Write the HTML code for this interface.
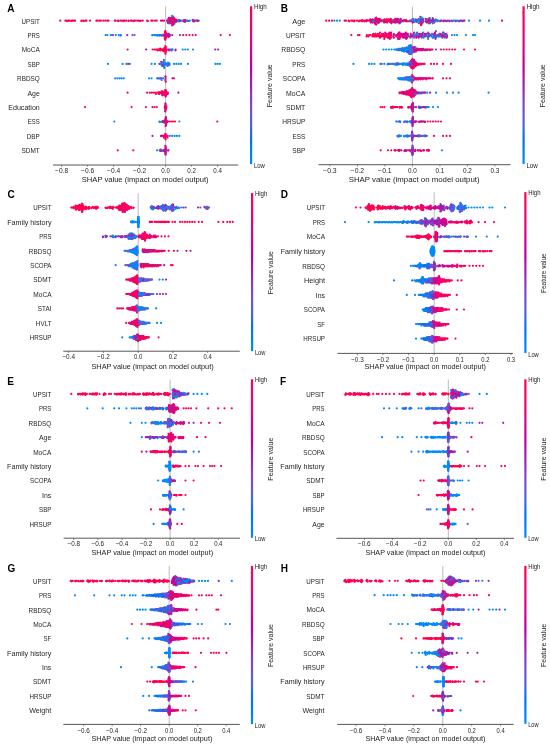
<!DOCTYPE html><html><head><meta charset="utf-8"><style>html,body{margin:0;padding:0;background:#fff;}svg{display:block;filter:blur(0.3px);} text{font-family:"Liberation Sans",sans-serif;} path{stroke-width:2.20px;stroke-linecap:round;fill:none;}</style></head><body>
<svg width="550" height="748" viewBox="0 0 550 748">
<defs><linearGradient id="cb" x1="0" y1="1" x2="0" y2="0">
<stop offset="0.000" stop-color="#008bfb"/>
<stop offset="0.050" stop-color="#0084f8"/>
<stop offset="0.100" stop-color="#007cf5"/>
<stop offset="0.150" stop-color="#0074f0"/>
<stop offset="0.200" stop-color="#266cea"/>
<stop offset="0.250" stop-color="#4c63e3"/>
<stop offset="0.300" stop-color="#6459da"/>
<stop offset="0.350" stop-color="#764ed0"/>
<stop offset="0.400" stop-color="#8542c5"/>
<stop offset="0.450" stop-color="#9233b9"/>
<stop offset="0.500" stop-color="#9d22ac"/>
<stop offset="0.550" stop-color="#aa17a7"/>
<stop offset="0.600" stop-color="#b900a0"/>
<stop offset="0.650" stop-color="#c70098"/>
<stop offset="0.700" stop-color="#d40090"/>
<stop offset="0.750" stop-color="#df0086"/>
<stop offset="0.800" stop-color="#e9007c"/>
<stop offset="0.850" stop-color="#f10072"/>
<stop offset="0.900" stop-color="#f80067"/>
<stop offset="0.950" stop-color="#fe005c"/>
<stop offset="1.000" stop-color="#ff0051"/>
</linearGradient></defs>
<rect width="550" height="748" fill="#fff"/>
<line x1="53.00" y1="20.70" x2="238.20" y2="20.70" stroke="#e6e6e6" stroke-width="0.4" stroke-dasharray="0.4 2.2"/>
<line x1="53.00" y1="35.10" x2="238.20" y2="35.10" stroke="#e6e6e6" stroke-width="0.4" stroke-dasharray="0.4 2.2"/>
<line x1="53.00" y1="49.50" x2="238.20" y2="49.50" stroke="#e6e6e6" stroke-width="0.4" stroke-dasharray="0.4 2.2"/>
<line x1="53.00" y1="63.90" x2="238.20" y2="63.90" stroke="#e6e6e6" stroke-width="0.4" stroke-dasharray="0.4 2.2"/>
<line x1="53.00" y1="78.30" x2="238.20" y2="78.30" stroke="#e6e6e6" stroke-width="0.4" stroke-dasharray="0.4 2.2"/>
<line x1="53.00" y1="92.70" x2="238.20" y2="92.70" stroke="#e6e6e6" stroke-width="0.4" stroke-dasharray="0.4 2.2"/>
<line x1="53.00" y1="107.10" x2="238.20" y2="107.10" stroke="#e6e6e6" stroke-width="0.4" stroke-dasharray="0.4 2.2"/>
<line x1="53.00" y1="121.50" x2="238.20" y2="121.50" stroke="#e6e6e6" stroke-width="0.4" stroke-dasharray="0.4 2.2"/>
<line x1="53.00" y1="135.90" x2="238.20" y2="135.90" stroke="#e6e6e6" stroke-width="0.4" stroke-dasharray="0.4 2.2"/>
<line x1="53.00" y1="150.30" x2="238.20" y2="150.30" stroke="#e6e6e6" stroke-width="0.4" stroke-dasharray="0.4 2.2"/>
<line x1="165.60" y1="6.50" x2="165.60" y2="165.00" stroke="#aaaaaa" stroke-width="0.8"/>
<path stroke="#008bfb" d="M168 22.7h0m.8-4h0m.3 4h0m.6-1.6h0m1-3.2h0m0 4h0m3.5 1.2h0m4.6-1.6h0m2.7-.8h0m15.6-.4h0m1.7 .4h0"/>
<path stroke="#e50080" d="M122 20.7h0m4.3 0h0m2.4 0h0m10 0h0m1.2 .4h0m22.6-.4h0m7.6 1.2h0m1.9-.4h0m.9 .4h0m.3-4.4h0m2.7 4.4h0"/>
<path stroke="#a01fab" d="M168.6 19.9h0m2.4 1.6h0m1.4 1.6h0"/>
<path stroke="#6c54d6" d="M170.1 18.3h0m.6 4.4h0m1 .8h0m.1-2.4h0m.4-4.8h0m11.4 5.2h0m9.2-1.6h0"/>
<path stroke="#ff0051" d="M69.5 20.7h0m2.4 0h0m11.7 0h0m12.8 0h0m27.6 0h0m.7 0h0m7.1 0h0m3.3 0h0m12 0h0m5.6 0h0m2.3 0h0m12.9 .8h0m2.3 1.6h0m4.2-4.8h0m19.2 3.2h0"/>
<path stroke="#e50080" d="M118 20.7h0m43 0h0m6 0h0m1.8-.4h0m.5-2.4h0m.8 1.6h0m.1 .4h0m.4 3.2h0m.7-3.2h0m1.1 3.6h0m1.4-3.2h0m.4 .4h0m2.1 0h0m2.5 0h0"/>
<path stroke="#a01fab" d="M171.1 18.3h0m3.9 4h0m13.7-1.2h0"/>
<path stroke="#ff0051" d="M60.3 20.7h0m8.2 0h0m2.6 .4h0m26.7-.4h0m3.1 0h0m2.4 0h0m3.9 0h0m11.1 .4h0m15 0h0m.7-.4h0m13.9 .4h0m22.5-2.4h0m0 1.6h0m2.8-3.2h0m2.9 4h0m10.7-.4h0m7.6 .4h0"/>
<path stroke="#6c54d6" d="M170.6 22.3h0m25-1.6h0"/>
<path stroke="#008bfb" d="M169.3 19.1h0m3.7 5.6h0m.5-2.8h0m.7 2h0m1.1-4h0m1.1 1.6h0m1.8-.8h0m6.9 1.2h0m2.2-1.2h0m2.4 0h0m3.3 .4h0"/>
<path stroke="#008bfb" d="M169.1 23.5h0m.2-2h0m3.2 2.4h0m.2-2.8h0m.2-.8h0m.3-2.4h0m.7 .8h0m.2 3.6h0m3.5-1.2h0"/>
<path stroke="#a01fab" d="M171.3 19.5h0m12.5 .8h0"/>
<path stroke="#6c54d6" d="M168.6 21.1h0m3.5 4.4h0m.6-6.8h0m1 4h0m0-2.8h0m1.1 .4h0m5.1 0h0m12.7 0h0m4.4 .4h0"/>
<path stroke="#e50080" d="M120.2 20.7h0m16.9 0h0m31.2-1.2h0m2.9 1.2h0m.1-2h0m.6 4h0m.1-2.8h0m.2 2.4h0m.7 2h0m2-3.2h0m.1-.4h0m1.6-.8h0m21.2 1.2h0"/>
<path stroke="#ff0051" d="M66.8 20.7h0m7.3 0h0m7.6 0h0m2.1 .4h0m2.6-.4h0m13.2 0h0m15.2 0h0m1 0h0m7.4 .4h0m7.7-.4h0m25.8 0h0m14.8-1.6h0m12.8 2h0m9.1-.4h0"/>
<path stroke="#a01fab" d="M173.1 19.5h0m3.1 .8h0m3.8 .8h0m3.4-.4h0"/>
<path stroke="#6c54d6" d="M167.8 21.9h0m.3 1.2h0m.5-2.4h0m10.4-.8h0m6.1 0h0"/>
<path stroke="#008bfb" d="M172.3 15.9h0m.5 4.8h0m.1-4h0m12.1 3.6h0"/>
<path stroke="#e50080" d="M128.5 21.1h0m14.2-.4h0m21.3 0h0m3.9 1.6h0m.8-3.2h0m1 3.2h0m.3-1.6h0m3-1.6h0m.1-.8h0m.3 3.2h0m.2-3.6h0m.1 3.2h0m2.1 .4h0m8.8 0h0m9.7-.8h0"/>
<path stroke="#ff0051" d="M65.4 20.7h0m1.9 .4h0m5.5-.4h0m2.2 0h0m6.4 .4h0m4.3-.4h0m4.4 0h0m15.1 0h0m3.4 0h0m32.3 0h0m10.4 0h0m17.5-2.4h0m3.6 6.8h0m1.2-1.6h0m.2-4h0m.6-.4h0m.7 .4h0m9.5 1.2h0m.3 .4h0"/>
<path stroke="#008bfb" d="M110.7 35.1h0m41.5 0h0m4.9 .6h0"/>
<path stroke="#a01fab" d="M127.3 35.1h0m38.3 3.5h0m6.6-3.5h0"/>
<path stroke="#6c54d6" d="M115.8 35.1h0m18.7 0h0"/>
<path stroke="#ff0051" d="M160.9 35.1h0m4.1 4h0m0-7.5h0m1 4.1h0m17.1-.6h0"/>
<path stroke="#e50080" d="M159.2 35.1h0m5.5 2.9h0m1-1.2h0m30-1.7h0"/>
<path stroke="#e50080" d="M165.6 35.7h0m.1-1.8h0m.3 1.2h0m.4 1.2h0m.6-1.8h0"/>
<path stroke="#a01fab" d="M163.2 34.5h0m5.4 2.3h0m11.4-1.7h0"/>
<path stroke="#ff0051" d="M168.9 35.7h0m.4-1.2h0m.3 1.8h0"/>
<path stroke="#6c54d6" d="M158.4 35.1h0m3.3 .6h0m1.9-.6h0"/>
<path stroke="#008bfb" d="M113.1 35.1h0m7.9 0h0m31.7 0h0m1.7 0h0"/>
<path stroke="#6c54d6" d="M112.1 35.1h0m20.3 0h0"/>
<path stroke="#e50080" d="M165.2 39.7h0m.2-6.3h0m0 2.9h0m2.5-.6h0"/>
<path stroke="#ff0051" d="M163.3 35.7h0m2.5-2.9h0m.5 4h0m3.6-1.7h0"/>
<path stroke="#008bfb" d="M105.6 35.1h0m14.7 .6h0m34.7-.6h0m1.6 0h0m2.9 .6h0m.4-.6h0"/>
<path stroke="#a01fab" d="M165.3 35.1h0m3.4-1.2h0"/>
<path stroke="#ff0051" d="M165.1 32.2h0m.4-1.1h0m.4 6.3h0m.8-3.5h0m1 .6h0m53 .6h0m9.2 0h0"/>
<path stroke="#e50080" d="M164.4 35.7h0m.9-1.2h0m2.9 1.8h0m18.1-1.2h0m3.1 0h0m3.2 0h0"/>
<path stroke="#6c54d6" d="M162.2 35.1h0"/>
<path stroke="#a01fab" d="M167.4 35.1h0m1.6 0h0"/>
<path stroke="#008bfb" d="M107.3 35.1h0m11.4 0h0"/>
<path stroke="#008bfb" d="M172.6 49.5h0m15.3 0h0"/>
<path stroke="#a01fab" d="M169 49.5h0"/>
<path stroke="#e50080" d="M160.4 49.5h0"/>
<path stroke="#ff0051" d="M154.3 49.5h0m1.6 0h0m.9 0h0m.9 0h0m5.3 0h0m1.7 0h0m.1-1.7h0m.6 1.7h0m.1-3.5h0"/>
<path stroke="#ff0051" d="M127.6 49.5h0m30.1 .9h0m1.4-.9h0m1-.9h0m1.5 .9h0m3.1-.9h0m.9 0h0m.2-.8h0m0 3.4h0"/>
<path stroke="#e50080" d="M146.1 49.5h0"/>
<path stroke="#a01fab" d="M169.1 50.4h0m6.4 0h0m.1-.9h0m39.6 0h0"/>
<path stroke="#ff0051" d="M158.4 49.5h0m1.8 .9h0m3.4-1.8h0m.5 1.8h0m.8 .8h0m.6 .9h0m.1-5.2h0m1 2.6h0"/>
<path stroke="#a01fab" d="M168 49.5h0m50.1 0h0"/>
<path stroke="#6c54d6" d="M170 49.5h0"/>
<path stroke="#008bfb" d="M171.3 49.5h0m11.4 0h0"/>
<path stroke="#ff0051" d="M152.6 49.5h0m8.4 0h0m1.5 .9h0m1.3 .8h0m.1-1.7h0m1 .9h0m.5 3.4h0m.2-.8h0m.2-2.6h0m.4 0h0"/>
<path stroke="#a01fab" d="M171.4 50.4h0"/>
<path stroke="#008bfb" d="M172.3 49.5h0m13 0h0m7.7 0h0"/>
<path stroke="#6c54d6" d="M164.2 67h0"/>
<path stroke="#008bfb" d="M107.9 63.9h0m14.7 0h0m3.8 0h0m35.2 1h0m1-2h0m1.2 3.1h0m.3 2h0m.6-3.1h0m1.5-1h0m1.4 0h0m.1-1h0"/>
<path stroke="#a01fab" d="M159.4 63.9h0"/>
<path stroke="#6c54d6" d="M161.4 63.9h0m3-1h0"/>
<path stroke="#008bfb" d="M155 63.9h0m5.9 0h0m1.3-1h0m0 3.1h0m1.8-5.2h0m.9 2.1h0m.1 1h0m4.6 0h0m6.7 0h0"/>
<path stroke="#008bfb" d="M162.6 66h0m.4-2.1h0m.3 1h0m4.9 0h0m1.2 0h0m11.6-1h0m34.5 0h0m2.2 0h0"/>
<path stroke="#6c54d6" d="M163.5 61.8h0m5.4 2.1h0"/>
<path stroke="#a01fab" d="M161.2 61.8h0m1.7 3.1h0"/>
<path stroke="#ff0051" d="M128.2 63.9h0"/>
<path stroke="#008bfb" d="M129.9 63.9h0m21.7 0h0m12.3-4.1h0m2.8 5.1h0m1.9-2h0m5.4 1h0m4.7 0h0m9.2 0h0m32 0h0"/>
<path stroke="#6c54d6" d="M163.8 63.9h0m3.9 2.1h0"/>
<path stroke="#008bfb" d="M115.2 78.3h0m4.3 0h0m2.1 0h0m2.2 0h0m25.2 0h0m2.6 0h0"/>
<path stroke="#e50080" d="M165.6 78.3h0m.1 3.5h0"/>
<path stroke="#008bfb" d="M117.4 78.3h0m40.5 0h0m1.1 0h0"/>
<path stroke="#a01fab" d="M174 78.3h0"/>
<path stroke="#e50080" d="M165.2 76.6h0m.3 3.4h0m.2-3.4h0m6.7 1.7h0"/>
<path stroke="#008bfb" d="M163.1 78.3h0"/>
<path stroke="#6c54d6" d="M165.2 80h0"/>
<path stroke="#008bfb" d="M159.6 78.3h0m1 0h0m1.1 0h0"/>
<path stroke="#6c54d6" d="M157.1 78.3h0m3.9 0h0m.7 1.7h0"/>
<path stroke="#e50080" d="M159 92.7h0m2.4 0h0m2.9 1.3h0m.9-2.6h0m.1 3.9h0m.3-3.9h0m.6 2.6h0"/>
<path stroke="#ff0051" d="M149.9 92.7h0m2 0h0m4 0h0m5.7-1.3h0m.5 0h0m3.1-1.3h0"/>
<path stroke="#008bfb" d="M159.4 94h0"/>
<path stroke="#e50080" d="M159.5 92.7h0m1.3 0h0m1.8 0h0m.9 1.3h0m1.6 0h0"/>
<path stroke="#ff0051" d="M147.1 92.7h0m15.2 0h0m.9 0h0m2.5-2.6h0m.4 5.2h0m.8-2.6h0m.3 0h0"/>
<path stroke="#e50080" d="M158.3 92.7h0m4 2.6h0m.8-1.3h0m.8-1.3h0m1.3 0h0m.5 1.3h0m.4-1.3h0"/>
<path stroke="#a01fab" d="M178.4 92.7h0"/>
<path stroke="#ff0051" d="M127.6 92.7h0m26.4 0h0m4.8 1.3h0m5.5-2.6h0m1.2 3.9h0"/>
<path stroke="#e50080" d="M161.8 94h0m.4 0h0m2.3-1.3h0m1.2 3.9h0m.3-5.2h0m1.7 2.6h0m.2-1.3h0"/>
<path stroke="#ff0051" d="M156 94h0m2-1.3h0m1.9 0h0m4.3 2.6h0m1.3-2.6h0m1.9 1.3h0"/>
<path stroke="#ff0051" d="M85 107.1h0m69.6 0h0m10.6 4.4h0m1.2-5.1h0"/>
<path stroke="#a01fab" d="M165.3 110.8h0"/>
<path stroke="#ff0051" d="M131.6 107.1h0m20.9 0h0m13.3 2.2h0"/>
<path stroke="#a01fab" d="M164.7 107.1h0m.1 .7h0m1.3 .8h0"/>
<path stroke="#ff0051" d="M165.3 108.6h0m.2-2.2h0m.7 1.4h0"/>
<path stroke="#a01fab" d="M165.4 105.6h0m0-2.2h0m.3 .7h0"/>
<path stroke="#ff0051" d="M146 107.1h0m10.8 0h0m8.5-2.2h0m0 5.2h0m.8-3h0"/>
<path stroke="#a01fab" d="M165.8 107.8h0"/>
<path stroke="#008bfb" d="M159.3 121.5h0m3.6-.6h0"/>
<path stroke="#ff0051" d="M163.6 121.5h0m2.1-1.3h0m7.3 1.3h0"/>
<path stroke="#a01fab" d="M165.8 118.3h0"/>
<path stroke="#e50080" d="M165.5 122.1h0m.2-5.1h0m.3 8.4h0m.3-2.6h0"/>
<path stroke="#e50080" d="M165.2 121.5h0m.1-.6h0m.6 1.9h0"/>
<path stroke="#a01fab" d="M163.8 122.1h0m2.2-4.5h0m.1 3.9h0"/>
<path stroke="#ff0051" d="M169.1 121.5h0"/>
<path stroke="#008bfb" d="M114.3 121.5h0m47.9 .6h0m2.3 .7h0"/>
<path stroke="#a01fab" d="M165.2 122.1h0m.2-1.2h0m0 5.1h0m.5-6.4h0"/>
<path stroke="#e50080" d="M163.1 121.5h0m4 0h0"/>
<path stroke="#ff0051" d="M165.1 120.2h0m6 1.3h0m3.9 0h0m42.3 0h0"/>
<path stroke="#e50080" d="M165.5 118.9h0m.7 5.2h0"/>
<path stroke="#008bfb" d="M160 122.1h0m1.6-.6h0m17.7 0h0"/>
<path stroke="#a01fab" d="M166 124.7h0"/>
<path stroke="#ff0051" d="M163.1 122.1h0m2.8 1.3h0m.9-2.5h0m.4 1.2h0"/>
<path stroke="#ff0051" d="M167.6 137.6h0"/>
<path stroke="#008bfb" d="M172.2 135.9h0m2.4 0h0m4.7 0h0"/>
<path stroke="#e50080" d="M163.7 135.9h0m1.9-1.7h0"/>
<path stroke="#008bfb" d="M176.9 135.9h0"/>
<path stroke="#ff0051" d="M161 135.9h0m1.5 0h0m.4 0h0"/>
<path stroke="#e50080" d="M164 137.6h0m.7-1.7h0"/>
<path stroke="#e50080" d="M164.4 137.6h0m1.2-1.7h0m1 0h0"/>
<path stroke="#ff0051" d="M161.7 135.9h0m3.5-1.7h0"/>
<path stroke="#a01fab" d="M152.5 135.9h0"/>
<path stroke="#e50080" d="M161.4 135.9h0m2.6 0h0m1.3 0h0m.3 3.5h0m.1-1.8h0"/>
<path stroke="#008bfb" d="M169.8 135.9h0"/>
<path stroke="#ff0051" d="M167.6 135.9h0"/>
<path stroke="#e50080" d="M160.6 150.3h0m4.7-4.4h0m.1 5.1h0m.2-4.4h0m.5 2.2h0m.1 2.2h0"/>
<path stroke="#a01fab" d="M165.6 154h0"/>
<path stroke="#008bfb" d="M157.1 150.3h0"/>
<path stroke="#ff0051" d="M133.3 150.3h0"/>
<path stroke="#a01fab" d="M165.4 152.5h0m.3 2.2h0m.4-4.4h0"/>
<path stroke="#ff0051" d="M117.8 150.3h0m42.5 .7h0m4.1-.7h0m4.1 0h0"/>
<path stroke="#e50080" d="M165.2 151.8h0"/>
<path stroke="#008bfb" d="M159.6 150.3h0"/>
<path stroke="#ff0051" d="M164 150.3h0"/>
<path stroke="#a01fab" d="M166.2 151.8h0"/>
<path stroke="#008bfb" d="M163.4 151h0"/>
<path stroke="#e50080" d="M160.6 149.6h0m1.1 1.4h0m1.7-.7h0m2-1.5h0m.2-.7h0m.5 1.5h0"/>
<path stroke="#e50080" d="M164.6 151h0m.7 2.3h0m.2-3.7h0m2.6 .7h0"/>
<path stroke="#008bfb" d="M162.1 150.3h0m4.3 0h0"/>
<path stroke="#a01fab" d="M165.1 150.3h0m.4-3h0m.6 3.7h0"/>
<text x="39.80" y="23.55" font-size="7.50" text-anchor="end" font-weight="normal" fill="#262626" textLength="18.26" lengthAdjust="spacingAndGlyphs">UPSIT</text>
<text x="39.80" y="37.95" font-size="7.50" text-anchor="end" font-weight="normal" fill="#262626" textLength="12.27" lengthAdjust="spacingAndGlyphs">PRS</text>
<text x="39.80" y="52.35" font-size="7.50" text-anchor="end" font-weight="normal" fill="#262626" textLength="18.14" lengthAdjust="spacingAndGlyphs">MoCA</text>
<text x="39.80" y="66.75" font-size="7.50" text-anchor="end" font-weight="normal" fill="#262626" textLength="12.22" lengthAdjust="spacingAndGlyphs">SBP</text>
<text x="39.80" y="81.15" font-size="7.50" text-anchor="end" font-weight="normal" fill="#262626" textLength="22.69" lengthAdjust="spacingAndGlyphs">RBDSQ</text>
<text x="39.80" y="95.55" font-size="7.50" text-anchor="end" font-weight="normal" fill="#262626" textLength="12.28" lengthAdjust="spacingAndGlyphs">Age</text>
<text x="39.80" y="109.95" font-size="7.50" text-anchor="end" font-weight="normal" fill="#262626" textLength="31.61" lengthAdjust="spacingAndGlyphs">Education</text>
<text x="39.80" y="124.35" font-size="7.50" text-anchor="end" font-weight="normal" fill="#262626" textLength="12.07" lengthAdjust="spacingAndGlyphs">ESS</text>
<text x="39.80" y="138.75" font-size="7.50" text-anchor="end" font-weight="normal" fill="#262626" textLength="13.08" lengthAdjust="spacingAndGlyphs">DBP</text>
<text x="39.80" y="153.15" font-size="7.50" text-anchor="end" font-weight="normal" fill="#262626" textLength="18.28" lengthAdjust="spacingAndGlyphs">SDMT</text>
<text x="7.30" y="11.60" font-size="10.00" text-anchor="start" font-weight="bold" fill="#000">A</text>
<line x1="53.00" y1="165.00" x2="238.20" y2="165.00" stroke="#444" stroke-width="0.9"/>
<line x1="61.60" y1="165.00" x2="61.60" y2="166.80" stroke="#444" stroke-width="0.6"/>
<text x="61.60" y="173.18" font-size="6.60" text-anchor="middle" font-weight="normal" fill="#262626" textLength="13.11" lengthAdjust="spacingAndGlyphs">−0.8</text>
<line x1="87.60" y1="165.00" x2="87.60" y2="166.80" stroke="#444" stroke-width="0.6"/>
<text x="87.60" y="173.18" font-size="6.60" text-anchor="middle" font-weight="normal" fill="#262626" textLength="13.11" lengthAdjust="spacingAndGlyphs">−0.6</text>
<line x1="113.60" y1="165.00" x2="113.60" y2="166.80" stroke="#444" stroke-width="0.6"/>
<text x="113.60" y="173.18" font-size="6.60" text-anchor="middle" font-weight="normal" fill="#262626" textLength="13.11" lengthAdjust="spacingAndGlyphs">−0.4</text>
<line x1="139.60" y1="165.00" x2="139.60" y2="166.80" stroke="#444" stroke-width="0.6"/>
<text x="139.60" y="173.18" font-size="6.60" text-anchor="middle" font-weight="normal" fill="#262626" textLength="13.11" lengthAdjust="spacingAndGlyphs">−0.2</text>
<line x1="165.60" y1="165.00" x2="165.60" y2="166.80" stroke="#444" stroke-width="0.6"/>
<text x="165.60" y="173.18" font-size="6.60" text-anchor="middle" font-weight="normal" fill="#262626" textLength="8.59" lengthAdjust="spacingAndGlyphs">0.0</text>
<line x1="191.60" y1="165.00" x2="191.60" y2="166.80" stroke="#444" stroke-width="0.6"/>
<text x="191.60" y="173.18" font-size="6.60" text-anchor="middle" font-weight="normal" fill="#262626" textLength="8.59" lengthAdjust="spacingAndGlyphs">0.2</text>
<line x1="217.60" y1="165.00" x2="217.60" y2="166.80" stroke="#444" stroke-width="0.6"/>
<text x="217.60" y="173.18" font-size="6.60" text-anchor="middle" font-weight="normal" fill="#262626" textLength="8.59" lengthAdjust="spacingAndGlyphs">0.4</text>
<text x="81.80" y="182.03" font-size="7.30" text-anchor="start" font-weight="normal" fill="#222" textLength="126.80" lengthAdjust="spacingAndGlyphs">SHAP value (impact on model output)</text>
<rect x="250.00" y="6.30" width="2.2" height="157.70" fill="url(#cb)"/>
<text x="253.90" y="8.98" font-size="6.60" text-anchor="start" font-weight="normal" fill="#1a1a1a" textLength="12.87" lengthAdjust="spacingAndGlyphs">High</text>
<text x="253.90" y="167.68" font-size="6.60" text-anchor="start" font-weight="normal" fill="#1a1a1a" textLength="11.03" lengthAdjust="spacingAndGlyphs">Low</text>
<text x="0" y="0" font-size="7.0" text-anchor="middle" fill="#222" transform="translate(272.10 85.75) rotate(-90)" textLength="43.00" lengthAdjust="spacingAndGlyphs">Feature value</text>
<line x1="318.50" y1="20.70" x2="510.50" y2="20.70" stroke="#e6e6e6" stroke-width="0.4" stroke-dasharray="0.4 2.2"/>
<line x1="318.50" y1="35.10" x2="510.50" y2="35.10" stroke="#e6e6e6" stroke-width="0.4" stroke-dasharray="0.4 2.2"/>
<line x1="318.50" y1="49.50" x2="510.50" y2="49.50" stroke="#e6e6e6" stroke-width="0.4" stroke-dasharray="0.4 2.2"/>
<line x1="318.50" y1="63.90" x2="510.50" y2="63.90" stroke="#e6e6e6" stroke-width="0.4" stroke-dasharray="0.4 2.2"/>
<line x1="318.50" y1="78.30" x2="510.50" y2="78.30" stroke="#e6e6e6" stroke-width="0.4" stroke-dasharray="0.4 2.2"/>
<line x1="318.50" y1="92.70" x2="510.50" y2="92.70" stroke="#e6e6e6" stroke-width="0.4" stroke-dasharray="0.4 2.2"/>
<line x1="318.50" y1="107.10" x2="510.50" y2="107.10" stroke="#e6e6e6" stroke-width="0.4" stroke-dasharray="0.4 2.2"/>
<line x1="318.50" y1="121.50" x2="510.50" y2="121.50" stroke="#e6e6e6" stroke-width="0.4" stroke-dasharray="0.4 2.2"/>
<line x1="318.50" y1="135.90" x2="510.50" y2="135.90" stroke="#e6e6e6" stroke-width="0.4" stroke-dasharray="0.4 2.2"/>
<line x1="318.50" y1="150.30" x2="510.50" y2="150.30" stroke="#e6e6e6" stroke-width="0.4" stroke-dasharray="0.4 2.2"/>
<line x1="412.40" y1="6.50" x2="412.40" y2="164.70" stroke="#aaaaaa" stroke-width="0.8"/>
<path stroke="#a01fab" d="M396.7 22h0m22.3 1.3h0m9.9 0h0m6.4-3.2h0m8.4 .6h0m15.4 .6h0m2.5-.6h0"/>
<path stroke="#e50080" d="M369.6 20.1h0m1.6 0h0m.5 1.9h0m12.4 .6h0m1-.6h0m8.3-.7h0m2.5 0h0m.3-1.9h0m.8-.6h0m.5 3.2h0m.3-1.3h0m2.3-.6h0m.7 1.2h0m19.2 .7h0m.6 1.3h0m0-4.5h0m5.3 2.5h0m7.6 0h0"/>
<path stroke="#ff0051" d="M344.6 20.7h0m1.4 0h0m2.5 0h0m2.7 0h0m12.7 0h0m6.4 .6h0m5.9 3.3h0m3.4-3.9h0m2-.6h0m.9 .6h0m1.4 .6h0m.6-1.9h0m2 .7h0m.7 2.5h0m4.3 .7h0m1.7-3.2h0m7.3-.7h0m17.8 0h0m14 1.3h0m.3-2.6h0m69.4 2.6h0"/>
<path stroke="#6c54d6" d="M428.2 20.1h0m.2 2.5h0m13.3-1.9h0"/>
<path stroke="#008bfb" d="M334.4 20.7h0m5.4 0h0m32.6 .6h0m3.5 0h0m4.8 0h0m5-.6h0m7.5 0h0m1.4 0h0m8.7 .6h0m.8-.6h0m8.2-1.3h0m4.1 2.6h0m3.5 .6h0m2.3-.6h0m.9-1.3h0m.2-1.9h0m7.3 3.8h0m2-1.9h0m.4-1.9h0m36 1.9h0"/>
<path stroke="#6c54d6" d="M417 21.3h0m.3 .7h0m3.8 1.9h0"/>
<path stroke="#e50080" d="M366.5 21.3h0m.5-1.2h0m3.9 2.5h0m.1-.6h0m1.7 .6h0m0-3.2h0m2.8 4.5h0m.7-4.5h0m1 2.6h0m.7-3.2h0m1.8 0h0m3.7 1.9h0m3.6 1.3h0m4-2.6h0m4.5 0h0m2 0h0m7.1 1.3h0m1.5-.6h0m4.6 .6h0m1.4 .6h0m2.7-.6h0m5.5-.6h0m2.5 2.5h0"/>
<path stroke="#008bfb" d="M337.1 20.7h0m44.9 .6h0m7.1-1.2h0m24 1.9h0m2-.7h0m6.6-3.8h0m4.2 1.9h0m3.8 1.3h0m6.4 0h0m2.5 0h0m10.6 0h0m6.9 0h0"/>
<path stroke="#a01fab" d="M366.1 20.7h0m23.3 0h0m1.6 0h0m4.6-.6h0m4.9-1.3h0m15.1 .6h0m1.3 .7h0m4.6 .6h0m8.4-1.3h0m1.8 1.9h0m1.7-1.2h0m1.1 1.2h0m21.3 0h0"/>
<path stroke="#ff0051" d="M354.1 21.3h0m10.1 0h0m10.5-1.2h0m1.8 1.2h0m.5 1.3h0m3.9-1.9h0m3.2-.6h0m1 1.2h0m.4 .7h0m6.4 0h0m.1-.7h0m3 1.3h0m4.8 .7h0m2.2-2h0m3.9 0h0m1 0h0m14.4 3.3h0m5.5-2h0m3.7-2.5h0"/>
<path stroke="#6c54d6" d="M412.9 20.7h0m.1-1.9h0m1 1.3h0m6.8 1.9h0m1.4 1.3h0m17.9-2h0m17.8-.6h0m4.6 .6h0"/>
<path stroke="#e50080" d="M370.6 20.7h0m3.7 1.3h0m2.9-1.9h0m1.8 0h0m.4-.7h0m8.6 .7h0m2 1.9h0m.5-3.2h0m6.1 1.9h0m5.4 0h0m8 .6h0m3.9 .7h0m6.7-.7h0m.5 3.9h0m.1-5.8h0m7.1-.6h0m.4 .6h0m3.9 2.6h0m4.2-1.9h0"/>
<path stroke="#a01fab" d="M371.9 20.7h0m2.8 1.9h0m.5-1.9h0m3.9 1.3h0m12 .6h0m2.8-1.3h0m2 1.3h0m22.9-3.2h0m1.5-2.6h0m6.1 3.9h0m3.5 .6h0m16.4 0h0m1.2-.6h0m2 .6h0m10.7-.6h0m3.2 0h0"/>
<path stroke="#008bfb" d="M398.9 20.1h0m2.1 1.9h0m8.6-1.3h0m5.6 0h0m4 .6h0m7-1.2h0m9.6-.7h0m1.6 1.9h0m14.8 0h0m2.6-.6h0"/>
<path stroke="#ff0051" d="M326.2 20.7h0m2.9 0h0m23.6 0h0m2.1 0h0m7.2-.6h0m.1 1.2h0m12-.6h0m1 1.3h0m1.1-4.5h0m3 3.8h0m1-1.2h0m6.9-.7h0m.6 1.9h0m5.9 .7h0m3.3-1.9h0m32.7 1.9h0"/>
<path stroke="#a01fab" d="M374 20.1h0m24 1.2h0m10.1 0h0m19.4 .7h0m1-1.3h0m4.4-1.3h0m1.4 3.2h0m6.4-1.9h0m2.7 .6h0m1.7-.6h0m6.3 0h0m13 0h0"/>
<path stroke="#008bfb" d="M373.4 21.3h0m4.6 2h0m22.1-.7h0m13.1-2.5h0m.2 1.2h0m1.7-1.2h0m3 .6h0m1 0h0m0-.6h0m.2-1.3h0m2-.7h0m.7 1.3h0m1.7 1.9h0m6.2 2h0m.2-4.5h0m1.9 3.2h0m2.3 0h0m45.7-1.3h0m9 0h0"/>
<path stroke="#e50080" d="M357 20.7h0m8.2 0h0m5.1-1.3h0m4.4 3.9h0m.8-4.5h0m0-.7h0m1 1.3h0m1.5 1.3h0m.9 1.9h0m11.9-2.5h0m3.8 1.9h0m.6-3.2h0m2.8 0h0m.2 3.8h0m1.3-.6h0m.6-1.3h0m.9-.6h0m22 0h0m2.7-1.3h0m2.3 2.5h0m4.4-1.2h0"/>
<path stroke="#6c54d6" d="M429.5 18.1h0m3.3 5.2h0m20.6-2.6h0"/>
<path stroke="#ff0051" d="M332 20.7h0m17.2 .6h0m9.8 0h0m.3-.6h0m1.6 0h0m7.2 0h0m18.3-1.3h0m1.9 1.3h0m.6-1.3h0m1.1 1.9h0m14.1-1.2h0m2.3 .6h0m6.2 1.9h0m8.6 0h0m5.1-.6h0"/>
<path stroke="#d9008c" d="M399.8 36.4h0"/>
<path stroke="#9233b9" d="M410.7 35.1h0"/>
<path stroke="#f80067" d="M397.8 35.1h0"/>
<path stroke="#ff0051" d="M358 35.1h0m8.6 1.3h0m1.9 0h0m3.9 0h0m.4-1.3h0m.5 0h0m2-1.3h0m.2 0h0m3.5 2.6h0m.2-2.6h0m.7 1.3h0m4.3 3.9h0m11.7-3.9h0"/>
<path stroke="#a01fab" d="M414.2 32.5h0m5.5 1.3h0m3.1 0h0m11.9 2.6h0"/>
<path stroke="#6c54d6" d="M412.8 36.4h0m9.7-1.3h0m3.2-1.3h0m1.8 2.6h0m9.1 0h0"/>
<path stroke="#f00074" d="M399.7 32.5h0"/>
<path stroke="#c5009a" d="M398 39h0"/>
<path stroke="#d10091" d="M407 33.8h0m3.3 2.6h0"/>
<path stroke="#ee0076" d="M402.3 35.1h0"/>
<path stroke="#ff0053" d="M387 36.4h0"/>
<path stroke="#e9007c" d="M398.9 32.5h0"/>
<path stroke="#ff0058" d="M386.2 35.1h0"/>
<path stroke="#db008a" d="M389.9 36.4h0"/>
<path stroke="#f6006c" d="M384.5 37.7h0m4.1-3.9h0"/>
<path stroke="#fe005c" d="M391.3 37.7h0"/>
<path stroke="#e50080" d="M389.5 32.5h0m25.1 3.9h0m9.1 0h0m3-2.6h0m3.6 1.3h0m4.8-1.3h0m.4 1.3h0"/>
<path stroke="#df0086" d="M405.7 32.5h0"/>
<path stroke="#008bfb" d="M415.9 35.1h0m7.1-2.6h0m8.8 1.3h0m1.4 2.6h0m9.8-3.9h0m1.1 2.6h0m.6 2.6h0"/>
<path stroke="#e7007e" d="M393.9 35.1h0"/>
<path stroke="#cd0095" d="M407.1 37.7h0"/>
<path stroke="#db008a" d="M393.8 33.8h0"/>
<path stroke="#e10084" d="M390 33.8h0m20.6 0h0"/>
<path stroke="#cd0095" d="M396.3 36.4h0"/>
<path stroke="#ee0076" d="M399 35.1h0"/>
<path stroke="#ca0097" d="M404.7 35.1h0"/>
<path stroke="#a01fab" d="M416.3 37.7h0m1.7-1.3h0m.4-1.3h0m19.9 0h0m5.2-2.6h0m3.5 3.9h0"/>
<path stroke="#f4006e" d="M385.9 36.4h0"/>
<path stroke="#f70069" d="M404.8 37.7h0"/>
<path stroke="#008bfb" d="M416.3 33.8h0m5.3 2.6h0m6.4 1.3h0m7.1-1.3h0m2-1.3h0m.9 1.3h0m4.8-2.6h0m9.2 1.3h0"/>
<path stroke="#fb0063" d="M387.7 37.7h0"/>
<path stroke="#8d39be" d="M410.4 37.7h0"/>
<path stroke="#f80067" d="M380.3 36.4h0"/>
<path stroke="#e9007c" d="M398.5 36.4h0"/>
<path stroke="#df0086" d="M403.1 37.7h0"/>
<path stroke="#d6008e" d="M411.8 36.4h0"/>
<path stroke="#ff0051" d="M370.6 35.1h0m11.4-1.3h0m3.2 2.6h0m6.2-1.3h0"/>
<path stroke="#cf0093" d="M403.9 33.8h0"/>
<path stroke="#e50080" d="M405.6 35.1h0m7.9 0h0m2.9 1.3h0m8.7 0h0m3.9 0h0m5.5-2.6h0m4.1 1.3h0m6.4 1.3h0"/>
<path stroke="#6c54d6" d="M414.2 37.7h0m3.9-3.9h0m1.7 2.6h0m5.1-1.3h0m3.3-2.6h0m.2 2.6h0m5.4 2.6h0m.5-2.6h0m5.1-1.3h0m5 0h0m1.3 1.3h0m1.5 0h0"/>
<path stroke="#c70098" d="M407.4 35.1h0"/>
<path stroke="#f10072" d="M393.3 36.4h0"/>
<path stroke="#fb0063" d="M389 35.1h0"/>
<path stroke="#f4006e" d="M383 35.1h0m16.7-1.3h0"/>
<path stroke="#d40090" d="M402.2 36.4h0m2.4 0h0"/>
<path stroke="#ff0058" d="M380 37.7h0m4.7-2.6h0"/>
<path stroke="#e7007e" d="M389.8 39h0"/>
<path stroke="#008bfb" d="M419.5 35.1h0m8.6-1.3h0m0 5.2h0m.8-3.9h0m12.9 0h0m4.6 0h0m8.1 0h0m2.5 0h0m9 0h0m7 0h0m2 0h0"/>
<path stroke="#ff005a" d="M385.3 33.8h0"/>
<path stroke="#ff0051" d="M359.5 35.1h0m13.7-1.3h0m1.6 1.3h0m1.2 0h0m.1 1.3h0m1.5-2.6h0m4.1 2.6h0m6.2 0h0m2.4 0h0"/>
<path stroke="#b00fa5" d="M383.1 36.4h0"/>
<path stroke="#a01fab" d="M442.6 36.4h0m4.1 1.3h0"/>
<path stroke="#ff0056" d="M382.4 35.1h0"/>
<path stroke="#e50080" d="M380 32.5h0m38.7 5.2h0m6.2-3.9h0m8.6 1.3h0m7.1-1.3h0m3.1 2.6h0m2.4-2.6h0"/>
<path stroke="#db008a" d="M393.9 37.7h0m3.2-2.6h0m3.6 1.3h0"/>
<path stroke="#6c54d6" d="M417 32.5h0m.1 2.6h0m4.7 2.6h0m4.7-2.6h0m6.5-1.3h0m2.5 5.2h0m.4-7.8h0m3.4 5.2h0"/>
<path stroke="#cf0093" d="M401.3 33.8h0"/>
<path stroke="#c70098" d="M403.1 33.8h0"/>
<path stroke="#b00fa5" d="M406.3 39h0"/>
<path stroke="#f00074" d="M398.1 37.7h0"/>
<path stroke="#df0086" d="M391 32.5h0m11.7 2.6h0"/>
<path stroke="#fc0061" d="M383.2 33.8h0m7.8 0h0"/>
<path stroke="#ff005a" d="M389.8 37.7h0"/>
<path stroke="#a01fab" d="M412.5 35.1h0m7.6 0h0m2 0h0m2.5 0h0m10.4-2.6h0m.8 5.2h0m5.1-2.6h0m.2 1.3h0"/>
<path stroke="#fe005c" d="M385.2 32.5h0"/>
<path stroke="#e50080" d="M386.6 35.1h0m16.3 1.3h0m10.7-2.6h0m7.1 2.6h0m.7-2.6h0m7.5 0h0m13.6 1.3h0"/>
<path stroke="#ff0051" d="M351.3 35.1h0m15.6 0h0m2.2 0h0m4.9 1.3h0m.9 0h0m1.9-1.3h0m.8 1.3h0m1.3-1.3h0m1.9 1.3h0"/>
<path stroke="#a31daa" d="M408.7 36.4h0"/>
<path stroke="#d6008e" d="M399.5 39h0m6.2-1.3h0"/>
<path stroke="#aa17a7" d="M406.5 36.4h0"/>
<path stroke="#e9007c" d="M386.9 33.8h0m3.1 1.3h0m8-1.3h0"/>
<path stroke="#ca0097" d="M407.8 33.8h0"/>
<path stroke="#6c54d6" d="M423.1 36.4h0m19.2 1.3h0"/>
<path stroke="#008bfb" d="M414.1 35.1h0m9.4 2.6h0m3.8-1.3h0m4 0h0m.3-1.3h0m1.2 2.6h0m7.2-1.3h0"/>
<path stroke="#ff0053" d="M381.3 35.1h0"/>
<path stroke="#cd0095" d="M405.6 33.8h0"/>
<path stroke="#ff0058" d="M388.8 37.7h0"/>
<path stroke="#c5009a" d="M400.9 35.1h0"/>
<path stroke="#9d22ac" d="M407.7 35.1h0"/>
<path stroke="#f4006e" d="M400.1 37.7h0"/>
<path stroke="#a01fab" d="M411.2 48.8h0m2.2 0h0m5.8 1.4h0m2.3-.7h0m11 0h0"/>
<path stroke="#e50080" d="M414.6 49.5h0m7.9 .7h0m4.5 0h0"/>
<path stroke="#6c54d6" d="M396.6 49.5h0m3.5-.7h0m2.2 0h0m1.9 2.9h0m2.3-.7h0m4.4-1.5h0m.5 2.2h0m3.9-.7h0"/>
<path stroke="#ff0051" d="M412 47.3h0m.4 2.9h0m.5 1.5h0m.2-4.4h0m.5 2.9h0m2.7 0h0m1.2 0h0m2.4-.7h0m3.1-.7h0m.2 .7h0m.5 0h0m5.4 0h0m11.9 0h0m8.4 0h0m2.8 0h0"/>
<path stroke="#008bfb" d="M399.2 49.5h0m.3-.7h0m.2 1.4h0m2.5 .8h0m.3-3h0m.3 1.5h0m.5-.7h0m2 0h0m3.1-1.5h0m.3 3.7h0m.6-1.5h0m1.2-4.4h0m.6 8.8h0m.5-4.4h0"/>
<path stroke="#6c54d6" d="M403.7 51h0m1.4-3h0m.9 .8h0m2.5 2.2h0m.5-3h0m.8 3.7h0m.5 2.2h0m.7-5.9h0m.8 0h0m.9 1.5h0m2-2.2h0m.3 .7h0m.8 3.7h0"/>
<path stroke="#a01fab" d="M410 46.5h0m3.9 3h0m.5-.7h0m4.2 1.4h0m2.1-.7h0m9.2 .7h0"/>
<path stroke="#e50080" d="M415.6 50.2h0m3.3-1.4h0m2.2 1.4h0m6.8-.7h0"/>
<path stroke="#ff0051" d="M415.2 48.8h0m1.3 .7h0m11.3 0h0m2.6 0h0m16.2 0h0"/>
<path stroke="#008bfb" d="M383.5 49.5h0m13.4 0h0m1.4 0h0m2.1 0h0m2.7 .7h0m.4-.7h0m.3 .7h0m1 0h0m.1-1.4h0m.6 2.2h0m.2-1.5h0m1 2.2h0m.5-2.2h0m2 3.7h0m.9-3.7h0m.6 3.7h0m.6-5.9h0m.1 4.4h0"/>
<path stroke="#6c54d6" d="M401.8 50.2h0m4.5-2.2h0m0 2.2h0m.8 1.5h0m2.5-5.9h0m.8 1.5h0m.2-.8h0m4.8 .8h0"/>
<path stroke="#ff0051" d="M413.9 51h0m3.8-2.2h0m1.7 .7h0m1.7-.7h0m3 1.4h0"/>
<path stroke="#e50080" d="M412.6 48h0m3.5 3h0m2.2-1.5h0"/>
<path stroke="#a01fab" d="M409.2 52.5h0m.2 1.4h0m.1-7.4h0m1.4 6h0m1.6 0h0m0-3.7h0m1.8 2.9h0m1.5-2.2h0m6.3 .7h0m2.6-.7h0m.8 .7h0"/>
<path stroke="#008bfb" d="M391.6 49.5h0m6.9-.7h0m2.5 1.4h0m3.1-.7h0m.4 1.5h0m1.1-.8h0m.3-.7h0m.9-2.2h0m.1 3.7h0m.9 1.5h0m0-2.3h0m.2-1.4h0m.8-3h0m.1 4.4h0m.9 3h0m.1-2.2h0m.3-2.2h0m1-3h0"/>
<path stroke="#008bfb" d="M386.2 49.5h0m2.7 0h0m5.4 0h0m1.5 0h0m2 .7h0m3.4-1.4h0m.2 .7h0m.2-.7h0m1.4 2.2h0m1.4-3h0m3 0h0m.2 .8h0m.5-.8h0m.1 1.5h0m.9 2.2h0m.3-4.4h0m.6 2.9h0m.5 2.3h0m.3-2.3h0m.1 .8h0m.6 1.5h0"/>
<path stroke="#6c54d6" d="M398.8 50.2h0m2-.7h0m8.7-.7h0m.7-.8h0m1.7 .8h0m0 1.4h0m.5 .8h0m1.3 .7h0m1.8-3.7h0"/>
<path stroke="#ff0051" d="M414.4 51h0m2.9-1.5h0m14.2 0h0m12.3 0h0m11.2 0h0m9 0h0m11 0h0"/>
<path stroke="#e50080" d="M415 50.2h0m11.2-.7h0"/>
<path stroke="#a01fab" d="M408 51.7h0m5.7-3.7h0m.4-.7h0m2.7 1.5h0m3.5 1.4h0m5.6-.7h0m10.1 0h0"/>
<path stroke="#a01fab" d="M410.5 63.9h0m2.5-1h0m.3-2.1h0m.3 .5h0m.4 1h0m0 4.2h0m.2-4.7h0"/>
<path stroke="#ff0051" d="M411.2 66h0m.7 1h0m.7-2.1h0m1-.5h0m.5-4.1h0m3.1 4.1h0m1.8-.5h0m2.1 .5h0m12.9-.5h0"/>
<path stroke="#6c54d6" d="M392.6 63.9h0m12.5 0h0m.4 .5h0m4.1 .5h0m1.3-1h0"/>
<path stroke="#008bfb" d="M384.3 63.9h0m3.2 .5h0m1-.5h0m6.3 0h0m5.9 0h0m.6 0h0m1.8 .5h0m4.5-.5h0m1.4 1.6h0m2.1-4.2h0m.4 4.7h0"/>
<path stroke="#e50080" d="M412.5 63.4h0m.3 5.2h0m.3-8.3h0m.1 4.1h0m1.6-1h0m1.9 .5h0m.1-.5h0m2.7 1h0"/>
<path stroke="#008bfb" d="M381.7 63.9h0m6.2 0h0m5.6 0h0m1.2 .5h0m1.7 .5h0m.2-.5h0m2.6-.5h0m4.9 0h0m.6 .5h0m1.6 0h0m5.3-3.6h0"/>
<path stroke="#e50080" d="M409.4 62.9h0m.1-.6h0m2.1 5.7h0m.7-5.1h0m.2-.6h0m0-2.5h0m1.3 3.6h0m1.8 0h0m.1 .5h0"/>
<path stroke="#ff0051" d="M409.5 64.4h0m1 0h0m.7-3.6h0m.4 3.1h0m.8 3.6h0m.1-5.7h0m.2 .5h0m.2 3.7h0m1.3 0h0m1.5-3.7h0m.1 2.1h0m4.2-.5h0m.7 0h0m2.4 0h0m27.9 0h0"/>
<path stroke="#6c54d6" d="M389.5 63.9h0m1.5 0h0m5.4 0h0m0-.5h0"/>
<path stroke="#a01fab" d="M410.7 63.4h0m3.6-2.6h0"/>
<path stroke="#ff0051" d="M411.2 64.9h0m.6-.5h0m.5-4.1h0m.7 5.2h0m.3-4.2h0m.2 6.2h0m.8-4.6h0m1.1 3.6h0m2.3-2.6h0m6.5 0h0m.3 0h0m6.5 0h0m6 0h0m6 0h0"/>
<path stroke="#e50080" d="M410.8 65.5h0m1.7-6.3h0m2.2 2.6h0m1.6 3.7h0m2-1.1h0"/>
<path stroke="#a01fab" d="M410.2 63.4h0m.4 3.6h0m.2-5.2h0m1.5-.5h0m.4 6.7h0m.8-6.2h0m.8 3.1h0m.3-2h0"/>
<path stroke="#008bfb" d="M353.5 63.9h0m15.5 0h0m29.7 .5h0m4.1 .5h0m.7-1h0m2.4 0h0m2 .5h0m2.3-1.5h0"/>
<path stroke="#6c54d6" d="M397.6 63.4h0m.9 .5h0m9 .5h0m1.8-.5h0m0-.5h0"/>
<path stroke="#a01fab" d="M411.8 65.5h0m1.1 1.5h0m1.2-7.2h0m0 5.7h0"/>
<path stroke="#ff0051" d="M411.2 66.5h0m.7-6.7h0m.1 6.7h0m.5 0h0m1.2 1.5h0m.6-4.1h0m.3 1.6h0m.3-1.1h0m.4 .5h0m1.6 0h0m4.9-1h0"/>
<path stroke="#008bfb" d="M371.7 63.9h0m2.7 0h0m23.1 .5h0m.5-1h0m5.1 0h0m1 0h0m2.8 0h0m.2 1.5h0m1.6 0h0m1.7-2.6h0m.9 .6h0m.5 2h0"/>
<path stroke="#6c54d6" d="M380.4 63.9h0m17.4 0h0m10.6 0h0m1.4 1.6h0"/>
<path stroke="#e50080" d="M410.2 64.4h0m2.2-1h0m.4 .5h0m.7 3.1h0m1.4-4.7h0m.2 3.7h0m.1-2.1h0m.8-1h0m.1 2h0m2.4-.5h0"/>
<path stroke="#e50080" d="M414.5 78.3h0m10.2 0h0"/>
<path stroke="#ff0051" d="M412.9 79.3h0m3.1 0h0m5.6-1h0m.5 0h0m24.4 0h0"/>
<path stroke="#6c54d6" d="M399.8 78.3h0m1.8 1h0m3.3-1h0m1.1 1h0m5.1-1h0m.5 3.1h0m0-3.1h0"/>
<path stroke="#a01fab" d="M411.9 82.4h0m.4-2h0m.2-2.1h0m.2 2.1h0m1.2-1.1h0m1.5-1h0m5.1 1h0m6.2-1h0"/>
<path stroke="#008bfb" d="M399 78.3h0m4.2 1h0m3.9 0h0m.4-1h0m1.7-1h0m.6 3.1h0m1.5-3.1h0"/>
<path stroke="#008bfb" d="M400.7 78.3h0m1.6 0h0m.5 0h0m.7 0h0m.3 0h0m.5 1h0m2 0h0m2-1h0m0 2.1h0m.2-3.1h0m.8 0h0"/>
<path stroke="#a01fab" d="M412.3 77.3h0m1.9 1h0m.1-1h0m3.5 2h0m4.6-1h0"/>
<path stroke="#6c54d6" d="M405.4 77.3h0m5 3.1h0m.4-1.1h0m.6-2h0"/>
<path stroke="#ff0051" d="M416.2 78.3h0m12.3 0h0m1.7 0h0m2 0h0m.6 0h0m17.2 0h0"/>
<path stroke="#e50080" d="M419.9 78.3h0m3.9 0h0m1.5 0h0"/>
<path stroke="#6c54d6" d="M404.4 78.3h0m3 1h0m2.1 0h0m.5-2h0m2.3 1h0m1.3 0h0m.1-1h0"/>
<path stroke="#a01fab" d="M412.9 77.3h0m.4 3.1h0m3.2-1.1h0"/>
<path stroke="#008bfb" d="M401.6 78.3h0m.7 1h0m1.3 0h0m2.3-1h0m.7-1h0m.3 1h0m2 0h0m1.3 0h0m1.6 3.1h0"/>
<path stroke="#e50080" d="M417 78.3h0m.7 0h0m.7 0h0m.4 1h0m2.1-1h0m8.4 0h0"/>
<path stroke="#ff0051" d="M412.1 75.2h0m2.9 4.1h0m.7-1h0m3.3 0h0"/>
<path stroke="#e50080" d="M420.2 78.3h0m2.5 1h0m.5-1h0m4.8 0h0"/>
<path stroke="#008bfb" d="M398.1 78.3h0m1.1 1h0m1.7 0h0m3.9 0h0m.8 0h0m.9-1h0m1.4 1h0m1.1 0h0m.6-1h0m.4 1h0m.5-2h0m.9 2h0m.6-3.1h0"/>
<path stroke="#a01fab" d="M413.4 79.3h0m12.5-1h0"/>
<path stroke="#6c54d6" d="M405.2 78.3h0m2.4-1h0m3.1 1h0m.8 2.1h0m.1-4.2h0m.9 3.1h0m.6-1h0"/>
<path stroke="#ff0051" d="M412.6 76.2h0m6.7 2.1h0m7 1h0m16.7-1h0"/>
<path stroke="#ff0051" d="M404 93.3h0m1.1 0h0m1.8-1.2h0m1.6 2.5h0m.4-.6h0m.3-1.9h0m.4 .6h0m1.5 3.9h0m.1-.7h0m.5-2.6h0m.2-2.5h0m.6 1.9h0m1.5 3.2h0m.9-1.3h0m.3-.6h0m.6-2.6h0"/>
<path stroke="#6c54d6" d="M416.8 92.7h0m1.1 0h0m6.7 0h0"/>
<path stroke="#a01fab" d="M412.4 94h0m3.8-1.9h0m4.8 .6h0m9.1 0h0"/>
<path stroke="#e50080" d="M403.1 92.7h0m.4 1.3h0m2-1.3h0m.8 0h0m1.5 1.3h0m.6-1.9h0m.4 1.2h0m1.8-1.2h0m.7-2h0"/>
<path stroke="#008bfb" d="M416.7 93.3h0m6.9-.6h0m12.4 0h0"/>
<path stroke="#6c54d6" d="M419.5 92.7h0"/>
<path stroke="#008bfb" d="M421.7 93.3h0m31.3-.6h0m35.6 0h0"/>
<path stroke="#e50080" d="M402.1 92.1h0m2.1 0h0m3.5 0h0m.2 1.2h0m1.6-1.9h0m.4 2.6h0m.2-1.3h0m0 1.9h0m.8-1.3h0m.7-1.2h0m.3 3.2h0"/>
<path stroke="#a01fab" d="M417.1 93.3h0m3.1 0h0m4.9-.6h0"/>
<path stroke="#ff0051" d="M402.4 92.7h0m5.7 0h0m.6-1.3h0m.4 3.2h0m.3 .7h0m1.2 0h0m.6-4.5h0m.2-1.3h0m0 1.9h0m.1 5.8h0m.3-2.6h0m.4-6.4h0m1 5.1h0m.2-2.5h0m.3 2.5h0m1.6-1.2h0m.5 .6h0"/>
<path stroke="#008bfb" d="M414.4 92.1h0m32.6 .6h0"/>
<path stroke="#ff0051" d="M400.4 92.7h0m2.8-.6h0m2.6 0h0m1.3 .6h0m1.2 1.3h0m2.1-2.6h0m.4 3.2h0m.7 2h0m1.9-5.2h0m.3 5.2h0m1.2-6.5h0"/>
<path stroke="#6c54d6" d="M413.2 91.4h0m.4 3.9h0m1.8-.7h0"/>
<path stroke="#a01fab" d="M418.2 93.3h0m4.6-.6h0"/>
<path stroke="#e50080" d="M401.7 93.3h0m1.1 0h0m.9-.6h0m1.3-.6h0m.3 1.9h0m1-.7h0m.3-1.9h0m.9 3.2h0m2-4.5h0m.2 2h0m.6 1.2h0m.5 .7h0m.1-2.6h0m.2 1.3h0m.5-3.9h0m.2 7.1h0m2.1-3.2h0"/>
<path stroke="#008bfb" d="M414.6 92.7h0m1 .6h0m3.7 0h0m7.9-.6h0m31.4 0h0"/>
<path stroke="#ff0051" d="M399.4 92.7h0m.4 .6h0m5.9 0h0m1 .7h0m2.8-3.2h0m2.2-.7h0m.2 2.6h0m0 1.3h0m1-1.9h0m.7 2.5h0m.1-2.5h0m.1 1.9h0m.4-2.6h0m.1 1.9h0m0 2h0m.3-4.5h0m2 1.9h0"/>
<path stroke="#a01fab" d="M412.2 89.5h0m.7 5.1h0m1.1-4.5h0m4.6 2.6h0"/>
<path stroke="#e50080" d="M401.3 92.7h0m3.3 0h0m.1 1.3h0m1.4 .6h0m1-3.2h0m.3 1.9h0m2.6-2.5h0m3.4-1.3h0"/>
<path stroke="#6c54d6" d="M414.8 94h0m7.3-1.3h0"/>
<path stroke="#6c54d6" d="M419 106.5h0m1.3 1.2h0"/>
<path stroke="#e50080" d="M390.9 107.7h0m.5 0h0m6.2-.6h0m3.8 0h0m7.8 0h0m2.7 0h0m.2 2.6h0m.6-.7h0"/>
<path stroke="#ff0051" d="M380.7 107.1h0m3.7 0h0m12.5 0h0"/>
<path stroke="#a01fab" d="M411.8 105.2h0m.8 5.8h0m.4-2.6h0m.9-1.3h0m10 0h0m1.6 .6h0"/>
<path stroke="#008bfb" d="M426.5 107.1h0"/>
<path stroke="#ff0051" d="M382.5 107.1h0"/>
<path stroke="#6c54d6" d="M412.5 110.3h0"/>
<path stroke="#008bfb" d="M418.9 107.7h0m2.4 0h0m0-.6h0m4.9 0h0"/>
<path stroke="#e50080" d="M394.5 107.1h0m7.2 0h0m6.6 0h0m3.5 1.3h0m.5-2.6h0m.1-1.3h0m.2 2h0m.2 5.1h0m.1-6.4h0"/>
<path stroke="#a01fab" d="M411.3 106.5h0m.8 0h0m.2 .6h0m.1-1.9h0m.6-2h0m9.8 3.9h0"/>
<path stroke="#e50080" d="M392.5 107.7h0m.6 0h0m3-.6h0m3.6 0h0m.4 0h0m11.6 1.9h0m.1-1.3h0m.9-3.8h0"/>
<path stroke="#ff0051" d="M395.6 107.1h0m12.8 .6h0"/>
<path stroke="#008bfb" d="M415.3 107.1h0m4.8 0h0m12.9 0h0"/>
<path stroke="#a01fab" d="M412 109h0m.3-1.3h0m.3 2h0m0-5.2h0m3.6 2.6h0m2.8 0h0m4.4 0h0m1.9 0h0"/>
<path stroke="#e50080" d="M391.2 107.1h0m10.6 .6h0m9.2 0h0m1.3 .7h0m0-4.5h0m.3 3.2h0m.2-1.3h0"/>
<path stroke="#ff0051" d="M393 106.5h0m.1 .6h0m2.1 0h0m4.5 .6h0m1.3-.6h0m10.2 0h0"/>
<path stroke="#a01fab" d="M411.6 106.5h0m.2-.7h0m1 1.9h0m.3-.6h0m6.8 .6h0"/>
<path stroke="#008bfb" d="M427.3 107.1h0m1.5 0h0m9.2 0h0"/>
<path stroke="#ff0051" d="M430.3 121.5h0m8 0h0m2.7 0h0"/>
<path stroke="#6c54d6" d="M399.1 121.5h0m5.1 .6h0m1-.6h0"/>
<path stroke="#a01fab" d="M411.5 121.5h0m1-2.6h0m.1 3.9h0m.4-3.9h0m.5 3.2h0m1.1-.6h0m.8 0h0m5.1 0h0"/>
<path stroke="#008bfb" d="M396.9 121.5h0m10.3 0h0m4.4 .6h0"/>
<path stroke="#6c54d6" d="M399.3 121.5h0m7.6 .6h0m4.1-.6h0"/>
<path stroke="#e50080" d="M412.3 124.1h0m7-2.6h0m1.7 0h0"/>
<path stroke="#ff0051" d="M427.7 121.5h0m8 0h0"/>
<path stroke="#a01fab" d="M412.1 122.1h0m.1 .7h0m.5-.7h0m.2-5.1h0m.1 2.6h0m.2 1.9h0m1.7 0h0"/>
<path stroke="#008bfb" d="M407.5 121.5h0m2.2 0h0m1.6 1.3h0"/>
<path stroke="#ff0051" d="M433 121.5h0"/>
<path stroke="#e50080" d="M414.7 122.1h0m1.4-.6h0m.6 0h0m6.5 0h0m.7 0h0"/>
<path stroke="#6c54d6" d="M399.7 121.5h0m6 0h0"/>
<path stroke="#008bfb" d="M396.3 121.5h0m13.6 0h0m1.2 .6h0m.4-1.2h0"/>
<path stroke="#a01fab" d="M412 120.9h0m.2 1.2h0m.4 3.9h0m.2-8.4h0m6.3 4.5h0m3.1-.6h0"/>
<path stroke="#a01fab" d="M412 122.8h0m.1-1.3h0m.4 3.9h0m0-7.1h0m.1 5.1h0m0-3.8h0m0 1.3h0m0 .6h0m0 2.6h0m.2 .6h0m0-4.5h0m9.1 1.3h0m3 .6h0"/>
<path stroke="#ff0051" d="M425 121.5h0"/>
<path stroke="#6c54d6" d="M400.2 122.1h0m7.3 0h0"/>
<path stroke="#008bfb" d="M400.2 121.5h0m4.2 0h0"/>
<path stroke="#ff0051" d="M443 135.9h0"/>
<path stroke="#008bfb" d="M397.8 136.4h0m6.4 0h0m14.7 0h0m3.5-.5h0"/>
<path stroke="#6c54d6" d="M399.2 135.9h0m12.9-2.8h0m.1 7.5h0m.2-6.1h0m.2 .9h0m.1 1.9h0"/>
<path stroke="#a01fab" d="M411.8 135h0m.1 2.3h0m.1-5.2h0m.2 6.2h0m.1-1.5h0m.1 .5h0m5-1.4h0m1.2 0h0"/>
<path stroke="#008bfb" d="M404.2 135.9h0m11.7 0h0"/>
<path stroke="#6c54d6" d="M398.4 135.9h0m7.9 0h0m3 0h0m2.9-4.2h0m.3 4.7h0m.3-.5h0m.1-.9h0m.3 .9h0m10.7 0h0m1.2-.5h0m.2 .5h0"/>
<path stroke="#ff0051" d="M450 135.9h0"/>
<path stroke="#a01fab" d="M411.9 136.4h0m0 .4h0m.2-4.2h0m0 6.1h0m.3-2.3h0m14.3-.5h0"/>
<path stroke="#a01fab" d="M411.9 135.4h0m.1-1.4h0m.3 1h0m.1 2.8h0m.4-1h0m2.1-.9h0m4.1 0h0"/>
<path stroke="#6c54d6" d="M397.5 135.9h0m1.2 .5h0m8.2-.5h0m4.7-1.4h0m.7-1h0"/>
<path stroke="#008bfb" d="M405.7 135.9h0m.8 .5h0m1.1-1h0m.5 1h0m10.5 0h0m.6-1h0m6 1h0"/>
<path stroke="#ff0051" d="M446.5 135.9h0"/>
<path stroke="#6c54d6" d="M407.3 135.9h0m.6 0h0m3.1 0h0m1 0h0m.2-.5h0m6.4 0h0m1.5 .5h0m.3 0h0m1.2 0h0"/>
<path stroke="#a01fab" d="M412.2 139.7h0m.1-.5h0m.1 .9h0m1.4-4.2h0m3.2 0h0"/>
<path stroke="#008bfb" d="M398.9 136.4h0m.4-1h0m.8 .5h0m.9 0h0m6.7 .5h0"/>
<path stroke="#ff0051" d="M434 135.9h0"/>
<path stroke="#a01fab" d="M399.1 150.3h0m5.8 .5h0m5.4 0h0m1.7-1.4h0m.3 3.3h0m.2 1.8h0m.7-4.2h0"/>
<path stroke="#6c54d6" d="M412.2 151.7h0m.3-.9h0m.2 2.3h0m.2-2.3h0"/>
<path stroke="#ff0051" d="M391.2 150.3h0m4 0h0m4.6 0h0m5.8 0h0m6.1 2.4h0"/>
<path stroke="#e50080" d="M409.2 150.3h0m5.8 0h0m.3-.5h0"/>
<path stroke="#e50080" d="M399.2 149.8h0m15.8 1.4h0m8.6-.9h0"/>
<path stroke="#ff0051" d="M380.7 150.3h0m18.5 .5h0m18.8-.5h0m1.4 0h0m7.4 0h0m1.4-.5h0"/>
<path stroke="#a01fab" d="M395.7 150.3h0m2.2 0h0m8.2 .5h0m6.3-2.4h0m.4 1.4h0m4.7 .5h0"/>
<path stroke="#6c54d6" d="M411.5 150.3h0m.9 3.8h0m.3-8h0m.1 4.2h0m.1-2.8h0"/>
<path stroke="#a01fab" d="M410.3 150.3h0m2.1 4.7h0m.2-7.1h0m11.5 2.4h0m4.5 .5h0"/>
<path stroke="#e50080" d="M404.4 150.8h0m7.5-1h0m17.1 .5h0"/>
<path stroke="#6c54d6" d="M412 150.8h0m.3 .4h0m.1-5.6h0m.1 3.3h0m.1-2.4h0m.1 .5h0"/>
<path stroke="#ff0051" d="M388 150.3h0m6.4 0h0m4.2 0h0m9.4 0h0m20.8 0h0"/>
<path stroke="#ff0051" d="M404.9 150.3h0m18.2 0h0"/>
<path stroke="#e50080" d="M401.4 150.3h0m9.8 .5h0m1-1.9h0m3 1.9h0m5.3-.5h0m.1 .5h0m.8 0h0m5.9-.5h0"/>
<path stroke="#008bfb" d="M442 150.3h0"/>
<path stroke="#6c54d6" d="M411.8 152.2h0m.4-1.9h0m0-2.4h0m.4 5.7h0"/>
<path stroke="#a01fab" d="M405.4 150.3h0m1 0h0m5.8 2.8h0m.5-3.7h0m0 2.8h0"/>
<text x="305.30" y="23.55" font-size="7.95" text-anchor="end" font-weight="normal" fill="#262626" textLength="13.02" lengthAdjust="spacingAndGlyphs">Age</text>
<text x="305.30" y="37.95" font-size="7.95" text-anchor="end" font-weight="normal" fill="#262626" textLength="19.36" lengthAdjust="spacingAndGlyphs">UPSIT</text>
<text x="305.30" y="52.35" font-size="7.95" text-anchor="end" font-weight="normal" fill="#262626" textLength="24.05" lengthAdjust="spacingAndGlyphs">RBDSQ</text>
<text x="305.30" y="66.75" font-size="7.95" text-anchor="end" font-weight="normal" fill="#262626" textLength="13.01" lengthAdjust="spacingAndGlyphs">PRS</text>
<text x="305.30" y="81.15" font-size="7.95" text-anchor="end" font-weight="normal" fill="#262626" textLength="22.50" lengthAdjust="spacingAndGlyphs">SCOPA</text>
<text x="305.30" y="95.55" font-size="7.95" text-anchor="end" font-weight="normal" fill="#262626" textLength="19.23" lengthAdjust="spacingAndGlyphs">MoCA</text>
<text x="305.30" y="109.95" font-size="7.95" text-anchor="end" font-weight="normal" fill="#262626" textLength="19.37" lengthAdjust="spacingAndGlyphs">SDMT</text>
<text x="305.30" y="124.35" font-size="7.95" text-anchor="end" font-weight="normal" fill="#262626" textLength="23.00" lengthAdjust="spacingAndGlyphs">HRSUP</text>
<text x="305.30" y="138.75" font-size="7.95" text-anchor="end" font-weight="normal" fill="#262626" textLength="12.80" lengthAdjust="spacingAndGlyphs">ESS</text>
<text x="305.30" y="153.15" font-size="7.95" text-anchor="end" font-weight="normal" fill="#262626" textLength="12.95" lengthAdjust="spacingAndGlyphs">SBP</text>
<text x="280.70" y="11.60" font-size="10.00" text-anchor="start" font-weight="bold" fill="#000">B</text>
<line x1="318.50" y1="164.70" x2="510.50" y2="164.70" stroke="#444" stroke-width="0.9"/>
<line x1="329.90" y1="164.70" x2="329.90" y2="166.50" stroke="#444" stroke-width="0.6"/>
<text x="329.90" y="172.88" font-size="6.60" text-anchor="middle" font-weight="normal" fill="#262626" textLength="13.54" lengthAdjust="spacingAndGlyphs">−0.3</text>
<line x1="357.40" y1="164.70" x2="357.40" y2="166.50" stroke="#444" stroke-width="0.6"/>
<text x="357.40" y="172.88" font-size="6.60" text-anchor="middle" font-weight="normal" fill="#262626" textLength="13.54" lengthAdjust="spacingAndGlyphs">−0.2</text>
<line x1="384.90" y1="164.70" x2="384.90" y2="166.50" stroke="#444" stroke-width="0.6"/>
<text x="384.90" y="172.88" font-size="6.60" text-anchor="middle" font-weight="normal" fill="#262626" textLength="13.54" lengthAdjust="spacingAndGlyphs">−0.1</text>
<line x1="412.40" y1="164.70" x2="412.40" y2="166.50" stroke="#444" stroke-width="0.6"/>
<text x="412.40" y="172.88" font-size="6.60" text-anchor="middle" font-weight="normal" fill="#262626" textLength="8.87" lengthAdjust="spacingAndGlyphs">0.0</text>
<line x1="439.90" y1="164.70" x2="439.90" y2="166.50" stroke="#444" stroke-width="0.6"/>
<text x="439.90" y="172.88" font-size="6.60" text-anchor="middle" font-weight="normal" fill="#262626" textLength="8.87" lengthAdjust="spacingAndGlyphs">0.1</text>
<line x1="467.40" y1="164.70" x2="467.40" y2="166.50" stroke="#444" stroke-width="0.6"/>
<text x="467.40" y="172.88" font-size="6.60" text-anchor="middle" font-weight="normal" fill="#262626" textLength="8.87" lengthAdjust="spacingAndGlyphs">0.2</text>
<line x1="494.90" y1="164.70" x2="494.90" y2="166.50" stroke="#444" stroke-width="0.6"/>
<text x="494.90" y="172.88" font-size="6.60" text-anchor="middle" font-weight="normal" fill="#262626" textLength="8.87" lengthAdjust="spacingAndGlyphs">0.3</text>
<text x="348.70" y="182.23" font-size="7.30" text-anchor="start" font-weight="normal" fill="#222" textLength="130.90" lengthAdjust="spacingAndGlyphs">SHAP value (impact on model output)</text>
<rect x="522.50" y="6.30" width="2.2" height="157.70" fill="url(#cb)"/>
<text x="526.40" y="8.98" font-size="6.60" text-anchor="start" font-weight="normal" fill="#1a1a1a" textLength="13.29" lengthAdjust="spacingAndGlyphs">High</text>
<text x="526.40" y="167.68" font-size="6.60" text-anchor="start" font-weight="normal" fill="#1a1a1a" textLength="11.38" lengthAdjust="spacingAndGlyphs">Low</text>
<text x="0" y="0" font-size="7.0" text-anchor="middle" fill="#222" transform="translate(544.60 85.75) rotate(-90)" textLength="43.00" lengthAdjust="spacingAndGlyphs">Feature value</text>
<line x1="63.30" y1="207.50" x2="239.80" y2="207.50" stroke="#e6e6e6" stroke-width="0.4" stroke-dasharray="0.4 2.2"/>
<line x1="63.30" y1="221.92" x2="239.80" y2="221.92" stroke="#e6e6e6" stroke-width="0.4" stroke-dasharray="0.4 2.2"/>
<line x1="63.30" y1="236.34" x2="239.80" y2="236.34" stroke="#e6e6e6" stroke-width="0.4" stroke-dasharray="0.4 2.2"/>
<line x1="63.30" y1="250.76" x2="239.80" y2="250.76" stroke="#e6e6e6" stroke-width="0.4" stroke-dasharray="0.4 2.2"/>
<line x1="63.30" y1="265.18" x2="239.80" y2="265.18" stroke="#e6e6e6" stroke-width="0.4" stroke-dasharray="0.4 2.2"/>
<line x1="63.30" y1="279.60" x2="239.80" y2="279.60" stroke="#e6e6e6" stroke-width="0.4" stroke-dasharray="0.4 2.2"/>
<line x1="63.30" y1="294.02" x2="239.80" y2="294.02" stroke="#e6e6e6" stroke-width="0.4" stroke-dasharray="0.4 2.2"/>
<line x1="63.30" y1="308.44" x2="239.80" y2="308.44" stroke="#e6e6e6" stroke-width="0.4" stroke-dasharray="0.4 2.2"/>
<line x1="63.30" y1="322.86" x2="239.80" y2="322.86" stroke="#e6e6e6" stroke-width="0.4" stroke-dasharray="0.4 2.2"/>
<line x1="63.30" y1="337.28" x2="239.80" y2="337.28" stroke="#e6e6e6" stroke-width="0.4" stroke-dasharray="0.4 2.2"/>
<line x1="138.20" y1="193.30" x2="138.20" y2="351.20" stroke="#aaaaaa" stroke-width="0.8"/>
<path stroke="#ff0051" d="M71.3 207.5h0m2.3-.6h0m2-1.3h0m2.2 1.3h0m.5-1.3h0m.6 1.9h0m.2 2.6h0m.6-5.2h0m.3 4.5h0m.1-.6h0m.1-3.2h0m.3 1.3h0m.1 1.9h0m.8-.7h0m1-.6h0m.9-1.3h0m0 .7h0m.4 1.2h0m.1 1.3h0m2.7-1.9h0m3.3 .6h0m3.9-.6h0m.1 .6h0m3.8 0h0m10-.6h0m2.3-.6h0m.1 1.2h0m2.7-.6h0m.6-.6h0m2.4 .6h0m5 1.9h0m1.1-4.5h0m.7 1.3h0m.4 5.2h0m.2-2h0m.2-1.9h0m.2 3.2h0m1-3.2h0m2.4 1.3h0m2.4 0h0"/>
<path stroke="#008bfb" d="M150.7 206.9h0m7.6 0h0m6.3-1.3h0m1 3.8h0m6.1-.6h0m2.1 1.3h0m5.2-2h0"/>
<path stroke="#e50080" d="M118.5 206.9h0m.4 2.5h0m1.5-3.2h0m2.7-1.9h0m.1 4.5h0m1.1-1.9h0m.4 4.5h0m.3 .6h0m0-1.3h0m2-.6h0m6.6-2.6h0"/>
<path stroke="#6c54d6" d="M160.1 207.5h0m1.1-1.3h0m1.4 1.3h0m.5-2.6h0m3 3.2h0m6.3-1.2h0m.2-.7h0m.3 1.9h0"/>
<path stroke="#a01fab" d="M152.3 206.9h0m3.2 1.2h0m10.1-1.9h0m.3 1.3h0m2.7-.6h0m.5 1.2h0m1.5 0h0m1.5 2.6h0m.7-4.5h0m.4 3.2h0m.3-2.5h0m30.9 0h0m1.2 1.2h0"/>
<path stroke="#ff0051" d="M75.2 207.5h0m.6-.6h0m.5-.7h0m.4 2.6h0m.9-2.6h0m.3 2.6h0m.7 .6h0m.8-2.5h0m.6 1.2h0m.1-1.9h0m.4 3.2h0m.1-1.9h0m1.6-2.6h0m.1 3.9h0m.1 .6h0m.2-5.1h0m.4 3.8h0m.6 .7h0m3.6-.7h0m4.2 0h0m3.6-.6h0m.2 .6h0m.9 .7h0m0-1.3h0m9.7 .6h0m1.4 0h0m1.5-.6h0m3.9 .6h0m.2 .7h0m4.4-1.9h0m.5 .6h0m1.5-.6h0m.6 1.2h0m.5 2h0m.2-1.3h0m1.1 .6h0m.7-5.1h0m.3 7.7h0m.9-3.9h0m.2-1.9h0m1.6 0h0m0 .7h0m.5 2.5h0m1.6-2.5h0m.6 1.2h0m1.3 0h0m.1-.6h0m1.5-.6h0"/>
<path stroke="#6c54d6" d="M151.5 208.1h0m2.2-1.2h0m9.8 3.8h0m2-5.8h0m2.4 3.2h0m2.1 1.3h0m4.9-1.9h0m25.5 0h0"/>
<path stroke="#008bfb" d="M153 209.4h0m1.4-1.3h0m3.7 0h0m2.9-1.2h0m1.4 1.2h0m1.6 0h0m.4 0h0m.7-1.2h0m4.6 .6h0m3.4 3.2h0m3.5-2.6h0m29-.6h0m1 0h0"/>
<path stroke="#a01fab" d="M157.2 206.9h0m4.2 1.9h0m2.7-2.6h0m7.6-.6h0m.2 4.5h0m13.7-2.6h0"/>
<path stroke="#e50080" d="M121.9 205.6h0m.7 5.1h0m3.9-3.2h0m6.8 .6h0"/>
<path stroke="#6c54d6" d="M152.7 207.5h0m8.3 .6h0m1.7 .7h0m2.3-1.3h0m6.2 1.3h0m35.4-1.9h0m2.5 .6h0"/>
<path stroke="#a01fab" d="M152.4 208.1h0m9.3-1.2h0m1.9 0h0m1.9 3.8h0m.4-5.1h0m.8 .6h0m6.3 2.6h0m33.8 0h0m.9 0h0"/>
<path stroke="#008bfb" d="M154.9 207.5h0m2 0h0m1.7 0h0m1-.6h0m3.4 3.2h0m2.9-1.3h0m.5-1.9h0m2.6 1.9h0m2.4-1.3h0m1.5 0h0m3.7-.6h0m.1 .6h0m.7 .6h0m30.8-.6h0"/>
<path stroke="#ff0051" d="M73.4 208.1h0m2 0h0m.3 1.3h0m.2-.6h0m.6-1.3h0m.2-.6h0m3.2 .6h0m.6-1.3h0m.3-.6h0m1.2 5.1h0m.1 1.3h0m.3-5.8h0m.2-.6h0m.3 1.3h0m2.2 .6h0m.3 .6h0m.5 0h0m.4-1.2h0m.3 1.9h0m1.9-1.3h0m.7-.6h0m3.5 0h0m3.8 0h0m.9 .6h0m13.2-.6h0m1.2 .6h0m7.1 0h0m.6 2.6h0m1-3.2h0m.6 .6h0m.8 0h0m.3 1.3h0m.1-5.2h0m.8 0h0m0 6.5h0m.9 1.3h0m1-2.6h0m.6-.7h0m.1-3.8h0m.6 1.3h0m.6-.7h0m1.3 3.9h0"/>
<path stroke="#e50080" d="M119.7 206.2h0m2.3 1.9h0m2.8-4.5h0m.2 2h0m0-.7h0m1 2h0m1.9 .6h0"/>
<path stroke="#a01fab" d="M153.5 207.5h0m3.4 .6h0m1.4-1.9h0m0 2.6h0m1.4-.7h0m3-1.9h0m4 3.2h0m4.2-1.9h0m1.7-2.6h0m.3-.6h0m.4 1.3h0m2.3 1.9h0m7.8 0h0m14.6 0h0"/>
<path stroke="#6c54d6" d="M151.2 207.5h0m.7-1.3h0m11.8 1.3h0m.9 1.3h0m.5 1.3h0m5-3.2h0m1.8-2h0m.5 3.2h0m0 1.3h0m33.3-1.3h0m1.4 0h0m.5-1.2h0"/>
<path stroke="#e50080" d="M120.1 208.8h0m2.6 1.3h0m.5-5.2h0m1.1 .7h0m1.8 2.5h0m2.4-1.9h0"/>
<path stroke="#ff0051" d="M72 207.5h0m1.8 0h0m2-1.3h0m.3 1.9h0m.1 1.3h0m1.3-1.3h0m4.3-4.5h0m.2 6.5h0m.4 1.3h0m1.2-3.9h0m1.6-.6h0m.3 1.9h0m3.4 0h0m0-1.3h0m3.3 0h0m3.1-.6h0m.3 1.2h0m2-1.2h0m8 .6h0m3.7 0h0m2.3 .6h0m2.1-.6h0m3 0h0m.5 .6h0m1.3 0h0m.7-2.5h0m1.6 2.5h0m.7-2.5h0m.2 1.3h0m2.8-3.9h0m.4 6.4h0m.2 .7h0m1-3.9h0m2.4 .7h0m2 .6h0m.8 .6h0m.3-.6h0"/>
<path stroke="#008bfb" d="M151.5 208.8h0m1.1 0h0m8.6-1.3h0m2-1.9h0m.1 3.2h0m.2 .6h0m3.7-1.9h0m3.6-1.3h0m4.8 2.6h0m3.1-1.3h0m2.5 0h0"/>
<path stroke="#008bfb" d="M132.2 221.8h0m.2-.2h0m.1-.1h0m1.2 .1h0m4.3-3.4h0m.1 8.3h0m0-9.3h0m.1 4.1h0m.1-3.4h0m0 4.3h0m.1 .7h0m0 3.8h0m.1-9.1h0m0 2.4h0m.2 .6h0m.3 1.8h0"/>
<path stroke="#ff0051" d="M150.1 221.9h0m4.4 0h0m3.6 .2h0m.3-.2h0m3.1-.1h0m2.5 .1h0m.9 .2h0m1.8-.2h0m2.1 .2h0m25.8-.2h0m4.1 0h0m3.3 0h0m28 0h0m2.7 0h0"/>
<path stroke="#ff0051" d="M150.4 222.1h0m6.2 0h0m.2-.2h0m3.8 0h0m5.3 0h0m2.5 0h0m14 0h0m2.5 0h0m33.5 0h0m4.8 0h0"/>
<path stroke="#008bfb" d="M131.2 221.5h0m1.4 .9h0m0-.5h0m.6 .3h0m.5-.3h0m4.1 1.3h0m.1 1.9h0m.2-5.8h0m0 1h0m0-2.3h0m0 3.6h0m.3 3.9h0m0-5h0m0 4.4h0m0 .9h0m0 1.2h0m.1-7.1h0m0 1.6h0m0 3.3h0m.2-4h0m.1 2.4h0"/>
<path stroke="#ff0051" d="M150.8 221.8h0m1.3 .1h0m3 0h0m5.8 .2h0m2-.2h0m1.5-.1h0m3.3 .1h0m12.3 0h0m7.3 0h0m2.4 0h0"/>
<path stroke="#008bfb" d="M131 221.9h0m.3 .3h0m.1-.1h0m3 0h0m0 .1h0m.5-.4h0m3.1-.6h0m.2-2h0m.1 5h0m0-.1h0m0-4.6h0m0 3.9h0m.1 2.7h0m0-2.6h0m.1 .2h0m0-5.4h0m.1 .6h0m0 7.1h0m0 .4h0m.1-3.5h0m0-.7h0"/>
<path stroke="#008bfb" d="M131.6 222.2h0m1.4-.6h0m.4 .2h0m2.7 .1h0m1.8-4.2h0m.1 9.1h0m0-6.6h0m.2-2.9h0m.1 2.5h0m0 2h0m.1 2.9h0m0-6.1h0m0 4.2h0m.1 1.1h0m.1-7h0m.1 5.9h0m0-1.5h0m0 .5h0m.2-.2h0m.1-.7h0"/>
<path stroke="#ff0051" d="M149.8 221.9h0m1.8 0h0m7.7 0h0m2.3 0h0m.3 .2h0m2.4-.2h0m1.3 .2h0m6.9-.2h0m2.5 0h0m17.2 0h0m35.1 0h0"/>
<path stroke="#a01fab" d="M113.4 237.2h0m15.1-1.7h0m6.8 1.7h0m3.6-.9h0"/>
<path stroke="#ff0051" d="M139.4 237.2h0m2.6 1.7h0m.3-3.4h0m.7 3.4h0m.3-1.7h0m.1-2.6h0m.3 .9h0m1-3.5h0m1.3 3.5h0m.1-.9h0m2.3 1.7h0m.9 0h0m1.1-.8h0m0 .8h0m1.6 0h0"/>
<path stroke="#e50080" d="M140 237.2h0m2.8-3.5h0m.1 3.5h0m0-1.7h0m.5 3.4h0m1.3-.8h0m.1-1.8h0m3.4 .9h0m5.8-1.7h0m4 .8h0"/>
<path stroke="#008bfb" d="M103 236.3h0m10 0h0m15.5 1.8h0m.2 .8h0m.9-4.3h0m1.4-.9h0m1.1 1.8h0m.4 .8h0m.2 1.8h0m.1-2.6h0"/>
<path stroke="#6c54d6" d="M128.7 236.3h0m.1-1.7h0m.4 3.5h0m.9-.9h0m.2-1.7h0m.3 1.7h0m1.8 0h0m1.3 .9h0"/>
<path stroke="#6c54d6" d="M105.8 236.3h0m12.2 0h0m4.4 .9h0m7.2-.9h0m1.9 2.6h0m0-5.2h0m4.3 2.6h0m.1 .9h0"/>
<path stroke="#ff0051" d="M139.5 235.5h0m1.4 0h0m.8 1.7h0m1.1-.9h0m.1 1.8h0m1.1-.9h0m.2 1.7h0m.7-1.7h0m.1 3.5h0m.9-2.6h0m.4-1.8h0m0 .9h0m.6-2.6h0m7.1 2.6h0m.9-.9h0"/>
<path stroke="#008bfb" d="M110.3 236.3h0m2.7 .9h0m14.7 0h0m3.2 0h0m.3-1.7h0m0 2.6h0m.4 0h0m2.1-.9h0m1.5 .9h0"/>
<path stroke="#e50080" d="M141.2 238.1h0m1.1-3.5h0m1.6-.9h0m1.2 .9h0m3.6 1.7h0m5.1 0h0m1.8 0h0"/>
<path stroke="#a01fab" d="M111.9 236.3h0m3.7 0h0m5.2 .9h0m1.5-.9h0m2.1 0h0m3 .9h0m4.5 0h0m2.1-2.6h0"/>
<path stroke="#ff0051" d="M139.6 236.3h0m2.4 .9h0m.3-.9h0m.6-1.7h0m1.4 0h0m.4-.9h0m.2 6.1h0m.3-.9h0m.1-1.7h0m.2-2.6h0m.2 3.5h0m1-.9h0m.2-1.7h0m2.3 1.7h0m6.9 0h0m12.4-.9h0"/>
<path stroke="#a01fab" d="M102.9 237.2h0m2.8 0h0m16.1 0h0m3.7-.9h0m4 1.8h0m1-1.8h0m.7 0h0"/>
<path stroke="#008bfb" d="M113.4 236.3h0m2.8 0h0m11.1 0h0m.4 0h0m4.8-2.6h0m2.1 2.6h0"/>
<path stroke="#e50080" d="M140 236.3h0m1.5 0h0m2.6 1.8h0m5.1 0h0m.5-2.6h0m5.5 0h0m.3 1.7h0m6-.9h0"/>
<path stroke="#6c54d6" d="M125.1 237.2h0m3-1.7h0m1.4 1.7h0m.4-1.7h0m1.4 3.4h0m.5-2.6h0m.7 2.6h0m1.1-3.4h0m.8 1.7h0m.6-1.7h0"/>
<path stroke="#ff0051" d="M138 236.3h0m4.2 1.8h0m1.2 0h0m.6-1.8h0m.3-.8h0m.6-2.6h0m.8 3.4h0m1.3 0h0m.3 .9h0m0-.9h0m2.6 .9h0m0 .9h0m15.1-1.8h0"/>
<path stroke="#6c54d6" d="M105.4 235.5h0m1.6 .8h0m18.9 0h0m6.4-1.7h0m.9 3.5h0"/>
<path stroke="#a01fab" d="M106.4 236.3h0m9 .9h0m3.5-.9h0m1.5 0h0m1.7 0h0m4.1 0h0m3.1-.8h0m0 .8h0m2.2-1.7h0m1.4 1.7h0"/>
<path stroke="#e50080" d="M138.8 237.2h0m.3-1.7h0m1 0h0m1.1 1.7h0m3.8-1.7h0m1.7 2.6h0m3-3.5h0m1.3 1.7h0m.2 0h0m.6 .9h0m4-.9h0"/>
<path stroke="#008bfb" d="M113 235.5h0m15.5 1.7h0m1.4 1.7h0m.1-5.2h0m.3 4.4h0m3.1-.9h0m.7-.9h0m2.1 0h0"/>
<path stroke="#e50080" d="M143.4 250h0m.8 1.5h0m.9 0h0m10.5-.7h0m7.9 0h0"/>
<path stroke="#ff0051" d="M142.8 250.8h0m.8 0h0m.9-1.5h0m.3 1.5h0m3.7 0h0m1 0h0m.3-.8h0m1.1 1.5h0m1-.7h0m3 .7h0m1.3 0h0m1.7 0h0m.5 0h0m6.3-.7h0"/>
<path stroke="#008bfb" d="M129.9 251.5h0m.6 0h0m1.4-.7h0m2 .7h0m.5 .7h0m1.2 1.5h0m1-2.2h0m.4-5.2h0m.3 4.5h0m0 2.9h0m.2-2.9h0"/>
<path stroke="#a01fab" d="M144.6 252.2h0m.4 0h0"/>
<path stroke="#6c54d6" d="M128.2 250.8h0m4-.8h0m.3 2.2h0m.7-2.2h0m1.9 1.5h0m.1-1.5h0m.2 .8h0m1.3-2.3h0m.2 3h0m.5 1.5h0"/>
<path stroke="#a01fab" d="M147.2 250.8h0m2.9 .7h0m1.1-1.5h0m1.1 .8h0m3.7 0h0m2.2 0h0"/>
<path stroke="#6c54d6" d="M129 251.5h0m1.2-.7h0m2.2 .7h0m.6 0h0m.4-2.2h0m.1 3.7h0m.7-2.2h0m1.6-2.3h0m0 2.3h0m.1-.8h0m.1 1.5h0m.4-3.7h0m.2 4.4h0"/>
<path stroke="#ff0051" d="M142.8 249.3h0m.3 2.2h0m6.6 0h0m4.2 0h0m7.4-.7h0m.5 .7h0m12.2-.7h0"/>
<path stroke="#e50080" d="M145.6 250h0m3.3 0h0m1.7 0h0"/>
<path stroke="#008bfb" d="M127.7 251.5h0m2.9-.7h0m2.2 0h0m.9-.8h0m.7 1.5h0m.4-2.2h0m.3-.8h0m.1 .8h0m1.1 0h0m0 1.5h0m.8-1.5h0m0 2.9h0m.3-5.1h0"/>
<path stroke="#a01fab" d="M144.3 250h0m2.7 1.5h0m2 0h0m5.4-.7h0m5.6 0h0m1 0h0m16.5 0h0m13 0h0"/>
<path stroke="#6c54d6" d="M124.6 250.8h0m4 0h0m2.4-.8h0m0 1.5h0m.8-1.5h0m2.8-1.5h0m1.6 5.2h0m.8-5.9h0"/>
<path stroke="#ff0051" d="M145.3 250h0m.3 .8h0m.3 .7h0m2.4-1.5h0m1 .8h0m2.4 .7h0m1.4-1.5h0m1.9 .8h0m2.1 0h0m.3 0h0m2.2 0h0m2.9 0h0"/>
<path stroke="#008bfb" d="M131.3 250.8h0m2.1 0h0m.7 1.4h0m.5 .8h0m.1-3h0m1.4 3h0m.3-3h0m.1 4.5h0m.7-6h0m.3 1.5h0m.1 2.2h0m.1-.7h0"/>
<path stroke="#e50080" d="M150.2 250.8h0m3.4-.8h0"/>
<path stroke="#6c54d6" d="M127 250.8h0m5.7-1.5h0m1.4 0h0m1.8 2.9h0"/>
<path stroke="#e50080" d="M147.7 251.5h0m.3 .7h0m4.7-1.4h0m.8 0h0m5.7 .7h0"/>
<path stroke="#008bfb" d="M125.7 250.8h0m3.8 0h0m.3-.8h0m1.7 2.2h0m1.5 0h0m.7-1.4h0m.3 2.2h0m.9 .7h0m0-1.5h0m.5-4.4h0m.1 5.2h0m.1-3.7h0m1.2-2.2h0m0 8.1h0m.1-.7h0"/>
<path stroke="#ff0051" d="M143.4 251.5h0m.5-1.5h0m2.2 2.2h0m.3-1.4h0m.2-.8h0m.8 0h0m.1 .8h0m5.3 .7h0m3.9 0h0m12-.7h0m17.8 0h0"/>
<path stroke="#a01fab" d="M142.6 250.8h0m.7 1.4h0m.8-1.4h0m2.1 .7h0m2 0h0m2.9-.7h0m.3-.8h0m3.2 0h0"/>
<path stroke="#ff0051" d="M142 266.2h0m.8 0h0m.4-2.1h0m4.3 1.1h0m2 0h0m1.9 1h0m1.5 0h0m4.1 0h0m14-1h0"/>
<path stroke="#6c54d6" d="M130.6 264.1h0m4.8 1.1h0m.6 3.1h0m.5-5.2h0m.1-1h0m.8-1.1h0"/>
<path stroke="#008bfb" d="M115.6 265.2h0m14.9 1h0m.6-1h0m.1 1h0m.5-2.1h0m.2 1.1h0m1.4 2.1h0m.3-2.1h0m.1-1.1h0m1.4 3.2h0m.4-4.2h0m.1 3.1h0m.2 1.1h0m.3-1.1h0m1.4-2.1h0"/>
<path stroke="#a01fab" d="M143.7 266.2h0m.7 0h0m.7-1h0m5.4 0h0"/>
<path stroke="#e50080" d="M141.9 265.2h0m13.1 0h0m.4 0h0m8.8 0h0"/>
<path stroke="#008bfb" d="M129.4 265.2h0m.8 0h0m1.1 0h0m.9-1.1h0m.3 2.1h0m1.4 1.1h0m.8-1.1h0m.3-3.1h0m.5-1h0m.2 2h0m1.6 5.2h0m.1-3.1h0"/>
<path stroke="#6c54d6" d="M125.4 265.2h0m3.2 0h0m4.1-1.1h0m.3 3.2h0m2.2-1.1h0m.8-1h0"/>
<path stroke="#e50080" d="M140.6 264.1h0m3.9 1.1h0m2 0h0m1.9-1.1h0"/>
<path stroke="#a01fab" d="M142.5 266.2h0m10.9-1h0m4.8 1h0m1.5-1h0"/>
<path stroke="#ff0051" d="M141 266.2h0m.2 1.1h0m.3-3.2h0m.9 1.1h0m.5 0h0m5.1 0h0m.2 1h0m.5-1h0m.5 1h0m3.4-1h0m3.3 0h0m2.7 0h0"/>
<path stroke="#e50080" d="M144.3 265.2h0m6.5 0h0m1.5 1h0m2.4 0h0m6.1-1h0"/>
<path stroke="#ff0051" d="M141.3 265.2h0m2.1-1.1h0m3.4 1.1h0m.4 1h0m1.7 0h0m2.4-1h0m.7 0h0m4.3 1h0m16.3-1h0"/>
<path stroke="#6c54d6" d="M127 265.2h0m4.6 1h0m2.5-3.1h0m.2 1h0m.2 4.2h0m.4-4.2h0m1.7 4.2h0m.4 0h0"/>
<path stroke="#008bfb" d="M127.8 265.2h0m3-1.1h0m1.2 2.1h0m.3 1.1h0m1.2-1.1h0m.9 1.1h0m.9 1h0m.6-5.2h0m.3 4.2h0m.1 2h0m.5-2h0m.2-2.1h0"/>
<path stroke="#a01fab" d="M140.7 265.2h0m5.4-1.1h0m1.6 0h0m9.5 1.1h0"/>
<path stroke="#008bfb" d="M129 266.2h0m.6 0h0m2.9-3.1h0m.4 2.1h0m.3-1.1h0m.6 2.1h0m.2 2.1h0m.7-3.1h0m1.6-3.1h0m.2 2h0m.4 2.1h0m.3 1.1h0m0-5.2h0m.4 3.1h0"/>
<path stroke="#6c54d6" d="M128.1 265.2h0m1.9 0h0m5.1 3.1h0m1.7 1h0m.3-6.2h0"/>
<path stroke="#a01fab" d="M143.3 265.2h0m6.6 0h0m.8 1h0m3.2-1h0"/>
<path stroke="#e50080" d="M140.8 266.2h0m3.1-2.1h0m2 2.1h0"/>
<path stroke="#ff0051" d="M141.7 264.1h0m.5 0h0m1.4 3.2h0m1.1-1.1h0m.2-2.1h0m.4 2.1h0m.2-2.1h0m.2 1.1h0m.9 1h0m.5 0h0m3.1 0h0m3.6 0h0"/>
<path stroke="#a01fab" d="M139.6 280.6h0m3.8 0h0m2.6 0h0"/>
<path stroke="#008bfb" d="M139.7 279.6h0m.3-1h0m2.2 2h0m.5-1h0m2.2 1h0m1.3-1h0m.4 0h0m3.5 0h0m12.7 0h0"/>
<path stroke="#6c54d6" d="M146.6 280.6h0m1.3-1h0"/>
<path stroke="#ff0051" d="M126.2 279.6h0m1.9 0h0m3.5-1h0m1.1 1h0m.5 0h0m1.2 0h0m.1 1h0m1.1-4.1h0m.5 5.2h0m.3-3.1h0m1.3 3.1h0"/>
<path stroke="#e50080" d="M130.8 280.6h0m.4 0h0m.4-1h0m1.2-1h0m.5 2h0m.9-3.1h0m.7 2.1h0m1.2 1h0m.1-3.1h0m.9 1.1h0m.7 1h0"/>
<path stroke="#a01fab" d="M140.1 279.6h0m1-1h0m2 1h0m8.9 0h0"/>
<path stroke="#e50080" d="M130.5 279.6h0m.7 0h0m.9-1h0m2.2 0h0m.7 2h0m1.2-4.1h0m.4 5.2h0m.6 2.1h0"/>
<path stroke="#ff0051" d="M129.7 280.6h0m1.2-1h0m1.6-1h0m.4 1h0m.6-1h0m.1 3.1h0m1-4.2h0m.4 1.1h0m.1-1.1h0m.2 4.2h0m.3-4.2h0m.1 2.1h0m.3-1h0m.4-1.1h0m.6 5.2h0m.3 0h0m.1-3.1h0"/>
<path stroke="#008bfb" d="M139 279.6h0m2.3 0h0m2.8 0h0m1.5 1h0m5.9-1h0"/>
<path stroke="#6c54d6" d="M139.3 281.7h0m2.7-2.1h0"/>
<path stroke="#6c54d6" d="M140 281.7h0m.9-1.1h0m3.7-1h0m1.1 0h0m3 1h0"/>
<path stroke="#008bfb" d="M139.3 280.6h0m1 0h0m.2-2h0m1.8 0h0m4.9 1h0"/>
<path stroke="#a01fab" d="M141.7 280.6h0m2.1 0h0m22.2-1h0"/>
<path stroke="#ff0051" d="M128.9 279.6h0m1.3 0h0m3.6 1h0m.2 1.1h0m0-1.1h0m.5 1.1h0m.2-3.1h0m.8 4.1h0m1-3.1h0m.2-3.1h0m.2 3.1h0m.2 2.1h0m.6-4.2h0"/>
<path stroke="#e50080" d="M131.9 280.6h0m.1-1h0m.3 1h0m.8 0h0m2.8 0h0m.6 0h0m.4 3.2h0m.1-3.2h0m.3-4.1h0m.3 6.2h0"/>
<path stroke="#e50080" d="M129.5 279.6h0m4.2-1h0m.2 1h0m1.3 0h0m.7 2.1h0m1.5-3.1h0"/>
<path stroke="#008bfb" d="M139.2 279.6h0m.3-1h0m1.1 1h0m2.1 1h0m1.7 0h0m15.1-1h0"/>
<path stroke="#ff0051" d="M127.1 279.6h0m2.8 0h0m3.3 2.1h0m1.6 0h0m.5-1.1h0m.5 2.1h0m.3-3.1h0m.2 3.1h0m.5-5.2h0m.3-2.1h0m.4 5.2h0"/>
<path stroke="#a01fab" d="M142.5 279.6h0m.5 1h0m.5-1h0m.2-1h0m5.7 1h0"/>
<path stroke="#6c54d6" d="M141.6 278.6h0m.3 1h0m3.1 0h0m.3 0h0m2.1 1h0m.2-1h0m.9 0h0m2.1 0h0"/>
<path stroke="#6c54d6" d="M140.5 294h0m1.6-.8h0"/>
<path stroke="#008bfb" d="M139.5 295.8h0m1.9-1.8h0m1.4 0h0m4.4 0h0m.2 .9h0m3.8-.9h0"/>
<path stroke="#e50080" d="M129.9 294h0m3.3 1.8h0m2.6-.9h0m.2-2.6h0m.2 4.3h0m.6-5.2h0m1 4.4h0"/>
<path stroke="#ff0051" d="M126.2 294h0m1.2 0h0m1.5 0h0m2.5 .9h0m1.3-1.7h0m1.8 2.6h0m.5 .8h0m0-4.3h0m.1 1.7h0m.1 .9h0m.2 1.7h0m.4-5.2h0m.2 3.5h0m.4-3.5h0m.5-.8h0m.2 2.6h0m.2 4.3h0m.3-6.1h0"/>
<path stroke="#a01fab" d="M143.7 294.9h0m4-.9h0m1.3 0h0m11 0h0m6 0h0"/>
<path stroke="#6c54d6" d="M139.9 293.2h0m1.5 1.7h0m3 0h0"/>
<path stroke="#ff0051" d="M127.8 294h0m.8 0h0m.7 0h0m1.8 0h0m1.4 1.8h0m2.7-4.4h0m.3 4.4h0m1.3 .8h0m.1-4.3h0m.1 5.2h0m.1-1.7h0m.2-3.5h0m.1 6h0"/>
<path stroke="#a01fab" d="M142.3 294.9h0m.8 0h0m.8-.9h0m.8-.8h0"/>
<path stroke="#008bfb" d="M139.2 292.3h0m.4 2.6h0m2-1.7h0m.9 .8h0m.8-.8h0m1.2 .8h0m1.6 0h0m.5 0h0m.3 0h0m1.8 .9h0m3.1-.9h0"/>
<path stroke="#e50080" d="M130.4 294h0m3-.8h0m.5 2.6h0m.4-1.8h0m.6 1.8h0m.4-1.8h0m.4-1.7h0m1.7-.9h0"/>
<path stroke="#ff0051" d="M133.3 292.3h0m.5 1.7h0m.4-.8h0m0 1.7h0m1.9 2.6h0m.1-4.3h0m.1-1.8h0m.1 .9h0m.1 .9h0m.1 3.4h0m.1-1.7h0m.3-.9h0m.4 0h0m.1 .9h0"/>
<path stroke="#008bfb" d="M139 294h0m.3 .9h0m.2-1.7h0m.3 .8h0m1.1 .9h0m.1-.9h0m7.4 0h0m5 0h0"/>
<path stroke="#e50080" d="M131.5 294h0m.3 .9h0m4.1 1.7h0m0-2.6h0m.2 1.8h0m.5 1.7h0m.1-1.7h0m.5 .8h0m0-6h0m.5 6h0"/>
<path stroke="#6c54d6" d="M141.7 294h0m.5 0h0m2.6 .9h0m7.4-.9h0"/>
<path stroke="#a01fab" d="M140.3 295.8h0m.9-2.6h0m4.4 1.7h0"/>
<path stroke="#ff0051" d="M130.1 294h0m.2 .9h0m2.2 0h0m.5-.9h0m0-.8h0m.7 1.7h0m.2-2.6h0m.4 0h0m.4 2.6h0m.9-1.7h0m.8 .8h0m1.2-1.7h0m.1 .9h0"/>
<path stroke="#e50080" d="M130.8 294.9h0m1.2-1.7h0m.3 .8h0m1.3-.8h0m1 0h0m.9-.9h0"/>
<path stroke="#a01fab" d="M146.1 294.9h0m.5 0h0m1.5-.9h0m1.5 .9h0m7.4-.9h0m6 0h0"/>
<path stroke="#008bfb" d="M139.2 294h0m.5-.8h0m.5 1.7h0m.6-1.7h0m1 1.7h0m1.1 0h0m.6-.9h0m1.6 0h0m5 0h0"/>
<path stroke="#6c54d6" d="M141.1 295.8h0m.8 0h0m3.4-1.8h0m.4 0h0m4.1 0h0"/>
<path stroke="#6c54d6" d="M138.1 310.5h0m4.4-1h0m2.1 0h0"/>
<path stroke="#e50080" d="M128.1 308.4h0m3.5 0h0m.3-1h0m1.2 0h0m.7 1h0"/>
<path stroke="#ff0051" d="M129.5 308.4h0m3.7 0h0m.2 2.1h0m1.4-2.1h0m.1 1.1h0m.3-2.1h0m0 1h0m.2 2.1h0m.3-2.1h0m1.3 4.2h0m.4-4.2h0"/>
<path stroke="#008bfb" d="M137.7 308.4h0m.8-1h0m.7 0h0m.3 1h0m.5 0h0m.7 0h0m1.2 0h0m.9-1h0m2.3 2.1h0m2.9-1.1h0m8.2 0h0"/>
<path stroke="#ff0051" d="M121.1 308.4h0m6 0h0m1.5 0h0m1.8 0h0m2 0h0m1.6-1h0m1 2.1h0m.4-2.1h0m.3-1h0m.1 3.1h0m.5 0h0m.2-1.1h0"/>
<path stroke="#e50080" d="M129 308.4h0m2.3 1.1h0m3.5 1h0m.8-1h0m1.2 0h0m.4-2.1h0"/>
<path stroke="#008bfb" d="M137.6 306.4h0m1.1 3.1h0m1.8-2.1h0m1.3 2.1h0m.6-1.1h0m.4 1.1h0m1-1.1h0m1 0h0"/>
<path stroke="#6c54d6" d="M138.5 308.4h0m1.8 1.1h0m1-2.1h0m5.7 1h0"/>
<path stroke="#ff0051" d="M119.2 308.4h0m3.8 0h0m7.2 0h0m.4 1.1h0m1.9-2.1h0m.9 2.1h0m.9-2.1h0m.2 2.1h0m.2-2.1h0m1.5 0h0m.2 3.1h0m.3 0h0m.5-1h0"/>
<path stroke="#008bfb" d="M137 305.3h0m.3 3.1h0m.2-1h0m.7 1h0m.1 1.1h0m.6 0h0m.2-1.1h0m1.7 1.1h0m.3-1.1h0m.5 0h0m2.7 0h0m1.3 0h0"/>
<path stroke="#e50080" d="M117.3 308.4h0m15.6 0h0m1.7 0h0"/>
<path stroke="#6c54d6" d="M137.5 309.5h0m8.9-1.1h0"/>
<path stroke="#ff0051" d="M127.6 308.4h0m1.5 1.1h0m1.8 0h0m1.9 0h0m.9-2.1h0m2.4 3.1h0m.5-3.1h0m.2 1h0m.2 3.2h0m.3-1.1h0m.2 0h0"/>
<path stroke="#e50080" d="M129.8 308.4h0m.2 1.1h0m1.1-1.1h0m.9 1.1h0m1.5 0h0m.6 0h0m.1-1.1h0"/>
<path stroke="#6c54d6" d="M137.2 306.4h0m.6 3.1h0m1.4 1h0m1-2.1h0m2.9 0h0m.4 1.1h0"/>
<path stroke="#008bfb" d="M137.4 311.6h0m.6-4.2h0m1.7 2.1h0m.2-2.1h0m1.3 0h0m.3 2.1h0m3.8-1.1h0"/>
<path stroke="#6c54d6" d="M139.1 323.9h0m1.9-2.1h0m1.1 1.1h0m1.4-1.1h0m2.2 1.1h0"/>
<path stroke="#ff0051" d="M132.3 321.8h0m.2 1.1h0m1.2 1h0m.4-1h0m.5 0h0m.2-2.1h0m.5 3.1h0m1-4.2h0m.1 5.2h0m.1-4.1h0m.1-1.1h0m.9 6.3h0m.1-3.1h0m.1 2h0"/>
<path stroke="#008bfb" d="M139.4 320.8h0m.4 3.1h0m1.6-1h0m1 1h0m.2-1h0m1.7 0h0m3.9 0h0"/>
<path stroke="#e50080" d="M131.3 322.9h0m1.8-1.1h0m2.7-1h0m1.9 1h0m.1 2.1h0"/>
<path stroke="#e50080" d="M129.5 322.9h0m2.3 1h0m1.4-1h0m1.9-2.1h0m.5 2.1h0m.5 2h0m.4-1h0m.9 1h0"/>
<path stroke="#ff0051" d="M130.2 322.9h0m4.7 0h0m.4 0h0m.5 0h0m.2 1h0m.6-1h0m.3 2h0m.1-5.2h0m.3 6.3h0m.4-5.2h0"/>
<path stroke="#6c54d6" d="M140.8 322.9h0m.5 1h0m5.3-1h0"/>
<path stroke="#008bfb" d="M140 323.9h0m.5-1h0m1.4 1h0m.3 0h0m.2-2.1h0m.9 1.1h0m.3 0h0m.9 1h0m2.7-1h0m13.8 0h0"/>
<path stroke="#008bfb" d="M139.3 321.8h0m1.8 1.1h0m.6-1.1h0m.1 1.1h0m1.4 1h0m.6 0h0m1-1h0m.3 1h0m1.1-1h0m1.5 0h0"/>
<path stroke="#6c54d6" d="M139.7 321.8h0m3.1 1.1h0m1.8 0h0"/>
<path stroke="#ff0051" d="M132.6 323.9h0m.4-1h0m.3 1h0m1.1 1h0m.6 0h0m.5-4.1h0m.1 3.1h0m1.1 2.1h0m.3-5.2h0m.2 2.1h0"/>
<path stroke="#e50080" d="M126.2 322.9h0m2.9 0h0m2.5 0h0m3.5 1h0m.3-2.1h0m1 0h0m.9 5.2h0m.3-7.3h0"/>
<path stroke="#ff0051" d="M130.4 323.9h0m1.8-1h0m1.6 0h0m.1-1.1h0m.4 2.1h0m1.2 1h0m.8-2h0m.6 1h0m.6 0h0"/>
<path stroke="#e50080" d="M130.9 322.9h0m1-1.1h0m1 2.1h0m1.3-3.1h0m.4 1h0m1.2 0h0m.2 4.2h0m.7-5.2h0m.1 1h0"/>
<path stroke="#008bfb" d="M140.3 321.8h0m5.1 1.1h0m.6 1h0m3.5-1h0m7.5 0h0"/>
<path stroke="#6c54d6" d="M139.1 322.9h0m.4 2h0m.6-2h0m.5 1h0m.1-2.1h0m.3 2.1h0m3-1h0m5.2 0h0"/>
<path stroke="#e50080" d="M138.7 336h0m.7 1.3h0m.6 0h0m3.5-1.3h0m2.8 1.3h0"/>
<path stroke="#008bfb" d="M122.2 337.3h0m12.4 1.3h0m1.8 1.3h0m.9 0h0"/>
<path stroke="#6c54d6" d="M134 337.3h0"/>
<path stroke="#ff0051" d="M138.9 337.3h0m1.1-1.3h0m.2 2.6h0m.6-2.6h0m.2 2.6h0m1.9-2.6h0m.1 1.3h0m1.5 0h0m.3 0h0m.3 0h0m1.9 0h0m11.6 0h0"/>
<path stroke="#a01fab" d="M133.4 337.3h0m3.5 2.6h0m.2-2.6h0m.7 1.3h0m.1 1.3h0"/>
<path stroke="#a01fab" d="M131.5 337.3h0m2.8 1.3h0m.7 0h0m1.1 1.3h0m.9-5.2h0"/>
<path stroke="#6c54d6" d="M136.8 336h0m.7 2.6h0m.1-1.3h0"/>
<path stroke="#ff0051" d="M138 341.2h0m.2-2.6h0m.4 0h0m.2 0h0m.5-2.6h0m1.8 0h0m.6 0h0m1.5 2.6h0m5.7-1.3h0"/>
<path stroke="#e50080" d="M138.1 339.9h0m.4 0h0m.5-3.9h0m1.6 2.6h0m.1-1.3h0m1.1 0h0m1.6 0h0m.3 0h0"/>
<path stroke="#008bfb" d="M132.2 337.3h0m.3 0h0m1.8 0h0"/>
<path stroke="#6c54d6" d="M136.1 338.6h0m1.7-1.3h0"/>
<path stroke="#ff0051" d="M139.2 339.9h0m.1-1.3h0m.8 0h0m.2 1.3h0m1.1-1.3h0m.6 0h0m.1-2.6h0m.7 2.6h0m1.3-1.3h0m.1 1.3h0m.2 0h0m1.1-1.3h0m.5 0h0m1.8 0h0m.7 0h0"/>
<path stroke="#008bfb" d="M135.4 337.3h0m.5-1.3h0m.5 1.3h0"/>
<path stroke="#e50080" d="M138.4 337.3h0m.1 0h0m2 0h0"/>
<path stroke="#a01fab" d="M133.5 338.6h0m2.2 0h0m.8 0h0m1.5-3.9h0"/>
<path stroke="#e50080" d="M139.5 339.9h0m1.9-2.6h0m1 0h0m1.4 1.3h0m2.7-1.3h0"/>
<path stroke="#008bfb" d="M129.6 337.3h0m1.4 0h0m2.1 0h0m3.2-1.3h0m.4 2.6h0m1-2.6h0"/>
<path stroke="#6c54d6" d="M133.8 338.6h0m.9-2.6h0m.4 0h0"/>
<path stroke="#ff0051" d="M138.3 336h0m1.3 1.3h0m.1 1.3h0m.1-2.6h0m.6 0h0m2.2 2.6h0m3 0h0m1.8-1.3h0"/>
<path stroke="#a01fab" d="M133.7 336h0m1.2 1.3h0m.4-1.3h0m.2 2.6h0m.5-1.3h0m1.3-1.3h0"/>
<text x="51.50" y="210.35" font-size="7.50" text-anchor="end" font-weight="normal" fill="#262626" textLength="18.26" lengthAdjust="spacingAndGlyphs">UPSIT</text>
<text x="51.50" y="224.77" font-size="7.50" text-anchor="end" font-weight="normal" fill="#262626" textLength="44.29" lengthAdjust="spacingAndGlyphs">Family history</text>
<text x="51.50" y="239.19" font-size="7.50" text-anchor="end" font-weight="normal" fill="#262626" textLength="12.27" lengthAdjust="spacingAndGlyphs">PRS</text>
<text x="51.50" y="253.61" font-size="7.50" text-anchor="end" font-weight="normal" fill="#262626" textLength="22.69" lengthAdjust="spacingAndGlyphs">RBDSQ</text>
<text x="51.50" y="268.03" font-size="7.50" text-anchor="end" font-weight="normal" fill="#262626" textLength="21.23" lengthAdjust="spacingAndGlyphs">SCOPA</text>
<text x="51.50" y="282.45" font-size="7.50" text-anchor="end" font-weight="normal" fill="#262626" textLength="18.28" lengthAdjust="spacingAndGlyphs">SDMT</text>
<text x="51.50" y="296.87" font-size="7.50" text-anchor="end" font-weight="normal" fill="#262626" textLength="18.14" lengthAdjust="spacingAndGlyphs">MoCA</text>
<text x="51.50" y="311.29" font-size="7.50" text-anchor="end" font-weight="normal" fill="#262626" textLength="13.63" lengthAdjust="spacingAndGlyphs">STAI</text>
<text x="51.50" y="325.71" font-size="7.50" text-anchor="end" font-weight="normal" fill="#262626" textLength="15.66" lengthAdjust="spacingAndGlyphs">HVLT</text>
<text x="51.50" y="340.13" font-size="7.50" text-anchor="end" font-weight="normal" fill="#262626" textLength="21.70" lengthAdjust="spacingAndGlyphs">HRSUP</text>
<text x="7.40" y="198.20" font-size="10.00" text-anchor="start" font-weight="bold" fill="#000">C</text>
<line x1="63.30" y1="351.20" x2="239.80" y2="351.20" stroke="#444" stroke-width="0.9"/>
<line x1="68.72" y1="351.20" x2="68.72" y2="353.00" stroke="#444" stroke-width="0.6"/>
<text x="68.72" y="359.38" font-size="6.60" text-anchor="middle" font-weight="normal" fill="#262626" textLength="12.63" lengthAdjust="spacingAndGlyphs">−0.4</text>
<line x1="103.46" y1="351.20" x2="103.46" y2="353.00" stroke="#444" stroke-width="0.6"/>
<text x="103.46" y="359.38" font-size="6.60" text-anchor="middle" font-weight="normal" fill="#262626" textLength="12.63" lengthAdjust="spacingAndGlyphs">−0.2</text>
<line x1="138.20" y1="351.20" x2="138.20" y2="353.00" stroke="#444" stroke-width="0.6"/>
<text x="138.20" y="359.38" font-size="6.60" text-anchor="middle" font-weight="normal" fill="#262626" textLength="8.27" lengthAdjust="spacingAndGlyphs">0.0</text>
<line x1="172.94" y1="351.20" x2="172.94" y2="353.00" stroke="#444" stroke-width="0.6"/>
<text x="172.94" y="359.38" font-size="6.60" text-anchor="middle" font-weight="normal" fill="#262626" textLength="8.27" lengthAdjust="spacingAndGlyphs">0.2</text>
<line x1="207.68" y1="351.20" x2="207.68" y2="353.00" stroke="#444" stroke-width="0.6"/>
<text x="207.68" y="359.38" font-size="6.60" text-anchor="middle" font-weight="normal" fill="#262626" textLength="8.27" lengthAdjust="spacingAndGlyphs">0.4</text>
<text x="91.50" y="368.63" font-size="7.30" text-anchor="start" font-weight="normal" fill="#222" textLength="122.10" lengthAdjust="spacingAndGlyphs">SHAP value (impact on model output)</text>
<rect x="251.00" y="193.10" width="2.2" height="158.00" fill="url(#cb)"/>
<text x="254.90" y="195.78" font-size="6.60" text-anchor="start" font-weight="normal" fill="#1a1a1a" textLength="12.39" lengthAdjust="spacingAndGlyphs">High</text>
<text x="254.90" y="354.78" font-size="6.60" text-anchor="start" font-weight="normal" fill="#1a1a1a" textLength="10.62" lengthAdjust="spacingAndGlyphs">Low</text>
<text x="0" y="0" font-size="7.0" text-anchor="middle" fill="#222" transform="translate(273.10 272.70) rotate(-90)" textLength="43.00" lengthAdjust="spacingAndGlyphs">Feature value</text>
<line x1="337.50" y1="207.50" x2="512.90" y2="207.50" stroke="#e6e6e6" stroke-width="0.4" stroke-dasharray="0.4 2.2"/>
<line x1="337.50" y1="222.07" x2="512.90" y2="222.07" stroke="#e6e6e6" stroke-width="0.4" stroke-dasharray="0.4 2.2"/>
<line x1="337.50" y1="236.64" x2="512.90" y2="236.64" stroke="#e6e6e6" stroke-width="0.4" stroke-dasharray="0.4 2.2"/>
<line x1="337.50" y1="251.21" x2="512.90" y2="251.21" stroke="#e6e6e6" stroke-width="0.4" stroke-dasharray="0.4 2.2"/>
<line x1="337.50" y1="265.78" x2="512.90" y2="265.78" stroke="#e6e6e6" stroke-width="0.4" stroke-dasharray="0.4 2.2"/>
<line x1="337.50" y1="280.35" x2="512.90" y2="280.35" stroke="#e6e6e6" stroke-width="0.4" stroke-dasharray="0.4 2.2"/>
<line x1="337.50" y1="294.92" x2="512.90" y2="294.92" stroke="#e6e6e6" stroke-width="0.4" stroke-dasharray="0.4 2.2"/>
<line x1="337.50" y1="309.49" x2="512.90" y2="309.49" stroke="#e6e6e6" stroke-width="0.4" stroke-dasharray="0.4 2.2"/>
<line x1="337.50" y1="324.06" x2="512.90" y2="324.06" stroke="#e6e6e6" stroke-width="0.4" stroke-dasharray="0.4 2.2"/>
<line x1="337.50" y1="338.63" x2="512.90" y2="338.63" stroke="#e6e6e6" stroke-width="0.4" stroke-dasharray="0.4 2.2"/>
<line x1="434.20" y1="192.30" x2="434.20" y2="353.40" stroke="#aaaaaa" stroke-width="0.8"/>
<path stroke="#e50080" d="M402.3 208.2h0m15.4-.7h0m1.9 .7h0m1.2-2h0m.8 1.3h0m5.7-.7h0"/>
<path stroke="#9233b9" d="M442.5 209.5h0"/>
<path stroke="#ca0097" d="M440.5 206.2h0"/>
<path stroke="#0088fa" d="M464.9 206.8h0"/>
<path stroke="#0079f3" d="M457.8 208.2h0"/>
<path stroke="#008bfb" d="M450.3 208.8h0m.2-3.3h0m1.1 5.9h0m8.4-1.9h0m.3-5.9h0m.1 3.9h0m.5 2.6h0m3.3-.6h0"/>
<path stroke="#f70069" d="M428 207.5h0"/>
<path stroke="#cf0093" d="M433.4 208.2h0"/>
<path stroke="#8244c7" d="M441.3 210.8h0"/>
<path stroke="#0076f1" d="M459.3 207.5h0m3.2 1.3h0"/>
<path stroke="#b00fa5" d="M443.3 206.2h0"/>
<path stroke="#9430b6" d="M442.4 206.2h0"/>
<path stroke="#c5009a" d="M435.8 207.5h0"/>
<path stroke="#ff0051" d="M366.2 208.2h0m3.1-2.7h0m.1 2h0m.4-1.3h0m1.2 3.3h0m.6-1.3h0m.5-2.7h0m1.3 2h0m0-.7h0m.2 2h0m.2-.6h0m.9-.7h0m3 .7h0m.5-1.4h0m.2 .7h0m3.5 0h0m1.3 .7h0m.1-.7h0m5.5-.7h0m1.2 0h0m.6-.6h0m2 2h0m5.7-.7h0m1.9 .7h0m1.7-.7h0m2.9 .7h0m.6-1.4h0m.7 1.4h0m3-2h0m2.6 2h0m5.2 0h0m4.3 .6h0m.8-.6h0m6.2-1.4h0"/>
<path stroke="#d9008c" d="M435 208.2h0"/>
<path stroke="#6c54d6" d="M451.1 204.9h0m.4 1.3h0m.8-.7h0m.4 1.3h0m.1-1.9h0m.6 3.9h0m.8-2.6h0m7 3.9h0m.3-2.6h0"/>
<path stroke="#9829b1" d="M439.1 206.2h0m1.5 2h0"/>
<path stroke="#007ef6" d="M450.5 207.5h0"/>
<path stroke="#f10072" d="M437.7 206.8h0"/>
<path stroke="#ec0078" d="M430.3 207.5h0"/>
<path stroke="#a01fab" d="M397.6 206.8h0m.1 2h0m6.8-2.6h0m18.7 .6h0"/>
<path stroke="#962db3" d="M434.5 207.5h0"/>
<path stroke="#a01fab" d="M398 208.2h0m8.5-.7h0m16.8-1.3h0"/>
<path stroke="#4664e4" d="M463.8 207.5h0"/>
<path stroke="#0073ef" d="M461.5 209.5h0"/>
<path stroke="#d6008e" d="M444.3 210.1h0"/>
<path stroke="#e50080" d="M408.5 206.8h0m1.6 2h0m1.5-2h0m9.5-1.9h0"/>
<path stroke="#f10072" d="M430.8 208.2h0"/>
<path stroke="#9a25ae" d="M442.1 208.2h0"/>
<path stroke="#008bfb" d="M450.9 208.2h0m2.1-2h0m1.5 .6h0m4.9 0h0m5.1 2h0m4.1-1.3h0m5.8 0h0m2.8 0h0m2.9 0h0m12.2 0h0m12.7 0h0"/>
<path stroke="#bc009f" d="M433.1 207.5h0"/>
<path stroke="#0086fa" d="M464.2 206.2h0"/>
<path stroke="#6c54d6" d="M452.5 208.2h0m.6 2.6h0m6-5.3h0m1.1 2.7h0m.7-4h0m1 4h0"/>
<path stroke="#007cf5" d="M464.3 208.2h0"/>
<path stroke="#7d49cc" d="M440.6 209.5h0m16.7-2h0"/>
<path stroke="#7350d2" d="M451.7 206.8h0"/>
<path stroke="#6857d8" d="M447.5 208.8h0"/>
<path stroke="#4c63e3" d="M466.1 208.2h0"/>
<path stroke="#b604a2" d="M437.9 207.5h0"/>
<path stroke="#794cce" d="M453.7 209.5h0"/>
<path stroke="#aa17a7" d="M440.1 208.2h0"/>
<path stroke="#0081f7" d="M463.6 206.8h0"/>
<path stroke="#7f47c9" d="M447.1 208.2h0"/>
<path stroke="#ff0051" d="M355.9 207.5h0m4.6 0h0m5.1 0h0m.3 0h0m1.9 2h0m.3-2h0m.2 1.3h0m.7-3.9h0m.3 4.6h0m.1-1.3h0m.8-2h0m.3 1.3h0m.6 1.3h0m.6 .7h0m.3-.7h0m.7-1.3h0m5.5-2h0m3.2 2.7h0m2.3 0h0m2.1 .6h0m2.5-.6h0m2.3-.7h0m1.2 0h0m2.1-.7h0m1.8 2h0m3.5-1.3h0m.9 0h0m4.1 0h0m1.2 1.3h0m.3-1.3h0m3.4-.7h0m3.1 1.4h0m3.1-.7h0m6.8 2.6h0m3.2-2.6h0m3 1.3h0"/>
<path stroke="#ee0076" d="M434.3 206.8h0"/>
<path stroke="#0076f1" d="M462.4 206.8h0"/>
<path stroke="#cd0095" d="M440.9 208.8h0"/>
<path stroke="#ec0078" d="M430.7 206.8h0"/>
<path stroke="#0082f8" d="M461.7 204.9h0"/>
<path stroke="#0077f2" d="M445.5 207.5h0m14.8-.7h0"/>
<path stroke="#8542c5" d="M439 206.8h0"/>
<path stroke="#ff0051" d="M368.2 205.5h0m.4 3.3h0m.7 1.3h0m.7 .7h0m1.4-5.3h0m.1 2.7h0m2.4 1.3h0m4.1-3.3h0m.4 2.6h0m.7-2h0m1 1.4h0m.4 .6h0m3.4-1.3h0m.2-.7h0m1.5 .7h0m.9 0h0m1.2 .7h0m.2-1.4h0m.4 .7h0m1.6 1.3h0m1.3-.6h0m3.9-.7h0m.4-1.3h0m.4 .6h0m.1 .7h0m12.6 1.3h0m7.8-2h0m4.7 2.7h0m2.2 0h0m2.9-1.3h0"/>
<path stroke="#a01fab" d="M443.5 209.5h0"/>
<path stroke="#dd0088" d="M429.9 208.8h0"/>
<path stroke="#d10091" d="M428.9 207.5h0"/>
<path stroke="#8f36bb" d="M445.4 208.2h0"/>
<path stroke="#962db3" d="M443.1 206.8h0"/>
<path stroke="#6c54d6" d="M450.5 206.2h0m1.1 4.6h0m.7-3.3h0m1 2.6h0m6.5 2h0m1-6.6h0m.1 5.3h0m1-4.6h0m.4 4.6h0m.4-2.6h0"/>
<path stroke="#8d39be" d="M440.9 204.9h0"/>
<path stroke="#e50080" d="M396.6 208.2h0m12.2 0h0m1.6-.7h0m7.3-1.3h0m5 2h0m2.3-.7h0"/>
<path stroke="#007bf4" d="M465.5 205.5h0"/>
<path stroke="#aa17a7" d="M446.6 206.8h0"/>
<path stroke="#575fdf" d="M443.8 205.5h0"/>
<path stroke="#4c63e3" d="M454.3 208.2h0"/>
<path stroke="#e10084" d="M439.7 207.5h0"/>
<path stroke="#b900a0" d="M440.9 205.5h0"/>
<path stroke="#9829b1" d="M443.8 207.5h0"/>
<path stroke="#006fed" d="M458.6 209.5h0"/>
<path stroke="#9d22ac" d="M442.4 208.8h0"/>
<path stroke="#b30aa3" d="M438.1 208.2h0"/>
<path stroke="#cf0093" d="M435.9 208.2h0"/>
<path stroke="#008bfb" d="M451.3 209.5h0m2.5-.7h0m.2-3.3h0m5.7 .7h0m.9-1.3h0m1.6 .6h0m9.3 2h0m11.5 0h0"/>
<path stroke="#605bdc" d="M444.1 208.8h0m9.9-1.3h0"/>
<path stroke="#db008a" d="M430.7 205.5h0"/>
<path stroke="#008bfb" d="M459.5 208.2h0m.2 .6h0m5.9-1.3h0m23.9 0h0"/>
<path stroke="#9d22ac" d="M440.3 211.4h0"/>
<path stroke="#4066e6" d="M457.4 208.8h0"/>
<path stroke="#b30aa3" d="M431.6 208.2h0"/>
<path stroke="#ee0076" d="M432 207.5h0"/>
<path stroke="#6c54d6" d="M450.2 209.5h0m1.2-5.3h0m.8 5.3h0m7.1-3.3h0m1.2-3.3h0m2.8 5.9h0"/>
<path stroke="#575fdf" d="M460 211.4h0"/>
<path stroke="#e30082" d="M428.8 208.2h0"/>
<path stroke="#cd0095" d="M442.6 207.5h0"/>
<path stroke="#5261e1" d="M449.9 208.2h0"/>
<path stroke="#306ae9" d="M450.4 206.8h0"/>
<path stroke="#8244c7" d="M451.4 210.1h0"/>
<path stroke="#9829b1" d="M441.5 206.8h0"/>
<path stroke="#883fc2" d="M447 207.5h0"/>
<path stroke="#bc009f" d="M435 208.8h0"/>
<path stroke="#a31daa" d="M442.4 206.8h0"/>
<path stroke="#ad13a6" d="M439.5 208.8h0"/>
<path stroke="#8d39be" d="M448 207.5h0m3.6-2h0"/>
<path stroke="#962db3" d="M441.6 210.1h0"/>
<path stroke="#e50080" d="M399.4 208.2h0m7.9-1.4h0m2.6 1.4h0m.4 1.3h0m8-2h0m4.2-2h0m0 2h0m.1 1.3h0m.6 1.3h0m6.5-3.9h0"/>
<path stroke="#8f36bb" d="M440.5 204.2h0m11 3.3h0"/>
<path stroke="#b00fa5" d="M435.6 206.2h0"/>
<path stroke="#aa17a7" d="M441.5 207.5h0m6.2 .7h0"/>
<path stroke="#266cea" d="M457.9 206.8h0"/>
<path stroke="#d10091" d="M430.7 209.5h0"/>
<path stroke="#a01fab" d="M395 208.2h0m48.1 0h0"/>
<path stroke="#605bdc" d="M451.6 208.8h0"/>
<path stroke="#ff0051" d="M367.5 206.2h0m.3 .6h0m.7 1.4h0m.4-4h0m.7 2.6h0m.8 3.3h0m.4-3.3h0m1.3 0h0m.3-.6h0m.7 0h0m.1-.7h0m3.7 2h0m.7 2h0m2.3-2h0m0-1.3h0m2.4 2.6h0m.3-2.6h0m0 .6h0m2.6 1.4h0m.2-1.4h0m5 1.4h0m1-1.4h0m1.4 .7h0m12.4 2h0m2.6-2h0m2.3 0h0m2.6 0h0m3.7 1.3h0m3.4-1.3h0m1.7-.7h0m0-1.3h0m5.4 2.7h0"/>
<path stroke="#6f52d4" d="M422.8 223.5h0m10.4-.5h0"/>
<path stroke="#ff0051" d="M457.1 223h0m13 0h0m1.8-.5h0m13.1-.4h0m9 0h0"/>
<path stroke="#dd0088" d="M445.1 220.6h0"/>
<path stroke="#008bfb" d="M375 222.1h0m8.9 0h0m10.6 0h0m18.1 0h0"/>
<path stroke="#d40090" d="M439.2 223.5h0m3.4-4.3h0"/>
<path stroke="#3968e7" d="M417.1 222.1h0"/>
<path stroke="#9829b1" d="M427.7 221.1h0"/>
<path stroke="#db008a" d="M456.1 222.1h0"/>
<path stroke="#7d49cc" d="M424.2 222.5h0m1.2 2.4h0"/>
<path stroke="#f10072" d="M446 221.6h0"/>
<path stroke="#cd0095" d="M437.3 223.5h0"/>
<path stroke="#ff0053" d="M468.1 222.5h0"/>
<path stroke="#ee0076" d="M465 222.1h0"/>
<path stroke="#e30082" d="M451.6 222.1h0m3.6 .4h0"/>
<path stroke="#764ed0" d="M438.7 226.8h0"/>
<path stroke="#b900a0" d="M438.4 217.8h0"/>
<path stroke="#5b5ddd" d="M409.9 222.1h0"/>
<path stroke="#0073ef" d="M403.3 222.5h0"/>
<path stroke="#ad13a6" d="M428.9 223h0"/>
<path stroke="#eb007a" d="M445.1 224.9h0"/>
<path stroke="#9d22ac" d="M437.3 221.6h0"/>
<path stroke="#fc0061" d="M453.9 222.5h0"/>
<path stroke="#7f47c9" d="M420.1 221.6h0m1.5 .9h0"/>
<path stroke="#c70098" d="M443.2 223h0m1.4-.5h0m.2 1h0"/>
<path stroke="#df0086" d="M449 222.5h0"/>
<path stroke="#a01fab" d="M424.4 221.6h0m.7-2.4h0m13.6 1h0m.5 5.7h0m.8-3.4h0m.9-.9h0m2.9 2.4h0m1.5-1.9h0"/>
<path stroke="#6c54d6" d="M414.1 221.1h0m12.6 2.9h0m3.4-1.5h0m2.3 1h0m.2-4.8h0m0 5.3h0m.1-3.4h0"/>
<path stroke="#8542c5" d="M424.9 218.3h0m6.7 3.8h0"/>
<path stroke="#266cea" d="M400.5 222.1h0"/>
<path stroke="#0081f7" d="M407.2 222.1h0"/>
<path stroke="#0071ee" d="M402.7 223h0m6.1-.9h0m4.6 .4h0"/>
<path stroke="#c5009a" d="M437.3 220.2h0"/>
<path stroke="#883fc2" d="M427.9 224h0m6.3-2.4h0"/>
<path stroke="#4664e4" d="M421.9 223h0"/>
<path stroke="#f30070" d="M448.9 222.1h0"/>
<path stroke="#8a3cc0" d="M424.5 222.1h0m6.5 2.4h0m4.1-2h0"/>
<path stroke="#8f36bb" d="M446.1 222.1h0"/>
<path stroke="#e50080" d="M438.6 218.7h0m.7 1h0"/>
<path stroke="#b30aa3" d="M432.2 222.1h0"/>
<path stroke="#ff0058" d="M464.9 222.5h0m1.8 .5h0"/>
<path stroke="#9a25ae" d="M426 222.5h0"/>
<path stroke="#d10091" d="M436.3 222.5h0"/>
<path stroke="#8f36bb" d="M421.6 224h0m10.3-.5h0"/>
<path stroke="#e7007e" d="M434.8 223.5h0"/>
<path stroke="#5b5ddd" d="M435.6 222.1h0"/>
<path stroke="#0081f7" d="M404.7 222.1h0"/>
<path stroke="#8a3cc0" d="M423.1 221.6h0m3.1-.5h0"/>
<path stroke="#b604a2" d="M439.1 223h0"/>
<path stroke="#dd0088" d="M446.1 224.5h0"/>
<path stroke="#6f52d4" d="M434.5 221.1h0"/>
<path stroke="#186deb" d="M411.4 222.5h0"/>
<path stroke="#aa17a7" d="M445.2 223h0"/>
<path stroke="#eb007a" d="M467.1 223.5h0"/>
<path stroke="#306ae9" d="M420.3 223.5h0"/>
<path stroke="#9430b6" d="M431.2 224h0"/>
<path stroke="#6857d8" d="M406.9 223h0"/>
<path stroke="#4066e6" d="M421.5 221.6h0"/>
<path stroke="#c2009b" d="M442.1 221.6h0"/>
<path stroke="#7f47c9" d="M417.8 223h0"/>
<path stroke="#fd005f" d="M469.8 223.5h0"/>
<path stroke="#c5009a" d="M445.2 220.2h0"/>
<path stroke="#008bfb" d="M368.6 222.1h0m6.1 .4h0m4 0h0m1.4-.4h0m2.2 0h0m6.1 0h0m3.3 0h0m15.5-.5h0m9.1 1.4h0"/>
<path stroke="#e50080" d="M438.5 224.9h0m.5-3.3h0m.4-2.4h0"/>
<path stroke="#ff0051" d="M453.5 222.1h0m2 0h0m12.1 0h0m2.4-1h0m.9-.5h0m7.7 1.5h0"/>
<path stroke="#e30082" d="M446.1 220.6h0"/>
<path stroke="#a01fab" d="M442.4 220.6h0m.9 1.5h0m.2-1.5h0"/>
<path stroke="#f80067" d="M445.9 220.2h0m.6 2.3h0m21-.9h0"/>
<path stroke="#3968e7" d="M411.3 221.6h0m5.5 .9h0"/>
<path stroke="#fc0061" d="M450.1 222.1h0"/>
<path stroke="#8542c5" d="M407.1 222.5h0"/>
<path stroke="#ad13a6" d="M442.8 224.9h0"/>
<path stroke="#b900a0" d="M443 221.6h0"/>
<path stroke="#9d22ac" d="M413.4 222.1h0"/>
<path stroke="#c70098" d="M437 222.5h0m.9 .5h0m2.7-2.4h0"/>
<path stroke="#ec0078" d="M451.8 221.6h0"/>
<path stroke="#d6008e" d="M450 221.6h0"/>
<path stroke="#5261e1" d="M413.4 223h0"/>
<path stroke="#605bdc" d="M418.3 221.6h0m7.1-1.4h0"/>
<path stroke="#a31daa" d="M435.8 221.1h0"/>
<path stroke="#ff0056" d="M458.4 222.5h0"/>
<path stroke="#764ed0" d="M439.1 221.1h0"/>
<path stroke="#0085f9" d="M412.2 223h0"/>
<path stroke="#0089fa" d="M408.4 221.6h0"/>
<path stroke="#6c54d6" d="M421.5 220.2h0m3.2 4.3h0m1.1 1.9h0m.2-6.7h0m.4 2.8h0m5.8-3.3h0m.7 2.4h0"/>
<path stroke="#f4006e" d="M466.6 220.6h0"/>
<path stroke="#6c54d6" d="M425.2 223h0m2.1 .5h0m.9 0h0m2.3-1.4h0"/>
<path stroke="#7350d2" d="M418.8 222.1h0"/>
<path stroke="#ee0076" d="M466.5 221.1h0"/>
<path stroke="#d10091" d="M441.4 222.1h0m10.6 .4h0"/>
<path stroke="#0073ef" d="M417.9 222.1h0"/>
<path stroke="#b604a2" d="M431.1 221.1h0"/>
<path stroke="#9233b9" d="M428.7 222.1h0m3-.5h0"/>
<path stroke="#8f36bb" d="M427 220.2h0m6.9 2.8h0"/>
<path stroke="#9d22ac" d="M437.3 224h0"/>
<path stroke="#a31daa" d="M438.6 220.6h0"/>
<path stroke="#3968e7" d="M402.9 222.1h0m12.9-.5h0"/>
<path stroke="#6857d8" d="M419.2 222.5h0"/>
<path stroke="#008bfb" d="M345 222.1h0m31.6 0h0m1.4 0h0m3.7 .4h0m4.7-.4h0m6.2 .4h0m.7-.4h0m3.7 0h0m2.2 .4h0m2.4-.4h0m4.3 0h0m2.7 .4h0"/>
<path stroke="#7d49cc" d="M423.1 222.1h0"/>
<path stroke="#cd0095" d="M440 222.1h0"/>
<path stroke="#a71aa9" d="M432.7 222.5h0"/>
<path stroke="#c5009a" d="M441.8 222.5h0"/>
<path stroke="#a01fab" d="M425 224h0m6.6-1.5h0m.7-1.4h0m.8 4.3h0m4.6-3.3h0m.4-1h0m.1 1.4h0m8.3 1h0"/>
<path stroke="#8a3cc0" d="M438.3 218.3h0"/>
<path stroke="#fd005f" d="M469.6 222.5h0"/>
<path stroke="#5b5ddd" d="M418.6 222.5h0"/>
<path stroke="#006fed" d="M415.4 222.5h0"/>
<path stroke="#007ff7" d="M411.7 221.1h0"/>
<path stroke="#f6006c" d="M450.2 222.5h0m17.3 0h0"/>
<path stroke="#ff0058" d="M460.7 222.1h0"/>
<path stroke="#f70069" d="M468.4 222.1h0"/>
<path stroke="#6459da" d="M426.1 225.9h0"/>
<path stroke="#f00074" d="M446.5 221.1h0"/>
<path stroke="#e10084" d="M450.8 221.6h0"/>
<path stroke="#fa0065" d="M462.5 222.1h0"/>
<path stroke="#0071ee" d="M414 221.6h0"/>
<path stroke="#c2009b" d="M443.1 221.1h0"/>
<path stroke="#e30082" d="M456.8 221.6h0"/>
<path stroke="#b30aa3" d="M425.8 222.1h0"/>
<path stroke="#aa17a7" d="M423.1 222.5h0"/>
<path stroke="#ff0051" d="M466.4 222.5h0m5.2-.4h0"/>
<path stroke="#c70098" d="M434.7 222.1h0"/>
<path stroke="#b900a0" d="M426.2 221.6h0"/>
<path stroke="#d40090" d="M442 221.1h0"/>
<path stroke="#e50080" d="M436.2 221.6h0m3.2 4.8h0m0-1h0m3.9-.9h0m1.1-2.9h0m.6 4.3h0"/>
<path stroke="#bf009d" d="M441.6 223h0"/>
<path stroke="#605bdc" d="M420.8 221.1h0"/>
<path stroke="#794cce" d="M432 223h0"/>
<path stroke="#6c54d6" d="M421.4 222.1h0m5.4 .9h0m.9-1.4h0m3.8-1.4h0m1.1 4.7h0m.1-.4h0m.2-4.3h0"/>
<path stroke="#eb007a" d="M443 220.2h0"/>
<path stroke="#c5009a" d="M437.6 220.6h0"/>
<path stroke="#aa17a7" d="M444 219.7h0"/>
<path stroke="#f00074" d="M441.9 220.2h0"/>
<path stroke="#4664e4" d="M422.5 220.6h0"/>
<path stroke="#bf009d" d="M444.6 224.5h0"/>
<path stroke="#d40090" d="M436.9 224.5h0"/>
<path stroke="#3968e7" d="M437.2 219.7h0"/>
<path stroke="#a31daa" d="M442 224h0"/>
<path stroke="#883fc2" d="M420.3 220.6h0"/>
<path stroke="#ff0058" d="M456.1 222.5h0m1.8-.4h0"/>
<path stroke="#ee0076" d="M459.6 222.1h0"/>
<path stroke="#9233b9" d="M422.8 221.1h0m8.3-.5h0"/>
<path stroke="#186deb" d="M428 221.6h0"/>
<path stroke="#9430b6" d="M426.1 220.6h0"/>
<path stroke="#8f36bb" d="M424.9 225.4h0"/>
<path stroke="#9d22ac" d="M439.8 223h0"/>
<path stroke="#b604a2" d="M441.1 223.5h0"/>
<path stroke="#ff0056" d="M464.9 222.1h0"/>
<path stroke="#ca0097" d="M444.3 218.7h0"/>
<path stroke="#605bdc" d="M427.4 224.5h0"/>
<path stroke="#962db3" d="M429.2 221.6h0"/>
<path stroke="#7d49cc" d="M435.6 223h0"/>
<path stroke="#8244c7" d="M415.6 222.1h0"/>
<path stroke="#0071ee" d="M420.8 223h0"/>
<path stroke="#f4006e" d="M445 221.1h0"/>
<path stroke="#764ed0" d="M423.3 223h0"/>
<path stroke="#f80067" d="M461.7 222.5h0"/>
<path stroke="#a01fab" d="M425.6 221.1h0m.5 2.4h0m1.9-1h0m4.2-2.8h0m6.8 4.8h0m.3-.5h0m.4-2.9h0m4.3 1.4h0m.9 2.9h0"/>
<path stroke="#008bfb" d="M379.1 222.1h0m5.9 0h0m.1 .4h0m2.9 0h0m1.5-.4h0m1.2 .4h0m4.9-.4h0m1.5 .4h0m1.6-.4h0m3.3 .4h0m1.8-1.4h0"/>
<path stroke="#bc009f" d="M435.4 223.5h0"/>
<path stroke="#8d39be" d="M427.4 222.1h0m1.7-1.5h0"/>
<path stroke="#b900a0" d="M435.2 220.6h0"/>
<path stroke="#8542c5" d="M438.7 222.1h0"/>
<path stroke="#c70098" d="M445.9 223h0m15.9-1.4h0"/>
<path stroke="#0081f7" d="M402.9 221.6h0"/>
<path stroke="#006fed" d="M425.8 218.7h0"/>
<path stroke="#e50080" d="M443.3 223.5h0m1.2-4.3h0m.9 .5h0"/>
<path stroke="#e30082" d="M445.4 224h0"/>
<path stroke="#ff0051" d="M464.6 221.6h0m5.2 0h0m.4 .5h0m.9-.5h0"/>
<path stroke="#a71aa9" d="M446.6 224h0"/>
<path stroke="#6c54d6" d="M442 236.6h0m16.2 0h0m1.7 0h0m.8-.3h0m7.1 .3h0"/>
<path stroke="#a01fab" d="M444.3 237h0m4.6-.4h0m15.2 0h0"/>
<path stroke="#e50080" d="M434.1 236.6h0m2.1 4.9h0m.1-8.2h0m.1 3.7h0m.3 1.9h0m.2-3.8h0m.2-1.8h0m.4 3h0"/>
<path stroke="#008bfb" d="M448.6 236.3h0m1 .3h0m2.3 0h0m4.1 0h0m10.3 0h0m.2 .4h0m.5-.4h0"/>
<path stroke="#ff0051" d="M409.1 236.6h0m2.5 0h0m4.5 0h0m1 0h0m.5-.7h0m.9 1.9h0m.3-.8h0m1.2-.7h0m1.4 .7h0m4.1 0h0m.2-.4h0m.3 .4h0m1.4-.7h0m.3 1.5h0m.8 1.5h0m.5-2.7h0m.1 1.2h0m.9-1.5h0m0-.4h0m.7 1.5h0m.3-.4h0m4.6-2.6h0m.6 3.7h0m.4-2.6h0m.2 .8h0m.1 3.7h0m0-7.1h0"/>
<path stroke="#ff0051" d="M410.9 236.6h0m1.6 .4h0m3.8 0h0m.3 0h0m.5 .8h0m.6 0h0m.3-.4h0m.8 0h0m.2-.8h0m.3 1.2h0m.1-.8h0m.3-.4h0m.6 .4h0m1.5-.4h0m2 .4h0m1.3-.4h0m1.5-.7h0m1.1 .4h0m.4-.8h0m.2 0h0m.2 2.6h0m.3-.7h0m1.4-1.1h0m.2 .3h0m.8 0h0m3.8 1.2h0m.6-4.9h0m.1 2.2h0m.4 5.3h0m0-4.9h0m1.3 1.1h0"/>
<path stroke="#008bfb" d="M440.1 237.4h0m5.8-.4h0m1.1-.4h0m29 0h0m21.7 0h0"/>
<path stroke="#6c54d6" d="M467.6 237h0"/>
<path stroke="#e50080" d="M435.3 236.6h0m.2-.3h0m.1 2.6h0m.3 1.9h0m0-2.3h0m.3 1.5h0m.2-6h0m.1 2.6h0m.3 3.8h0m0-1.9h0m.2-4.5h0m.3 .4h0"/>
<path stroke="#a01fab" d="M440.6 236.3h0m8.3 .7h0"/>
<path stroke="#e50080" d="M434.2 237h0m1.3 0h0m.2-5.2h0m.1 6h0m.1-1.9h0m.2-3.4h0m.2 3.8h0m.1 3h0m.6-2.3h0m0 .8h0m.1 1.8h0"/>
<path stroke="#008bfb" d="M438.1 237h0m2.4-.4h0m4.3 .4h0m1.5-.7h0"/>
<path stroke="#6c54d6" d="M443.9 236.6h0m2.4 0h0m1 .4h0m1.7 .4h0m4.5-.8h0m1.7 0h0m2.4 .4h0m2.9-.4h0"/>
<path stroke="#ff0051" d="M406.9 236.6h0m5.9 0h0m1.9 0h0m1.4 .8h0m.2-1.5h0m.8 .4h0m.5 0h0m.2 .7h0m1.8 .4h0m1.3-.8h0m.4-.3h0m2.8 .3h0m.3-.3h0m.4 0h0m1.6 0h0m.1-.8h0m.2 1.5h0m1 .4h0m.6-2.3h0m.1 3.4h0m.7-1.5h0m.2 0h0m.4 .4h0m.9-.4h0m5.3-4.9h0m.5 2.7h0m.5 6h0"/>
<path stroke="#008bfb" d="M450 237h0m10.2 0h0m26.6-.4h0"/>
<path stroke="#6c54d6" d="M441.1 236.6h0m3.5 0h0m3.1 0h0m8.3 .4h0"/>
<path stroke="#a01fab" d="M441 237h0"/>
<path stroke="#e50080" d="M435.5 235.9h0m.1 5.2h0m0-1.5h0m.1-6h0m1 4.5h0m.1-2.2h0m.5-2.3h0m.1 3.8h0"/>
<path stroke="#ff0051" d="M407.9 236.6h0m5.6 0h0m1.1 0h0m.9 .4h0m.8-.7h0m.2-.4h0m.3 1.5h0m.5-1.9h0m.9 1.1h0m.2-.7h0m.1 .4h0m1.3-.4h0m2.5 1.1h0m.3-.4h0m.4 .4h0m.3-.7h0m.3 .3h0m2.9 1.2h0m.2-.4h0m.5-.8h0m.2 1.5h0m.2-1.1h0m.1-1.1h0m.1 .7h0m.7-2.2h0m0 4.5h0m.3-2.6h0m.1-1.5h0m0 1.1h0m.7 .7h0m5.8 .8h0m.2 0h0m1.1 1.9h0m.1-4.5h0m0 2.6h0"/>
<path stroke="#008bfb" d="M430.8 250.6h0m0 1.3h0m0-2h0m.4 2.3h0m0-2.6h0m0 .3h0m.4 2h0m.2-1h0m.1-.7h0m.1-2.6h0m0 4.6h0m0-5.6h0m.2 6.2h0m.2-2.6h0m0 1.7h0m.1-5.6h0m.1 1.3h0m0 6.9h0m.1-1.7h0m0-6.2h0m.1 5.9h0m0-4.6h0m.1 2.7h0m.2 2.6h0m.1-4.6h0m.3 5.9h0m.4-.3h0m0-.4h0m.1-5.2h0m.4 3.9h0"/>
<path stroke="#ff0051" d="M450.9 251.2h0m3.8 0h0m1.9 0h0m1.9 0h0m1.5 0h0m7.9 0h0m1.8 .3h0m2.3-.3h0m2.8 0h0m15 0h0m.4 0h0"/>
<path stroke="#008bfb" d="M430.8 251.2h0m.2 2h0m0-.7h0m.2 .3h0m.1-1.6h0m.3 3h0m.1-5.6h0m0-1.3h0m.3 4.2h0m0-2.3h0m.1 5.6h0m.1-.6h0m.4-3.6h0m0-1.4h0m.1-.9h0m.1 3.2h0m.1 .4h0m0-1h0m.1 1.9h0m.1-1.6h0m.1 1.3h0m.1-4.2h0m.1 5.9h0m.3-2.7h0m0 3.3h0m.1-2.3h0m0-3.6h0m0 .7h0m.1-1.7h0m.2 4.9h0m0-2.6h0"/>
<path stroke="#ff0051" d="M453.9 251.2h0m4 0h0m1.5 0h0m11.8 0h0m4.3 0h0m4.5 0h0m2.7 0h0m.4 .3h0m.9-.3h0m1.6 0h0m5.9 0h0"/>
<path stroke="#008bfb" d="M430.7 251.5h0m0 .7h0m.4-3.6h0m.1 5.6h0m.1-2.7h0m.1-2.3h0m.2 5.9h0m.1-5.5h0m.1 1h0m.1-.7h0m.1 4.6h0m.2-7.6h0m0 1.7h0m.2 7.2h0m0-4.6h0m.1 4.9h0m.1-8.8h0m0 7.5h0m0 .3h0m.1-8.2h0m.2 2h0m.1 3.3h0m.1-2h0m.1 3.3h0m.2-3.9h0m.1 1.3h0m0 1.9h0m0-1.6h0m.1 2.3h0m.2-4.3h0m.3 1.4h0m0 .9h0m0-.3h0m.1 .7h0m.2-2h0"/>
<path stroke="#ff0051" d="M444.3 251.2h0m1.1 0h0m1.4 0h0m1.6 0h0m4 0h0m3.2 0h0m13.7 0h0"/>
<path stroke="#008bfb" d="M430.7 250.9h0m0-.7h0m.1 2.6h0m.4-2.6h0m.1 3.3h0m.1-2.6h0m0-.3h0m.4 1.9h0m.2-.6h0m0 3.6h0m0-7.6h0m.2 5.9h0m0-5.5h0m0 4.9h0m.1-2.3h0m.1 1.3h0m0-2.6h0m.2-.7h0m.1 6.6h0m.1-5.6h0m.2 3.9h0m.2-2.3h0m.2-2.3h0m.1 4h0m.1-3.3h0m.1 .3h0m0 2h0m0-3.9h0m.2 3.6h0m.1-4.3h0m.1 4.6h0m.2-1.3h0"/>
<path stroke="#ff0051" d="M447.6 251.2h0m2.3 0h0m1.2 0h0m10 0h0m3.9 0h0m1.6 0h0m7 0h0m5.4 0h0m1.5 0h0m7 0h0"/>
<path stroke="#575fdf" d="M430.1 267.1h0"/>
<path stroke="#a01fab" d="M433.9 264.5h0"/>
<path stroke="#eb007a" d="M451.9 265.8h0"/>
<path stroke="#186deb" d="M433.3 265.8h0"/>
<path stroke="#ff0058" d="M461.5 266.4h0"/>
<path stroke="#007bf4" d="M427 265.1h0"/>
<path stroke="#0071ee" d="M427.6 265.8h0"/>
<path stroke="#d40090" d="M451.6 265.8h0"/>
<path stroke="#0084f8" d="M410.9 265.8h0m2.1 0h0"/>
<path stroke="#ca0097" d="M440.4 265.8h0"/>
<path stroke="#f00074" d="M464.6 265.8h0"/>
<path stroke="#fd005f" d="M454.6 265.8h0"/>
<path stroke="#306ae9" d="M421.1 265.8h0"/>
<path stroke="#6459da" d="M426.6 265.8h0m3.3 .6h0"/>
<path stroke="#6c54d6" d="M432.4 265.1h0m2 0h0m.3 .7h0"/>
<path stroke="#ff0051" d="M476.2 265.8h0"/>
<path stroke="#c5009a" d="M446.5 265.8h0"/>
<path stroke="#5261e1" d="M422.6 265.8h0m4.6-.7h0m5.7 1.3h0"/>
<path stroke="#0074f0" d="M424.6 265.1h0"/>
<path stroke="#962db3" d="M442.9 265.8h0"/>
<path stroke="#e10084" d="M451.8 266.4h0"/>
<path stroke="#007ef6" d="M423.2 266.4h0"/>
<path stroke="#0085f9" d="M427.9 267.7h0"/>
<path stroke="#0076f1" d="M421.3 264.5h0m8.3 2.6h0"/>
<path stroke="#9d22ac" d="M435.5 267.1h0"/>
<path stroke="#4c63e3" d="M431.3 265.1h0m1.5 .7h0"/>
<path stroke="#bf009d" d="M439.5 265.8h0"/>
<path stroke="#008bfb" d="M413.9 265.8h0m5.1 0h0m.3-1.3h0m.1 2.6h0m1.4-.7h0m.1-1.3h0m7 2h0m1.2 1.3h0m.1-3.9h0"/>
<path stroke="#4664e4" d="M420.7 267.1h0m8-1.3h0m3.9 .6h0"/>
<path stroke="#bf009d" d="M443.4 265.8h0"/>
<path stroke="#575fdf" d="M424.3 266.4h0m2.3 0h0"/>
<path stroke="#8d39be" d="M429.3 267.7h0"/>
<path stroke="#007ef6" d="M422.9 265.1h0m1 1.3h0"/>
<path stroke="#9d22ac" d="M439.2 265.8h0"/>
<path stroke="#d6008e" d="M442.4 265.1h0"/>
<path stroke="#0084f8" d="M424.2 265.1h0"/>
<path stroke="#6c54d6" d="M434 261.8h0m.2 6.6h0m.2-.7h0m.3-3.9h0m.3 5.3h0m.1-4h0"/>
<path stroke="#b00fa5" d="M443.6 266.4h0"/>
<path stroke="#9233b9" d="M432.1 266.4h0"/>
<path stroke="#3968e7" d="M430.7 266.4h0"/>
<path stroke="#0076f1" d="M423.1 265.8h0"/>
<path stroke="#007cf5" d="M425.5 266.4h0"/>
<path stroke="#7350d2" d="M426.4 266.4h0"/>
<path stroke="#db008a" d="M448.4 265.8h0"/>
<path stroke="#d9008c" d="M457.3 265.8h0"/>
<path stroke="#008bfb" d="M418.1 265.1h0m1.4-1.3h0m7.6 3.3h0m.3-3.3h0m2.4 1.3h0"/>
<path stroke="#a01fab" d="M433.9 263.2h0m.2 5.9h0m.7-4.6h0m0 3.9h0m.5-2h0"/>
<path stroke="#ff0051" d="M457.3 264.5h0m0 .6h0"/>
<path stroke="#ad13a6" d="M432.7 267.1h0"/>
<path stroke="#e9007c" d="M449 266.4h0m4.9-.6h0"/>
<path stroke="#8f36bb" d="M439.4 265.1h0"/>
<path stroke="#f00074" d="M447.3 265.8h0"/>
<path stroke="#ff0056" d="M451.2 266.4h0m5.7 0h0"/>
<path stroke="#605bdc" d="M425.3 265.1h0"/>
<path stroke="#306ae9" d="M431.7 265.1h0"/>
<path stroke="#6459da" d="M433.6 265.1h0"/>
<path stroke="#6c54d6" d="M433.9 267.1h0m.1 2.6h0m.5-6.5h0m0 3.9h0"/>
<path stroke="#0085f9" d="M422 266.4h0m3.9-1.3h0"/>
<path stroke="#007bf4" d="M416.9 265.8h0m3.1 .6h0"/>
<path stroke="#186deb" d="M433.9 262.5h0"/>
<path stroke="#f00074" d="M456.2 265.8h0"/>
<path stroke="#9d22ac" d="M435.6 265.8h0"/>
<path stroke="#0077f2" d="M425 265.8h0"/>
<path stroke="#db008a" d="M442.8 266.4h0m10.8-.6h0"/>
<path stroke="#007ef6" d="M430.4 265.1h0"/>
<path stroke="#ff0051" d="M461.7 265.8h0m7.8 0h0m13.5 0h0"/>
<path stroke="#9430b6" d="M428.7 267.1h0"/>
<path stroke="#4c63e3" d="M416.6 266.4h0"/>
<path stroke="#fd005f" d="M459.5 265.8h0"/>
<path stroke="#6857d8" d="M431.2 264.5h0"/>
<path stroke="#794cce" d="M431.1 267.1h0m2.3-2h0"/>
<path stroke="#dd0088" d="M452.7 265.8h0"/>
<path stroke="#007ff7" d="M415.4 265.8h0"/>
<path stroke="#6f52d4" d="M433.1 267.1h0"/>
<path stroke="#008bfb" d="M419.7 266.4h0m0 1.3h0m.2-4.5h0m7.5 1.3h0m.4 2.6h0m.9-2h0"/>
<path stroke="#b30aa3" d="M438.8 266.4h0"/>
<path stroke="#a01fab" d="M434 266.4h0m.3 4h0"/>
<path stroke="#0086fa" d="M418.6 266.4h0"/>
<path stroke="#f30070" d="M452.3 265.1h0m4 1.3h0m4.1-.6h0"/>
<path stroke="#ff0053" d="M460.5 266.4h0m4.6-.6h0"/>
<path stroke="#ec0078" d="M452.6 266.4h0"/>
<path stroke="#007bf4" d="M423.6 265.8h0"/>
<path stroke="#008bfb" d="M414.4 265.8h0m3.8 .6h0m1.1-1.3h0m0 .7h0m.9-.7h0m1.3 .7h0m5.7 .6h0m.1 2h0m.6-2h0m.3-1.9h0"/>
<path stroke="#ca0097" d="M448.3 266.4h0"/>
<path stroke="#e9007c" d="M457 267.1h0"/>
<path stroke="#266cea" d="M417.4 265.8h0"/>
<path stroke="#7d49cc" d="M429.1 266.4h0m1.2-.6h0"/>
<path stroke="#0082f8" d="M418.3 265.8h0"/>
<path stroke="#6c54d6" d="M431.9 265.8h0m2.5-3.3h0m.3 3.9h0"/>
<path stroke="#007ef6" d="M420.5 265.8h0"/>
<path stroke="#7f47c9" d="M430.8 265.8h0"/>
<path stroke="#0079f3" d="M426 265.8h0"/>
<path stroke="#4066e6" d="M431.4 266.4h0m2.4-.6h0"/>
<path stroke="#764ed0" d="M432.2 267.1h0"/>
<path stroke="#d6008e" d="M450.6 265.8h0"/>
<path stroke="#0071ee" d="M416.1 265.8h0"/>
<path stroke="#006fed" d="M428.9 263.8h0"/>
<path stroke="#d40090" d="M444.6 266.4h0"/>
<path stroke="#f30070" d="M437.6 265.8h0m10 .6h0"/>
<path stroke="#ad13a6" d="M449.5 265.8h0"/>
<path stroke="#bf009d" d="M444.5 265.8h0"/>
<path stroke="#3968e7" d="M428.3 265.1h0m1.2 .7h0"/>
<path stroke="#186deb" d="M428.1 265.8h0"/>
<path stroke="#8d39be" d="M427.8 267.7h0"/>
<path stroke="#6459da" d="M419.5 268.4h0"/>
<path stroke="#ff0051" d="M463.4 265.8h0m9.5 0h0m6.7 0h0"/>
<path stroke="#a01fab" d="M434 263.8h0m.1 3.9h0"/>
<path stroke="#6f52d4" d="M427.9 279.3h0"/>
<path stroke="#007cf5" d="M418.3 281.4h0m5.7 0h0"/>
<path stroke="#ec0078" d="M441.2 282.4h0"/>
<path stroke="#006fed" d="M429.6 279.3h0m2.2 4.2h0"/>
<path stroke="#a01fab" d="M433.9 281.4h0"/>
<path stroke="#f70069" d="M439.3 281.4h0m7.4 0h0"/>
<path stroke="#0079f3" d="M432.2 281.4h0"/>
<path stroke="#e30082" d="M442 280.4h0"/>
<path stroke="#fe005c" d="M443.6 280.4h0"/>
<path stroke="#ff0056" d="M439.2 278.3h0"/>
<path stroke="#b604a2" d="M439.9 279.3h0"/>
<path stroke="#f6006c" d="M441 281.4h0"/>
<path stroke="#4c63e3" d="M420.4 280.4h0m1.8-2.1h0m4.2 2.1h0"/>
<path stroke="#f4006e" d="M446.1 280.4h0"/>
<path stroke="#fa0065" d="M450.7 280.4h0"/>
<path stroke="#f10072" d="M442.3 281.4h0"/>
<path stroke="#e50080" d="M433.8 280.4h0m4.7 0h0"/>
<path stroke="#306ae9" d="M430.2 281.4h0"/>
<path stroke="#3968e7" d="M422.8 280.4h0"/>
<path stroke="#e9007c" d="M435.1 281.4h0"/>
<path stroke="#ff0053" d="M445.2 280.4h0"/>
<path stroke="#cd0095" d="M436.3 279.3h0"/>
<path stroke="#ff0051" d="M441.7 281.4h0m1-2.1h0m9.1 1.1h0"/>
<path stroke="#008bfb" d="M421.1 282.4h0m1.1-5.2h0m2.3 3.2h0"/>
<path stroke="#007ff7" d="M428.8 278.3h0"/>
<path stroke="#007bf4" d="M423.2 283.5h0"/>
<path stroke="#007ef6" d="M422.6 280.4h0m3.8 1h0m5.3-1h0"/>
<path stroke="#8244c7" d="M429.9 280.4h0"/>
<path stroke="#dd0088" d="M437.1 278.3h0m.2 2.1h0"/>
<path stroke="#0071ee" d="M425.3 281.4h0"/>
<path stroke="#0089fa" d="M416.4 280.4h0"/>
<path stroke="#186deb" d="M430.5 282.4h0"/>
<path stroke="#0077f2" d="M429.1 281.4h0"/>
<path stroke="#ec0078" d="M443.1 281.4h0"/>
<path stroke="#db008a" d="M440.9 279.3h0"/>
<path stroke="#883fc2" d="M431.5 278.3h0"/>
<path stroke="#764ed0" d="M433 281.4h0"/>
<path stroke="#8244c7" d="M424.3 281.4h0"/>
<path stroke="#3968e7" d="M421.7 281.4h0m3.9-2.1h0m2.7 1.1h0m1.2 2h0"/>
<path stroke="#eb007a" d="M440 281.4h0m.3-2.1h0"/>
<path stroke="#ff0051" d="M443.4 280.4h0m.6 1h0m.5-1h0m3.3 0h0m9.9 0h0m3.7 0h0"/>
<path stroke="#0081f7" d="M419.9 280.4h0"/>
<path stroke="#0073ef" d="M412.2 280.4h0"/>
<path stroke="#0076f1" d="M422.9 282.4h0m2.2-2h0"/>
<path stroke="#f30070" d="M445.8 281.4h0"/>
<path stroke="#5261e1" d="M421 279.3h0"/>
<path stroke="#a01fab" d="M431.9 279.3h0m1.7-1h0"/>
<path stroke="#f70069" d="M435.3 280.4h0"/>
<path stroke="#f10072" d="M437.9 278.3h0"/>
<path stroke="#8f36bb" d="M432.3 283.5h0"/>
<path stroke="#ff005a" d="M435.8 280.4h0"/>
<path stroke="#0084f8" d="M419.3 281.4h0m9.5-1h0"/>
<path stroke="#008bfb" d="M416 281.4h0m5.1 0h0m1.1 1h0m.6-4.1h0m.3 3.1h0"/>
<path stroke="#e50080" d="M434.1 279.3h0m.4 1.1h0m2.6 1h0m.6 0h0m1.5 1h0m.8 0h0"/>
<path stroke="#e10084" d="M438.1 279.3h0"/>
<path stroke="#5b5ddd" d="M430.9 280.4h0"/>
<path stroke="#6459da" d="M425.9 281.4h0"/>
<path stroke="#e50080" d="M434.5 281.4h0m3.7 1h0m.7 2.1h0"/>
<path stroke="#4664e4" d="M429.1 282.4h0"/>
<path stroke="#7350d2" d="M425.4 280.4h0"/>
<path stroke="#ee0076" d="M438.4 283.5h0"/>
<path stroke="#d10091" d="M438.9 283.5h0"/>
<path stroke="#dd0088" d="M436.9 279.3h0"/>
<path stroke="#007bf4" d="M431.6 282.4h0"/>
<path stroke="#f30070" d="M449 280.4h0"/>
<path stroke="#8244c7" d="M426 282.4h0"/>
<path stroke="#0084f8" d="M429.8 281.4h0"/>
<path stroke="#fe005c" d="M440.3 281.4h0"/>
<path stroke="#e7007e" d="M435.2 279.3h0"/>
<path stroke="#5261e1" d="M430.6 278.3h0"/>
<path stroke="#605bdc" d="M432.8 280.4h0"/>
<path stroke="#db008a" d="M438.3 277.2h0"/>
<path stroke="#f00074" d="M442.5 280.4h0"/>
<path stroke="#a01fab" d="M432.7 282.4h0m1-3.1h0m.3 3.1h0m.3-4.1h0m.3 4.1h0m0 1.1h0"/>
<path stroke="#9430b6" d="M427.6 282.4h0"/>
<path stroke="#794cce" d="M432 281.4h0"/>
<path stroke="#186deb" d="M423.9 279.3h0"/>
<path stroke="#6c54d6" d="M430.2 280.4h0"/>
<path stroke="#f4006e" d="M440.7 280.4h0"/>
<path stroke="#008bfb" d="M394 280.4h0m27.3-1.1h0m.4 1.1h0m.7 1h0"/>
<path stroke="#f70069" d="M445.3 281.4h0m3.3-1h0"/>
<path stroke="#fd005f" d="M441.8 279.3h0"/>
<path stroke="#6f52d4" d="M427.3 280.4h0"/>
<path stroke="#266cea" d="M420.3 281.4h0"/>
<path stroke="#aa17a7" d="M431.2 282.4h0"/>
<path stroke="#ff0051" d="M435.9 281.4h0m13.5 0h0"/>
<path stroke="#7350d2" d="M429.3 279.3h0m1.9 2.1h0"/>
<path stroke="#0079f3" d="M419 280.4h0m5.8-1.1h0"/>
<path stroke="#007ff7" d="M418 280.4h0"/>
<path stroke="#fa0065" d="M438.6 278.3h0"/>
<path stroke="#fb0063" d="M441.5 280.4h0m2.6-1.1h0"/>
<path stroke="#4c63e3" d="M426.7 282.4h0"/>
<path stroke="#e7007e" d="M436.7 282.4h0"/>
<path stroke="#5b5ddd" d="M431 279.3h0"/>
<path stroke="#605bdc" d="M423.4 280.4h0m5.1-1.1h0m4 0h0"/>
<path stroke="#f80067" d="M436.2 278.3h0"/>
<path stroke="#6857d8" d="M432.6 278.3h0"/>
<path stroke="#fc0061" d="M436.1 283.5h0"/>
<path stroke="#0082f8" d="M414.5 280.4h0m12.3 1h0m.2-2.1h0"/>
<path stroke="#a01fab" d="M433.2 279.3h0"/>
<path stroke="#e30082" d="M436.5 281.4h0m.9 1h0"/>
<path stroke="#ff0053" d="M446.9 280.4h0"/>
<path stroke="#cd0095" d="M435.6 282.4h0"/>
<path stroke="#008bfb" d="M422 279.3h0m0 4.2h0m.8-4.2h0m.1-2.1h0"/>
<path stroke="#e9007c" d="M437.8 282.4h0"/>
<path stroke="#e50080" d="M433.2 282.4h0m2.4-4.1h0m2.3 2.1h0m.6-1.1h0m.2 2.1h0m.3-2.1h0m0-3.1h0m.3 1h0m.6 1.1h0"/>
<path stroke="#0084f8" d="M421.1 280.4h0"/>
<path stroke="#ff0056" d="M444.6 281.4h0"/>
<path stroke="#8d39be" d="M428.2 281.4h0"/>
<path stroke="#0081f7" d="M417.2 280.4h0"/>
<path stroke="#f4006e" d="M439.7 280.4h0"/>
<path stroke="#df0086" d="M436.6 280.4h0"/>
<path stroke="#f00074" d="M448.4 294.9h0"/>
<path stroke="#4c63e3" d="M429.3 297.5h0"/>
<path stroke="#a01fab" d="M432.8 292.3h0m.8 6.6h0m.6-2.7h0m0-2.6h0m.4 1.3h0m.1 1.3h0"/>
<path stroke="#0071ee" d="M427.3 294.9h0"/>
<path stroke="#605bdc" d="M430.3 293.6h0"/>
<path stroke="#f80067" d="M436.7 296.2h0"/>
<path stroke="#6c54d6" d="M433.7 293.6h0m.6 1.3h0"/>
<path stroke="#0076f1" d="M425.4 296.2h0"/>
<path stroke="#0074f0" d="M431.6 297.5h0"/>
<path stroke="#bf009d" d="M436.4 297.5h0"/>
<path stroke="#007bf4" d="M421.3 294.9h0"/>
<path stroke="#ff0051" d="M440.3 294.9h0m.9-1.3h0m4.7 1.3h0m.3 0h0"/>
<path stroke="#306ae9" d="M431 297.5h0"/>
<path stroke="#fd005f" d="M436.8 297.5h0"/>
<path stroke="#fa0065" d="M440.9 296.2h0m4.4 0h0"/>
<path stroke="#f4006e" d="M438.5 293.6h0"/>
<path stroke="#d10091" d="M435.7 293.6h0"/>
<path stroke="#df0086" d="M438.2 294.9h0"/>
<path stroke="#e7007e" d="M443.3 296.2h0"/>
<path stroke="#b900a0" d="M439.4 294.9h0"/>
<path stroke="#8244c7" d="M428.8 297.5h0m3.1-2.6h0"/>
<path stroke="#ff0058" d="M439.1 293.6h0"/>
<path stroke="#6f52d4" d="M432 296.2h0"/>
<path stroke="#764ed0" d="M430 294.9h0"/>
<path stroke="#5b5ddd" d="M424 296.2h0m8.2 0h0"/>
<path stroke="#eb007a" d="M436.8 294.9h0"/>
<path stroke="#f30070" d="M442.7 296.2h0"/>
<path stroke="#0071ee" d="M424.3 294.9h0m2.9-1.3h0"/>
<path stroke="#007bf4" d="M423.1 294.9h0m2.4-1.3h0"/>
<path stroke="#0084f8" d="M427.8 293.6h0m.8 1.3h0"/>
<path stroke="#df0086" d="M437.2 294.9h0"/>
<path stroke="#e7007e" d="M441.2 294.9h0"/>
<path stroke="#f70069" d="M447.1 294.9h0"/>
<path stroke="#ff0051" d="M443.3 294.9h0"/>
<path stroke="#3968e7" d="M429.6 293.6h0"/>
<path stroke="#ec0078" d="M436.5 293.6h0m8.4 1.3h0"/>
<path stroke="#0076f1" d="M427.9 297.5h0"/>
<path stroke="#ff005a" d="M436.3 296.2h0"/>
<path stroke="#9a25ae" d="M431.5 294.9h0"/>
<path stroke="#fb0063" d="M440.5 296.2h0"/>
<path stroke="#0086fa" d="M423.7 294.9h0"/>
<path stroke="#dd0088" d="M435 293.6h0"/>
<path stroke="#6c54d6" d="M432.7 294.9h0m1.3 1.3h0"/>
<path stroke="#7350d2" d="M432.6 291h0"/>
<path stroke="#ff0056" d="M435.1 292.3h0"/>
<path stroke="#794cce" d="M429.1 296.2h0m2.2-2.6h0"/>
<path stroke="#6857d8" d="M431.3 296.2h0"/>
<path stroke="#c70098" d="M430.7 294.9h0"/>
<path stroke="#e30082" d="M436 294.9h0"/>
<path stroke="#8244c7" d="M425.9 294.9h0"/>
<path stroke="#fe005c" d="M437.3 296.2h0"/>
<path stroke="#0073ef" d="M422 294.9h0"/>
<path stroke="#9829b1" d="M430.2 296.2h0"/>
<path stroke="#008bfb" d="M422.8 294.9h0m2 1.3h0m4.4-2.6h0"/>
<path stroke="#eb007a" d="M440.6 294.9h0"/>
<path stroke="#6459da" d="M430.9 293.6h0"/>
<path stroke="#8d39be" d="M432.8 297.5h0"/>
<path stroke="#e7007e" d="M435.2 296.2h0"/>
<path stroke="#008bfb" d="M406.8 294.9h0m15.7 0h0"/>
<path stroke="#fa0065" d="M441.6 294.9h0m3.5 0h0"/>
<path stroke="#605bdc" d="M431.7 292.3h0"/>
<path stroke="#6459da" d="M431.2 297.5h0"/>
<path stroke="#5b5ddd" d="M432.3 292.3h0"/>
<path stroke="#266cea" d="M427.1 296.2h0"/>
<path stroke="#c70098" d="M435.9 296.2h0"/>
<path stroke="#0084f8" d="M423.4 296.2h0"/>
<path stroke="#a01fab" d="M432.1 297.5h0m1.9 0h0"/>
<path stroke="#e30082" d="M438.7 296.2h0"/>
<path stroke="#fe005c" d="M449.9 294.9h0"/>
<path stroke="#f30070" d="M443.8 294.9h0"/>
<path stroke="#962db3" d="M432.4 294.9h0"/>
<path stroke="#7f47c9" d="M430.5 297.5h0"/>
<path stroke="#fc0061" d="M438 292.3h0m1.2 3.9h0m4.8 0h0"/>
<path stroke="#f10072" d="M436 292.3h0"/>
<path stroke="#ec0078" d="M440 293.6h0"/>
<path stroke="#0076f1" d="M420.8 294.9h0m5.6 0h0m1.9-1.3h0"/>
<path stroke="#f00074" d="M437.4 293.6h0"/>
<path stroke="#ff0051" d="M437.8 294.9h0m3.6 1.3h0m15.4-1.3h0"/>
<path stroke="#db008a" d="M437.7 297.5h0"/>
<path stroke="#0081f7" d="M418.8 294.9h0"/>
<path stroke="#6c54d6" d="M434 294.9h0m1.4 2.6h0"/>
<path stroke="#007cf5" d="M424.1 296.2h0m.5-1.3h0m8.4 1.3h0"/>
<path stroke="#6f52d4" d="M432.5 293.6h0"/>
<path stroke="#6c54d6" d="M429.7 296.2h0m3.9-3.9h0"/>
<path stroke="#0073ef" d="M427.6 296.2h0m1 0h0"/>
<path stroke="#d6008e" d="M439.6 296.2h0"/>
<path stroke="#186deb" d="M429.5 294.9h0"/>
<path stroke="#006fed" d="M430.7 296.2h0"/>
<path stroke="#266cea" d="M429.9 292.3h0"/>
<path stroke="#ff0056" d="M438.6 294.9h0"/>
<path stroke="#e30082" d="M444.4 294.9h0"/>
<path stroke="#007bf4" d="M420.1 294.9h0"/>
<path stroke="#0088fa" d="M425.2 294.9h0"/>
<path stroke="#008bfb" d="M415 294.9h0m13.4 1.3h0m1.4 1.3h0"/>
<path stroke="#dd0088" d="M438.3 296.2h0"/>
<path stroke="#4664e4" d="M431.8 293.6h0"/>
<path stroke="#5b5ddd" d="M426.1 296.2h0"/>
<path stroke="#a01fab" d="M433.3 296.2h0m.2-1.3h0"/>
<path stroke="#007ef6" d="M427.6 294.9h0"/>
<path stroke="#cd0095" d="M442.3 294.9h0"/>
<path stroke="#9d22ac" d="M426.5 293.6h0"/>
<path stroke="#ff0053" d="M447.4 296.2h0"/>
<path stroke="#ff0051" d="M442.9 294.9h0"/>
<path stroke="#6857d8" d="M430.9 292.3h0"/>
<path stroke="#f10072" d="M437.9 296.2h0"/>
<path stroke="#f00074" d="M438.9 293.6h0"/>
<path stroke="#eb007a" d="M435.6 297.5h0m1.4-3.9h0"/>
<path stroke="#fd005f" d="M441.9 296.2h0"/>
<path stroke="#7f47c9" d="M432.8 298.9h0"/>
<path stroke="#f30070" d="M435.5 293.6h0"/>
<path stroke="#e10084" d="M435.4 294.9h0"/>
<path stroke="#5261e1" d="M426.7 296.2h0"/>
<path stroke="#6459da" d="M428.1 294.9h0"/>
<path stroke="#0084f8" d="M426.8 294.9h0"/>
<path stroke="#0073ef" d="M429.8 309.5h0"/>
<path stroke="#ff0051" d="M439.2 309.5h0m17.6 0h0m7.2 0h0"/>
<path stroke="#5261e1" d="M429.1 310.8h0m3.2-3.9h0m.4 0h0"/>
<path stroke="#df0086" d="M447.1 309.5h0"/>
<path stroke="#0089fa" d="M428.5 309.5h0"/>
<path stroke="#ff0056" d="M446.2 309.5h0"/>
<path stroke="#0074f0" d="M431.3 310.8h0"/>
<path stroke="#cd0095" d="M440.6 310.8h0"/>
<path stroke="#e50080" d="M433.8 308.2h0m.3 0h0m.4 1.3h0m6.6 1.3h0"/>
<path stroke="#fc0061" d="M445.9 309.5h0"/>
<path stroke="#8a3cc0" d="M432.8 309.5h0"/>
<path stroke="#006fed" d="M427.9 310.8h0"/>
<path stroke="#007ff7" d="M423.9 310.8h0"/>
<path stroke="#db008a" d="M439.7 309.5h0"/>
<path stroke="#266cea" d="M431.5 309.5h0"/>
<path stroke="#186deb" d="M428.4 310.8h0"/>
<path stroke="#a01fab" d="M433.4 308.2h0m1.1 2.6h0"/>
<path stroke="#7350d2" d="M431.8 310.8h0"/>
<path stroke="#fa0065" d="M438.9 310.8h0"/>
<path stroke="#ee0076" d="M435.7 310.8h0"/>
<path stroke="#e10084" d="M446.5 309.5h0"/>
<path stroke="#eb007a" d="M437.6 310.8h0m.8 0h0"/>
<path stroke="#6459da" d="M427.6 312.1h0"/>
<path stroke="#008bfb" d="M428 309.5h0m1.2-1.3h0"/>
<path stroke="#3968e7" d="M428.7 308.2h0"/>
<path stroke="#306ae9" d="M424.9 309.5h0"/>
<path stroke="#e10084" d="M443.3 309.5h0"/>
<path stroke="#9d22ac" d="M432 313.4h0"/>
<path stroke="#007cf5" d="M426.2 309.5h0m.3-1.3h0"/>
<path stroke="#ff0051" d="M438.7 309.5h0m1.6-1.3h0m2.4 2.6h0m1.4-1.3h0m4.5 0h0m.4 0h0"/>
<path stroke="#e50080" d="M433.2 306.9h0m.8 3.9h0"/>
<path stroke="#4066e6" d="M428.1 308.2h0"/>
<path stroke="#0084f8" d="M428.8 312.1h0"/>
<path stroke="#a01fab" d="M433.2 312.1h0m.2-1.3h0m.8 1.3h0"/>
<path stroke="#6459da" d="M430.5 308.2h0"/>
<path stroke="#6857d8" d="M432.7 312.1h0"/>
<path stroke="#3968e7" d="M432.2 310.8h0"/>
<path stroke="#186deb" d="M429 309.5h0"/>
<path stroke="#0073ef" d="M425.5 309.5h0"/>
<path stroke="#db008a" d="M435.1 309.5h0"/>
<path stroke="#764ed0" d="M429.5 312.1h0"/>
<path stroke="#f6006c" d="M437.1 310.8h0"/>
<path stroke="#f00074" d="M442 309.5h0"/>
<path stroke="#9a25ae" d="M432.2 309.5h0"/>
<path stroke="#f80067" d="M435.5 310.8h0m4.4 0h0"/>
<path stroke="#794cce" d="M430.2 310.8h0m2.7 0h0"/>
<path stroke="#006fed" d="M423.7 309.5h0m5.6 0h0"/>
<path stroke="#ca0097" d="M441.7 309.5h0"/>
<path stroke="#186deb" d="M425.3 310.8h0"/>
<path stroke="#e10084" d="M440.4 309.5h0"/>
<path stroke="#e30082" d="M436.6 308.2h0m.7 0h0"/>
<path stroke="#0073ef" d="M431.6 308.2h0"/>
<path stroke="#8244c7" d="M430.5 312.1h0"/>
<path stroke="#f4006e" d="M437.5 308.2h0"/>
<path stroke="#ee0076" d="M436.8 310.8h0"/>
<path stroke="#d9008c" d="M436.2 309.5h0m.2 1.3h0"/>
<path stroke="#007cf5" d="M426.9 310.8h0"/>
<path stroke="#0076f1" d="M425.7 308.2h0"/>
<path stroke="#df0086" d="M435.2 310.8h0"/>
<path stroke="#3968e7" d="M431.1 308.2h0"/>
<path stroke="#0081f7" d="M431.8 306.9h0"/>
<path stroke="#6c54d6" d="M428.2 308.2h0"/>
<path stroke="#5b5ddd" d="M431.2 309.5h0"/>
<path stroke="#0085f9" d="M426 310.8h0"/>
<path stroke="#ff0051" d="M436.5 309.5h0m2.1-1.3h0m6.6 1.3h0"/>
<path stroke="#764ed0" d="M433 306.9h0"/>
<path stroke="#f70069" d="M438 309.5h0"/>
<path stroke="#f30070" d="M442.3 309.5h0"/>
<path stroke="#c5009a" d="M437 309.5h0"/>
<path stroke="#d6008e" d="M438.3 308.2h0"/>
<path stroke="#f6006c" d="M440.1 309.5h0"/>
<path stroke="#605bdc" d="M432.1 312.1h0"/>
<path stroke="#575fdf" d="M426.8 309.5h0"/>
<path stroke="#007bf4" d="M427.7 308.2h0"/>
<path stroke="#ff0058" d="M435.3 308.2h0"/>
<path stroke="#6857d8" d="M430.2 309.5h0m.2 1.3h0"/>
<path stroke="#9a25ae" d="M430.9 310.8h0"/>
<path stroke="#d40090" d="M435.4 309.5h0"/>
<path stroke="#aa17a7" d="M437.4 309.5h0"/>
<path stroke="#186deb" d="M430.8 309.5h0"/>
<path stroke="#008bfb" d="M422.6 309.5h0m4.6 1.3h0"/>
<path stroke="#0074f0" d="M428.6 310.8h0"/>
<path stroke="#0089fa" d="M427 309.5h0"/>
<path stroke="#6f52d4" d="M429.5 310.8h0m3.1 0h0"/>
<path stroke="#ff0056" d="M444.3 309.5h0"/>
<path stroke="#007cf5" d="M424.6 309.5h0"/>
<path stroke="#0081f7" d="M430 312.1h0"/>
<path stroke="#605bdc" d="M430.7 306.9h0m1.2 1.3h0"/>
<path stroke="#0082f8" d="M426.4 310.8h0"/>
<path stroke="#eb007a" d="M435.8 312.1h0"/>
<path stroke="#006fed" d="M425.8 309.5h0"/>
<path stroke="#f4006e" d="M439.4 310.8h0m1.4-1.3h0m2.2 0h0"/>
<path stroke="#fa0065" d="M441.4 308.2h0"/>
<path stroke="#ff0051" d="M444.7 309.5h0"/>
<path stroke="#e50080" d="M432.7 308.2h0m.3 3.9h0m.8-1.3h0"/>
<path stroke="#ff005a" d="M438.1 309.5h0"/>
<path stroke="#ee0076" d="M442.4 308.2h0"/>
<path stroke="#007ff7" d="M427.4 309.5h0m4.3 2.6h0"/>
<path stroke="#a01fab" d="M429.7 308.2h0m3.9 1.3h0m.4 0h0"/>
<path stroke="#f80067" d="M436.2 308.2h0"/>
<path stroke="#0085f9" d="M424.3 309.5h0"/>
<path stroke="#e7007e" d="M437.8 310.8h0"/>
<path stroke="#0088fa" d="M424.7 310.8h0"/>
<path stroke="#f6006c" d="M435.9 322.7h0m4.8 1.4h0m.7 0h0"/>
<path stroke="#a01fab" d="M434 324.1h0m.2 2.6h0m.2-1.3h0"/>
<path stroke="#ee0076" d="M437.2 325.4h0m3.3 0h0"/>
<path stroke="#6459da" d="M424.4 324.1h0"/>
<path stroke="#764ed0" d="M430.4 324.1h0"/>
<path stroke="#d10091" d="M436.3 325.4h0"/>
<path stroke="#fa0065" d="M435.5 324.1h0"/>
<path stroke="#dd0088" d="M436.1 322.7h0"/>
<path stroke="#fc0061" d="M436.6 322.7h0"/>
<path stroke="#0071ee" d="M418.9 324.1h0m9.5 0h0m1.9 1.3h0"/>
<path stroke="#6f52d4" d="M429.4 322.7h0m2.1 0h0"/>
<path stroke="#ec0078" d="M438.1 322.7h0"/>
<path stroke="#0084f8" d="M416.1 324.1h0"/>
<path stroke="#007cf5" d="M432.9 321.4h0"/>
<path stroke="#5b5ddd" d="M421.3 324.1h0"/>
<path stroke="#f70069" d="M437.7 325.4h0m.9 0h0"/>
<path stroke="#e50080" d="M438.4 324.1h0"/>
<path stroke="#ff0056" d="M440.5 324.1h0"/>
<path stroke="#ff0051" d="M435.8 325.4h0"/>
<path stroke="#0074f0" d="M430.6 322.7h0"/>
<path stroke="#fb0063" d="M443.7 324.1h0"/>
<path stroke="#186deb" d="M432.3 325.4h0"/>
<path stroke="#8244c7" d="M426.4 324.1h0m2.7 0h0"/>
<path stroke="#8a3cc0" d="M431.8 325.4h0"/>
<path stroke="#007ff7" d="M419.6 324.1h0"/>
<path stroke="#c5009a" d="M441 324.1h0"/>
<path stroke="#e9007c" d="M437.6 325.4h0"/>
<path stroke="#9430b6" d="M431.1 322.7h0"/>
<path stroke="#7f47c9" d="M433 325.4h0"/>
<path stroke="#9829b1" d="M423.8 324.1h0"/>
<path stroke="#ff0053" d="M438.2 325.4h0"/>
<path stroke="#007ef6" d="M432.6 322.7h0"/>
<path stroke="#306ae9" d="M432.5 324.1h0"/>
<path stroke="#ff005a" d="M440.1 324.1h0"/>
<path stroke="#db008a" d="M437.4 324.1h0"/>
<path stroke="#fc0061" d="M442.1 325.4h0"/>
<path stroke="#f30070" d="M442.4 324.1h0"/>
<path stroke="#a01fab" d="M433 324.1h0m1.1-2.7h0m.2 1.3h0"/>
<path stroke="#f80067" d="M441.2 325.4h0m1.9 0h0"/>
<path stroke="#4c63e3" d="M431.6 326.7h0"/>
<path stroke="#7350d2" d="M432.6 325.4h0"/>
<path stroke="#3968e7" d="M427.8 324.1h0"/>
<path stroke="#575fdf" d="M423.3 324.1h0"/>
<path stroke="#6f52d4" d="M432 324.1h0"/>
<path stroke="#4664e4" d="M426.9 325.4h0"/>
<path stroke="#764ed0" d="M431.2 325.4h0"/>
<path stroke="#fd005f" d="M444.5 324.1h0"/>
<path stroke="#e50080" d="M432.7 321.4h0m1.5 6.6h0m.2-3.9h0"/>
<path stroke="#8542c5" d="M432.7 326.7h0"/>
<path stroke="#0081f7" d="M428.6 325.4h0"/>
<path stroke="#0077f2" d="M429.8 322.7h0"/>
<path stroke="#186deb" d="M428.1 325.4h0"/>
<path stroke="#6f52d4" d="M427.2 325.4h0m.2-1.3h0"/>
<path stroke="#d9008c" d="M437.2 324.1h0"/>
<path stroke="#f70069" d="M445 324.1h0"/>
<path stroke="#0074f0" d="M424.4 325.4h0"/>
<path stroke="#7350d2" d="M425.8 324.1h0"/>
<path stroke="#fd005f" d="M435.3 325.4h0"/>
<path stroke="#0079f3" d="M422.9 324.1h0m2 0h0m0 1.3h0m5.8-1.3h0"/>
<path stroke="#605bdc" d="M432.1 322.7h0"/>
<path stroke="#0071ee" d="M432.2 324.1h0"/>
<path stroke="#6c54d6" d="M421.7 324.1h0m6.5 0h0"/>
<path stroke="#f4006e" d="M447 324.1h0"/>
<path stroke="#b900a0" d="M439.3 324.1h0"/>
<path stroke="#8244c7" d="M426.1 325.4h0m.8-1.3h0"/>
<path stroke="#575fdf" d="M428.8 324.1h0"/>
<path stroke="#306ae9" d="M424 325.4h0"/>
<path stroke="#0085f9" d="M418 324.1h0"/>
<path stroke="#007bf4" d="M429.4 324.1h0"/>
<path stroke="#eb007a" d="M448.5 324.1h0"/>
<path stroke="#e7007e" d="M439.8 324.1h0m2.2 0h0"/>
<path stroke="#fa0065" d="M436.2 324.1h0"/>
<path stroke="#ec0078" d="M441.6 324.1h0"/>
<path stroke="#0073ef" d="M425.4 324.1h0"/>
<path stroke="#962db3" d="M430.6 325.4h0"/>
<path stroke="#4664e4" d="M427.7 325.4h0"/>
<path stroke="#fb0063" d="M436.6 325.4h0"/>
<path stroke="#605bdc" d="M430.1 324.1h0"/>
<path stroke="#f30070" d="M436.8 324.1h0"/>
<path stroke="#0077f2" d="M429.2 325.4h0"/>
<path stroke="#e50080" d="M433 322.7h0m.7 0h0"/>
<path stroke="#fc0061" d="M438.7 324.1h0"/>
<path stroke="#0076f1" d="M421.5 325.4h0"/>
<path stroke="#186deb" d="M430 325.4h0"/>
<path stroke="#ff0051" d="M436.5 324.1h0m6.3 0h0m1.4 0h0m2.2 0h0m1.5 0h0"/>
<path stroke="#266cea" d="M426.7 324.1h0m5 0h0"/>
<path stroke="#007ef6" d="M429.7 324.1h0"/>
<path stroke="#ad13a6" d="M435.7 324.1h0"/>
<path stroke="#007bf4" d="M422.3 324.1h0"/>
<path stroke="#c5009a" d="M438 324.1h0"/>
<path stroke="#4664e4" d="M431.3 324.1h0"/>
<path stroke="#f4006e" d="M443.4 324.1h0"/>
<path stroke="#e9007c" d="M440.1 325.4h0"/>
<path stroke="#f00074" d="M439 325.4h0m6.5 0h0"/>
<path stroke="#0071ee" d="M423.4 324.1h0m2.2 1.3h0"/>
<path stroke="#d9008c" d="M445.5 324.1h0"/>
<path stroke="#a01fab" d="M432.9 326.7h0m1-1.3h0m.7-1.3h0"/>
<path stroke="#c2009b" d="M439.4 325.4h0"/>
<path stroke="#008bfb" d="M420.3 324.1h0"/>
<path stroke="#ff005a" d="M439.5 322.7h0"/>
<path stroke="#fb0063" d="M435.2 324.1h0"/>
<path stroke="#0077f2" d="M429.3 338.6h0"/>
<path stroke="#7350d2" d="M432.4 338.6h0"/>
<path stroke="#794cce" d="M430.5 337.3h0m1.7 2.6h0"/>
<path stroke="#eb007a" d="M438.4 339.9h0"/>
<path stroke="#bf009d" d="M435.2 339.9h0"/>
<path stroke="#d40090" d="M435.3 341.3h0"/>
<path stroke="#575fdf" d="M430.9 341.3h0"/>
<path stroke="#f4006e" d="M436.2 338.6h0m2.5 0h0"/>
<path stroke="#f10072" d="M436.9 338.6h0"/>
<path stroke="#4664e4" d="M429.7 337.3h0"/>
<path stroke="#6c54d6" d="M428.9 339.9h0m.9-1.3h0"/>
<path stroke="#007bf4" d="M425.2 338.6h0"/>
<path stroke="#df0086" d="M439.1 338.6h0"/>
<path stroke="#ff0051" d="M438.1 337.3h0m1.5 2.6h0m7.3-1.3h0"/>
<path stroke="#f70069" d="M442.8 339.9h0"/>
<path stroke="#6857d8" d="M431.3 338.6h0"/>
<path stroke="#8f36bb" d="M432.5 337.3h0"/>
<path stroke="#a01fab" d="M433.7 341.3h0m.4-1.4h0"/>
<path stroke="#e30082" d="M441.3 338.6h0"/>
<path stroke="#e50080" d="M433.3 337.3h0m1 0h0"/>
<path stroke="#db008a" d="M436 337.3h0"/>
<path stroke="#0073ef" d="M424.7 338.6h0"/>
<path stroke="#007ff7" d="M426.6 338.6h0"/>
<path stroke="#008bfb" d="M421.3 338.6h0m2.4 0h0m3.1-1.3h0m1.1 2.6h0"/>
<path stroke="#6c54d6" d="M430.1 338.6h0m.5 2.7h0"/>
<path stroke="#008bfb" d="M416 338.6h0"/>
<path stroke="#fe005c" d="M443 338.6h0"/>
<path stroke="#db008a" d="M441.6 339.9h0"/>
<path stroke="#ff0056" d="M447.5 338.6h0"/>
<path stroke="#3968e7" d="M426.5 339.9h0"/>
<path stroke="#266cea" d="M429.2 341.3h0"/>
<path stroke="#006fed" d="M431.7 339.9h0"/>
<path stroke="#e7007e" d="M442 339.9h0"/>
<path stroke="#e9007c" d="M435.7 339.9h0"/>
<path stroke="#7d49cc" d="M431.6 341.3h0"/>
<path stroke="#186deb" d="M428.4 338.6h0"/>
<path stroke="#f30070" d="M440.3 339.9h0"/>
<path stroke="#0077f2" d="M423.6 338.6h0"/>
<path stroke="#4066e6" d="M427 339.9h0"/>
<path stroke="#764ed0" d="M431.9 337.3h0"/>
<path stroke="#5261e1" d="M428.5 339.9h0"/>
<path stroke="#0073ef" d="M426.3 338.6h0"/>
<path stroke="#0086fa" d="M425.4 339.9h0"/>
<path stroke="#4c63e3" d="M430 341.3h0"/>
<path stroke="#cd0095" d="M437.1 339.9h0"/>
<path stroke="#0079f3" d="M425.9 338.6h0"/>
<path stroke="#df0086" d="M440.4 338.6h0"/>
<path stroke="#8244c7" d="M432.9 338.6h0"/>
<path stroke="#e50080" d="M433.3 341.3h0"/>
<path stroke="#f00074" d="M435.9 338.6h0"/>
<path stroke="#306ae9" d="M424.2 339.9h0"/>
<path stroke="#ff005a" d="M437.9 339.9h0"/>
<path stroke="#007cf5" d="M432.3 337.3h0"/>
<path stroke="#ff0051" d="M443.9 338.6h0m11.6 0h0"/>
<path stroke="#d40090" d="M435.4 338.6h0"/>
<path stroke="#0071ee" d="M424.4 338.6h0"/>
<path stroke="#f6006c" d="M440.8 339.9h0"/>
<path stroke="#f10072" d="M435 338.6h0m1.7-1.3h0"/>
<path stroke="#9a25ae" d="M431.1 339.9h0"/>
<path stroke="#d6008e" d="M436.6 339.9h0"/>
<path stroke="#b00fa5" d="M432.6 341.3h0"/>
<path stroke="#ff0056" d="M438.2 338.6h0"/>
<path stroke="#f30070" d="M439.5 337.3h0"/>
<path stroke="#0076f1" d="M428.1 337.3h0"/>
<path stroke="#0071ee" d="M430.3 337.3h0"/>
<path stroke="#ff0051" d="M441 338.6h0m1.3 0h0"/>
<path stroke="#266cea" d="M428.7 337.3h0"/>
<path stroke="#c2009b" d="M436.4 341.3h0"/>
<path stroke="#d10091" d="M445.3 338.6h0"/>
<path stroke="#f80067" d="M444.7 339.9h0"/>
<path stroke="#4c63e3" d="M427.3 337.3h0"/>
<path stroke="#5b5ddd" d="M432.7 336h0"/>
<path stroke="#962db3" d="M432.9 339.9h0"/>
<path stroke="#605bdc" d="M431.9 338.6h0"/>
<path stroke="#4664e4" d="M432.2 336h0"/>
<path stroke="#008bfb" d="M429.8 339.9h0"/>
<path stroke="#f70069" d="M435.6 337.3h0"/>
<path stroke="#df0086" d="M438.8 339.9h0"/>
<path stroke="#4066e6" d="M428.6 338.6h0m2.2 0h0m2 2.7h0"/>
<path stroke="#e50080" d="M433 337.3h0m.3 1.3h0"/>
<path stroke="#bc009f" d="M439 338.6h0"/>
<path stroke="#db008a" d="M436.1 339.9h0"/>
<path stroke="#a01fab" d="M433.2 339.9h0m.7-1.3h0m.7 1.3h0"/>
<path stroke="#7d49cc" d="M431.8 336h0"/>
<path stroke="#4066e6" d="M427.6 338.6h0"/>
<path stroke="#0079f3" d="M425.5 338.6h0"/>
<path stroke="#e50080" d="M433.8 339.9h0m.2 1.4h0m.6-2.7h0"/>
<path stroke="#0073ef" d="M427.2 338.6h0m3.4 1.3h0"/>
<path stroke="#575fdf" d="M429.5 339.9h0"/>
<path stroke="#ff005a" d="M439.9 338.6h0"/>
<path stroke="#c5009a" d="M435.5 337.3h0"/>
<path stroke="#fd005f" d="M444.3 338.6h0"/>
<path stroke="#794cce" d="M428.9 338.6h0"/>
<path stroke="#f6006c" d="M443.4 338.6h0"/>
<path stroke="#ee0076" d="M437.6 338.6h0"/>
<path stroke="#f10072" d="M445.8 338.6h0"/>
<path stroke="#3968e7" d="M432 342.6h0"/>
<path stroke="#9233b9" d="M429.1 337.3h0"/>
<path stroke="#7350d2" d="M432.1 341.3h0"/>
<path stroke="#ff0053" d="M444.9 338.6h0"/>
<path stroke="#a01fab" d="M432.7 339.9h0m1.1-2.6h0"/>
<path stroke="#186deb" d="M423.1 338.6h0m4.3 1.3h0m2.2-2.6h0"/>
<path stroke="#007ef6" d="M426.1 339.9h0"/>
<path stroke="#f70069" d="M437.5 339.9h0"/>
<path stroke="#5261e1" d="M432.6 338.6h0"/>
<path stroke="#605bdc" d="M430.9 337.3h0m.6 0h0"/>
<path stroke="#ff0058" d="M438.6 337.3h0"/>
<path stroke="#0089fa" d="M422.3 338.6h0"/>
<path stroke="#ff0051" d="M439.3 339.9h0"/>
<path stroke="#6459da" d="M432.7 342.6h0"/>
<path stroke="#c70098" d="M436.4 338.6h0"/>
<path stroke="#d10091" d="M437.2 337.3h0"/>
<text x="325.00" y="210.35" font-size="7.50" text-anchor="end" font-weight="normal" fill="#262626" textLength="18.26" lengthAdjust="spacingAndGlyphs">UPSIT</text>
<text x="325.00" y="224.92" font-size="7.50" text-anchor="end" font-weight="normal" fill="#262626" textLength="12.27" lengthAdjust="spacingAndGlyphs">PRS</text>
<text x="325.00" y="239.49" font-size="7.50" text-anchor="end" font-weight="normal" fill="#262626" textLength="18.14" lengthAdjust="spacingAndGlyphs">MoCA</text>
<text x="325.00" y="254.06" font-size="7.50" text-anchor="end" font-weight="normal" fill="#262626" textLength="44.29" lengthAdjust="spacingAndGlyphs">Family history</text>
<text x="325.00" y="268.63" font-size="7.50" text-anchor="end" font-weight="normal" fill="#262626" textLength="22.69" lengthAdjust="spacingAndGlyphs">RBDSQ</text>
<text x="325.00" y="283.20" font-size="7.50" text-anchor="end" font-weight="normal" fill="#262626" textLength="20.99" lengthAdjust="spacingAndGlyphs">Height</text>
<text x="325.00" y="297.77" font-size="7.50" text-anchor="end" font-weight="normal" fill="#262626" textLength="9.21" lengthAdjust="spacingAndGlyphs">Ins</text>
<text x="325.00" y="312.34" font-size="7.50" text-anchor="end" font-weight="normal" fill="#262626" textLength="21.23" lengthAdjust="spacingAndGlyphs">SCOPA</text>
<text x="325.00" y="326.91" font-size="7.50" text-anchor="end" font-weight="normal" fill="#262626" textLength="7.68" lengthAdjust="spacingAndGlyphs">SF</text>
<text x="325.00" y="341.48" font-size="7.50" text-anchor="end" font-weight="normal" fill="#262626" textLength="21.70" lengthAdjust="spacingAndGlyphs">HRSUP</text>
<text x="280.70" y="198.20" font-size="10.00" text-anchor="start" font-weight="bold" fill="#000">D</text>
<line x1="337.50" y1="353.40" x2="512.90" y2="353.40" stroke="#444" stroke-width="0.9"/>
<line x1="357.40" y1="353.40" x2="357.40" y2="355.20" stroke="#444" stroke-width="0.6"/>
<text x="357.40" y="361.58" font-size="6.60" text-anchor="middle" font-weight="normal" fill="#262626" textLength="12.55" lengthAdjust="spacingAndGlyphs">−0.3</text>
<line x1="383.00" y1="353.40" x2="383.00" y2="355.20" stroke="#444" stroke-width="0.6"/>
<text x="383.00" y="361.58" font-size="6.60" text-anchor="middle" font-weight="normal" fill="#262626" textLength="12.55" lengthAdjust="spacingAndGlyphs">−0.2</text>
<line x1="408.60" y1="353.40" x2="408.60" y2="355.20" stroke="#444" stroke-width="0.6"/>
<text x="408.60" y="361.58" font-size="6.60" text-anchor="middle" font-weight="normal" fill="#262626" textLength="12.55" lengthAdjust="spacingAndGlyphs">−0.1</text>
<line x1="434.20" y1="353.40" x2="434.20" y2="355.20" stroke="#444" stroke-width="0.6"/>
<text x="434.20" y="361.58" font-size="6.60" text-anchor="middle" font-weight="normal" fill="#262626" textLength="8.22" lengthAdjust="spacingAndGlyphs">0.0</text>
<line x1="459.80" y1="353.40" x2="459.80" y2="355.20" stroke="#444" stroke-width="0.6"/>
<text x="459.80" y="361.58" font-size="6.60" text-anchor="middle" font-weight="normal" fill="#262626" textLength="8.22" lengthAdjust="spacingAndGlyphs">0.1</text>
<line x1="485.40" y1="353.40" x2="485.40" y2="355.20" stroke="#444" stroke-width="0.6"/>
<text x="485.40" y="361.58" font-size="6.60" text-anchor="middle" font-weight="normal" fill="#262626" textLength="8.22" lengthAdjust="spacingAndGlyphs">0.2</text>
<line x1="511.00" y1="353.40" x2="511.00" y2="355.20" stroke="#444" stroke-width="0.6"/>
<text x="511.00" y="361.58" font-size="6.60" text-anchor="middle" font-weight="normal" fill="#262626" textLength="8.22" lengthAdjust="spacingAndGlyphs">0.3</text>
<text x="364.50" y="368.83" font-size="7.30" text-anchor="start" font-weight="normal" fill="#222" textLength="121.40" lengthAdjust="spacingAndGlyphs">SHAP value (impact on model output)</text>
<rect x="524.30" y="192.10" width="2.2" height="160.90" fill="url(#cb)"/>
<text x="528.20" y="194.78" font-size="6.60" text-anchor="start" font-weight="normal" fill="#1a1a1a" textLength="12.32" lengthAdjust="spacingAndGlyphs">High</text>
<text x="528.20" y="356.68" font-size="6.60" text-anchor="start" font-weight="normal" fill="#1a1a1a" textLength="10.56" lengthAdjust="spacingAndGlyphs">Low</text>
<text x="0" y="0" font-size="7.0" text-anchor="middle" fill="#222" transform="translate(546.40 273.15) rotate(-90)" textLength="39.70" lengthAdjust="spacingAndGlyphs">Feature value</text>
<line x1="63.60" y1="393.90" x2="240.00" y2="393.90" stroke="#e6e6e6" stroke-width="0.4" stroke-dasharray="0.4 2.2"/>
<line x1="63.60" y1="408.34" x2="240.00" y2="408.34" stroke="#e6e6e6" stroke-width="0.4" stroke-dasharray="0.4 2.2"/>
<line x1="63.60" y1="422.78" x2="240.00" y2="422.78" stroke="#e6e6e6" stroke-width="0.4" stroke-dasharray="0.4 2.2"/>
<line x1="63.60" y1="437.22" x2="240.00" y2="437.22" stroke="#e6e6e6" stroke-width="0.4" stroke-dasharray="0.4 2.2"/>
<line x1="63.60" y1="451.66" x2="240.00" y2="451.66" stroke="#e6e6e6" stroke-width="0.4" stroke-dasharray="0.4 2.2"/>
<line x1="63.60" y1="466.10" x2="240.00" y2="466.10" stroke="#e6e6e6" stroke-width="0.4" stroke-dasharray="0.4 2.2"/>
<line x1="63.60" y1="480.54" x2="240.00" y2="480.54" stroke="#e6e6e6" stroke-width="0.4" stroke-dasharray="0.4 2.2"/>
<line x1="63.60" y1="494.98" x2="240.00" y2="494.98" stroke="#e6e6e6" stroke-width="0.4" stroke-dasharray="0.4 2.2"/>
<line x1="63.60" y1="509.42" x2="240.00" y2="509.42" stroke="#e6e6e6" stroke-width="0.4" stroke-dasharray="0.4 2.2"/>
<line x1="63.60" y1="523.86" x2="240.00" y2="523.86" stroke="#e6e6e6" stroke-width="0.4" stroke-dasharray="0.4 2.2"/>
<line x1="170.10" y1="379.50" x2="170.10" y2="538.20" stroke="#aaaaaa" stroke-width="0.8"/>
<path stroke="#008bfb" d="M172.5 393.9h0m.2 2.1h0m.1-6.3h0m1.9 2.1h0m.9 2.6h0m.1 2.1h0m.3-1.6h0m.6 .6h0m1.1 0h0m1.1 .5h0m.3-1.1h0m2.2-2h0m2.1 1h0m1.1 1h0m9.1-1h0m3.7 0h0m10 0h0"/>
<path stroke="#ff0051" d="M78.1 393.9h0m5.4 0h0m9.7 .5h0m6.3-.5h0m4.3 .5h0m.6-1h0m14.3 .5h0m2.9 0h0m3 0h0m1.3 1h0m.2-.5h0m8-1h0m1.7 1h0m1.6 0h0m5.6-.5h0m6.1 0h0m10.1 .5h0m7.7 0h0m1-1h0"/>
<path stroke="#e50080" d="M146.2 394.9h0m5.2-.5h0m13.5-1.5h0m3 1h0m7.1 2.6h0m2.3-3.6h0"/>
<path stroke="#a01fab" d="M173.3 392.9h0m.7-2.6h0m.9 5.2h0m3.3-1.6h0m7.8 0h0m1.6 .5h0"/>
<path stroke="#6c54d6" d="M173.1 394.4h0m.5-.5h0m.1-.5h0m1.7-1.6h0m.5 .5h0m1.5 0h0m1.6 .6h0m1.9 2.6h0m3.6-1.6h0m3.6 0h0"/>
<path stroke="#008bfb" d="M173 397h0m0 1.6h0m.2-.5h0m0-3.2h0m1.4 0h0m2.3 2.1h0m2.3-2.6h0m.1 1.1h0m22.5-1.6h0"/>
<path stroke="#a01fab" d="M173.5 392.3h0m.9 5.2h0m.9-3.6h0m3.1-.5h0m1 3.1h0m.6-1.6h0m5.6-.5h0m1.8-.5h0"/>
<path stroke="#6c54d6" d="M172.9 397.5h0m1.1-8.3h0m2.7 1.6h0m0 5.7h0"/>
<path stroke="#e50080" d="M153 393.4h0m23.1 3.6h0m4.2-2.6h0"/>
<path stroke="#ff0051" d="M71.3 393.9h0m11.2 .5h0m2.9-.5h0m.1 1h0m.3-1h0m4.4 0h0m4.4 0h0m.1 .5h0m1.9 0h0m.4-.5h0m6.7 1h0m1.7-1h0m5.6 0h0m5.3 .5h0m3.6-.5h0m8.9 .5h0m3.7 0h0m5.4-.5h0m1.1 .5h0m4.8 .5h0m4.9-.5h0m.7-1h0m3.6-.5h0m.5 1.5h0m1.3 0h0m3.2 0h0m3.4-.5h0m2.4 0h0m.9-.5h0m0 1h0m.5 .5h0m1.2-1h0m.8-1h0m0 1.5h0"/>
<path stroke="#a01fab" d="M174.4 390.8h0m1.1-.5h0m2.6 2h0m.7-1h0m5 2.1h0m4.7 0h0"/>
<path stroke="#008bfb" d="M173.8 396.5h0m2.7 1h0m.3-4.1h0m5.1 1.5h0m.2-.5h0m1-1h0m.1-.5h0m2 .5h0"/>
<path stroke="#e50080" d="M153.5 394.9h0m3-1h0m12.3 .5h0m5.8-2.1h0m.5-1h0m.6 1.6h0m.4 .5h0m.3-2.1h0m2.1 .5h0"/>
<path stroke="#ff0051" d="M78.4 394.4h0m.8-.5h0m1.8 0h0m1.3 0h0m2.7-.5h0m.1 1h0m1.8-.5h0m5.3 .5h0m3.2-.5h0m1.6-.5h0m7.6 .5h0m10.2 0h0m2.9 0h0m8.1-.5h0m4.7 1h0m0-.5h0m2.3-.5h0m0 .5h0m1.8 0h0m12.9-.5h0m4.4 .5h0m1 0h0m.8 0h0m3.5 .5h0m2.8-.5h0m5.2 0h0m2.4 1h0m2.1-1h0"/>
<path stroke="#6c54d6" d="M172.6 390.3h0m1.5 3.1h0m.2-.5h0m.2 3.1h0m1.5 0h0m4.4-.5h0m3.5-1.1h0"/>
<path stroke="#e50080" d="M143.6 393.4h0m.8 .5h0m3.2 .5h0m16.6 0h0m9.1-3.6h0m.9 7.3h0m6.5-5.2h0"/>
<path stroke="#ff0051" d="M80.7 394.4h0m2.3-1h0m0 1h0m6.6-.5h0m2.6 0h0m.6-.5h0m.7 .5h0m2.3-.5h0m.3 1h0m9.3 0h0m3.6-.5h0m7.2 0h0m1.5 .5h0m2 0h0m1.5 0h0m.1-1h0m1.9 .5h0m.4 .5h0m2.7-.5h0m2.7 0h0m4.6 0h0m.4 .5h0m6-.5h0m4 .5h0m1.4-.5h0m.7-.5h0m0 1h0m1-.5h0m3 0h0m7.7 0h0m.7-.5h0m10 2.1h0"/>
<path stroke="#008bfb" d="M172.6 394.4h0m2.3 2.6h0m1.4-3.1h0m.9 2.1h0m.6-2.1h0m1.9-.5h0m1.9 .5h0m4.9 .5h0"/>
<path stroke="#6c54d6" d="M173.5 395.5h0m3.5-4.2h0m.1 3.1h0m.8 .5h0m3.1-1.5h0m2.2 1.5h0"/>
<path stroke="#a01fab" d="M173.6 391.8h0m.2-.5h0m1.4 3.1h0m2.3-2.6h0m2.3 2.1h0m2.5 .5h0"/>
<path stroke="#008bfb" d="M114.2 408.3h0m34.8-.5h0m.3-.5h0m3.7 0h0m13.8 1h0m2.6 3.2h0"/>
<path stroke="#e50080" d="M168.1 407.3h0m.2 1.6h0m.7-2.6h0m1.5-.6h0m.9 2.1h0m.7 2.6h0m.3 2.1h0m.4-4.7h0m.4 3.7h0m.3-1.6h0m.4 3.1h0m.6-7.3h0m0 5.2h0"/>
<path stroke="#a01fab" d="M157.1 408.3h0m.9 0h0m12-.5h0m1.3 1.1h0m1.4 2h0m1.6-3.6h0m1.5 2.1h0m2.4-1.1h0"/>
<path stroke="#6c54d6" d="M147.3 408.3h0m3.2 0h0m1.3 0h0m2.6 .6h0"/>
<path stroke="#ff0051" d="M174.6 412h0m9-3.7h0m24.6 0h0m10 0h0m13.6 0h0"/>
<path stroke="#ff0051" d="M171.5 406.3h0m14.6 2h0m2.4 0h0m7.9 0h0m28.1 0h0"/>
<path stroke="#e50080" d="M169 405.7h0m.7 3.7h0m.1 2.6h0m.1-3.7h0m1.5 1.6h0m.3 1h0m1.1-2.6h0m0-2.6h0m.6 3.2h0m.1 1.5h0m1.6-1.5h0m2.3 0h0"/>
<path stroke="#a01fab" d="M157.4 408.9h0m2.6-.6h0m11.5 3.2h0m.2-3.2h0m.9-1h0m.2 2.6h0m.9-1.6h0m1.4-.5h0"/>
<path stroke="#6c54d6" d="M146 408.3h0m7.6 1.1h0m2.3-1.6h0"/>
<path stroke="#008bfb" d="M87.3 408.3h0m39.1 0h0m5.4 0h0m17 1.1h0m2.6-.5h0m4.7-1.1h0m4.2 1.1h0m.8-.6h0"/>
<path stroke="#a01fab" d="M146.6 407.8h0m4.4 0h0m1.9 0h0m2 .5h0m14.3 2.1h0m1.1-3.1h0m2.5-2.6h0m1.3 3.1h0"/>
<path stroke="#6c54d6" d="M139 408.3h0m7.6-1h0m2.6 1.6h0m3 .5h0m16.1-1.1h0"/>
<path stroke="#008bfb" d="M102.7 408.3h0m38.3 0h0m11.8 .6h0m6.3 0h0m3.9 0h0m.3-.6h0m2.3 0h0m1.6 .6h0m2.4 1h0"/>
<path stroke="#e50080" d="M168.8 409.9h0m.7 1h0m.7-2h0m1.1 1.5h0m.2-1h0m.2-2.6h0m1.2-.5h0m.8-2.1h0m.1 .5h0m1.4 3.6h0m.3-1h0m1 .5h0m.9-.5h0"/>
<path stroke="#ff0051" d="M175.8 409.9h0"/>
<path stroke="#ff0051" d="M173.4 411.5h0m2.8-3.2h0m1.9 .6h0m12.9-.6h0"/>
<path stroke="#e50080" d="M168.1 407.8h0m.8 1.6h0m.1-4.2h0m.7 1.6h0m1.8 .5h0m.7-2.1h0m1.1 6.8h0m0-2.6h0m.1-3.1h0m.3 6.2h0m.2-7.3h0"/>
<path stroke="#a01fab" d="M156 408.9h0m3.8-1.1h0m3 1.6h0m9.5-.5h0m.4-2.1h0m1.3 0h0m2.7 2.6h0"/>
<path stroke="#008bfb" d="M119 408.3h0m15.1 0h0m2.3 0h0m9.8 .6h0m.7 .5h0m6.8-1.6h0m.3 .5h0m.9 .6h0m7.3-.6h0m.1-.5h0m3.9 1.6h0m.3-1.6h0"/>
<path stroke="#6c54d6" d="M145.6 408.3h0m3.3 0h0"/>
<path stroke="#6c54d6" d="M158.1 423.4h0m2.8-1.3h0m1.1 .7h0m4.7 .6h0m.6-.6h0m1 0h0m1.1-1.3h0m.5 0h0m.1 .6h0m.1 2h0m1.2 1.3h0"/>
<path stroke="#a01fab" d="M168.3 418.9h0m.5 5.8h0m2.6-.6h0m5.3-.7h0m12.3-.6h0"/>
<path stroke="#ff0051" d="M178.7 423.4h0m2.6-.6h0m1.3 0h0m.7 1.3h0m.6-2h0m36.1 .7h0"/>
<path stroke="#008bfb" d="M141.8 422.8h0m12.4-.7h0m.7 .7h0m1.2 1.3h0m.8-1.3h0m1.1-.7h0m.5 2h0m.5-1.3h0m1.4 .6h0m7.9-1.9h0m1.9 3.2h0m1.2 0h0"/>
<path stroke="#6c54d6" d="M165.9 422.1h0m1.9 4.6h0m0-5.9h0m1.7 4.6h0m0-4.6h0m1.4 .7h0"/>
<path stroke="#a01fab" d="M168.5 423.4h0m.5-.6h0m.1 3.9h0m.4-6.5h0m.1-.7h0m.4 3.9h0m.2 2.6h0m2.8-2.6h0"/>
<path stroke="#008bfb" d="M154.4 423.4h0m1.2-1.3h0m2 1.3h0m2.5-.6h0m.6 0h0m.3 .6h0m.8 0h0m4-.6h0m1 .6h0m1.5 0h0m2.6 2.6h0m.6-3.2h0m1.1-1.3h0m.3 .6h0m0 2h0"/>
<path stroke="#e50080" d="M173.4 422.8h0m3.2-.7h0m3.9 1.3h0m.2 .7h0"/>
<path stroke="#ff0051" d="M183 423.4h0m26-.6h0"/>
<path stroke="#6c54d6" d="M156.6 423.4h0m7.8 0h0m1.4 0h0m2 2h0m.2-3.3h0m.6 2h0m.2-4.6h0m1.8 3.9h0m.9-2.6h0m.2 1.3h0m.6 .7h0"/>
<path stroke="#008bfb" d="M145.5 422.8h0m6.4 0h0m.4-.7h0m.3 .7h0m3 .6h0m.4-1.3h0m1.1 .7h0m6.9 0h0m.3 0h0m3.7-2.6h0m1.4-1.3h0m1 6.5h0m.5-5.2h0m1.6 3.2h0m2.5-.6h0"/>
<path stroke="#ff0051" d="M176.2 424.1h0m1-1.3h0"/>
<path stroke="#e50080" d="M183.4 422.1h0m.8 .7h0"/>
<path stroke="#a01fab" d="M168.5 426h0m2.5-1.3h0m.3-4.5h0m2.3 1.9h0m2.7 .7h0"/>
<path stroke="#ff0051" d="M179.2 422.8h0m21.8 0h0"/>
<path stroke="#e50080" d="M175.9 423.4h0m4.8-.6h0m2.2 0h0"/>
<path stroke="#a01fab" d="M168.3 424.1h0m1.1-2h0m1.2-1.3h0m.9 .7h0m.5 1.9h0m7.7-.6h0m.9-.7h0m3.3 1.3h0m9.7-.6h0"/>
<path stroke="#008bfb" d="M130.5 422.8h0m25.3 0h0m2.7 0h0m5.4 .6h0m4.4 1.3h0m1.7-1.9h0m.8 1.3h0m2.2 .6h0m.9-1.9h0"/>
<path stroke="#6c54d6" d="M151.3 422.8h0m.4 .6h0m1.6-.6h0m11-.7h0m1 0h0m1.3 .7h0m1.1 4.5h0m.6-7.8h0m.2 6.5h0m.7-.6h0m1.5-3.3h0m.1 .7h0"/>
<path stroke="#6c54d6" d="M157.5 438.1h0"/>
<path stroke="#008bfb" d="M146.6 437.2h0m3.3 1.8h0m1.4-1.8h0m13.5 0h0"/>
<path stroke="#a01fab" d="M160.7 437.2h0m1.5 .9h0m.6-1.7h0m4.4 1.7h0"/>
<path stroke="#e50080" d="M169.1 436.4h0m.1 .8h0m.7-1.7h0m.1 3.5h0m1-3.5h0m.2-1.7h0m.2 5.2h0m.3-2.6h0m1.2-.9h0m.2 4.3h0m0-1.7h0m0-3.5h0m2.5 2.6h0m3.8 .9h0m1.7 0h0m2.1 0h0"/>
<path stroke="#ff0051" d="M169.2 439h0m.9-1.8h0m4.4 0h0m6.3 0h0"/>
<path stroke="#ff0051" d="M172.4 439h0"/>
<path stroke="#e50080" d="M168.6 435.5h0m.1 1.7h0m0-2.6h0m.1 6.1h0m1-.9h0m.5 .9h0m.5 0h0m.2-1.7h0m.1-1.8h0m.5 2.6h0m1.7-.8h0m1.7-1.8h0m3.6 .9h0m1.1-.9h0"/>
<path stroke="#6c54d6" d="M150.2 436.4h0m3.9 1.7h0m.4-.9h0m.6 0h0m7.8 0h0m5.1 0h0"/>
<path stroke="#008bfb" d="M141.8 437.2h0m12.9 .9h0m2.2-.9h0m5.1 0h0"/>
<path stroke="#a01fab" d="M147.8 437.2h0m4.8 0h0m.7 .9h0m2.6-.9h0m1.6 0h0"/>
<path stroke="#008bfb" d="M165.6 437.2h0"/>
<path stroke="#e50080" d="M167.2 437.2h0m1.8 2.6h0m0-5.2h0m.4 .9h0m.6-.9h0m.3 .9h0m.8 .9h0m.1 1.7h0m.6 0h0m.9-.9h0m0-.8h0m9.8 1.7h0m.3-.9h0m.5 0h0"/>
<path stroke="#6c54d6" d="M150.5 437.2h0m3.1 0h0m6.8 0h0"/>
<path stroke="#ff0051" d="M168.8 441.6h0m.2-3.5h0m1.2 0h0m1.2 3.5h0m1.4-4.4h0m24.2 0h0m8.5 0h0"/>
<path stroke="#a01fab" d="M148.1 437.2h0m1.3 0h0m.7 0h0m.6 .9h0m13.5-.9h0"/>
<path stroke="#6c54d6" d="M150 438.1h0m11.5-.9h0m1.8 0h0"/>
<path stroke="#e50080" d="M168.6 439.8h0m.2-.8h0m.6 1.7h0m.2-4.3h0m.2 1.7h0m.5-.9h0m.2-.8h0m.2-1.8h0m.5-1.7h0m.3 1.7h0m.4 2.6h0m.2-1.7h0m.1 2.6h0m2.2 0h0m4.1-.9h0m1.4 0h0m1.2 0h0"/>
<path stroke="#008bfb" d="M159.3 437.2h0"/>
<path stroke="#ff0051" d="M168.6 436.4h0m.1-2.6h0m.2 4.3h0m1.4 .9h0m.4 .8h0m.6 0h0"/>
<path stroke="#a01fab" d="M145.8 437.2h0m7.4 0h0m10 .9h0"/>
<path stroke="#008bfb" d="M173.9 451.7h0m4.2 0h0"/>
<path stroke="#e50080" d="M150.5 451.7h0m2.9-.5h0m.9 .5h0m10.3 .4h0m3.6 0h0m1.2-1.3h0m1.1-.9h0m.1 3.1h0m.1 .4h0"/>
<path stroke="#ff0051" d="M141.8 451.7h0m12.9 0h0m1.3 .4h0m8.2-.4h0m.5 0h0m1.6 0h0m3.1 .4h0m.9-1.3h0m.1-2.6h0m0 6.1h0m.1-6.5h0"/>
<path stroke="#6c54d6" d="M174 452.1h0m8.4 0h0m3.1 0h0m.6 0h0"/>
<path stroke="#a01fab" d="M178.5 451.7h0"/>
<path stroke="#6c54d6" d="M184.5 451.7h0"/>
<path stroke="#e50080" d="M153.1 452.1h0m.4 0h0m7 0h0m1.5 0h0m8.1 .4h0m.2-3.4h0m.1-.5h0m.1 3.1h0m0-.5h0m.1 3.5h0m.1-3.5h0"/>
<path stroke="#ff0051" d="M153.7 451.7h0m1.5 .4h0m2.2-.9h0m.9 .5h0m1.5 0h0m.7 0h0m8.8 0h0m.6 0h0m.2-.5h0m.2 3.9h0m0-5.6h0"/>
<path stroke="#008bfb" d="M175.1 451.7h0m1.7 0h0m4 .4h0"/>
<path stroke="#a01fab" d="M173.3 451.7h0m9.2 0h0"/>
<path stroke="#008bfb" d="M171.6 451.7h0m2.2-.5h0m1.5 .5h0m7.9 0h0m10.4 0h0m5.4 0h0"/>
<path stroke="#6c54d6" d="M175.7 452.1h0m8.4-.4h0"/>
<path stroke="#ff0051" d="M146.4 451.7h0m8.8-.5h0m0 1.3h0m2.1-.8h0m4.4 0h0m.9 0h0m.1 0h0m5.3 0h0m2.2 4.3h0m.2-8.7h0"/>
<path stroke="#e50080" d="M151.1 451.7h0m.1 .4h0m3.9-1.3h0m.2 .9h0m1 0h0m13 1.3h0m.9 .8h0m.4 1.8h0"/>
<path stroke="#a01fab" d="M179.6 451.7h0m6 0h0"/>
<path stroke="#e50080" d="M159.7 452.1h0m9.8-1.7h0m.2 .4h0m.5-.4h0m.1-3.5h0"/>
<path stroke="#6c54d6" d="M174.6 451.7h0m7.4 0h0m3.6-.5h0"/>
<path stroke="#ff0051" d="M152.1 451.7h0m.6 0h0m.3 0h0m3-.5h0m.9 .5h0m.1 .4h0m.1 .4h0m12.2-1.3h0m.1 1.3h0m.7 .5h0m0 3.4h0m.1-4.3h0m.4 .4h0m.2-.8h0m0 .4h0"/>
<path stroke="#008bfb" d="M174.5 451.2h0m6.5 .5h0m3.2 .4h0"/>
<path stroke="#a01fab" d="M173.2 452.1h0m1.2 0h0"/>
<path stroke="#008bfb" d="M166.4 466.1h0m.7-.4h0m1.5 0h0m.7 2.8h0m0-6.4h0m.1 4h0m0 1.2h0m0-.8h0m.2 1.6h0m.3-1.6h0m0-3.2h0m.1 2.8h0m0-3.2h0m.1 6.8h0m0 .4h0m0-8h0"/>
<path stroke="#ff0051" d="M175.2 466.1h0m.4-.4h0m4 .4h0m1 0h0m17.4 0h0m14.2 0h0m2.3 0h0"/>
<path stroke="#ff0051" d="M172.9 466.1h0m.6 .4h0m1.8 0h0m2-.4h0m.1 .4h0m26.2-.4h0m17.4 0h0"/>
<path stroke="#008bfb" d="M165.7 465.7h0m0 .8h0m.1-.4h0m1.2 0h0m1.4 0h0m.9-3.2h0m.1 6.8h0m.1 .4h0m0-6h0m0-.8h0m.1 7.2h0m.1-6h0m.1 4h0m.1 .4h0m.1-1.2h0m.1-2h0m.3 3.6h0"/>
<path stroke="#ff0051" d="M173 466.5h0m.2-.4h0m1.2 .4h0m3.1-.8h0m1.2 .4h0m16.8 0h0"/>
<path stroke="#008bfb" d="M166.7 466.5h0m0-.4h0m.5 .4h0m.7-.4h0m.3 .4h0m.3 .4h0m.3-.8h0m.4 .4h0m.1 1.2h0m.1-2.4h0m0 4h0m.1-7.6h0m.1 4h0m.1 5.2h0m.1-4h0m.3-2.4h0m.1 .8h0m.1 2.8h0"/>
<path stroke="#ff0051" d="M172.9 465.7h0m.5 0h0m.2 1.2h0m1.1-.8h0m1 0h0m2.3 0h0m.7 .4h0m.7 0h0m6.1-.4h0m3.5 0h0m21 0h0"/>
<path stroke="#008bfb" d="M169.4 464.9h0m.2-2.4h0m.1 6.4h0m.1-5.2h0m.2 1.2h0m0-.8h0m.1-1.6h0m.3 4.8h0m0-.4h0m0-.4h0m0-1.2h0m0 .4h0m.2 .4h0"/>
<path stroke="#a01fab" d="M171.1 481.2h0m3.9-.7h0"/>
<path stroke="#6c54d6" d="M169.8 485.1h0m.6-6.5h0"/>
<path stroke="#e50080" d="M172.4 480.5h0m.4 .7h0m.7-.7h0m1.2 .7h0"/>
<path stroke="#008bfb" d="M163.6 480.5h0m.4 .7h0m1.2 0h0m1.6 0h0m.4 0h0m.1-1.3h0m.4 0h0m.6 .6h0m.2 .7h0m.4-2h0m.1 .7h0m.2 1.9h0m.7-3.9h0m1.2 3.9h0"/>
<path stroke="#008bfb" d="M162.9 481.2h0m0-.7h0m1.9 .7h0m.6-.7h0m.2 .7h0m.2-1.3h0m.5 .6h0m0-.6h0m.7 0h0m.4 .6h0m.7 .7h0m.7 .6h0m.1-1.3h0m.2-1.3h0m.1 1.3h0m.1 2h0m.5-5.2h0m.6 4.5h0m.3-1.9h0m.1 .6h0"/>
<path stroke="#e50080" d="M171.6 480.5h0m1.5 0h0"/>
<path stroke="#ff0051" d="M185.5 480.5h0"/>
<path stroke="#6c54d6" d="M168.9 481.2h0m.8-2h0m.1 2.6h0m.2 2h0m0-.7h0m.6-3.9h0"/>
<path stroke="#a01fab" d="M172.8 480.5h0m1.5 0h0"/>
<path stroke="#008bfb" d="M158.2 480.5h0m5.6 0h0m.5 0h0m.2 0h0m1.1 0h0m.9 .7h0m1.1-.7h0m.6-.6h0m.5 0h0m.7 1.9h0m.1-3.2h0m.4 0h0m.1 1.3h0m.5 1.3h0"/>
<path stroke="#008bfb" d="M164.9 479.9h0m1 1.3h0m.7-1.3h0m.1 .6h0m.2 0h0m.6 1.3h0m0-.6h0m.4 .6h0m.5 0h0m1.1-1.9h0m.2 3.2h0m.1-2.6h0m0 3.9h0m.1-7.8h0m.1 5.9h0m.1-.7h0"/>
<path stroke="#ff0051" d="M193.6 480.5h0"/>
<path stroke="#e50080" d="M171 479.9h0m.2 .6h0"/>
<path stroke="#6c54d6" d="M169.7 481.2h0m.3 0h0m.2-2h0m.2 1.3h0"/>
<path stroke="#6c54d6" d="M169.7 497.2h0m.8-.7h0m.2-.8h0"/>
<path stroke="#a01fab" d="M169.6 495.7h0m.4 1.5h0m.2-3h0"/>
<path stroke="#008bfb" d="M163.4 495h0m2 0h0m1.4 0h0m.9 0h0m1.7 1.5h0m.1-3h0m.5 1.5h0m.7 1.5h0"/>
<path stroke="#ff0051" d="M171.5 495h0m2.5 0h0m1.3 0h0m1.3 0h0"/>
<path stroke="#ff0051" d="M175.1 495h0m4.2 0h0m2.2 0h0"/>
<path stroke="#008bfb" d="M163.8 495.7h0m.3 0h0m1.4 0h0m.2-.7h0m.9 0h0m2.2 .7h0m.9 .8h0m.4-3.7h0m.7 2.2h0"/>
<path stroke="#6c54d6" d="M169.1 495.7h0m.5 3h0m.1 .7h0m.6-2.2h0m.2-4.4h0m.2 1.4h0"/>
<path stroke="#6c54d6" d="M170.4 498h0"/>
<path stroke="#a01fab" d="M169.3 497.2h0m.2-1.5h0m.2-2.9h0"/>
<path stroke="#008bfb" d="M163.2 495.7h0m.7-.7h0m2.1 0h0m.6 .7h0m.7-.7h0m.8 0h0m1.4-.8h0m.2 0h0m.8-.7h0m0 1.5h0"/>
<path stroke="#ff0051" d="M174.8 495h0m1 0h0m5 0h0m.3 0h0"/>
<path stroke="#008bfb" d="M163.2 495h0m1.1 0h0m4.5 0h0m.8-3h0m0 6h0m.5 0h0m.2-2.3h0"/>
<path stroke="#ff0051" d="M174.4 495h0m1.9 .7h0m3.1-.7h0m6.1 0h0"/>
<path stroke="#a01fab" d="M169.4 495h0m.2-3.7h0"/>
<path stroke="#6c54d6" d="M169.6 493.5h0m.1 1.5h0m.3-1.5h0m.2 3h0m.3-2.3h0"/>
<path stroke="#008bfb" d="M169.6 510.6h0m.4 .6h0m.1-2.9h0m.2 2.9h0m.1-4.7h0m.2 .6h0m.9 2.9h0m12.1-.6h0"/>
<path stroke="#a01fab" d="M170.5 507.7h0"/>
<path stroke="#ff0051" d="M151 509.4h0m11.4 0h0m4.3 .6h0m1.3-.6h0"/>
<path stroke="#e50080" d="M167.5 509.4h0"/>
<path stroke="#6c54d6" d="M169 510h0m1.4 2.3h0m.1 .6h0"/>
<path stroke="#e50080" d="M163.4 509.4h0m3.1 0h0m2.5 0h0"/>
<path stroke="#008bfb" d="M170.7 508.8h0m.2 .6h0m3.1 0h0m1 .6h0m.1-.6h0"/>
<path stroke="#6c54d6" d="M169.3 508.8h0m1-.5h0m.4 3.4h0"/>
<path stroke="#ff0051" d="M162.3 510h0m1.5-.6h0m1.8 .6h0m.1-1.2h0"/>
<path stroke="#a01fab" d="M169.9 512.3h0m.1-5.8h0m.8 3.5h0"/>
<path stroke="#6c54d6" d="M169.5 511.2h0m.4-4.1h0m.1 3.5h0m1.2-1.2h0"/>
<path stroke="#a01fab" d="M170.1 506h0"/>
<path stroke="#e50080" d="M169.3 510.6h0"/>
<path stroke="#008bfb" d="M169.5 509.4h0m.2 .6h0m.4 4h0m.3-3.4h0m.1-1.2h0m1.5 0h0m1.1 0h0m.3 0h0m1.3 0h0"/>
<path stroke="#ff0051" d="M168.9 508.8h0m.4 1.2h0"/>
<path stroke="#ff0051" d="M160 509.4h0"/>
<path stroke="#6c54d6" d="M169.6 508.3h0m.3 .5h0"/>
<path stroke="#a01fab" d="M169.8 511.7h0m.1-2.3h0m0 4.1h0m.3-6.4h0m0 2.3h0m0 .6h0m.1 2.9h0m.1-1.2h0"/>
<path stroke="#008bfb" d="M169.8 505.4h0m.2 2.3h0m.1 1.1h0m1.4 .6h0"/>
<path stroke="#e50080" d="M165.8 509.4h0m1.8 .6h0m.4 0h0"/>
<path stroke="#6c54d6" d="M169.4 525.3h0m.3-1.4h0m.1-3h0"/>
<path stroke="#e50080" d="M169.7 520.1h0m.5 5.2h0"/>
<path stroke="#008bfb" d="M153.6 523.9h0m12.6 0h0m2 0h0m.7-.8h0"/>
<path stroke="#a01fab" d="M169.4 522.4h0m.3 0h0m.1 5.2h0m0-6h0m.3 5.2h0"/>
<path stroke="#6c54d6" d="M169.5 523.9h0m.1 2.9h0m0-3.7h0m.3 5.2h0m.1-7.4h0m.2 1.5h0m.3 2.9h0"/>
<path stroke="#e50080" d="M169.9 525.3h0m.3 3h0m.2-4.4h0"/>
<path stroke="#a01fab" d="M170.4 523.1h0"/>
<path stroke="#008bfb" d="M162.3 523.9h0m2.6 0h0m2.6 .7h0m.4-.7h0"/>
<path stroke="#ff0051" d="M177.3 523.9h0"/>
<path stroke="#a01fab" d="M169.7 526.1h0m.2-1.5h0m.8-.7h0"/>
<path stroke="#6c54d6" d="M169.3 526.1h0m.2-4.5h0m.6 1.5h0m.2 1.5h0m.3-2.2h0"/>
<path stroke="#008bfb" d="M163.4 523.9h0m.6 0h0m3.3 0h0m1.5 0h0"/>
<path stroke="#e50080" d="M170.1 526.1h0"/>
<path stroke="#6c54d6" d="M169.6 524.6h0m1 0h0"/>
<path stroke="#ff0051" d="M181.8 523.9h0"/>
<path stroke="#008bfb" d="M162.9 523.9h0m2.7 0h0m1.2 0h0m.7-.8h0"/>
<path stroke="#a01fab" d="M168.8 524.6h0m.7-1.5h0m.5-1.5h0m0 6h0m0-3.7h0m.2-3.8h0m.1 .8h0"/>
<path stroke="#e50080" d="M170 519.4h0"/>
<text x="51.30" y="396.75" font-size="7.50" text-anchor="end" font-weight="normal" fill="#262626" textLength="18.26" lengthAdjust="spacingAndGlyphs">UPSIT</text>
<text x="51.30" y="411.19" font-size="7.50" text-anchor="end" font-weight="normal" fill="#262626" textLength="12.27" lengthAdjust="spacingAndGlyphs">PRS</text>
<text x="51.30" y="425.63" font-size="7.50" text-anchor="end" font-weight="normal" fill="#262626" textLength="22.69" lengthAdjust="spacingAndGlyphs">RBDSQ</text>
<text x="51.30" y="440.07" font-size="7.50" text-anchor="end" font-weight="normal" fill="#262626" textLength="12.28" lengthAdjust="spacingAndGlyphs">Age</text>
<text x="51.30" y="454.51" font-size="7.50" text-anchor="end" font-weight="normal" fill="#262626" textLength="18.14" lengthAdjust="spacingAndGlyphs">MoCA</text>
<text x="51.30" y="468.95" font-size="7.50" text-anchor="end" font-weight="normal" fill="#262626" textLength="44.29" lengthAdjust="spacingAndGlyphs">Family history</text>
<text x="51.30" y="483.39" font-size="7.50" text-anchor="end" font-weight="normal" fill="#262626" textLength="21.23" lengthAdjust="spacingAndGlyphs">SCOPA</text>
<text x="51.30" y="497.83" font-size="7.50" text-anchor="end" font-weight="normal" fill="#262626" textLength="9.21" lengthAdjust="spacingAndGlyphs">Ins</text>
<text x="51.30" y="512.27" font-size="7.50" text-anchor="end" font-weight="normal" fill="#262626" textLength="12.22" lengthAdjust="spacingAndGlyphs">SBP</text>
<text x="51.30" y="526.71" font-size="7.50" text-anchor="end" font-weight="normal" fill="#262626" textLength="21.70" lengthAdjust="spacingAndGlyphs">HRSUP</text>
<text x="7.30" y="385.00" font-size="10.00" text-anchor="start" font-weight="bold" fill="#000">E</text>
<line x1="63.60" y1="538.20" x2="240.00" y2="538.20" stroke="#444" stroke-width="0.9"/>
<line x1="73.78" y1="538.20" x2="73.78" y2="540.00" stroke="#444" stroke-width="0.6"/>
<text x="73.78" y="546.38" font-size="6.60" text-anchor="middle" font-weight="normal" fill="#262626" textLength="12.57" lengthAdjust="spacingAndGlyphs">−0.8</text>
<line x1="97.86" y1="538.20" x2="97.86" y2="540.00" stroke="#444" stroke-width="0.6"/>
<text x="97.86" y="546.38" font-size="6.60" text-anchor="middle" font-weight="normal" fill="#262626" textLength="12.57" lengthAdjust="spacingAndGlyphs">−0.6</text>
<line x1="121.94" y1="538.20" x2="121.94" y2="540.00" stroke="#444" stroke-width="0.6"/>
<text x="121.94" y="546.38" font-size="6.60" text-anchor="middle" font-weight="normal" fill="#262626" textLength="12.57" lengthAdjust="spacingAndGlyphs">−0.4</text>
<line x1="146.02" y1="538.20" x2="146.02" y2="540.00" stroke="#444" stroke-width="0.6"/>
<text x="146.02" y="546.38" font-size="6.60" text-anchor="middle" font-weight="normal" fill="#262626" textLength="12.57" lengthAdjust="spacingAndGlyphs">−0.2</text>
<line x1="170.10" y1="538.20" x2="170.10" y2="540.00" stroke="#444" stroke-width="0.6"/>
<text x="170.10" y="546.38" font-size="6.60" text-anchor="middle" font-weight="normal" fill="#262626" textLength="8.24" lengthAdjust="spacingAndGlyphs">0.0</text>
<line x1="194.18" y1="538.20" x2="194.18" y2="540.00" stroke="#444" stroke-width="0.6"/>
<text x="194.18" y="546.38" font-size="6.60" text-anchor="middle" font-weight="normal" fill="#262626" textLength="8.24" lengthAdjust="spacingAndGlyphs">0.2</text>
<line x1="218.26" y1="538.20" x2="218.26" y2="540.00" stroke="#444" stroke-width="0.6"/>
<text x="218.26" y="546.38" font-size="6.60" text-anchor="middle" font-weight="normal" fill="#262626" textLength="8.24" lengthAdjust="spacingAndGlyphs">0.4</text>
<text x="91.50" y="555.43" font-size="7.30" text-anchor="start" font-weight="normal" fill="#222" textLength="121.60" lengthAdjust="spacingAndGlyphs">SHAP value (impact on model output)</text>
<rect x="250.90" y="379.30" width="2.2" height="158.50" fill="url(#cb)"/>
<text x="254.80" y="381.98" font-size="6.60" text-anchor="start" font-weight="normal" fill="#1a1a1a" textLength="12.34" lengthAdjust="spacingAndGlyphs">High</text>
<text x="254.80" y="541.48" font-size="6.60" text-anchor="start" font-weight="normal" fill="#1a1a1a" textLength="10.58" lengthAdjust="spacingAndGlyphs">Low</text>
<text x="0" y="0" font-size="7.0" text-anchor="middle" fill="#222" transform="translate(273.00 459.15) rotate(-90)" textLength="43.00" lengthAdjust="spacingAndGlyphs">Feature value</text>
<line x1="336.50" y1="393.90" x2="514.00" y2="393.90" stroke="#e6e6e6" stroke-width="0.4" stroke-dasharray="0.4 2.2"/>
<line x1="336.50" y1="408.34" x2="514.00" y2="408.34" stroke="#e6e6e6" stroke-width="0.4" stroke-dasharray="0.4 2.2"/>
<line x1="336.50" y1="422.78" x2="514.00" y2="422.78" stroke="#e6e6e6" stroke-width="0.4" stroke-dasharray="0.4 2.2"/>
<line x1="336.50" y1="437.22" x2="514.00" y2="437.22" stroke="#e6e6e6" stroke-width="0.4" stroke-dasharray="0.4 2.2"/>
<line x1="336.50" y1="451.66" x2="514.00" y2="451.66" stroke="#e6e6e6" stroke-width="0.4" stroke-dasharray="0.4 2.2"/>
<line x1="336.50" y1="466.10" x2="514.00" y2="466.10" stroke="#e6e6e6" stroke-width="0.4" stroke-dasharray="0.4 2.2"/>
<line x1="336.50" y1="480.54" x2="514.00" y2="480.54" stroke="#e6e6e6" stroke-width="0.4" stroke-dasharray="0.4 2.2"/>
<line x1="336.50" y1="494.98" x2="514.00" y2="494.98" stroke="#e6e6e6" stroke-width="0.4" stroke-dasharray="0.4 2.2"/>
<line x1="336.50" y1="509.42" x2="514.00" y2="509.42" stroke="#e6e6e6" stroke-width="0.4" stroke-dasharray="0.4 2.2"/>
<line x1="336.50" y1="523.86" x2="514.00" y2="523.86" stroke="#e6e6e6" stroke-width="0.4" stroke-dasharray="0.4 2.2"/>
<line x1="448.30" y1="379.50" x2="448.30" y2="538.30" stroke="#aaaaaa" stroke-width="0.8"/>
<path stroke="#008bfb" d="M460 393h0m0 .9h0m.4-1.9h0m0 .5h0m1.5 2.8h0m1.5-.5h0"/>
<path stroke="#ff0051" d="M345.9 393.9h0m3.7-.5h0m3.7 1.4h0m4.3-.9h0m1.7 0h0m2.2 0h0m.7 0h0m.3 .5h0m1.4-.5h0m.8 .5h0m3.1 .4h0m.9-.9h0m4.5 0h0m16.3 0h0m10 0h0m2.7 0h0m3.5-.5h0m.5 1h0m.6-.5h0m.2 .5h0m10.3-.5h0m2.3 0h0m3.7-.5h0m7 1h0m2.8-1h0m2.3 .5h0m6.9 0h0m.6-.5h0m2.5 .5h0m3.1 0h0"/>
<path stroke="#e50080" d="M451.2 396.7h0m.1 1h0m.7-5.7h0m.7 1.4h0m.3-2.8h0m0 2.4h0m.9 .4h0m3.6 1.4h0m4.2-1.4h0"/>
<path stroke="#a01fab" d="M457 391.5h0m2 3.8h0m6-.9h0m1.4 0h0"/>
<path stroke="#6c54d6" d="M452 394.4h0m2 .9h0m1-4.7h0m6.3 4.2h0m1.2-.9h0"/>
<path stroke="#e50080" d="M451.5 395.8h0m.1-.5h0m1 0h0m1.1-2.8h0m1.6 2.3h0m1.2-1.8h0m1.4 0h0m1.7 2.3h0"/>
<path stroke="#008bfb" d="M453.4 391.1h0m6 5.2h0m1-1.5h0m2-1.4h0m17.1 .5h0m7.3 0h0"/>
<path stroke="#a01fab" d="M453.1 391.5h0m3.1 .5h0m2.5 3.8h0m6.7-1.9h0m1.3 0h0"/>
<path stroke="#ff0051" d="M345.8 394.4h0m3.6 0h0m.7 .4h0m.1-.9h0m.2-.5h0m0 1h0m3.2-1h0m.6 1h0m.1-.5h0m.7 .5h0m.6-.5h0m4.7 .5h0m1-1h0m2.8 1h0m1-.5h0m1 0h0m.4 .5h0m1 0h0m1-1.4h0m33.7 1.4h0m2.2-.5h0m4.7 0h0m11.1-.5h0m3.2 1h0m.8-.5h0m18.5 .5h0m1.3 0h0m.1-.5h0m3.8 0h0m.3 .5h0"/>
<path stroke="#6c54d6" d="M451.9 390.6h0m2.4 6.1h0m2.3-2.8h0m1.2-.5h0m.5 1h0m10.4-.5h0"/>
<path stroke="#a01fab" d="M451.8 391.1h0m.3 6.1h0m.1-2.8h0m2.3 1.9h0m.5 .4h0m.7-.9h0m2.7-1h0m1.5-.4h0"/>
<path stroke="#ff0051" d="M354.5 393h0m.9 1.8h0m2.2-1.4h0m1.8 1h0m1.2 .4h0m7.2-.9h0m.3 1.4h0m.4-1.9h0m1 1h0m7.3-.5h0m9.2 0h0m8 0h0m9.9 0h0m4.3 0h0m.5 .5h0m9.8-.5h0m1.8 .5h0m2.2-.5h0m8.2 .9h0m1.7-.9h0m.9 .5h0m2.3 0h0m9.5 0h0"/>
<path stroke="#008bfb" d="M451 397.2h0m.5-5.7h0m3.1 2.4h0m1 1.4h0m0-5.2h0m.1 1h0m1.2 4.7h0m.8-3.8h0"/>
<path stroke="#6c54d6" d="M451.1 393.4h0m.3 2.9h0m1.8 .4h0m.6-6.1h0m0 .5h0m1 6.1h0m7-4.2h0m.1 .9h0"/>
<path stroke="#e50080" d="M451.8 393h0m.5 5.6h0m.5-6.6h0m.7 6.2h0m.6-3.8h0m2.3 3.3h0m.7-4.3h0m3.2 0h0"/>
<path stroke="#a01fab" d="M451.6 392.5h0m.8 2.3h0m2.3 0h0m1.2-1.8h0m.8 3.3h0m.6-1.9h0m.3 .9h0m1.3-1.4h0m.5 1.9h0"/>
<path stroke="#6c54d6" d="M451.1 390.1h0m1.6 7.6h0m2.1-5.7h0m.6 .5h0m.8-1h0m.7 1h0"/>
<path stroke="#008bfb" d="M451.9 394.8h0m.4-4.7h0m.2 6.2h0m1.7-3.3h0m.1 2.8h0m1.5-1.9h0m5.5 .5h0m2 0h0"/>
<path stroke="#ff0051" d="M345.3 394.8h0m.5-1.4h0m2.3 .5h0m.9 0h0m2.6 0h0m3.1-.5h0m1.6 .5h0m2.2 .5h0m.9-1h0m19.2 .5h0m3.7 0h0m22.8 .5h0m4.3-1h0m9.4 1h0m4.4 .4h0m1.7-.4h0m4.7-1h0m.3 .5h0m1.4 0h0m13.1-.5h0m1.6 0h0"/>
<path stroke="#e50080" d="M451.3 393.9h0m1.2 1.9h0m.4-6.2h0m.4 2.9h0m.2 1.4h0m.1-2.4h0m1.7 1.9h0m.7 1h0m.2 1.9h0m2-4.3h0m.9 .5h0"/>
<path stroke="#6c54d6" d="M403.7 408.3h0m6.1-.4h0m18.8 .4h0m4 .5h0m.4-.5h0m10.4 0h0m3 1.3h0m.8-2.1h0m.9 1.3h0m.2-1.8h0m.4 .9h0m.1-3.5h0m.2 3.5h0"/>
<path stroke="#e50080" d="M447.9 408.3h0m.9-4.7h0m.4 5.2h0m.4 1.7h0m0 .4h0m1.1-3.4h0m3.3 .8h0"/>
<path stroke="#008bfb" d="M389.2 408.3h0m20.2 .5h0m22-.5h0m1.2-.4h0m2.6 0h0m4.9 .4h0m1.3 .5h0m4.6-.9h0"/>
<path stroke="#a01fab" d="M446.9 409.2h0m1.6-3.5h0m.3 .9h0m0 4.3h0"/>
<path stroke="#ff0051" d="M452.8 408.3h0m6 0h0m4.1 0h0m9.4 0h0"/>
<path stroke="#008bfb" d="M405.7 408.8h0m4.5-.9h0m8.4 .4h0m7.5 .5h0m1.6 0h0m1.5 0h0m.2-.9h0m8.9 .4h0m2.3 .5h0m1.5 0h0m4.4 0h0m.6-1.8h0m.5 0h0m.1 3.1h0m1.3-.5h0"/>
<path stroke="#a01fab" d="M446.6 407.9h0m1 .9h0m.2 .8h0m1.9-.4h0"/>
<path stroke="#6c54d6" d="M404.5 408.3h0m1.4 0h0m3.8 0h0m25.4 0h0m1.4 0h0m11.2 2.2h0m1.1 0h0m.2-.4h0m1.7-1.8h0"/>
<path stroke="#e50080" d="M447 408.3h0m.4-1.7h0m.7 3.5h0m.7-1.8h0"/>
<path stroke="#ff0051" d="M451.5 409.2h0m5.7-.9h0m.2 .5h0m5.1 0h0"/>
<path stroke="#e50080" d="M448.1 409.2h0m.8-3h0m6.3 2.6h0m1.3 0h0m4.5 0h0"/>
<path stroke="#6c54d6" d="M404.1 408.8h0m2-.9h0m21.1 .9h0m12-.5h0m2.1 0h0m6.8-.8h0m1.6 .8h0m.7 1.3h0m.6-1.7h0"/>
<path stroke="#ff0051" d="M451.1 408.8h0m9.8-.5h0m1.2 0h0m7.4 0h0"/>
<path stroke="#008bfb" d="M396.8 408.3h0m5.6 0h0m1.2 .5h0m6.5 0h0m.5-.5h0m17.1 0h0m5.6 .5h0m1.2-.5h0m.4 .5h0m1.9-.5h0m5.1-.4h0m2.6 .4h0m2.1-.8h0"/>
<path stroke="#a01fab" d="M446.1 408.3h0m1.9 1.3h0m.5 3.5h0m.6-6.9h0m.5 .4h0"/>
<path stroke="#008bfb" d="M384 408.3h0m27.5 0h0m14.6 0h0m2.2 0h0m.2-.4h0m8.2 .9h0m11.1 .4h0m.5-4.3h0m.2-.9h0m2.1 4.8h0"/>
<path stroke="#6c54d6" d="M421.4 408.3h0m9.8 0h0m1.2 0h0m5.1 .5h0m.2-.5h0m3.4-.4h0m1.4 .4h0m3.1 .5h0m1.6-.9h0m.8 3.9h0m.3-6.5h0m2.2 3h0m0-.4h0"/>
<path stroke="#ff0051" d="M450.2 409.2h0m1.5-.9h0m3.5 0h0m1.3 0h0m3.6 0h0"/>
<path stroke="#e50080" d="M448.2 411.4h0m.2 .8h0m.3 .5h0m1.6-5.2h0m8.9 1.3h0m.4 0h0m4.4-.5h0"/>
<path stroke="#a01fab" d="M449.2 407.5h0m.2-.5h0"/>
<path stroke="#ff0051" d="M435.5 422.8h0m.2-.3h0m1.6 .6h0m.8-.3h0m5-.3h0m1.4 .6h0m3.3 1.8h0m.2-.3h0m.3-5.5h0m0 7h0m.2-5.8h0m0-1.8h0m.1 2.1h0m0-.9h0m.2 1.6h0m0 2.4h0m0 2.1h0m.1-1.8h0"/>
<path stroke="#e50080" d="M434.1 423.1h0m1.3 0h0m11.5 0h0"/>
<path stroke="#6c54d6" d="M452.5 423.1h0m.4-.3h0"/>
<path stroke="#008bfb" d="M454.8 423.1h0"/>
<path stroke="#a01fab" d="M451.4 422.5h0m4.1 .3h0"/>
<path stroke="#ff0051" d="M434 423.4h0m.2-.9h0m.9 .9h0m2.3-.6h0m4.8-.3h0m.9 .9h0m4.4-.6h0m.1 1.2h0m.2-1.2h0m.1-.9h0m.3 5.2h0m.2-1.6h0m0-6.7h0m.1 5.8h0m0 .6h0m0-.3h0"/>
<path stroke="#008bfb" d="M460.5 422.8h0m9 0h0m2.8 0h0"/>
<path stroke="#a01fab" d="M455.9 423.1h0m.4-.6h0"/>
<path stroke="#6c54d6" d="M455.9 423.4h0m.1-.6h0"/>
<path stroke="#e50080" d="M442.1 422.8h0m2.9 0h0m.5-.3h0m.1 .6h0"/>
<path stroke="#008bfb" d="M466.8 422.8h0"/>
<path stroke="#ff0051" d="M436 422.8h0m.3 .3h0m3-.3h0m3.6 0h0m.7 .3h0m.4-.6h0m2.2 .3h0m1.4-.3h0m.2-1.2h0m.4 3h0m0 3.4h0m.1-4.9h0m0 .6h0m.1-1.8h0m.3 .9h0m.1-2.5h0m0 4.3h0m.2-1.5h0"/>
<path stroke="#a01fab" d="M451.6 422.8h0m4.4-.6h0m.2 1.5h0m26.1-.9h0"/>
<path stroke="#e50080" d="M435.7 422.2h0m5.3 .6h0m3.1 0h0"/>
<path stroke="#6c54d6" d="M454.8 422.8h0"/>
<path stroke="#a01fab" d="M451.7 422.8h0m27.8 0h0m23.7 0h0"/>
<path stroke="#ff0051" d="M434.3 422.8h0m9.3 0h0m.6-.3h0m1.5 .3h0m2.2-.6h0m.1 1.5h0m0-.3h0m.1-.3h0m.1-2.2h0m.3 1.3h0m0-4h0m.1 4.9h0m.1 3.7h0m.1-.4h0m.1 1h0m0-4.3h0m.2-.6h0"/>
<path stroke="#008bfb" d="M449.7 422.8h0m1.8 .3h0m1.1-.6h0m1.5 .3h0m1.3 .3h0m1.2-.3h0"/>
<path stroke="#e50080" d="M442.9 423.1h0"/>
<path stroke="#a01fab" d="M447.9 440h0m.4-1.7h0m.2-1.1h0"/>
<path stroke="#6c54d6" d="M447.6 437.5h0m.6 3.6h0m0-.3h0m.3-5.8h0m.3 3.9h0m.7-.6h0m3.1-1.1h0m.7 .6h0m.1-.6h0"/>
<path stroke="#008bfb" d="M402.3 437.2h0m14.5 0h0m9.5 .3h0m.1-.3h0m4.6 0h0m.6 .3h0m3.6-.3h0m2.3 0h0m2.1-.3h0m.3 .3h0m.5 .3h0m2.4 0h0m1.6-.3h0m1.2 0h0m3.1 .8h0"/>
<path stroke="#6c54d6" d="M448.1 438.9h0m0-.9h0m.4 2.2h0m0-4.9h0m.9 1.6h0m.6 .6h0m6.5 0h0"/>
<path stroke="#a01fab" d="M447.8 435.9h0m.6 6.2h0m.1-5.7h0m1.5 .5h0m4.5 .3h0"/>
<path stroke="#008bfb" d="M426.7 436.9h0m.9 .3h0m3 0h0m1.1 .3h0m.7-.3h0m1.4-.3h0m.2 .6h0m.6-.3h0m3.9 0h0m3.8 0h0m1 0h0m1.7-.3h0m3.1 3.6h0m.2-7.4h0m.1 8.5h0m0-4.1h0"/>
<path stroke="#ff0051" d="M471.4 437.2h0"/>
<path stroke="#a01fab" d="M447.7 439.1h0m.1-3h0m.2-1.9h0m.5-.8h0m.5 2.2h0m3 1.6h0m1.3-.3h0"/>
<path stroke="#008bfb" d="M382 437.2h0m39.4 0h0m4.1 0h0m.5 .3h0m9.9 0h0m3.5-.3h0m.2 .3h0m3.1-.3h0m1 .3h0m1.1 0h0m3.2-4.7h0m0 2.8h0m1 1.9h0"/>
<path stroke="#6c54d6" d="M447.8 441.3h0m.6-1.6h0m1.8-1.9h0m1.4-.3h0m2.2 0h0m2.5-.3h0"/>
<path stroke="#6c54d6" d="M447.5 437.2h0m.2-.3h0m.7-3.2h0m.3 2.7h0m1.3 .8h0"/>
<path stroke="#008bfb" d="M397.7 437.2h0m27.9-.3h0m2 .6h0m4.1-.6h0m.3 .9h0m.7-.6h0m.7 .3h0m.4 .3h0m.1-.6h0m3.5 .3h0m3.7-.3h0m.7 .3h0m3.6 0h0m2.8-3h0m.1 4.9h0m0-2.5h0m.1-3h0m.6 3.9h0"/>
<path stroke="#a01fab" d="M447.8 434.8h0m.7-2.2h0m.1 6h0m.1-2.7h0m0 .2h0"/>
<path stroke="#6c54d6" d="M448 454.3h0m.6-2.2h0m1.8-.4h0"/>
<path stroke="#a01fab" d="M447.4 451.2h0m.1 .5h0m.5 .8h0m.1 .9h0m.5-3h0m.2-3.1h0m.1 4.4h0m1.4 .4h0m.4-.4h0m.6 .4h0m.9-.4h0m2.5 0h0"/>
<path stroke="#008bfb" d="M426.1 451.7h0m.9 .8h0m.2-1.7h0m1.2 .9h0m6.8 0h0m.3 0h0m2.8 0h0m5.1 .4h0m2.5-.4h0m2.5-3.1h0m.1 .9h0"/>
<path stroke="#008bfb" d="M411.4 451.7h0m15.3 0h0m1.6 .4h0m1.3-.4h0m4.1 0h0m.3 .4h0m.7-.4h0m5.2 0h0m.4 .4h0m.6-.4h0m3.5 .4h0m.1-.4h0m1.7 .4h0m1.5-.9h0m.9 4.8h0m.1-3.5h0"/>
<path stroke="#a01fab" d="M447.6 452.5h0m.8 .9h0m1.5-1.7h0m3.1 0h0"/>
<path stroke="#6c54d6" d="M448 455.6h0m.1-7h0m.1 3.1h0m.1 2.6h0m.2-7.4h0m.2 8.7h0m.3-3.5h0"/>
<path stroke="#6c54d6" d="M447.9 448.2h0m.2 6.9h0m0-5.6h0m.3 5.2h0m.1-3.5h0m.2 .5h0m2.5 0h0"/>
<path stroke="#a01fab" d="M448.1 450.4h0m.4 6h0m2.6-5.2h0m1.2 .9h0m2.1-.4h0m13.3 0h0"/>
<path stroke="#008bfb" d="M426.8 452.1h0m.3-.9h0m0 .9h0m.3-.4h0m5.1 .4h0m4.4-.4h0m5.3 0h0m1.1-.5h0m.4 .5h0m2.8 0h0m.3 0h0m1.5-3.9h0m.1 1.3h0m.6 1.7h0"/>
<path stroke="#008bfb" d="M418.6 451.7h0m4.6 0h0m6.8 .4h0m.2-.4h0m1.7 0h0m.6 0h0m.6 0h0m2.2 .4h0m1.5 0h0m1.1-.4h0m1.3 0h0m7.5 .4h0m.9 0h0m.6-2.2h0m.2 .9h0m.2 4.3h0"/>
<path stroke="#6c54d6" d="M448.1 452.1h0m.4 1.7h0m5.7-1.7h0"/>
<path stroke="#a01fab" d="M447.8 453.8h0m.2-3h0m.2 2.2h0m.2-4.8h0m.7 3h0m0 1.8h0m1.5-.9h0m2.5 0h0"/>
<path stroke="#008bfb" d="M444 466.1h0m.5 .4h0m.6 0h0m2.8-3.6h0m0 1.6h0m.2-.8h0m0 4.4h0m.2-6h0m.2 2.8h0"/>
<path stroke="#ff0051" d="M455.1 466.1h0m.2 0h0m2.7 0h0m.4 0h0m1.3 .8h0m.3-.4h0m0-.8h0m.8 .4h0m16 0h0m8.2 0h0m16.4 0h0"/>
<path stroke="#ff0051" d="M450.8 466.1h0m1.7 .4h0m4.4 0h0"/>
<path stroke="#008bfb" d="M443.8 466.5h0m1.2-.4h0m2.4 .4h0m.3-.4h0m0 1.2h0m.3-1.6h0m0-4h0m0 7.6h0m.1-2.8h0m0 3.2h0m0-2.4h0m.3 1.6h0m0-1.2h0m.1 .8h0m0-.4h0m.1-3.6h0m.6 2h0"/>
<path stroke="#ff0051" d="M451.4 466.1h0m.5 0h0m.4 0h0m2.8 .4h0m4.8-1.2h0m1.5 .8h0"/>
<path stroke="#008bfb" d="M444.2 466.1h0m3.5-.4h0m.1-.4h0m.2 5.2h0m.2-5.6h0m0 1.2h0m0 4.8h0m.1-8.4h0m.1 .8h0m.2 2.4h0m.2 1.6h0m.1-.8h0m.1-2.4h0m.1 2h0"/>
<path stroke="#ff0051" d="M451.5 466.5h0m1.9-.4h0m.7 0h0m2.9 0h0m2.6 0h0m4.4 0h0m4.6 0h0m10.9 0h0m25.5 0h0"/>
<path stroke="#008bfb" d="M444.8 465.7h0m.5 1.2h0m.2-.8h0m.4 .4h0m1.4 .4h0m.9-2.8h0m.2 6h0m0-8.8h0m0 5.6h0m.1-1.6h0m.3-1.6h0"/>
<path stroke="#e50080" d="M438.3 480.5h0m1.1 .5h0m2.1 0h0m0-.9h0m1.4 .4h0"/>
<path stroke="#a01fab" d="M448.1 483.4h0"/>
<path stroke="#008bfb" d="M447.3 481h0m.6 0h0m.2-1.4h0m.2 1.4h0m.2-.5h0m.6 .5h0"/>
<path stroke="#ff0051" d="M423.7 480.5h0m18 1h0m3.6-.5h0m.2-.9h0"/>
<path stroke="#6c54d6" d="M448.3 477.7h0m0 6.6h0m5.6-3.3h0"/>
<path stroke="#008bfb" d="M448.1 478.6h0m.2-1.4h0m.1-.9h0m.1 5.2h0m.6-1.4h0m4.3 .4h0m.4 0h0m8.5 0h0"/>
<path stroke="#6c54d6" d="M447.9 482.9h0m.2-2.8h0m.2 3.3h0m.1-4.3h0m.2 4.7h0m.2-2.8h0"/>
<path stroke="#e50080" d="M441.3 480.5h0"/>
<path stroke="#ff0051" d="M439.6 480.5h0m3.1-.4h0m2.7 .4h0"/>
<path stroke="#a01fab" d="M447.9 481.5h0m.1-1h0"/>
<path stroke="#e50080" d="M439.1 480.5h0m4 .5h0m1.4-.5h0m2.8 0h0"/>
<path stroke="#ff0051" d="M438.6 480.5h0m3.1 0h0"/>
<path stroke="#008bfb" d="M448.1 479.1h0m.3 3.3h0m.5-.9h0m11.1-1h0"/>
<path stroke="#a01fab" d="M447.7 482.4h0m0-4.2h0m.6 3.8h0m0-5.2h0m.5 3.7h0"/>
<path stroke="#6c54d6" d="M447.9 476.8h0m.3 1.8h0m.1 1h0m.3 3.3h0m3.8-2.4h0"/>
<path stroke="#008bfb" d="M447.8 484.3h0m.3-7.1h0m.4 1h0m0 7.1h0m.6-4.8h0m8.6 0h0m10.9 0h0"/>
<path stroke="#a01fab" d="M448.3 484.8h0"/>
<path stroke="#ff0051" d="M420.5 480.5h0m21.6 0h0m5 0h0"/>
<path stroke="#e50080" d="M440.1 480.5h0m2.3 .5h0m4.4 0h0"/>
<path stroke="#6c54d6" d="M448 482h0m.1 1.8h0m0-6.1h0m.5 2.4h0m1.6 .4h0m1.2 0h0"/>
<path stroke="#008bfb" d="M449.7 495h0m1.3-.6h0m.3 .6h0m.9 0h0m1.7 0h0m3-.6h0"/>
<path stroke="#a01fab" d="M447.7 493.2h0m0-1.7h0m.1 5.2h0m.1-4h0m.1 5.7h0m.1-1.1h0m.5 0h0m0 1.1h0"/>
<path stroke="#ff0051" d="M440.4 495h0m3 0h0m.9 0h0m3.1 0h0"/>
<path stroke="#e50080" d="M447.4 495.6h0m.4 0h0m.2 .5h0m0 1.8h0m.8-5.8h0"/>
<path stroke="#e50080" d="M447.8 497.3h0m.1-2.3h0m.1 4h0m.3-4h0m.1-2.9h0m.1 4h0m.3-3.4h0m.2 1.7h0"/>
<path stroke="#ff0051" d="M436.7 495h0m.9 0h0m.5 0h0m5.3-.6h0m2.1 0h0m1.4 .6h0"/>
<path stroke="#a01fab" d="M448.2 492.7h0m.7 4h0m.3-2.9h0"/>
<path stroke="#008bfb" d="M449.2 495h0m.5 .6h0m1.5 0h0m.9 0h0m1.6 0h0m5.5-.6h0"/>
<path stroke="#a01fab" d="M447.8 494.4h0m.3 5.2h0m.1-1.7h0m0-1.8h0m.1-2.3h0m0 5.2h0m.4-4h0m.3 1.1h0"/>
<path stroke="#008bfb" d="M450.2 495h0m5.7 0h0m.9 0h0m.1 1.1h0"/>
<path stroke="#e50080" d="M447.8 492.1h0m.1 1.7h0m.4 1.8h0m.2-1.8h0m.2 .6h0"/>
<path stroke="#ff0051" d="M418.6 495h0m18.6 .6h0m.3 0h0m1.8-.6h0m1.5 0h0m1.6 0h0"/>
<path stroke="#a01fab" d="M448.1 490.9h0m.3 5.8h0m0-2.3h0m.3 3.5h0m0-1.2h0m.1-1.1h0"/>
<path stroke="#ff0051" d="M441.1 495.6h0m1.1-.6h0m1.4 .6h0m.5 0h0m.4-.6h0m.3 0h0m.4 .6h0m.1-.6h0"/>
<path stroke="#e50080" d="M448.4 498.4h0m.1-5.2h0m0-1.7h0"/>
<path stroke="#008bfb" d="M452.5 495h0m1.1 0h0m1.5 .6h0m.1-.6h0m1.4 .6h0m1-.6h0m1.3 0h0"/>
<path stroke="#e50080" d="M447.4 509.4h0m.2 0h0m.8 4.4h0"/>
<path stroke="#ff0051" d="M449.7 509.4h0m.7 0h0m1.8 0h0m.9 0h0m.9 .4h0m.4-.4h0"/>
<path stroke="#008bfb" d="M430.5 509.4h0m6.3 0h0m6.3 0h0m1.9 .4h0m.7 0h0m1.4-.4h0"/>
<path stroke="#a01fab" d="M448.1 511.4h0m.1-5.6h0m.1 7.2h0m.4-4h0m0 2.4h0"/>
<path stroke="#a01fab" d="M447.6 510.2h0m.3-2.4h0m.2 .4h0m.1 5.2h0m.1-6h0m.1 3.2h0m0 3.6h0"/>
<path stroke="#ff0051" d="M449.2 509.8h0m3.8-.4h0m1.2 .4h0m1.2-.4h0m8.6 0h0m8.6 0h0"/>
<path stroke="#e50080" d="M448.2 508.2h0m.1 2.8h0m.3-3.2h0"/>
<path stroke="#008bfb" d="M443.3 509.8h0m0-.4h0m2.1 0h0m.6 0h0"/>
<path stroke="#a01fab" d="M448 510.6h0m.2 .8h0m.2-1.2h0m.1-4h0m0 .8h0"/>
<path stroke="#e50080" d="M447.5 509h0m.4-1.6h0m.3-2.4h0m.2 4.4h0m0-1.6h0m.2 2h0m0-1.2h0m.2-.4h0m.2 2h0m0-.8h0"/>
<path stroke="#6c54d6" d="M426.8 509.4h0"/>
<path stroke="#008bfb" d="M444 509.4h0m1.2 0h0"/>
<path stroke="#ff0051" d="M451.9 509.8h0m3.7 0h0"/>
<path stroke="#e50080" d="M447.8 509.8h0m0 1.2h0m.2-.8h0m0-1.2h0m.1-2.4h0m.1 5.6h0m0-6.8h0m.3 3.6h0m0 2.8h0m.2-.8h0m.2-.4h0"/>
<path stroke="#6c54d6" d="M428.6 509.4h0"/>
<path stroke="#a01fab" d="M447.7 508.6h0m.7 1.2h0m.1-1.2h0m0 4h0"/>
<path stroke="#ff0051" d="M449.4 509.4h0m.6 0h0m4 0h0m1.6 0h0"/>
<path stroke="#e50080" d="M446.2 524.6h0m1.9 3h0m.6-.8h0"/>
<path stroke="#008bfb" d="M450.6 524.6h0m.1-.7h0m1.7 .7h0m.2-.7h0m2 0h0m.3 0h0"/>
<path stroke="#ff0051" d="M444.5 523.9h0m.4 .7h0m.4 0h0m.8-.7h0m.7 0h0m1.3 4.4h0m.2-8.2h0m.3 4.5h0"/>
<path stroke="#e50080" d="M440.9 523.9h0m7.2 0h0m.2 2.9h0m.1-4.4h0m0 3.7h0m.3-4.5h0m.3 3.7h0"/>
<path stroke="#008bfb" d="M450 523.9h0m3.3 0h0m.8 0h0"/>
<path stroke="#ff0051" d="M444.8 523.9h0m3 2.2h0m0-3.7h0m.3 0h0m.2 1.5h0m.2 1.4h0m.4 .8h0"/>
<path stroke="#e50080" d="M443.2 523.9h0m2.9 0h0m1.5 .7h0m.1-.7h0m0-.8h0m.7 4.5h0m.3-2.3h0m.2-1.4h0"/>
<path stroke="#6c54d6" d="M467.7 523.9h0"/>
<path stroke="#008bfb" d="M449.3 523.9h0m2.7 0h0m2 .7h0"/>
<path stroke="#ff0051" d="M442.8 523.9h0m5.1 .7h0m0-1.5h0m.2 2.2h0m.6-2.9h0"/>
<path stroke="#e50080" d="M440.5 523.9h0m4.9 0h0m.9-.8h0m1.9 3.7h0m0-5.2h0m.2-.7h0m.4 3h0m0-.8h0"/>
<path stroke="#ff0051" d="M445.1 523.9h0m2.3 0h0m.5-2.3h0m.4 3h0m.1-1.5h0m.2 3h0m.4-1.5h0"/>
<path stroke="#008bfb" d="M451.2 523.9h0m2.4 0h0m2 0h0"/>
<text x="324.60" y="396.75" font-size="7.50" text-anchor="end" font-weight="normal" fill="#262626" textLength="18.26" lengthAdjust="spacingAndGlyphs">UPSIT</text>
<text x="324.60" y="411.19" font-size="7.50" text-anchor="end" font-weight="normal" fill="#262626" textLength="12.27" lengthAdjust="spacingAndGlyphs">PRS</text>
<text x="324.60" y="425.63" font-size="7.50" text-anchor="end" font-weight="normal" fill="#262626" textLength="18.14" lengthAdjust="spacingAndGlyphs">MoCA</text>
<text x="324.60" y="440.07" font-size="7.50" text-anchor="end" font-weight="normal" fill="#262626" textLength="22.69" lengthAdjust="spacingAndGlyphs">RBDSQ</text>
<text x="324.60" y="454.51" font-size="7.50" text-anchor="end" font-weight="normal" fill="#262626" textLength="21.23" lengthAdjust="spacingAndGlyphs">SCOPA</text>
<text x="324.60" y="468.95" font-size="7.50" text-anchor="end" font-weight="normal" fill="#262626" textLength="44.29" lengthAdjust="spacingAndGlyphs">Family history</text>
<text x="324.60" y="483.39" font-size="7.50" text-anchor="end" font-weight="normal" fill="#262626" textLength="18.28" lengthAdjust="spacingAndGlyphs">SDMT</text>
<text x="324.60" y="497.83" font-size="7.50" text-anchor="end" font-weight="normal" fill="#262626" textLength="12.22" lengthAdjust="spacingAndGlyphs">SBP</text>
<text x="324.60" y="512.27" font-size="7.50" text-anchor="end" font-weight="normal" fill="#262626" textLength="21.70" lengthAdjust="spacingAndGlyphs">HRSUP</text>
<text x="324.60" y="526.71" font-size="7.50" text-anchor="end" font-weight="normal" fill="#262626" textLength="12.28" lengthAdjust="spacingAndGlyphs">Age</text>
<text x="280.10" y="385.00" font-size="10.00" text-anchor="start" font-weight="bold" fill="#000">F</text>
<line x1="336.50" y1="538.30" x2="514.00" y2="538.30" stroke="#444" stroke-width="0.9"/>
<line x1="364.30" y1="538.30" x2="364.30" y2="540.10" stroke="#444" stroke-width="0.6"/>
<text x="364.30" y="546.48" font-size="6.60" text-anchor="middle" font-weight="normal" fill="#262626" textLength="12.41" lengthAdjust="spacingAndGlyphs">−0.6</text>
<line x1="392.30" y1="538.30" x2="392.30" y2="540.10" stroke="#444" stroke-width="0.6"/>
<text x="392.30" y="546.48" font-size="6.60" text-anchor="middle" font-weight="normal" fill="#262626" textLength="12.41" lengthAdjust="spacingAndGlyphs">−0.4</text>
<line x1="420.30" y1="538.30" x2="420.30" y2="540.10" stroke="#444" stroke-width="0.6"/>
<text x="420.30" y="546.48" font-size="6.60" text-anchor="middle" font-weight="normal" fill="#262626" textLength="12.41" lengthAdjust="spacingAndGlyphs">−0.2</text>
<line x1="448.30" y1="538.30" x2="448.30" y2="540.10" stroke="#444" stroke-width="0.6"/>
<text x="448.30" y="546.48" font-size="6.60" text-anchor="middle" font-weight="normal" fill="#262626" textLength="8.13" lengthAdjust="spacingAndGlyphs">0.0</text>
<line x1="476.30" y1="538.30" x2="476.30" y2="540.10" stroke="#444" stroke-width="0.6"/>
<text x="476.30" y="546.48" font-size="6.60" text-anchor="middle" font-weight="normal" fill="#262626" textLength="8.13" lengthAdjust="spacingAndGlyphs">0.2</text>
<line x1="504.30" y1="538.30" x2="504.30" y2="540.10" stroke="#444" stroke-width="0.6"/>
<text x="504.30" y="546.48" font-size="6.60" text-anchor="middle" font-weight="normal" fill="#262626" textLength="8.13" lengthAdjust="spacingAndGlyphs">0.4</text>
<text x="365.40" y="555.43" font-size="7.30" text-anchor="start" font-weight="normal" fill="#222" textLength="120.00" lengthAdjust="spacingAndGlyphs">SHAP value (impact on model output)</text>
<rect x="524.30" y="379.30" width="2.2" height="158.50" fill="url(#cb)"/>
<text x="528.20" y="381.98" font-size="6.60" text-anchor="start" font-weight="normal" fill="#1a1a1a" textLength="12.18" lengthAdjust="spacingAndGlyphs">High</text>
<text x="528.20" y="541.48" font-size="6.60" text-anchor="start" font-weight="normal" fill="#1a1a1a" textLength="10.44" lengthAdjust="spacingAndGlyphs">Low</text>
<text x="0" y="0" font-size="7.0" text-anchor="middle" fill="#222" transform="translate(546.40 459.15) rotate(-90)" textLength="43.00" lengthAdjust="spacingAndGlyphs">Feature value</text>
<line x1="63.30" y1="580.90" x2="239.80" y2="580.90" stroke="#e6e6e6" stroke-width="0.4" stroke-dasharray="0.4 2.2"/>
<line x1="63.30" y1="595.28" x2="239.80" y2="595.28" stroke="#e6e6e6" stroke-width="0.4" stroke-dasharray="0.4 2.2"/>
<line x1="63.30" y1="609.66" x2="239.80" y2="609.66" stroke="#e6e6e6" stroke-width="0.4" stroke-dasharray="0.4 2.2"/>
<line x1="63.30" y1="624.04" x2="239.80" y2="624.04" stroke="#e6e6e6" stroke-width="0.4" stroke-dasharray="0.4 2.2"/>
<line x1="63.30" y1="638.42" x2="239.80" y2="638.42" stroke="#e6e6e6" stroke-width="0.4" stroke-dasharray="0.4 2.2"/>
<line x1="63.30" y1="652.80" x2="239.80" y2="652.80" stroke="#e6e6e6" stroke-width="0.4" stroke-dasharray="0.4 2.2"/>
<line x1="63.30" y1="667.18" x2="239.80" y2="667.18" stroke="#e6e6e6" stroke-width="0.4" stroke-dasharray="0.4 2.2"/>
<line x1="63.30" y1="681.56" x2="239.80" y2="681.56" stroke="#e6e6e6" stroke-width="0.4" stroke-dasharray="0.4 2.2"/>
<line x1="63.30" y1="695.94" x2="239.80" y2="695.94" stroke="#e6e6e6" stroke-width="0.4" stroke-dasharray="0.4 2.2"/>
<line x1="63.30" y1="710.32" x2="239.80" y2="710.32" stroke="#e6e6e6" stroke-width="0.4" stroke-dasharray="0.4 2.2"/>
<line x1="169.20" y1="566.00" x2="169.20" y2="724.40" stroke="#aaaaaa" stroke-width="0.8"/>
<path stroke="#c70098" d="M173.4 578.3h0"/>
<path stroke="#bf009d" d="M175.3 582.2h0"/>
<path stroke="#9430b6" d="M174.6 577.9h0"/>
<path stroke="#a01fab" d="M176.4 583.5h0m1.3-2.2h0m.4-1.7h0m2.4 4.3h0m2.1-.8h0m4-1.8h0m.2 1.3h0m2.8-.4h0"/>
<path stroke="#aa17a7" d="M173.3 580h0"/>
<path stroke="#008bfb" d="M176.3 578.3h0m.2 6.5h0m.5-1.7h0m9.8-3.5h0m3.4 2.2h0m11.8-.9h0"/>
<path stroke="#e50080" d="M145.6 581.3h0m.8-.4h0m17.1 0h0m.8-1.3h0m1.4 1.3h0m2.6 0h0m10.5 .4h0m1.3-.4h0m1.6 2.6h0m2.5-3h0m.2 2.1h0m1.1-2.1h0m1.8-.5h0m.5 2.2h0"/>
<path stroke="#a31daa" d="M174.6 582.2h0"/>
<path stroke="#ff0051" d="M80 581.3h0m1.8 0h0m1-.4h0m.3 .4h0m.3-.4h0m6.2 0h0m3.2-.4h0m.4 1.3h0m2.9-.5h0m9.9-.4h0m3.8 .4h0m2-.4h0m1.1 0h0m2.8 0h0m5.5 0h0m4-.4h0m2.9 0h0m5.1 0h0m2.3 .4h0m3-.4h0m4.2 .4h0m5.5 .4h0m.2 .9h0m.5-.4h0m5.3-2.2h0m0 2.2h0m1.9-.9h0m2.7 0h0m.6-.4h0m.8 .8h0m3.1 .9h0m1.8-.9h0m3.8 0h0"/>
<path stroke="#6c54d6" d="M176.1 585.6h0m.2-4.7h0m3.1 3h0m2.7-3.9h0m1.2 .9h0m5.1-.4h0m3.6 0h0m2.2 .4h0"/>
<path stroke="#c2009b" d="M172 582.2h0"/>
<path stroke="#b30aa3" d="M174.4 577.9h0"/>
<path stroke="#d10091" d="M173.5 580.9h0"/>
<path stroke="#6459da" d="M176 585.2h0"/>
<path stroke="#7d49cc" d="M175.4 576.2h0"/>
<path stroke="#c70098" d="M174 581.3h0m.2-.8h0"/>
<path stroke="#b604a2" d="M173.6 577.4h0"/>
<path stroke="#a01fab" d="M173.5 584.8h0m6.3-4.8h0m.5-1.3h0m.9 .5h0m3.8 .8h0m3.5 1.8h0m.7-.9h0m4.4-.4h0m25.1 .4h0"/>
<path stroke="#c2009b" d="M173.8 578.7h0m1.9 0h0"/>
<path stroke="#e9007c" d="M174.9 581.3h0"/>
<path stroke="#ca0097" d="M172.7 579.2h0"/>
<path stroke="#b00fa5" d="M172.6 580h0"/>
<path stroke="#008bfb" d="M176 583.9h0m1 0h0m.2-6h0m1 1.3h0m.6 3.4h0m.2-3.9h0m2.5 2.6h0m.3 .9h0m1.8-3.5h0m1.8 4.4h0m.4-2.2h0m1.4 1.3h0m2.4-2.6h0m.3 .4h0"/>
<path stroke="#aa17a7" d="M175.9 577.4h0"/>
<path stroke="#9d22ac" d="M175 581.8h0"/>
<path stroke="#d10091" d="M171.8 583.1h0"/>
<path stroke="#dd0088" d="M173.2 582.6h0m1.9-3h0m.5-2.6h0"/>
<path stroke="#ad13a6" d="M175.2 583.1h0"/>
<path stroke="#ff0051" d="M72.8 580.9h0m2.3 0h0m.3 .4h0m12.2-.4h0m1 0h0m.2 .9h0m5-.5h0m3.6 0h0m2.6-.4h0m9.6-.4h0m9.1 .8h0m3.9-.4h0m.3 .4h0m.4-.4h0m1.3 .4h0m1.8-.4h0m2.9 0h0m4.9 .4h0m10.8-.8h0m3.4 1.3h0m.4-.9h0m9.4-.4h0m3.3 .4h0m2.1 .9h0m3.6-.9h0"/>
<path stroke="#e50080" d="M145.3 580.9h0m4.9-.4h0m9.3 .8h0m4-.8h0m13.2-3.1h0m1.4 4.8h0m.2-2.2h0m2-1.7h0m.3 3.5h0m3.2-2.6h0m5.8 3.4h0m1-1.3h0"/>
<path stroke="#6c54d6" d="M182.9 582.6h0m1.1 .5h0m7.1-2.2h0m1.7 .4h0"/>
<path stroke="#6c54d6" d="M177.5 582.6h0m2.2 .9h0m1.1-3h0m.6-1.8h0m.7 2.2h0m4-1.7h0m6.5 1.7h0"/>
<path stroke="#ff0051" d="M76.4 580.9h0m11.5-.4h0m2.8 0h0m6.6 .4h0m4.6 0h0m4.5 .4h0m.7-.4h0m2.1 0h0m2.3 .4h0m2.3-.4h0m4.1 0h0m1.6 0h0m6.3 .4h0m.3-.4h0m2.5 .4h0m4.8-.4h0m2.4 .4h0m1.2 0h0m.2-.4h0m4.8 .4h0m8.7-.4h0m.3 .4h0m2.5-.8h0m.5 0h0m.1 1.7h0m1-.9h0m4.2 .5h0m4.9-.5h0m.1-1.3h0m3.6 1.3h0"/>
<path stroke="#e50080" d="M147.5 580.5h0m.3-.5h0m1.8 0h0m2.6 1.3h0m2.8 1.3h0m.2-1.7h0m.6 .9h0m10.7-1.3h0m11.1 3.9h0m.9-6.5h0m4.5 3.4h0m2.8-2.1h0m2.1 2.1h0"/>
<path stroke="#b900a0" d="M173.9 583.9h0"/>
<path stroke="#ad13a6" d="M174.7 580.9h0"/>
<path stroke="#bc009f" d="M172.3 581.8h0"/>
<path stroke="#a01fab" d="M174.3 577h0m6.7 2.2h0m8.1 3.9h0m1.3-2.6h0m3.6 .8h0"/>
<path stroke="#db008a" d="M174.5 583.5h0"/>
<path stroke="#008bfb" d="M176.9 579.2h0m.5 2.6h0m1.6-3.5h0m.4 2.2h0m1.6 1.7h0m1.4-1.7h0m2.5 1.3h0m2.9-.9h0m.5-.9h0m3.2 1.3h0m1.5 .5h0m6-.9h0m6 0h0"/>
<path stroke="#c2009b" d="M174.2 581.8h0m1.3-1.8h0m.2 2.6h0"/>
<path stroke="#a71aa9" d="M175.9 584.8h0"/>
<path stroke="#b604a2" d="M174.4 584.4h0"/>
<path stroke="#9233b9" d="M174.8 576.6h0"/>
<path stroke="#9d22ac" d="M175.1 583.5h0"/>
<path stroke="#b900a0" d="M174 579.2h0m1 5.2h0"/>
<path stroke="#b30aa3" d="M175.8 579.2h0"/>
<path stroke="#e50080" d="M156.1 580.5h0m20.7-.9h0m1.6 1.3h0m1.6 .4h0m2.7 .9h0"/>
<path stroke="#df0086" d="M173.8 583.1h0"/>
<path stroke="#6c54d6" d="M177.2 580h0m.6 2.2h0m.2 2.2h0m.6-2.6h0m.6 1.7h0m.7-.9h0m.8-3h0m3.1 0h0m7.9 2.2h0"/>
<path stroke="#d40090" d="M173.1 579.6h0"/>
<path stroke="#cf0093" d="M172.4 582.6h0"/>
<path stroke="#ff0051" d="M70.7 580.9h0m.9 .4h0m6.5-.4h0m.2 .4h0m2.6-.4h0m6.6 .4h0m.1-.8h0m.9 .8h0m1.5 0h0m2.6-.4h0m1.9 0h0m1.9 0h0m5.1 .4h0m10.6 0h0m.3-.8h0m10.5 0h0m5.9 1.3h0m3.4-.9h0m2.8-.4h0m2.7 .8h0m.8-.4h0m2.3 0h0m.8 0h0m5.2 .4h0m2.5-.4h0m.6 .4h0m3.1-.4h0m1.6-.9h0m1.7 1.3h0m1 0h0m.7-.4h0m1.7-.9h0m3.2 .9h0m4.2 .9h0m.5-1.3h0"/>
<path stroke="#fe005c" d="M172.1 580.9h0"/>
<path stroke="#4664e4" d="M175.5 580.5h0"/>
<path stroke="#bf009d" d="M172.6 581.3h0"/>
<path stroke="#a01fab" d="M177.3 580.5h0m3.9-.9h0m.7 2.2h0m1.5 0h0m1.1 .4h0m.7-2.6h0m2.6 3h0"/>
<path stroke="#008bfb" d="M176.5 578.7h0m2.8 4.4h0m.3 0h0m2.7-.5h0m.8-2.6h0m1.6 1.3h0m1.6-.8h0m.3 .4h0m.3 .9h0m.6-2.6h0m1.3 .4h0m19.2 1.3h0m23.8 0h0"/>
<path stroke="#c2009b" d="M173 580.5h0"/>
<path stroke="#a71aa9" d="M175.4 578.3h0"/>
<path stroke="#0089fa" d="M164.2 597h0"/>
<path stroke="#306ae9" d="M161 594h0"/>
<path stroke="#e7007e" d="M174.8 594h0"/>
<path stroke="#ff0051" d="M180.2 594.8h0m2.6 0h0m8.6 .5h0m7.6 0h0m10.1 0h0m2.7 0h0m9.2 0h0"/>
<path stroke="#266cea" d="M165.6 597h0"/>
<path stroke="#f4006e" d="M180 596.1h0"/>
<path stroke="#8f36bb" d="M161.1 595.7h0"/>
<path stroke="#4664e4" d="M159.7 595.7h0"/>
<path stroke="#f6006c" d="M178.6 595.7h0"/>
<path stroke="#8542c5" d="M167 594.4h0"/>
<path stroke="#6459da" d="M158.4 594.4h0"/>
<path stroke="#a71aa9" d="M171.6 591.4h0"/>
<path stroke="#007ef6" d="M153.6 596.1h0"/>
<path stroke="#ff0058" d="M173.7 596.1h0m5.2-1.7h0"/>
<path stroke="#0074f0" d="M153.9 594.8h0"/>
<path stroke="#962db3" d="M162.4 593.6h0"/>
<path stroke="#d6008e" d="M177 595.7h0"/>
<path stroke="#df0086" d="M175 596.6h0"/>
<path stroke="#f80067" d="M173.5 597h0"/>
<path stroke="#f00074" d="M176.9 596.1h0"/>
<path stroke="#6c54d6" d="M168.4 598.7h0"/>
<path stroke="#575fdf" d="M167.5 597h0"/>
<path stroke="#a01fab" d="M168.6 592.7h0m.8 0h0m.1 5.6h0m.6-1.7h0m.6-4.3h0m.4 1.3h0m1.5-.9h0"/>
<path stroke="#ec0078" d="M175.4 595.3h0"/>
<path stroke="#e50080" d="M169.7 593.1h0m.8 .5h0m0 3.8h0m1.9-3h0"/>
<path stroke="#e9007c" d="M179.7 595.3h0"/>
<path stroke="#605bdc" d="M166.2 596.1h0"/>
<path stroke="#f10072" d="M176 594.4h0"/>
<path stroke="#5261e1" d="M165.8 596.1h0"/>
<path stroke="#ff005a" d="M184 595.3h0"/>
<path stroke="#006fed" d="M149.4 594.8h0m7.8 1.3h0"/>
<path stroke="#008bfb" d="M74.9 595.3h0m57.9 0h0m2.7 0h0m11.9 0h0m7.3 0h0m5.4 .8h0"/>
<path stroke="#5b5ddd" d="M159.4 594.4h0m3.7 .4h0"/>
<path stroke="#ec0078" d="M177.4 596.6h0"/>
<path stroke="#605bdc" d="M157.6 595.3h0m.6 .8h0m6.7 .5h0"/>
<path stroke="#e7007e" d="M174.1 594.8h0"/>
<path stroke="#fc0061" d="M183.3 596.1h0"/>
<path stroke="#0084f8" d="M160.8 595.3h0"/>
<path stroke="#575fdf" d="M167.2 593.6h0"/>
<path stroke="#794cce" d="M168.3 595.7h0"/>
<path stroke="#e9007c" d="M172.1 596.6h0m7.1-.5h0"/>
<path stroke="#e50080" d="M169.4 594h0m1 1.3h0m.3-1.3h0m.1 1.7h0m.8 3.5h0m6.6-4.4h0"/>
<path stroke="#0076f1" d="M168.6 594h0"/>
<path stroke="#db008a" d="M178.4 596.6h0"/>
<path stroke="#f4006e" d="M176.3 594.8h0"/>
<path stroke="#306ae9" d="M157 594.4h0m.9 .4h0m8.1 .9h0"/>
<path stroke="#cd0095" d="M177.8 594h0"/>
<path stroke="#962db3" d="M168.3 594.8h0"/>
<path stroke="#a01fab" d="M170.6 591h0m.2 4.3h0m.1 3.4h0m1.1-2.6h0m.3-.8h0m.7 3h0"/>
<path stroke="#c70098" d="M173.4 596.1h0"/>
<path stroke="#bf009d" d="M172.4 597.9h0"/>
<path stroke="#f6006c" d="M176.6 594.4h0"/>
<path stroke="#ff0051" d="M171.2 600h0m12.3-4.3h0m1.8 .4h0m21.1-.8h0"/>
<path stroke="#008bfb" d="M114.2 595.3h0m46.1-1.3h0"/>
<path stroke="#f10072" d="M185.5 595.3h0"/>
<path stroke="#3968e7" d="M158.9 596.6h0"/>
<path stroke="#ff0053" d="M179 595.3h0"/>
<path stroke="#5b5ddd" d="M159.3 594.8h0m8.5 .5h0"/>
<path stroke="#ee0076" d="M171.7 599.6h0"/>
<path stroke="#7d49cc" d="M162.7 595.7h0"/>
<path stroke="#f70069" d="M175.3 595.7h0"/>
<path stroke="#fa0065" d="M189.1 595.7h0"/>
<path stroke="#0085f9" d="M155.2 596.1h0"/>
<path stroke="#d40090" d="M174.6 596.6h0"/>
<path stroke="#0071ee" d="M151.9 594.8h0m2.2 .5h0"/>
<path stroke="#007ff7" d="M164.4 596.6h0"/>
<path stroke="#d10091" d="M181.6 596.1h0"/>
<path stroke="#6459da" d="M166.7 597.4h0"/>
<path stroke="#006fed" d="M150.6 595.3h0"/>
<path stroke="#f70069" d="M177.3 595.3h0m10.5 .4h0"/>
<path stroke="#a01fab" d="M168.2 596.6h0m.4-2.2h0m.2 3.5h0m.3-.5h0m1.2-2.6h0m.6-3h0m.2 6.1h0m.2-.5h0"/>
<path stroke="#d6008e" d="M171 593.1h0m1.2 2.6h0"/>
<path stroke="#0074f0" d="M154.9 594.4h0"/>
<path stroke="#7350d2" d="M165.6 594.8h0m3.2 3.5h0"/>
<path stroke="#0077f2" d="M152.5 595.3h0"/>
<path stroke="#0073ef" d="M166.9 596.6h0m.5-3.5h0"/>
<path stroke="#0076f1" d="M142.7 595.3h0"/>
<path stroke="#fb0063" d="M173.1 592.3h0"/>
<path stroke="#4c63e3" d="M167.8 596.1h0"/>
<path stroke="#5b5ddd" d="M149.9 595.7h0"/>
<path stroke="#bf009d" d="M175.8 596.1h0"/>
<path stroke="#8542c5" d="M161.5 596.1h0"/>
<path stroke="#6857d8" d="M164.8 597.4h0"/>
<path stroke="#007ef6" d="M149.2 595.3h0m7.3-.5h0"/>
<path stroke="#e50080" d="M169.3 597h0m.2-1.3h0m1.3 1.3h0m.9-.4h0"/>
<path stroke="#e10084" d="M182.4 595.3h0"/>
<path stroke="#4066e6" d="M162.1 597h0m1.6-1.7h0"/>
<path stroke="#7d49cc" d="M161.7 594.4h0m3.7-.8h0"/>
<path stroke="#007ff7" d="M160.5 594.8h0"/>
<path stroke="#6c54d6" d="M168.9 593.1h0"/>
<path stroke="#fc0061" d="M181.9 595.7h0"/>
<path stroke="#186deb" d="M161.3 596.6h0"/>
<path stroke="#0088fa" d="M162 596.6h0"/>
<path stroke="#8f36bb" d="M163.4 594.8h0m1.1-.8h0"/>
<path stroke="#ff0051" d="M180.4 594.4h0m5.9 1.3h0m2.3-.4h0m13.2 0h0"/>
<path stroke="#575fdf" d="M162.9 594.4h0"/>
<path stroke="#0082f8" d="M146.1 595.7h0"/>
<path stroke="#0071ee" d="M165.1 595.3h0"/>
<path stroke="#ee0076" d="M174.3 594.4h0"/>
<path stroke="#008bfb" d="M130 595.3h0m13.8 0h0m4.4 .4h0m7.4-.9h0"/>
<path stroke="#4664e4" d="M160 595.3h0"/>
<path stroke="#306ae9" d="M157.4 595.7h0m9-1.7h0"/>
<path stroke="#008bfb" d="M94.2 595.3h0m15.3 0h0m12.3 0h0m2.7 0h0"/>
<path stroke="#fd005f" d="M171.4 592.7h0m1.5 2.1h0m7.8 .9h0"/>
<path stroke="#575fdf" d="M164 593.6h0m.7 2.5h0"/>
<path stroke="#5261e1" d="M162.3 595.3h0"/>
<path stroke="#eb007a" d="M171.8 598.3h0m4.6-1.3h0m10-2.2h0"/>
<path stroke="#7f47c9" d="M168.1 597h0"/>
<path stroke="#e50080" d="M168.9 592.3h0m.7 5.6h0m.8-1.8h0m1.7-2.5h0"/>
<path stroke="#f6006c" d="M182 594.8h0"/>
<path stroke="#605bdc" d="M167.3 595.3h0"/>
<path stroke="#007bf4" d="M158.8 595.7h0"/>
<path stroke="#7350d2" d="M166.5 594.8h0"/>
<path stroke="#186deb" d="M151.7 595.7h0m4.2 .9h0"/>
<path stroke="#8f36bb" d="M166.7 595.7h0"/>
<path stroke="#4c63e3" d="M152.9 596.1h0m10.6-.4h0"/>
<path stroke="#db008a" d="M175.6 594h0"/>
<path stroke="#5b5ddd" d="M163.9 594.4h0"/>
<path stroke="#883fc2" d="M166.1 594.4h0"/>
<path stroke="#f4006e" d="M177.8 594.8h0m3.1 .5h0"/>
<path stroke="#006fed" d="M147 595.3h0m9.7 0h0m6.4 .8h0"/>
<path stroke="#a01fab" d="M169.5 594.4h0m1.8 .4h0m.5-.4h0"/>
<path stroke="#e30082" d="M172.5 597.4h0m11.6-2.6h0"/>
<path stroke="#f70069" d="M173.9 595.7h0m13.1-.4h0"/>
<path stroke="#6459da" d="M167.9 593.6h0"/>
<path stroke="#266cea" d="M151 595.7h0"/>
<path stroke="#ff0051" d="M174.5 595.3h0m10.1 .4h0"/>
<path stroke="#0086fa" d="M158.7 596.6h0"/>
<path stroke="#d9008c" d="M172.7 593.1h0m8.5 1.3h0"/>
<path stroke="#0073ef" d="M153.4 595.7h0m2.6 0h0m5.9-1.7h0"/>
<path stroke="#fc0061" d="M173 594h0"/>
<path stroke="#6f52d4" d="M165.2 594h0"/>
<path stroke="#ff005a" d="M182.1 610.3h0m1.8-.6h0"/>
<path stroke="#f4006e" d="M178.7 610.3h0"/>
<path stroke="#a01fab" d="M164.1 610.3h0m4.8 3.2h0m1.6-4.5h0m0 2.6h0m.8-1.9h0m.9 1.3h0m6.1-2h0"/>
<path stroke="#0079f3" d="M160 610.3h0"/>
<path stroke="#0074f0" d="M165.4 609.7h0"/>
<path stroke="#3968e7" d="M167.3 611.6h0"/>
<path stroke="#cd0095" d="M178.4 609.7h0"/>
<path stroke="#6459da" d="M165.6 611.6h0"/>
<path stroke="#0082f8" d="M158.2 609h0"/>
<path stroke="#8d39be" d="M168.2 605.8h0"/>
<path stroke="#b00fa5" d="M171.4 611h0"/>
<path stroke="#266cea" d="M165.9 610.3h0"/>
<path stroke="#4066e6" d="M163.4 611h0m2.6-2h0"/>
<path stroke="#b30aa3" d="M172 610.3h0"/>
<path stroke="#0081f7" d="M150.4 609.7h0"/>
<path stroke="#883fc2" d="M168.1 607.7h0"/>
<path stroke="#4c63e3" d="M162.7 611h0"/>
<path stroke="#008bfb" d="M154.3 609.7h0m.8 .6h0m5.4 0h0"/>
<path stroke="#bc009f" d="M181.7 609.7h0"/>
<path stroke="#6857d8" d="M165 608.4h0"/>
<path stroke="#e50080" d="M175.4 610.3h0"/>
<path stroke="#e9007c" d="M181.5 609h0m2 .7h0"/>
<path stroke="#0073ef" d="M165.1 610.3h0"/>
<path stroke="#6c54d6" d="M169.2 612.9h0m1-6.5h0m.6 3.9h0m.7 0h0"/>
<path stroke="#c2009b" d="M172.5 609.7h0"/>
<path stroke="#306ae9" d="M161.3 611.6h0"/>
<path stroke="#ff0051" d="M196.4 609.7h0"/>
<path stroke="#6f52d4" d="M166.5 612.2h0m1-1.9h0"/>
<path stroke="#0077f2" d="M159.1 609.7h0"/>
<path stroke="#007cf5" d="M163 609.7h0"/>
<path stroke="#7350d2" d="M163.8 611h0"/>
<path stroke="#794cce" d="M158 609.7h0"/>
<path stroke="#0076f1" d="M164.9 611h0"/>
<path stroke="#b604a2" d="M172.3 608.4h0"/>
<path stroke="#ad13a6" d="M171.6 608.4h0"/>
<path stroke="#7f47c9" d="M167.2 609.7h0"/>
<path stroke="#0073ef" d="M160.8 608.4h0"/>
<path stroke="#ff0051" d="M187.6 609.7h0m28.8 0h0"/>
<path stroke="#b604a2" d="M173.3 609.7h0"/>
<path stroke="#c70098" d="M177.6 609.7h0"/>
<path stroke="#0085f9" d="M159.7 609h0"/>
<path stroke="#c2009b" d="M171.2 607.1h0"/>
<path stroke="#0089fa" d="M155.9 609h0"/>
<path stroke="#7350d2" d="M168.8 609h0"/>
<path stroke="#6f52d4" d="M164.4 612.2h0"/>
<path stroke="#0074f0" d="M151.4 609.7h0"/>
<path stroke="#794cce" d="M159.1 609h0"/>
<path stroke="#008bfb" d="M145.5 609.7h0m13 .6h0"/>
<path stroke="#9430b6" d="M166.9 612.2h0"/>
<path stroke="#006fed" d="M156.3 609.7h0"/>
<path stroke="#f10072" d="M177.3 609.7h0"/>
<path stroke="#5b5ddd" d="M153.8 610.3h0"/>
<path stroke="#8542c5" d="M165.6 607.7h0m1.3 .7h0"/>
<path stroke="#0076f1" d="M168.9 607.7h0"/>
<path stroke="#6857d8" d="M159.8 608.4h0"/>
<path stroke="#605bdc" d="M163.1 608.4h0"/>
<path stroke="#575fdf" d="M152 609.7h0"/>
<path stroke="#007cf5" d="M155.6 609.7h0m4.5 1.3h0"/>
<path stroke="#962db3" d="M167.3 609h0"/>
<path stroke="#007ef6" d="M154.9 609.7h0"/>
<path stroke="#ad13a6" d="M172.8 611h0m3.7 0h0"/>
<path stroke="#4664e4" d="M160.6 609h0"/>
<path stroke="#cf0093" d="M177 611h0"/>
<path stroke="#a01fab" d="M168.3 611.6h0m.6-5.2h0m.1 7.8h0m.7-5.8h0m.7 4.5h0"/>
<path stroke="#007ff7" d="M164.6 611.6h0"/>
<path stroke="#186deb" d="M162.6 608.4h0"/>
<path stroke="#6c54d6" d="M170.4 609.7h0m.7 2.5h0m.1-4.5h0m0 5.8h0"/>
<path stroke="#8a3cc0" d="M166.8 608.4h0"/>
<path stroke="#0077f2" d="M161.6 609.7h0m6.2 3.2h0"/>
<path stroke="#5261e1" d="M159.4 610.3h0"/>
<path stroke="#7d49cc" d="M164.8 609h0"/>
<path stroke="#8244c7" d="M165.3 611h0m6.8-1.3h0"/>
<path stroke="#0079f3" d="M157.4 609h0"/>
<path stroke="#6459da" d="M166.3 607.7h0"/>
<path stroke="#ad13a6" d="M164.5 607.7h0"/>
<path stroke="#0071ee" d="M167.9 609.7h0"/>
<path stroke="#bf009d" d="M179.3 609.7h0"/>
<path stroke="#4066e6" d="M162.8 609h0"/>
<path stroke="#8244c7" d="M161.1 609.7h0m10.7-.7h0"/>
<path stroke="#8542c5" d="M164 611.6h0"/>
<path stroke="#db008a" d="M175.4 609h0"/>
<path stroke="#764ed0" d="M161.7 608.4h0"/>
<path stroke="#0073ef" d="M161.4 610.3h0"/>
<path stroke="#0074f0" d="M163.3 611.6h0m1-3.9h0"/>
<path stroke="#c5009a" d="M174.5 611h0"/>
<path stroke="#007bf4" d="M157 610.3h0m9.6-.6h0"/>
<path stroke="#007ef6" d="M161.8 609h0"/>
<path stroke="#e10084" d="M180.2 609.7h0"/>
<path stroke="#9d22ac" d="M172.7 610.3h0"/>
<path stroke="#6c54d6" d="M168 612.2h0m.7-1.9h0m1.1 0h0m.3-2.6h0m.4 3.3h0m.4 1.2h0"/>
<path stroke="#f30070" d="M182.9 609.7h0"/>
<path stroke="#d9008c" d="M174.3 610.3h0"/>
<path stroke="#a01fab" d="M171.1 605.1h0m.1 9.1h0m0-5.2h0m0 3.9h0"/>
<path stroke="#a71aa9" d="M173.6 610.3h0m3-1.3h0"/>
<path stroke="#0085f9" d="M153.4 609.7h0"/>
<path stroke="#8a3cc0" d="M173.8 611h0"/>
<path stroke="#bc009f" d="M173.9 608.4h0"/>
<path stroke="#ff0051" d="M185.2 609.7h0"/>
<path stroke="#df0086" d="M185.8 609.7h0"/>
<path stroke="#186deb" d="M167.1 611h0"/>
<path stroke="#3968e7" d="M160.9 611h0"/>
<path stroke="#266cea" d="M167.6 608.4h0"/>
<path stroke="#5261e1" d="M156.6 609h0m10.4-1.3h0"/>
<path stroke="#0086fa" d="M164 609h0"/>
<path stroke="#d6008e" d="M179.2 609h0m3.3 1.3h0"/>
<path stroke="#7f47c9" d="M161.9 611h0m6.6 0h0"/>
<path stroke="#9a25ae" d="M171.3 606.4h0"/>
<path stroke="#cd0095" d="M175.9 609h0"/>
<path stroke="#e7007e" d="M178 610.3h0m6.8 0h0"/>
<path stroke="#4664e4" d="M166.2 610.3h0m2.4-.6h0"/>
<path stroke="#883fc2" d="M162.2 610.3h0m3.2-1.9h0"/>
<path stroke="#0082f8" d="M167.5 607.1h0"/>
<path stroke="#ff0051" d="M187.1 610.3h0m31.1-.6h0"/>
<path stroke="#db008a" d="M174.7 609h0"/>
<path stroke="#6857d8" d="M156 610.3h0"/>
<path stroke="#4066e6" d="M163 610.3h0"/>
<path stroke="#7f47c9" d="M168 610.3h0"/>
<path stroke="#764ed0" d="M158.7 611h0"/>
<path stroke="#7d49cc" d="M168.6 612.2h0m.2-6.4h0"/>
<path stroke="#008bfb" d="M137.3 609.7h0m2.7 0h0m2.8 0h0m20.8-1.3h0"/>
<path stroke="#186deb" d="M152.4 609.7h0"/>
<path stroke="#8542c5" d="M166.3 611h0"/>
<path stroke="#7350d2" d="M166.4 611.6h0"/>
<path stroke="#c2009b" d="M179.9 610.3h0"/>
<path stroke="#5261e1" d="M162.2 609h0"/>
<path stroke="#0071ee" d="M160.3 609.7h0"/>
<path stroke="#0076f1" d="M165.8 612.2h0"/>
<path stroke="#ad13a6" d="M176.1 610.3h0"/>
<path stroke="#b604a2" d="M180.9 609.7h0"/>
<path stroke="#4c63e3" d="M158.7 611h0"/>
<path stroke="#962db3" d="M175 609.7h0"/>
<path stroke="#5b5ddd" d="M164.7 609.7h0"/>
<path stroke="#a01fab" d="M168.3 613.5h0m.6-1.9h0m1.1-1.9h0m.7-1.3h0m.8-2.6h0m.2 5.8h0"/>
<path stroke="#6c54d6" d="M168.9 607.1h0m.1 1.3h0m.4 3.2h0m.4-2.6h0m.1 2h0m.6-3.9h0m2.1 1.3h0m.5 .6h0"/>
<path stroke="#d10091" d="M176.2 609.7h0m4.5 .6h0"/>
<path stroke="#0077f2" d="M168.1 609h0"/>
<path stroke="#3968e7" d="M168.4 606.4h0"/>
<path stroke="#d6008e" d="M177.3 610.3h0"/>
<path stroke="#575fdf" d="M162.5 609.7h0"/>
<path stroke="#c70098" d="M174.8 609.7h0"/>
<path stroke="#0079f3" d="M163.6 609.7h0"/>
<path stroke="#4066e6" d="M178.9 624.6h0"/>
<path stroke="#fd005f" d="M155.9 624.6h0"/>
<path stroke="#f6006c" d="M154.6 624h0m6.2-1.1h0"/>
<path stroke="#f70069" d="M152.5 624.6h0m13.6-.6h0"/>
<path stroke="#ff0051" d="M152.8 624h0"/>
<path stroke="#fe005c" d="M159.5 625.2h0"/>
<path stroke="#ff0058" d="M159 623.5h0"/>
<path stroke="#cf0093" d="M161.6 624h0"/>
<path stroke="#0088fa" d="M187.5 624h0"/>
<path stroke="#6459da" d="M178.6 623.5h0"/>
<path stroke="#a01fab" d="M169.4 624h0m.3-2.3h0m.6 3.5h0m0-2.9h0m.2 .6h0m.6 4.6h0m.6-5.2h0"/>
<path stroke="#0076f1" d="M186.8 624h0"/>
<path stroke="#0073ef" d="M173.3 623.5h0"/>
<path stroke="#f10072" d="M161.2 624.6h0"/>
<path stroke="#dd0088" d="M156.4 623.5h0"/>
<path stroke="#5261e1" d="M174.2 624h0"/>
<path stroke="#f80067" d="M151.1 624h0m11.3 0h0"/>
<path stroke="#8542c5" d="M173 625.2h0"/>
<path stroke="#4c63e3" d="M174.7 625.2h0"/>
<path stroke="#e9007c" d="M163.7 622.3h0"/>
<path stroke="#ec0078" d="M165.6 625.2h0m2.5-1.7h0"/>
<path stroke="#e30082" d="M165.1 622.9h0m1.9-1.2h0m1.8 3.5h0"/>
<path stroke="#fc0061" d="M167.3 624.6h0"/>
<path stroke="#b604a2" d="M161.7 625.8h0m4.5-.6h0"/>
<path stroke="#6857d8" d="M174.1 622.9h0"/>
<path stroke="#008bfb" d="M188.5 624h0"/>
<path stroke="#d6008e" d="M159.4 622.9h0"/>
<path stroke="#db008a" d="M166.7 624h0"/>
<path stroke="#575fdf" d="M180.3 624.6h0"/>
<path stroke="#0081f7" d="M183.5 623.5h0"/>
<path stroke="#e50080" d="M169.2 627.5h0m.1-5.2h0m.4-1.1h0m.3 4.6h0m.6-.6h0m.1-3.5h0"/>
<path stroke="#d9008c" d="M167.2 621.2h0"/>
<path stroke="#4664e4" d="M175 623.5h0"/>
<path stroke="#6c54d6" d="M176.4 624h0"/>
<path stroke="#ff0058" d="M157.2 625.2h0"/>
<path stroke="#fc0061" d="M168.2 621.7h0"/>
<path stroke="#4066e6" d="M180 624h0"/>
<path stroke="#6c54d6" d="M171.3 622.9h0"/>
<path stroke="#d10091" d="M168.3 626.3h0"/>
<path stroke="#eb007a" d="M156.1 624h0"/>
<path stroke="#e7007e" d="M154.3 623.5h0"/>
<path stroke="#6459da" d="M179.4 623.5h0"/>
<path stroke="#db008a" d="M163.4 622.9h0"/>
<path stroke="#0079f3" d="M176 623.5h0m7.7 .5h0"/>
<path stroke="#ff0053" d="M154.9 624.6h0"/>
<path stroke="#0084f8" d="M177.6 624.6h0"/>
<path stroke="#f80067" d="M158.5 623.5h0"/>
<path stroke="#f30070" d="M151.9 624.6h0"/>
<path stroke="#c70098" d="M160.6 623.5h0"/>
<path stroke="#b900a0" d="M164.7 626.3h0m4.3-.5h0"/>
<path stroke="#ff005a" d="M166.5 623.5h0"/>
<path stroke="#c5009a" d="M159.9 625.2h0"/>
<path stroke="#a01fab" d="M170.1 628.1h0m.6-1.2h0m.3-2.9h0m.3 2.3h0m0-2.8h0"/>
<path stroke="#0074f0" d="M175.2 624.6h0"/>
<path stroke="#0077f2" d="M174.4 625.2h0m8.3-1.2h0"/>
<path stroke="#006fed" d="M180.9 623.5h0"/>
<path stroke="#e30082" d="M161.9 625.2h0m1.1 1.1h0"/>
<path stroke="#c2009b" d="M162.8 624h0"/>
<path stroke="#fa0065" d="M162.9 623.5h0m5.7-.6h0"/>
<path stroke="#008bfb" d="M181.6 624h0m43.9 0h0m4.5 0h0"/>
<path stroke="#e50080" d="M169.2 621.2h0m1 5.1h0m0-6.9h0m.4 7.5h0m1.8-1.7h0"/>
<path stroke="#ff0051" d="M149 624h0m.9 .6h0m3.9-.6h0m10.4 0h0m.1 1.2h0"/>
<path stroke="#ee0076" d="M164.8 624h0"/>
<path stroke="#0071ee" d="M176.7 623.5h0"/>
<path stroke="#007ef6" d="M181.3 624.6h0"/>
<path stroke="#186deb" d="M177.3 624h0"/>
<path stroke="#f70069" d="M164.5 625.8h0"/>
<path stroke="#f00074" d="M167.5 625.8h0"/>
<path stroke="#008bfb" d="M198 624h0"/>
<path stroke="#9d22ac" d="M175.7 624.6h0"/>
<path stroke="#575fdf" d="M171.5 620.6h0"/>
<path stroke="#a01fab" d="M167.6 626.9h0m1.2-3.4h0m1.1-3.5h0m.2 3.5h0m.3 5.1h0m1.9-5.1h0"/>
<path stroke="#db008a" d="M162.2 623.5h0"/>
<path stroke="#e30082" d="M162.5 624.6h0m5-2.3h0"/>
<path stroke="#fa0065" d="M165.7 624.6h0"/>
<path stroke="#007ef6" d="M184.2 624.6h0m.4-.6h0"/>
<path stroke="#d40090" d="M167.1 626.3h0"/>
<path stroke="#eb007a" d="M157.6 624.6h0m3.1 1.2h0m6.7-2.9h0"/>
<path stroke="#7f47c9" d="M178.1 625.2h0"/>
<path stroke="#8f36bb" d="M172.6 624.6h0"/>
<path stroke="#ff0051" d="M141.5 624h0m22.5 .6h0m2.8 .6h0"/>
<path stroke="#fd005f" d="M160.5 622.9h0m4.4 1.7h0m1.1-1.7h0"/>
<path stroke="#8d39be" d="M173.1 622.9h0"/>
<path stroke="#f4006e" d="M163.9 622.9h0"/>
<path stroke="#d9008c" d="M166.4 621.7h0"/>
<path stroke="#f10072" d="M153.4 624.6h0"/>
<path stroke="#883fc2" d="M173.8 624.6h0"/>
<path stroke="#e50080" d="M163.3 622.3h0m3.9 1.2h0m2.2 1.1h0m.4-.6h0m.3 .6h0"/>
<path stroke="#ff0056" d="M147.1 624h0m8.5 0h0m5.8-.5h0m4.5 3.4h0"/>
<path stroke="#7350d2" d="M171.6 622.9h0"/>
<path stroke="#0076f1" d="M171.2 625.8h0"/>
<path stroke="#e10084" d="M165.3 626.3h0"/>
<path stroke="#605bdc" d="M185.3 624.6h0"/>
<path stroke="#ff0058" d="M162.4 622.9h0"/>
<path stroke="#186deb" d="M175.9 625.2h0"/>
<path stroke="#7d49cc" d="M172.3 625.8h0"/>
<path stroke="#ff005a" d="M157 622.9h0m8.2 .6h0m2.5-2.3h0"/>
<path stroke="#008bfb" d="M185.9 624h0m4.4 0h0m11.5 0h0"/>
<path stroke="#fb0063" d="M156.9 623.5h0"/>
<path stroke="#883fc2" d="M176.8 624.6h0"/>
<path stroke="#006fed" d="M173.6 623.5h0m15.7 .5h0"/>
<path stroke="#dd0088" d="M168.8 626.9h0"/>
<path stroke="#266cea" d="M177.7 623.5h0"/>
<path stroke="#e7007e" d="M157.8 624h0m4.1 1.8h0m3.1 0h0"/>
<path stroke="#cd0095" d="M166.6 626.3h0"/>
<path stroke="#f00074" d="M165.5 622.3h0"/>
<path stroke="#f4006e" d="M159.8 624h0m8.7 .6h0"/>
<path stroke="#f70069" d="M163.7 625.2h0"/>
<path stroke="#7350d2" d="M172.1 624.6h0"/>
<path stroke="#e50080" d="M169.2 626.3h0m.6-5.7h0m0 6.9h0m1-2.9h0m.1-3.4h0m.1 1.1h0"/>
<path stroke="#db008a" d="M163.5 624.6h0"/>
<path stroke="#c70098" d="M164.4 623.5h0"/>
<path stroke="#6459da" d="M172.6 624h0"/>
<path stroke="#fe005c" d="M159.1 624.6h0"/>
<path stroke="#4c63e3" d="M182.3 624.6h0"/>
<path stroke="#4664e4" d="M171.8 624h0"/>
<path stroke="#f30070" d="M158.7 624.6h0m7.1 1.2h0m2.1-1.8h0"/>
<path stroke="#cf0093" d="M161.1 625.2h0"/>
<path stroke="#c2009b" d="M154.1 624.6h0"/>
<path stroke="#a01fab" d="M169.1 621.7h0"/>
<path stroke="#eb007a" d="M163.1 625.8h0m3.4-3.5h0"/>
<path stroke="#0077f2" d="M180.4 624h0"/>
<path stroke="#0079f3" d="M182 623.5h0"/>
<path stroke="#f80067" d="M158.3 622.9h0m10.1 0h0"/>
<path stroke="#306ae9" d="M175.3 624h0"/>
<path stroke="#0081f7" d="M179.2 624h0"/>
<path stroke="#d9008c" d="M158.1 625.2h0"/>
<path stroke="#0071ee" d="M178.3 624h0"/>
<path stroke="#f10072" d="M160.2 624h0"/>
<path stroke="#ff0051" d="M131.8 624h0m18.6 0h0m5-.5h0m4.6 1.1h0m8 1.2h0m0-.6h0"/>
<path stroke="#b30aa3" d="M168.4 640.4h0"/>
<path stroke="#8a3cc0" d="M166.7 637.1h0"/>
<path stroke="#e50080" d="M169 639.7h0m.5-4.5h0m.5 1.9h0m.5 .7h0m.4 3.9h0m.1-5.9h0"/>
<path stroke="#6857d8" d="M167.7 637.1h0"/>
<path stroke="#6c54d6" d="M168.1 636.5h0"/>
<path stroke="#008bfb" d="M142.7 638.4h0m6.3 0h0m5.5 0h0"/>
<path stroke="#ee0076" d="M181.5 638.4h0"/>
<path stroke="#7f47c9" d="M160.2 638.4h0m6.6 .7h0"/>
<path stroke="#f70069" d="M179.3 637.8h0"/>
<path stroke="#f30070" d="M174.3 639.1h0"/>
<path stroke="#575fdf" d="M168.2 633.9h0"/>
<path stroke="#0076f1" d="M159.5 639.1h0"/>
<path stroke="#ff005a" d="M176.4 639.1h0m2.7 0h0"/>
<path stroke="#a01fab" d="M168.6 638.4h0m.6-1.3h0m2 3.3h0"/>
<path stroke="#006fed" d="M163.7 639.7h0m2.1-1.9h0"/>
<path stroke="#5b5ddd" d="M162 637.8h0"/>
<path stroke="#605bdc" d="M159.2 639.1h0m6.1 .6h0"/>
<path stroke="#cf0093" d="M172.2 637.8h0"/>
<path stroke="#0073ef" d="M164 637.8h0"/>
<path stroke="#f6006c" d="M175.1 638.4h0m.5 1.3h0m4.5-.6h0"/>
<path stroke="#ff0051" d="M180.8 638.4h0m2.7 0h0m20.1 0h0"/>
<path stroke="#4c63e3" d="M165.2 637.1h0"/>
<path stroke="#007bf4" d="M163.4 637.1h0"/>
<path stroke="#8f36bb" d="M164.7 636.5h0m2 1.9h0"/>
<path stroke="#e9007c" d="M179.4 639.7h0"/>
<path stroke="#7d49cc" d="M168.6 636.5h0"/>
<path stroke="#007cf5" d="M157.3 638.4h0"/>
<path stroke="#9829b1" d="M172.1 639.7h0"/>
<path stroke="#df0086" d="M173.2 639.7h0"/>
<path stroke="#8542c5" d="M164.9 639.7h0"/>
<path stroke="#b604a2" d="M176.1 639.1h0"/>
<path stroke="#3968e7" d="M164.1 637.8h0"/>
<path stroke="#d40090" d="M173.7 637.8h0"/>
<path stroke="#4664e4" d="M166.6 640.4h0"/>
<path stroke="#008bfb" d="M127.3 638.4h0"/>
<path stroke="#0076f1" d="M163.4 639.1h0"/>
<path stroke="#e50080" d="M168.8 641.7h0m.7 1.2h0m.8-4.5h0m15.8 0h0"/>
<path stroke="#007ff7" d="M158.6 638.4h0"/>
<path stroke="#7350d2" d="M164.5 638.4h0"/>
<path stroke="#b00fa5" d="M167.8 639.7h0"/>
<path stroke="#ff0058" d="M178.7 638.4h0m3.2 0h0"/>
<path stroke="#fd005f" d="M181.1 639.1h0"/>
<path stroke="#6459da" d="M167.9 640.4h0"/>
<path stroke="#266cea" d="M160.9 639.1h0"/>
<path stroke="#0074f0" d="M161.3 638.4h0"/>
<path stroke="#6857d8" d="M168.7 642.9h0"/>
<path stroke="#0079f3" d="M163.7 638.4h0"/>
<path stroke="#ff005a" d="M176 638.4h0"/>
<path stroke="#186deb" d="M164.3 640.4h0"/>
<path stroke="#0077f2" d="M167.8 635.8h0m.5 5.2h0"/>
<path stroke="#794cce" d="M168.9 639.1h0"/>
<path stroke="#575fdf" d="M161.6 637.8h0m4.4 1.9h0m.3-3.2h0"/>
<path stroke="#ff0051" d="M178.3 638.4h0m3.9-.6h0"/>
<path stroke="#a01fab" d="M169.4 638.4h0m.9-2.6h0m.1 .7h0m.1 4.5h0m.4-1.3h0"/>
<path stroke="#6c54d6" d="M160.5 637.8h0"/>
<path stroke="#0073ef" d="M158.8 637.8h0"/>
<path stroke="#d6008e" d="M171.4 638.4h0m5.7 .7h0"/>
<path stroke="#0071ee" d="M160.7 639.1h0m5.1-2h0"/>
<path stroke="#ee0076" d="M178.1 639.1h0"/>
<path stroke="#e50080" d="M167.5 637.8h0m1.8 3.2h0m.2-4.5h0m0 1.3h0m.1 2.6h0m0-4.6h0m.7 3.3h0m0 2.6h0m.3-4.6h0m.9 2h0m.1-2h0"/>
<path stroke="#0074f0" d="M161.2 639.7h0"/>
<path stroke="#962db3" d="M167 637.8h0"/>
<path stroke="#6c54d6" d="M168.5 635.2h0"/>
<path stroke="#0082f8" d="M156.1 639.1h0m8.7-2h0"/>
<path stroke="#5261e1" d="M162.3 638.4h0"/>
<path stroke="#fa0065" d="M172.8 639.7h0"/>
<path stroke="#4c63e3" d="M166.1 638.4h0"/>
<path stroke="#7350d2" d="M168.3 639.7h0"/>
<path stroke="#f4006e" d="M172.9 638.4h0m1.3 1.3h0"/>
<path stroke="#e7007e" d="M171.9 637.8h0m.5-.7h0m4.2 .7h0m7.2 1.3h0"/>
<path stroke="#008bfb" d="M157.9 638.4h0m1.7 0h0"/>
<path stroke="#007bf4" d="M167.3 639.7h0"/>
<path stroke="#a01fab" d="M169.1 641.7h0m1-1.3h0"/>
<path stroke="#ff0058" d="M177.6 639.7h0"/>
<path stroke="#ff0051" d="M185.3 638.4h0m8.3 0h0m5.4 0h0"/>
<path stroke="#4664e4" d="M160 637.8h0m2.9 .6h0"/>
<path stroke="#007cf5" d="M162.9 637.8h0"/>
<path stroke="#575fdf" d="M162.7 637.1h0"/>
<path stroke="#cd0095" d="M171.6 640.4h0"/>
<path stroke="#e10084" d="M171.7 638.4h0m3 1.3h0"/>
<path stroke="#d6008e" d="M173.8 637.8h0"/>
<path stroke="#0071ee" d="M166.2 639.1h0m1.2 1.9h0"/>
<path stroke="#fe005c" d="M182.7 639.1h0"/>
<path stroke="#007ef6" d="M162.5 639.7h0"/>
<path stroke="#e50080" d="M168.7 637.8h0m.2-2h0m.1-1.3h0m.9 .7h0m.6 4.5h0"/>
<path stroke="#ff0051" d="M174.4 638.4h0m3.3-.6h0m2.7 0h0m15.9 .6h0m11.9 0h0"/>
<path stroke="#007bf4" d="M167.5 639.1h0"/>
<path stroke="#794cce" d="M166.4 640.4h0"/>
<path stroke="#bc009f" d="M173.5 638.4h0"/>
<path stroke="#0085f9" d="M157.6 639.1h0"/>
<path stroke="#e9007c" d="M175.5 637.8h0"/>
<path stroke="#bf009d" d="M175.3 639.1h0"/>
<path stroke="#eb007a" d="M184.3 637.8h0"/>
<path stroke="#605bdc" d="M161.8 639.1h0m.4 .6h0m2-.6h0"/>
<path stroke="#a01fab" d="M169.4 639.1h0m.2 3.2h0m1.4-5.8h0m.4 1.3h0"/>
<path stroke="#0073ef" d="M155.4 638.4h0"/>
<path stroke="#c70098" d="M174.8 637.8h0"/>
<path stroke="#ee0076" d="M177.3 638.4h0"/>
<path stroke="#186deb" d="M168.9 637.1h0"/>
<path stroke="#ff005a" d="M172.5 639.1h0"/>
<path stroke="#0077f2" d="M165.1 639.1h0"/>
<path stroke="#4c63e3" d="M167.6 638.4h0"/>
<path stroke="#ff0058" d="M173.1 639.1h0"/>
<path stroke="#b00fa5" d="M171.3 641h0"/>
<path stroke="#d9008c" d="M176.9 638.4h0"/>
<path stroke="#7f47c9" d="M166.9 641h0"/>
<path stroke="#0082f8" d="M163.1 639.1h0"/>
<path stroke="#7d49cc" d="M165.7 637.8h0"/>
<path stroke="#d6008e" d="M180 638.4h0"/>
<path stroke="#5b5ddd" d="M168.8 642.3h0"/>
<path stroke="#0084f8" d="M156.5 638.4h0"/>
<path stroke="#0071ee" d="M167.2 636.5h0"/>
<path stroke="#fe005c" d="M186.8 638.4h0"/>
<path stroke="#0074f0" d="M165.5 640.4h0"/>
<path stroke="#ca0097" d="M171 639.1h0"/>
<path stroke="#4066e6" d="M165.4 638.4h0"/>
<path stroke="#008bfb" d="M166.3 653.1h0m.8-.1h0m1.7-.4h0m.2 .4h0m.1 2.6h0m.1-6.6h0m0 7.6h0m0-2.1h0m.1 1h0m.1-7.5h0m0 .8h0m0 5.3h0m0 1.2h0m.2-7.2h0m.1 5.7h0"/>
<path stroke="#ff0051" d="M175.5 653h0m.7-.4h0m4.8 .2h0m.6 0h0m1.7-.2h0m1.1 .2h0m1.6 0h0m2 .3h0"/>
<path stroke="#008bfb" d="M165.8 652.8h0m.5-.3h0m.3 .1h0m.4 .2h0m.7 0h0m1.5-2.8h0m0-.5h0m0 1.6h0m.1 .9h0m0 5.5h0m.1-5.2h0m0 5.3h0m.1-.5h0m.1-7.8h0m.1 2.5h0m.2 1h0"/>
<path stroke="#ff0051" d="M172.6 652.8h0m3 0h0m2.9 0h0m1.4 0h0m8-.2h0m13.1 .2h0m10 0h0"/>
<path stroke="#008bfb" d="M165.1 653.1h0m4 1.2h0m0 .8h0m.1-2h0m.1-3.5h0m.1 5h0m0-.8h0m0-.3h0m.1-2.2h0m0 5h0m0-3.7h0m.1-2.5h0m.1 3.5h0m0-.6h0m0-.5h0m.1-.5h0"/>
<path stroke="#ff0051" d="M173 652.8h0m1 0h0m8.1-.2h0m1.6 .4h0m32.6-.2h0m2.7 0h0m7.4 0h0"/>
<path stroke="#ff0051" d="M173.6 652.6h0m1 .2h0m1.7 .3h0m.1-.1h0m1.8-.2h0m6.7 .2h0m28.8-.2h0"/>
<path stroke="#008bfb" d="M165.1 653h0m1.1-.4h0m.3 .7h0m2.4-.8h0m.2 4.5h0m.1-5.4h0m0 3.4h0m0-6.7h0m.1 7.5h0m.1-5.5h0m.1 .3h0m0 4.2h0m0-6.3h0m0 8.3h0m.1 .5h0m.2-4.2h0"/>
<path stroke="#ff0058" d="M175.1 666.5h0"/>
<path stroke="#ff0051" d="M176.8 667.2h0"/>
<path stroke="#6857d8" d="M166.9 667.2h0"/>
<path stroke="#0073ef" d="M165.3 665.9h0m.9 .6h0m.4 2.6h0"/>
<path stroke="#0077f2" d="M165.4 665.9h0m1.8 0h0"/>
<path stroke="#a01fab" d="M169.8 666.5h0m.2-.6h0"/>
<path stroke="#ec0078" d="M172.6 667.2h0"/>
<path stroke="#0074f0" d="M161.8 667.8h0"/>
<path stroke="#006fed" d="M159.2 667.2h0m6 .6h0m2.3 1.3h0"/>
<path stroke="#7350d2" d="M164.8 666.5h0"/>
<path stroke="#f00074" d="M175.4 667.8h0"/>
<path stroke="#007cf5" d="M159.8 667.2h0"/>
<path stroke="#fe005c" d="M177.5 666.5h0"/>
<path stroke="#fb0063" d="M181 667.2h0"/>
<path stroke="#e9007c" d="M173.6 666.5h0"/>
<path stroke="#f4006e" d="M173.2 666.5h0"/>
<path stroke="#306ae9" d="M165.8 665.2h0"/>
<path stroke="#e30082" d="M176.1 667.2h0"/>
<path stroke="#bf009d" d="M174 667.2h0"/>
<path stroke="#f70069" d="M177.7 667.2h0"/>
<path stroke="#df0086" d="M171.2 666.5h0"/>
<path stroke="#fc0061" d="M170.8 665.9h0"/>
<path stroke="#8a3cc0" d="M168.6 668.5h0"/>
<path stroke="#5b5ddd" d="M167.3 665.2h0"/>
<path stroke="#6c54d6" d="M169.4 669.8h0"/>
<path stroke="#f10072" d="M176.2 667.8h0"/>
<path stroke="#0082f8" d="M165.7 667.8h0"/>
<path stroke="#e7007e" d="M171.7 667.8h0"/>
<path stroke="#d10091" d="M180.1 667.8h0"/>
<path stroke="#0077f2" d="M165 667.2h0"/>
<path stroke="#008bfb" d="M121 667.2h0m30.8 0h0"/>
<path stroke="#0089fa" d="M166.2 665.2h0"/>
<path stroke="#605bdc" d="M166 667.2h0"/>
<path stroke="#f6006c" d="M174.6 666.5h0"/>
<path stroke="#3968e7" d="M164 667.8h0"/>
<path stroke="#794cce" d="M168.4 664.6h0"/>
<path stroke="#f00074" d="M175.7 667.2h0"/>
<path stroke="#a01fab" d="M169 669.1h0m.1-5.2h0m.1 5.2h0m.1-1.3h0m.2-3.2h0m.1 7.1h0"/>
<path stroke="#6c54d6" d="M167.6 669.8h0m1.5-6.5h0m.7 7.8h0"/>
<path stroke="#0081f7" d="M168.7 671.1h0"/>
<path stroke="#e9007c" d="M184.2 667.2h0"/>
<path stroke="#883fc2" d="M167.3 667.8h0"/>
<path stroke="#0073ef" d="M160.4 667.2h0m7.6 1.3h0"/>
<path stroke="#9430b6" d="M168.3 670.4h0"/>
<path stroke="#ff0051" d="M177 667.8h0m2.9-1.3h0m3.5 .7h0"/>
<path stroke="#0074f0" d="M160.9 667.2h0"/>
<path stroke="#5261e1" d="M167.6 667.2h0"/>
<path stroke="#4c63e3" d="M162.8 666.5h0"/>
<path stroke="#fd005f" d="M172.2 667.8h0"/>
<path stroke="#f30070" d="M171.9 666.5h0m9.7 .7h0"/>
<path stroke="#007cf5" d="M164.2 667.2h0"/>
<path stroke="#f4006e" d="M171.5 668.5h0m1-2h0"/>
<path stroke="#962db3" d="M166.6 667.2h0"/>
<path stroke="#fe005c" d="M177.3 667.8h0"/>
<path stroke="#d40090" d="M173.8 667.8h0"/>
<path stroke="#fc0061" d="M178.8 667.2h0"/>
<path stroke="#4066e6" d="M163.1 667.2h0"/>
<path stroke="#4c63e3" d="M166.8 666.5h0"/>
<path stroke="#6f52d4" d="M165.6 666.5h0m2.3 2.6h0"/>
<path stroke="#7d49cc" d="M168.9 665.2h0"/>
<path stroke="#7350d2" d="M161.1 667.8h0m7.9 0h0"/>
<path stroke="#0079f3" d="M162.8 667.8h0m3.7 0h0"/>
<path stroke="#8542c5" d="M167.9 666.5h0"/>
<path stroke="#df0086" d="M170.8 667.8h0"/>
<path stroke="#f10072" d="M180.6 667.8h0"/>
<path stroke="#0074f0" d="M162.6 668.5h0"/>
<path stroke="#8244c7" d="M165.5 668.5h0m1.6 1.3h0"/>
<path stroke="#ff0051" d="M174.5 667.2h0m7.6 0h0m13.4 0h0"/>
<path stroke="#ff0058" d="M176.4 666.5h0"/>
<path stroke="#6c54d6" d="M165.9 669.1h0m2.2 1.3h0m.8 1.3h0m.2-3.2h0m.8-2h0"/>
<path stroke="#5b5ddd" d="M168.2 665.9h0"/>
<path stroke="#007ef6" d="M163.7 666.5h0"/>
<path stroke="#764ed0" d="M167.8 665.2h0m1 1.3h0"/>
<path stroke="#0086fa" d="M162 667.2h0"/>
<path stroke="#4664e4" d="M163.5 667.8h0"/>
<path stroke="#5261e1" d="M163.2 668.5h0"/>
<path stroke="#0076f1" d="M164.9 669.1h0"/>
<path stroke="#4664e4" d="M164.5 666.5h0"/>
<path stroke="#0082f8" d="M158.3 667.2h0"/>
<path stroke="#fe005c" d="M174.2 668.5h0"/>
<path stroke="#fa0065" d="M170.6 667.2h0"/>
<path stroke="#007ff7" d="M167 668.5h0"/>
<path stroke="#e7007e" d="M172.3 668.5h0"/>
<path stroke="#266cea" d="M163.8 667.2h0m2.9 1.3h0"/>
<path stroke="#e9007c" d="M173.1 668.5h0"/>
<path stroke="#c70098" d="M171.1 668.5h0"/>
<path stroke="#0088fa" d="M168 664.6h0"/>
<path stroke="#5261e1" d="M164.6 668.5h0"/>
<path stroke="#a01fab" d="M168.7 669.8h0m.4-3.9h0m.6-.7h0m.1 2h0"/>
<path stroke="#e50080" d="M171.4 667.2h0"/>
<path stroke="#e30082" d="M175.6 668.5h0"/>
<path stroke="#ff0051" d="M178.2 667.2h0m1.1 .6h0m3.9-.6h0"/>
<path stroke="#f30070" d="M178.6 667.8h0"/>
<path stroke="#6c54d6" d="M166.3 665.9h0m2.2 1.3h0m1.3 3.2h0m0-2.6h0m.3 .7h0m.2 .6h0"/>
<path stroke="#f10072" d="M179.6 667.2h0"/>
<path stroke="#008bfb" d="M162.2 666.5h0"/>
<path stroke="#7f47c9" d="M168.4 663.9h0m.1-1.2h0"/>
<path stroke="#dd0088" d="M172.9 667.2h0m2 .6h0"/>
<path stroke="#883fc2" d="M167.7 667.8h0m1.2-1.9h0"/>
<path stroke="#794cce" d="M172.9 681.6h0"/>
<path stroke="#a01fab" d="M168.7 679h0m0 3.9h0m.5-.5h0m.5 .9h0m.1-.4h0m2-1.3h0"/>
<path stroke="#d6008e" d="M171.2 682h0"/>
<path stroke="#266cea" d="M180.4 681.6h0"/>
<path stroke="#ff0051" d="M152.8 681.6h0m.1 .4h0m1.1 .4h0m.1-1.3h0m2.1 .9h0m3.3-.4h0m2.6 .4h0"/>
<path stroke="#4066e6" d="M182.5 681.6h0"/>
<path stroke="#b00fa5" d="M172.2 682h0"/>
<path stroke="#b900a0" d="M171.6 682h0"/>
<path stroke="#962db3" d="M181.8 681.6h0"/>
<path stroke="#e50080" d="M168.4 682h0m.5-1.7h0m.1-1.8h0m0 2.6h0m.1 2.2h0m.4-5.2h0"/>
<path stroke="#9d22ac" d="M170.1 681.6h0"/>
<path stroke="#8f36bb" d="M174.3 682h0"/>
<path stroke="#6c54d6" d="M181.1 681.6h0"/>
<path stroke="#0088fa" d="M184.8 681.6h0"/>
<path stroke="#605bdc" d="M179.3 681.6h0"/>
<path stroke="#8244c7" d="M176.9 681.6h0"/>
<path stroke="#a01fab" d="M168.3 681.6h0m.3-3.5h0m.7 5.6h0m.1-.8h0m.2-.5h0m.1-.8h0"/>
<path stroke="#5261e1" d="M178.3 682h0"/>
<path stroke="#5b5ddd" d="M176.2 681.1h0"/>
<path stroke="#e50080" d="M169.1 681.6h0m.1-2.2h0m.1-1.7h0m.3 3.4h0"/>
<path stroke="#8f36bb" d="M170.8 681.1h0"/>
<path stroke="#6f52d4" d="M175.6 681.6h0"/>
<path stroke="#6459da" d="M172.6 682h0"/>
<path stroke="#008bfb" d="M186.1 681.6h0m6.9 0h0"/>
<path stroke="#764ed0" d="M173.1 681.6h0"/>
<path stroke="#4664e4" d="M178.5 681.6h0"/>
<path stroke="#0071ee" d="M177.8 681.6h0"/>
<path stroke="#8d39be" d="M174.7 682h0"/>
<path stroke="#7f47c9" d="M173.6 682h0"/>
<path stroke="#ff0051" d="M155.3 681.6h0m.2 .4h0m.4-.4h0m2.4 0h0m.5 0h0m2.5 .4h0m0-.4h0m2.4 0h0m1 0h0"/>
<path stroke="#006fed" d="M179.7 681.6h0"/>
<path stroke="#a01fab" d="M168.7 683.7h0m0-4.3h0m.1 3.9h0m.1-1.3h0m.1 3h0m.3-5.2h0"/>
<path stroke="#0079f3" d="M180.5 681.6h0"/>
<path stroke="#605bdc" d="M179 681.6h0"/>
<path stroke="#0076f1" d="M183.1 681.6h0"/>
<path stroke="#883fc2" d="M171.4 681.6h0"/>
<path stroke="#8244c7" d="M176.7 681.6h0"/>
<path stroke="#e50080" d="M168.6 679.8h0m.3 4.8h0m.1-2.2h0m.1-5.2h0m.1 9.1h0m.3-5.6h0"/>
<path stroke="#ff0051" d="M156.2 681.1h0m1.2 .5h0m2.2-.5h0m.3 .9h0m.4-.4h0m.1 .4h0m.6-.9h0m.1 .5h0m4.7 0h0m1.4 0h0"/>
<path stroke="#575fdf" d="M175.9 681.6h0"/>
<path stroke="#5b5ddd" d="M174.8 681.6h0"/>
<path stroke="#ad13a6" d="M171.1 681.6h0"/>
<path stroke="#7d49cc" d="M173.2 682h0"/>
<path stroke="#764ed0" d="M177.3 681.6h0"/>
<path stroke="#a01fab" d="M169.3 679h0m.1 6.4h0m.1-5.1h0m0 1.7h0"/>
<path stroke="#7350d2" d="M175.2 681.6h0"/>
<path stroke="#8d39be" d="M174.2 681.6h0"/>
<path stroke="#e50080" d="M168.8 681.6h0m.1-.5h0m0 3h0m.1-3.4h0m.3-2.2h0m.1 7.4h0"/>
<path stroke="#6459da" d="M176 682h0"/>
<path stroke="#bc009f" d="M172.3 681.6h0"/>
<path stroke="#008bfb" d="M183.9 681.6h0"/>
<path stroke="#ff0051" d="M147.3 681.6h0m2.7 0h0m4 0h0m.1 .4h0m.5-.4h0m3.3 0h0m3.8 0h0m.9 0h0m.4 0h0m1 .4h0m2.8-.9h0m.2 .9h0"/>
<path stroke="#794cce" d="M173.8 681.6h0"/>
<path stroke="#c2009b" d="M170.6 682h0"/>
<path stroke="#b00fa5" d="M170.4 681.6h0"/>
<path stroke="#007cf5" d="M162 695.9h0"/>
<path stroke="#008bfb" d="M143.3 695.9h0"/>
<path stroke="#fe005c" d="M173.9 695.9h0"/>
<path stroke="#a01fab" d="M168.7 699.7h0m.2 .9h0m0-9.4h0m.3 5.2h0m.3 1h0m.4-1h0"/>
<path stroke="#794cce" d="M168.3 696.9h0"/>
<path stroke="#6c54d6" d="M168.7 694.5h0m.3-2.8h0m0 5.7h0m0-1h0m0 2.8h0m.1-.9h0m.3-2.4h0m.1-3.3h0"/>
<path stroke="#ff0056" d="M179 695.9h0"/>
<path stroke="#f70069" d="M172.4 695.9h0"/>
<path stroke="#4664e4" d="M158.6 696.4h0"/>
<path stroke="#ff0051" d="M176.8 695.9h0m.7 0h0m.3 .5h0"/>
<path stroke="#0079f3" d="M155.7 695.9h0"/>
<path stroke="#d10091" d="M172 695.9h0"/>
<path stroke="#575fdf" d="M165.3 696.4h0"/>
<path stroke="#9233b9" d="M163.5 695.9h0"/>
<path stroke="#ff005a" d="M179.6 695.9h0"/>
<path stroke="#6459da" d="M168.4 695.9h0"/>
<path stroke="#fb0063" d="M175.5 695.9h0"/>
<path stroke="#3968e7" d="M164.6 695.5h0"/>
<path stroke="#b900a0" d="M178.4 695.9h0"/>
<path stroke="#306ae9" d="M168.1 696.4h0"/>
<path stroke="#007cf5" d="M161.6 695.9h0"/>
<path stroke="#6c54d6" d="M167.9 695.5h0m.8 4.7h0m.6-1h0m0-4.2h0"/>
<path stroke="#0082f8" d="M157.7 696.4h0"/>
<path stroke="#ee0076" d="M171.7 696.4h0"/>
<path stroke="#006fed" d="M166.6 695.5h0"/>
<path stroke="#a01fab" d="M168.9 693.1h0m0 3.8h0m0-4.7h0m.4 2.3h0m.1 5.2h0m.2-4.2h0"/>
<path stroke="#008bfb" d="M149 695.9h0"/>
<path stroke="#ff0051" d="M177.2 695.9h0"/>
<path stroke="#7f47c9" d="M167.4 696.4h0"/>
<path stroke="#007ef6" d="M159 695.9h0"/>
<path stroke="#8542c5" d="M165 695.9h0m.2 0h0"/>
<path stroke="#fd005f" d="M174.3 695.9h0"/>
<path stroke="#f6006c" d="M174.8 695.9h0"/>
<path stroke="#fa0065" d="M171.1 695.9h0"/>
<path stroke="#186deb" d="M165.8 696.4h0"/>
<path stroke="#eb007a" d="M176.2 695.9h0"/>
<path stroke="#df0086" d="M175.1 695.9h0"/>
<path stroke="#e7007e" d="M174.6 696.4h0"/>
<path stroke="#ff0051" d="M189 695.9h0"/>
<path stroke="#575fdf" d="M164.1 695.9h0"/>
<path stroke="#007ef6" d="M159.4 695.9h0"/>
<path stroke="#4664e4" d="M161.2 695.9h0m5.2 .5h0"/>
<path stroke="#f10072" d="M170.2 696.4h0"/>
<path stroke="#0086fa" d="M156.2 695.9h0"/>
<path stroke="#0082f8" d="M163.7 696.4h0"/>
<path stroke="#a01fab" d="M169.1 695h0m.1-.9h0m.2-1h0"/>
<path stroke="#0084f8" d="M164.4 696.4h0"/>
<path stroke="#6c54d6" d="M163.2 695.5h0m5 .9h0m.8-2.8h0m.1 4.2h0"/>
<path stroke="#605bdc" d="M164 695.9h0"/>
<path stroke="#d9008c" d="M176 696.4h0"/>
<path stroke="#dd0088" d="M171.4 695.9h0"/>
<path stroke="#8244c7" d="M167.1 695.9h0"/>
<path stroke="#883fc2" d="M165.9 695.5h0"/>
<path stroke="#6f52d4" d="M164.8 696.4h0"/>
<path stroke="#c70098" d="M172.7 696.4h0"/>
<path stroke="#0073ef" d="M157.2 695.9h0m3.1 0h0"/>
<path stroke="#0074f0" d="M167.6 695.9h0"/>
<path stroke="#0085f9" d="M158.2 695.9h0"/>
<path stroke="#186deb" d="M160.8 695.9h0"/>
<path stroke="#3968e7" d="M161.1 696.4h0"/>
<path stroke="#ff0051" d="M181.2 695.9h0m4.3 0h0"/>
<path stroke="#6c54d6" d="M169.1 692.6h0m.4 5.7h0m.1-1.4h0m0-1h0"/>
<path stroke="#007bf4" d="M156.7 695.9h0"/>
<path stroke="#0076f1" d="M160.2 696.4h0"/>
<path stroke="#a31daa" d="M167.9 695.9h0"/>
<path stroke="#b604a2" d="M170.5 695.9h0"/>
<path stroke="#186deb" d="M162.6 695.9h0m3 0h0"/>
<path stroke="#c70098" d="M171 696.4h0"/>
<path stroke="#7350d2" d="M163.2 696.4h0"/>
<path stroke="#ec0078" d="M180.1 695.9h0"/>
<path stroke="#5261e1" d="M167.4 695.5h0"/>
<path stroke="#0086fa" d="M159.9 695.9h0"/>
<path stroke="#6459da" d="M166.2 695.9h0"/>
<path stroke="#008bfb" d="M154.6 695.9h0"/>
<path stroke="#f00074" d="M173.1 695.9h0"/>
<path stroke="#a01fab" d="M168.3 695.5h0m.4-.5h0m0 3.8h0m.3-3.3h0m0 .4h0m.1-1.8h0m.3 4.7h0m.2-1.9h0"/>
<path stroke="#4066e6" d="M162.4 696.4h0m4.6 0h0"/>
<path stroke="#fd005f" d="M172.7 710.9h0"/>
<path stroke="#4c63e3" d="M160.4 710.9h0"/>
<path stroke="#266cea" d="M161.8 710.9h0"/>
<path stroke="#575fdf" d="M162.6 710.9h0"/>
<path stroke="#7350d2" d="M160 710.3h0m8.4 1.2h0"/>
<path stroke="#0077f2" d="M160.7 710.3h0"/>
<path stroke="#ec0078" d="M176.2 710.3h0"/>
<path stroke="#007ef6" d="M154 710.3h0m4.6 0h0m3.8 .6h0"/>
<path stroke="#7d49cc" d="M155.9 710.9h0"/>
<path stroke="#a01fab" d="M165 710.3h0m3.7-1.1h0m.2-.6h0m.4 4h0m0 2.3h0m.4-5.2h0m.4 1.2h0"/>
<path stroke="#6f52d4" d="M167.5 710.3h0"/>
<path stroke="#0086fa" d="M161.7 710.3h0"/>
<path stroke="#e50080" d="M168.3 710.9h0m.2 1.1h0m.2 0h0m0-.5h0m.4-4.6h0m.1 6.9h0m0-3.5h0"/>
<path stroke="#ff0051" d="M170.4 710.3h0m4.6 0h0m3.1 0h0m4.6 0h0"/>
<path stroke="#186deb" d="M149.3 710.3h0m5 0h0m1.5 0h0"/>
<path stroke="#764ed0" d="M163.6 709.7h0"/>
<path stroke="#ad13a6" d="M167 710.9h0"/>
<path stroke="#8d39be" d="M163.5 710.3h0"/>
<path stroke="#f80067" d="M173.2 710.3h0"/>
<path stroke="#575fdf" d="M159.1 710.9h0"/>
<path stroke="#7350d2" d="M165.3 709.7h0"/>
<path stroke="#a01fab" d="M168.7 713.2h0m0-3.5h0m.1 .6h0m.3 1.7h0m.3-2.3h0m.1 1.8h0m0-5.8h0m.1 1.7h0m.2 4.6h0m0-.5h0"/>
<path stroke="#6857d8" d="M167.9 710.9h0"/>
<path stroke="#008bfb" d="M158.1 710.3h0"/>
<path stroke="#e50080" d="M168.2 709.7h0m.1 2.9h0m.8-6.3h0m.1 4.6h0m.1 3.4h0m.4-4h0m0-1.7h0m.3 1.7h0"/>
<path stroke="#4066e6" d="M167.4 710.9h0"/>
<path stroke="#6c54d6" d="M155 710.3h0"/>
<path stroke="#3968e7" d="M164.2 710.3h0"/>
<path stroke="#007ff7" d="M160.2 709.7h0"/>
<path stroke="#f4006e" d="M174.2 710.3h0"/>
<path stroke="#ff0051" d="M195.8 710.3h0"/>
<path stroke="#e9007c" d="M173.5 710.3h0"/>
<path stroke="#0088fa" d="M157.1 710.3h0"/>
<path stroke="#3968e7" d="M156.5 710.3h0"/>
<path stroke="#764ed0" d="M165.9 710.3h0"/>
<path stroke="#0082f8" d="M162.2 710.3h0"/>
<path stroke="#4066e6" d="M153.4 710.3h0"/>
<path stroke="#a01fab" d="M169.1 708.6h0m.6 4h0m.1 .6h0m.1-2.3h0"/>
<path stroke="#794cce" d="M166 710.9h0"/>
<path stroke="#aa17a7" d="M172.4 710.3h0"/>
<path stroke="#b604a2" d="M163.1 710.3h0"/>
<path stroke="#e50080" d="M168.8 712.6h0m.3 .6h0m0-4h0m.4-1.2h0"/>
<path stroke="#007bf4" d="M157.6 710.3h0"/>
<path stroke="#e7007e" d="M171.9 710.3h0"/>
<path stroke="#fb0063" d="M171.5 710.3h0m6.3 0h0"/>
<path stroke="#f00074" d="M175.7 710.3h0"/>
<path stroke="#6f52d4" d="M164.6 710.3h0"/>
<path stroke="#575fdf" d="M167 710.3h0"/>
<path stroke="#8d39be" d="M163.9 710.9h0m.4 0h0m1.3 0h0"/>
<path stroke="#f80067" d="M172.4 709.7h0"/>
<path stroke="#9430b6" d="M168.3 708.6h0"/>
<path stroke="#8542c5" d="M166.4 710.3h0"/>
<path stroke="#4066e6" d="M159.6 710.3h0m8.5 0h0"/>
<path stroke="#ff005a" d="M170 709.7h0"/>
<path stroke="#d9008c" d="M170.7 710.9h0"/>
<path stroke="#7d49cc" d="M167.6 709.7h0"/>
<path stroke="#0071ee" d="M152.7 710.3h0"/>
<path stroke="#8244c7" d="M161.3 710.9h0"/>
<path stroke="#0077f2" d="M151.6 710.3h0"/>
<path stroke="#0082f8" d="M161.2 710.3h0"/>
<path stroke="#ee0076" d="M171.3 710.3h0m3.4 .6h0"/>
<path stroke="#b900a0" d="M171.8 710.9h0"/>
<path stroke="#e50080" d="M168.3 708h0m.1 2.3h0m.1-1.1h0m.3 1.7h0m.2-2.9h0m.6 1.2h0"/>
<path stroke="#007bf4" d="M159 710.3h0"/>
<path stroke="#186deb" d="M166.7 709.7h0"/>
<path stroke="#006fed" d="M164.9 710.9h0"/>
<path stroke="#a71aa9" d="M166.4 710.9h0"/>
<path stroke="#a01fab" d="M169.3 707.4h0m.3-.5h0m.2 6.9h0m.2 .5h0"/>
<path stroke="#4c63e3" d="M165.6 710.3h0"/>
<path stroke="#0076f1" d="M157.6 710.9h0"/>
<path stroke="#ff0051" d="M176.6 710.3h0m.5 0h0m8.4 0h0"/>
<text x="51.30" y="583.75" font-size="7.50" text-anchor="end" font-weight="normal" fill="#262626" textLength="18.26" lengthAdjust="spacingAndGlyphs">UPSIT</text>
<text x="51.30" y="598.13" font-size="7.50" text-anchor="end" font-weight="normal" fill="#262626" textLength="12.27" lengthAdjust="spacingAndGlyphs">PRS</text>
<text x="51.30" y="612.51" font-size="7.50" text-anchor="end" font-weight="normal" fill="#262626" textLength="22.69" lengthAdjust="spacingAndGlyphs">RBDSQ</text>
<text x="51.30" y="626.89" font-size="7.50" text-anchor="end" font-weight="normal" fill="#262626" textLength="18.14" lengthAdjust="spacingAndGlyphs">MoCA</text>
<text x="51.30" y="641.27" font-size="7.50" text-anchor="end" font-weight="normal" fill="#262626" textLength="7.68" lengthAdjust="spacingAndGlyphs">SF</text>
<text x="51.30" y="655.65" font-size="7.50" text-anchor="end" font-weight="normal" fill="#262626" textLength="44.29" lengthAdjust="spacingAndGlyphs">Family history</text>
<text x="51.30" y="670.03" font-size="7.50" text-anchor="end" font-weight="normal" fill="#262626" textLength="9.21" lengthAdjust="spacingAndGlyphs">Ins</text>
<text x="51.30" y="684.41" font-size="7.50" text-anchor="end" font-weight="normal" fill="#262626" textLength="18.28" lengthAdjust="spacingAndGlyphs">SDMT</text>
<text x="51.30" y="698.79" font-size="7.50" text-anchor="end" font-weight="normal" fill="#262626" textLength="21.70" lengthAdjust="spacingAndGlyphs">HRSUP</text>
<text x="51.30" y="713.17" font-size="7.50" text-anchor="end" font-weight="normal" fill="#262626" textLength="22.12" lengthAdjust="spacingAndGlyphs">Weight</text>
<text x="7.60" y="572.00" font-size="10.00" text-anchor="start" font-weight="bold" fill="#000">G</text>
<line x1="63.30" y1="724.40" x2="239.80" y2="724.40" stroke="#444" stroke-width="0.9"/>
<line x1="83.64" y1="724.40" x2="83.64" y2="726.20" stroke="#444" stroke-width="0.6"/>
<text x="83.64" y="732.58" font-size="6.60" text-anchor="middle" font-weight="normal" fill="#262626" textLength="12.49" lengthAdjust="spacingAndGlyphs">−0.6</text>
<line x1="112.16" y1="724.40" x2="112.16" y2="726.20" stroke="#444" stroke-width="0.6"/>
<text x="112.16" y="732.58" font-size="6.60" text-anchor="middle" font-weight="normal" fill="#262626" textLength="12.49" lengthAdjust="spacingAndGlyphs">−0.4</text>
<line x1="140.68" y1="724.40" x2="140.68" y2="726.20" stroke="#444" stroke-width="0.6"/>
<text x="140.68" y="732.58" font-size="6.60" text-anchor="middle" font-weight="normal" fill="#262626" textLength="12.49" lengthAdjust="spacingAndGlyphs">−0.2</text>
<line x1="169.20" y1="724.40" x2="169.20" y2="726.20" stroke="#444" stroke-width="0.6"/>
<text x="169.20" y="732.58" font-size="6.60" text-anchor="middle" font-weight="normal" fill="#262626" textLength="8.18" lengthAdjust="spacingAndGlyphs">0.0</text>
<line x1="197.72" y1="724.40" x2="197.72" y2="726.20" stroke="#444" stroke-width="0.6"/>
<text x="197.72" y="732.58" font-size="6.60" text-anchor="middle" font-weight="normal" fill="#262626" textLength="8.18" lengthAdjust="spacingAndGlyphs">0.2</text>
<line x1="226.24" y1="724.40" x2="226.24" y2="726.20" stroke="#444" stroke-width="0.6"/>
<text x="226.24" y="732.58" font-size="6.60" text-anchor="middle" font-weight="normal" fill="#262626" textLength="8.18" lengthAdjust="spacingAndGlyphs">0.4</text>
<text x="91.50" y="741.43" font-size="7.30" text-anchor="start" font-weight="normal" fill="#222" textLength="120.80" lengthAdjust="spacingAndGlyphs">SHAP value (impact on model output)</text>
<rect x="250.90" y="565.90" width="2.2" height="158.20" fill="url(#cb)"/>
<text x="254.80" y="568.58" font-size="6.60" text-anchor="start" font-weight="normal" fill="#1a1a1a" textLength="12.26" lengthAdjust="spacingAndGlyphs">High</text>
<text x="254.80" y="727.78" font-size="6.60" text-anchor="start" font-weight="normal" fill="#1a1a1a" textLength="10.51" lengthAdjust="spacingAndGlyphs">Low</text>
<text x="0" y="0" font-size="7.0" text-anchor="middle" fill="#222" transform="translate(273.00 645.60) rotate(-90)" textLength="43.00" lengthAdjust="spacingAndGlyphs">Feature value</text>
<line x1="337.20" y1="580.80" x2="513.60" y2="580.80" stroke="#e6e6e6" stroke-width="0.4" stroke-dasharray="0.4 2.2"/>
<line x1="337.20" y1="595.20" x2="513.60" y2="595.20" stroke="#e6e6e6" stroke-width="0.4" stroke-dasharray="0.4 2.2"/>
<line x1="337.20" y1="609.60" x2="513.60" y2="609.60" stroke="#e6e6e6" stroke-width="0.4" stroke-dasharray="0.4 2.2"/>
<line x1="337.20" y1="624.00" x2="513.60" y2="624.00" stroke="#e6e6e6" stroke-width="0.4" stroke-dasharray="0.4 2.2"/>
<line x1="337.20" y1="638.40" x2="513.60" y2="638.40" stroke="#e6e6e6" stroke-width="0.4" stroke-dasharray="0.4 2.2"/>
<line x1="337.20" y1="652.80" x2="513.60" y2="652.80" stroke="#e6e6e6" stroke-width="0.4" stroke-dasharray="0.4 2.2"/>
<line x1="337.20" y1="667.20" x2="513.60" y2="667.20" stroke="#e6e6e6" stroke-width="0.4" stroke-dasharray="0.4 2.2"/>
<line x1="337.20" y1="681.60" x2="513.60" y2="681.60" stroke="#e6e6e6" stroke-width="0.4" stroke-dasharray="0.4 2.2"/>
<line x1="337.20" y1="696.00" x2="513.60" y2="696.00" stroke="#e6e6e6" stroke-width="0.4" stroke-dasharray="0.4 2.2"/>
<line x1="337.20" y1="710.40" x2="513.60" y2="710.40" stroke="#e6e6e6" stroke-width="0.4" stroke-dasharray="0.4 2.2"/>
<line x1="442.80" y1="566.00" x2="442.80" y2="724.40" stroke="#aaaaaa" stroke-width="0.8"/>
<path stroke="#ff0051" d="M345.4 580.3h0m.8 1.9h0m0-.5h0m1.7-.9h0m.8 .5h0m.7 .4h0m.5 0h0m.6-1.8h0m4 1.4h0m2.9-1h0m.6 1h0m3.1 .4h0m1.4-.9h0m8 .5h0m.6 0h0m8.8 0h0m29.3-.5h0m4.7 0h0m1.7 .5h0m11.2-.5h0m1.2 0h0m2.5 0h0m.2 .5h0m1.6 0h0m10.9-.5h0"/>
<path stroke="#e50080" d="M446.5 582.7h0m2.3-4.7h0m1.4 6.6h0m.3-.5h0m.3-1.9h0m.2-4.2h0m.4 2.3h0m1.2-2.3h0m1.9 3.7h0"/>
<path stroke="#a01fab" d="M446.2 582.2h0m.7-2.8h0m1.4-1.9h0m.3 6.6h0m7.9-2.8h0m1.3-.5h0m.6 .5h0m1.5-1h0m7.1 1h0"/>
<path stroke="#6c54d6" d="M446 580.8h0m.4 .5h0m1.6 .9h0m1.4 .5h0m6.5-1.9h0m11.3 0h0m11.4 0h0"/>
<path stroke="#008bfb" d="M447.6 582.7h0m2-1.4h0m1.9-1.9h0m3.3 1.9h0m8.1 0h0m5.5 0h0"/>
<path stroke="#e50080" d="M447.8 581.3h0m1.7-3.3h0m.6 2.8h0m1.2-3.3h0m.3 4.2h0m2.3-2.8h0"/>
<path stroke="#6c54d6" d="M448.7 578.4h0m1.1 1h0m3 1.4h0m1.7 1.4h0m3.9-1.9h0m3.9 .5h0m2.3 0h0"/>
<path stroke="#008bfb" d="M446.6 581.7h0m4.4 1h0m.1 .5h0m.1 .4h0m.6 .5h0m.7-6.6h0m3.1 2.4h0"/>
<path stroke="#ff0051" d="M345.2 580.8h0m.7 .5h0m2.7-1.4h0m2.2 1.4h0m.1-.5h0m.8 .5h0m.3-1h0m2.1-.4h0m.3 1.8h0m.3-.9h0m6.9 1.4h0m.2-1.9h0m5-.4h0m.6 .4h0m8.1 .5h0m.4-.5h0m.5 1h0m2.6 0h0m.3-.5h0m2.5 0h0m.8 .5h0m15.1-.5h0m9.7 .5h0m2.2 .4h0m14.4-.4h0m.5 .4h0m.9-.4h0m2.2 0h0m2.1 0h0m.1-.5h0m11.6 0h0"/>
<path stroke="#a01fab" d="M449.2 577.5h0m1.1 7.5h0m.8-5.1h0m3.5 0h0m1.9 .9h0m11.4 0h0"/>
<path stroke="#008bfb" d="M447.6 579.9h0m1.7-3.3h0m1 6.6h0m1.4-4.3h0m7.7 1.9h0m22.9 0h0"/>
<path stroke="#e50080" d="M448.9 581.7h0m1 0h0m.4-3.3h0m.4 6.6h0m1.5-1.4h0m.4 1h0m.1-2.9h0m.1-1.8h0"/>
<path stroke="#6c54d6" d="M450.1 580.3h0m1.5 1h0m.4-1h0m2.2 2.4h0m5.9-1.4h0m4.8-.5h0"/>
<path stroke="#a01fab" d="M448.5 584.6h0m2.4-3.8h0m1.7 1.4h0m.3-2.8h0m.6 0h0m0 1.4h0m1.6-.5h0m4.9-.4h0m1.9 .9h0m14.1 0h0m12.6 0h0"/>
<path stroke="#ff0051" d="M344.6 580.8h0m.7-.9h0m4.5 .4h0m.9 .5h0m1.7 0h0m2.4-.5h0m.4 1h0m.6-.5h0m1.8 0h0m1.4 0h0m1.7 0h0m.6-.9h0m.4 1.4h0m8-.5h0m5.5 0h0m5.6 .9h0m8.7-.9h0m20.2 .5h0m.7-.5h0m.3 .5h0m1-.5h0m3.7 0h0m.9 .5h0m1.9-.5h0m7.1-.5h0m6.9 .5h0"/>
<path stroke="#008bfb" d="M448.4 579.4h0m1.2 4.2h0m1.7-6.6h0m1.5 1.4h0m1 1.9h0m5.2 1.4h0m1 0h0m.4 .5h0"/>
<path stroke="#e50080" d="M444.9 581.3h0m1.1-1h0m1.1 0h0m0 .5h0m.9 2.4h0m.4 .4h0m.5-3.3h0m1.1-3.3h0m.2 7.1h0m.5-7.5h0m1.3 4.7h0m1.2 1.9h0m.9-1.9h0"/>
<path stroke="#6c54d6" d="M447.9 580.8h0m2.3-.9h0m8.2 0h0"/>
<path stroke="#a01fab" d="M447.2 579.9h0m1.7-1h0m.5 3.3h0m1.9 3.3h0m.1-.9h0m.5-1.9h0m1.9-4.3h0m1.6 3.3h0"/>
<path stroke="#ff0051" d="M344.4 581.3h0m3.1 0h0m.5-1h0m.4 .5h0m.4 1.4h0m12.2-1.4h0m5.4 0h0m.5 0h0m.4 .5h0m.4 .4h0m3.9-.9h0m8.3-.5h0m.5 .5h0m14.6 0h0m11.2 0h0m1.4 0h0m1.2-.5h0m.4-.4h0m4 1.4h0m1.3-1h0m2.7 .5h0m1.3 .5h0m4.9-.5h0m.5-.5h0m.5 .5h0"/>
<path stroke="#ff0051" d="M446.1 596.1h0m6.7-.4h0m2.9-1h0m13.8 .5h0"/>
<path stroke="#a01fab" d="M442.9 597.1h0m1.7-2.4h0m.1-.4h0m1.4 2.3h0"/>
<path stroke="#6c54d6" d="M423.5 594.7h0m1.4 .5h0m4.5 .9h0m2.7 0h0m4.7-.9h0m1.3 .5h0m.3 0h0m2.1 .4h0m1.1 1h0m2.3 0h0m2.3-1.4h0"/>
<path stroke="#e50080" d="M440.9 595.2h0m1.6 .5h0m.9 3.7h0m.9-1.8h0m2.1-2.9h0m1.4 1h0m8.5-1.4h0"/>
<path stroke="#008bfb" d="M374.6 595.2h0m29.4 0h0m8-.5h0m4.8 .5h0m3.4-.5h0m4.4 1h0m1.7-.5h0m.5 .5h0m2.1-.5h0m2.7-.5h0m.7 1.9h0m1.5-1.9h0m4 0h0"/>
<path stroke="#6c54d6" d="M413.7 595.2h0m9 .5h0m5-.5h0m2.2 .5h0m.7-1.4h0m2.4 .4h0m8.9-.9h0m.4 2.3h0m2-2.8h0m.3 5.7h0m1.3-5.2h0"/>
<path stroke="#e50080" d="M443.6 599h0m.4-3.8h0m.1-1.4h0m1 .9h0m2.4 0h0m3 1h0m5.4 .4h0m.2-.4h0m4.3-.5h0"/>
<path stroke="#ff0051" d="M447.9 595.2h0m9-.9h0m.3 1.4h0m16.8-.5h0m2.8 0h0"/>
<path stroke="#008bfb" d="M396.8 595.2h0m16.7 .5h0m10.8-.5h0m5.1 0h0m1.6-.5h0m.5 1h0m1.8 .4h0m2.4-.9h0m2.1 .9h0"/>
<path stroke="#a01fab" d="M441.5 594.3h0m.4 2.3h0m.2-1.9h0m1.7-3.3h0m2.8 3.8h0"/>
<path stroke="#008bfb" d="M387.7 595.2h0m2.8 0h0m27.1 0h0m3.1 .5h0m8.8-1h0m.6 1.4h0m4.1-.4h0"/>
<path stroke="#6c54d6" d="M412.8 595.2h0m1.3 0h0m.5 .5h0m5.3-.5h0m3-.5h0m8.8-.4h0m.7 1.4h0m3.5 0h0m2.7-1h0m.2 .5h0m.8 0h0m1.9 .5h0m2.1-1h0m1.3 3.3h0m.2-2.3h0"/>
<path stroke="#e50080" d="M443.2 597.6h0m.6-3.8h0m1-1.9h0m.8 1.4h0m4.5 1.9h0m7.2 0h0"/>
<path stroke="#ff0051" d="M446.1 594.3h0m1.9 0h0m6.5 1.4h0m3.5-.5h0m6 0h0"/>
<path stroke="#a01fab" d="M442.6 595.2h0m.1-4.2h0m.1 4.7h0m.2-1.4h0m.5 2.3h0m1.1-.5h0"/>
<path stroke="#6c54d6" d="M416.8 595.7h0m6.7 0h0m7.3 0h0m10.3-1h0m1.5 2.9h0m.6 2.3h0m.1-6.6h0m.2 2.8h0m.1 2.4h0m0-.5h0m.1-5.2h0m.3 2.9h0m1.6-.5h0"/>
<path stroke="#008bfb" d="M383.7 595.2h0m9.9 0h0m19.2 .5h0m2.6-.5h0m7.7 0h0m8.2 0h0m1.6 0h0m1.1 0h0m3.9 0h0"/>
<path stroke="#e50080" d="M445.4 597.1h0m.7-1h0m1.3 0h0m5.2-.9h0m2 0h0m2.9-.5h0"/>
<path stroke="#ff0051" d="M451.3 595.2h0m3.2-.5h0m1.1 .5h0m.7 1.4h0m.6-.5h0m1.9-.9h0m30.2 0h0"/>
<path stroke="#a01fab" d="M442.1 593.3h0m.9-1.4h0m.7 .5h0m.6 6.1h0m.4-1.9h0"/>
<path stroke="#e50080" d="M432.3 609.6h0m.6 0h0m6.7 .4h0m1.7-.4h0"/>
<path stroke="#ff0051" d="M431.5 609.6h0m5.3 .4h0m1.1-.8h0m3.5 0h0m1.1-.4h0m.1-2.4h0m.1 4h0m.1 2h0m.1-5.6h0m0 1.2h0m.2 3.6h0m0-.8h0m.4-.4h0m0 .8h0"/>
<path stroke="#a01fab" d="M457.8 609.6h0m1 .4h0m3.1-.4h0m1.9 0h0m35.7 0h0"/>
<path stroke="#008bfb" d="M457.9 610h0m2-.4h0"/>
<path stroke="#6c54d6" d="M453.5 610h0m3.9-.4h0"/>
<path stroke="#6c54d6" d="M448.2 609.2h0m3.8 .4h0m9 0h0m1.5 0h0"/>
<path stroke="#e50080" d="M436.4 609.6h0m1.9 0h0"/>
<path stroke="#008bfb" d="M449 609.2h0m.8 .8h0m55.2-.4h0"/>
<path stroke="#ff0051" d="M433.1 610h0m.9-.4h0m.4-.4h0m.5 .8h0m5.5 .4h0m.1 .4h0m.1-.8h0m1.9 3.2h0m.3-2.4h0m0 3.2h0m0-4.4h0m0 4h0m.4-4.4h0m.1 .8h0"/>
<path stroke="#a01fab" d="M447.3 609.6h0m3 0h0m3-.4h0m4.2 .8h0"/>
<path stroke="#ff0051" d="M434.2 610h0m.3-.4h0m4.3 0h0m3 0h0m.6-3.6h0m.2 6h0m0-3.6h0m0 4.4h0m.1-2.8h0m0-.8h0m.1-3.6h0m.4 4h0m.3-2h0"/>
<path stroke="#a01fab" d="M443.8 609.6h0m5.1 0h0m4.6 0h0"/>
<path stroke="#008bfb" d="M450.3 609.2h0m.4 .8h0m1.8-.4h0m5-.4h0m6.2 .8h0m9.5-.4h0m23 0h0"/>
<path stroke="#e50080" d="M438.6 610h0"/>
<path stroke="#6c54d6" d="M449.6 609.6h0m5.3 0h0m8.4 0h0"/>
<path stroke="#a01fab" d="M478.6 609.6h0"/>
<path stroke="#e50080" d="M435.3 609.6h0m4.7-.8h0"/>
<path stroke="#ff0051" d="M433.8 610h0m6.3-.4h0m.4-.4h0m1.6 .8h0m.2-2.8h0m.1 7.2h0m.1-2.8h0m0-4h0m.1 3.6h0m.1-3.2h0m.1-2.8h0m.2 6.8h0m0 .4h0m0-4h0m.1-1.2h0m.2 1.6h0"/>
<path stroke="#6c54d6" d="M447.9 609.6h0m7.7 0h0m3.2 0h0"/>
<path stroke="#008bfb" d="M448.6 610h0m10.9-.4h0m9.1 0h0m20.9 0h0m3.3 0h0"/>
<path stroke="#008bfb" d="M390.5 624h0m11.8 0h0m14.8 0h0m1 0h0m.6 0h0m.8 1h0m1.6-2h0m.7 1h0m1.1 0h0m.7 2.1h0m2.7-3.1h0m1.7 2h0m2.7-1h0m1.6 1h0m.4-1h0m.9 0h0m1.8 1h0m7.1-3.1h0m.4-1h0m1.7 2.1h0m1.5 3.1h0"/>
<path stroke="#ff0051" d="M449.4 626.1h0m3.8-2.1h0"/>
<path stroke="#e50080" d="M457 624h0"/>
<path stroke="#a01fab" d="M443.5 625h0m1.9 2.1h0"/>
<path stroke="#6c54d6" d="M442.5 624h0m1 2.1h0m.5-4.2h0m.7 4.2h0"/>
<path stroke="#a01fab" d="M443 626.1h0m2.1-5.2h0"/>
<path stroke="#ff0051" d="M453.2 625h0m6.1-1h0"/>
<path stroke="#6c54d6" d="M443 627.1h0m3.3-5.2h0"/>
<path stroke="#e50080" d="M449.7 624h0m.9 0h0m2.4-1h0m.6 2h0m2.2-1h0m3.1 1h0"/>
<path stroke="#008bfb" d="M398.6 624h0m9.1 0h0m8.9 0h0m3.1-1h0m4.9 1h0m1.1 0h0m2.9-1h0m1.4 1h0m4.1 1h0m.3-1h0m.5 0h0m2 1h0m2-1h0m.6 0h0m1.7-1h0m3.1 4.1h0m1.1-4.1h0m.6 2h0m.5 3.1h0"/>
<path stroke="#e50080" d="M449.4 625h0m8.2-1h0m.9 0h0"/>
<path stroke="#6c54d6" d="M442.9 625h0m1.7-3.1h0m.4 5.2h0m.2-2.1h0m.4-3.1h0"/>
<path stroke="#a01fab" d="M444.1 628.1h0m.3-4.1h0m.5 1h0m.5 1.1h0"/>
<path stroke="#ff0051" d="M449.5 623h0m2.4 1h0m1.9 0h0m4.1 1h0"/>
<path stroke="#008bfb" d="M423.3 625h0m.2-2h0m1.9 2h0m.8-1h0m1.6 0h0m.5 0h0m5.3-1h0m2.4 1h0m.3 0h0m7.5 1h0m.7 1.1h0m2.1 1h0m.2-5.2h0m.3 2.1h0m.4 1h0"/>
<path stroke="#a01fab" d="M444.7 624h0m.7 0h0m1 0h0"/>
<path stroke="#e50080" d="M447.2 625h0m1.1-1h0m6.1 0h0m.6 0h0"/>
<path stroke="#008bfb" d="M416 624h0m3.7 0h0m.4 0h0m1.5 1h0m1.9-1h0m2.6 1h0m5.7-1h0m5-1h0m.3 1h0m2.8 0h0m1.2 1h0m2.1-1h0m2.7-3.1h0m.5 2.1h0m.3 3.1h0"/>
<path stroke="#6c54d6" d="M441.7 624h0m1.3-1h0m.4 0h0m.5-2.1h0m.1 2.1h0m1.9 5.1h0m1.3-4.1h0"/>
<path stroke="#ff0051" d="M447.3 623h0m2 1h0"/>
<path stroke="#a01fab" d="M442.5 642.8h0m.1-8.1h0m.2-.4h0m.2 1.1h0m.1 3h0m.1-1.9h0m0 2.3h0m.1 .3h0m1.6-.3h0m.5-.4h0m1.6 .4h0"/>
<path stroke="#008bfb" d="M461.4 638.4h0"/>
<path stroke="#ff0051" d="M425.3 638.4h0m.7 0h0m1.9 0h0m3.3 .4h0m2.7-.4h0m6.9 .4h0m.7 0h0m.9-.8h0m.1 1.9h0m0 .7h0m.2 1.9h0m.3-2.6h0m.1-2.6h0m.3 0h0m.5 1.1h0"/>
<path stroke="#ff0051" d="M401.4 638.4h0m14.6 0h0m12.9 0h0m1.8 0h0m.7 .7h0m.1-1.1h0m4.1 .8h0m.3-.4h0m4.3 0h0m1.1-.4h0m.1 .4h0m.8 1.1h0m.4 3.7h0m.3-5.5h0m.1 .3h0m.1 2.3h0m.2-.4h0m0-2.2h0"/>
<path stroke="#a01fab" d="M442.1 638.4h0m.5 1.9h0m.1-5.2h0m0 7h0m.1-8.1h0m.8 4h0m2.7 0h0m4.7 0h0m2.1 .4h0"/>
<path stroke="#a01fab" d="M442.6 633.6h0m0 4.8h0m1-1.5h0m5 1.9h0m.6-.4h0m2.9 0h0m.1 .4h0"/>
<path stroke="#ff0051" d="M423.5 638.4h0m3.7 0h0m2.5 0h0m.3 .4h0m.4-.4h0m1.2 0h0m.2 .4h0m3.8 .3h0m.7-.7h0m1.5 0h0m.5 .4h0m.6-.4h0m3-1.1h0m.4 .4h0m.1 1.4h0m.4-2.2h0"/>
<path stroke="#008bfb" d="M446.9 638.4h0m1.8 0h0m2.8 .4h0m7.1-.4h0"/>
<path stroke="#008bfb" d="M447.1 638h0m2.5 .8h0m2.2-.4h0"/>
<path stroke="#a01fab" d="M442.5 638.8h0m.2 2.9h0m.2-.3h0m.1-5.6h0m.2 3.7h0m2.9-1.1h0m.5 .4h0m2.4-.8h0m2.4 .4h0"/>
<path stroke="#ff0051" d="M424 638.4h0m2.6 0h0m2.3 .4h0m1.4-.8h0m1.4 .4h0m3 0h0m.9-.4h0m.7 .8h0m1.4-.4h0m1.7 0h0m1.3 0h0m2.1-1.9h0m0-.3h0m0 2.6h0m.2 2.2h0"/>
<path stroke="#6c54d6" d="M438.1 652.8h0m.1-1h0m.3 2h0m2.6-2h0m4.5 1h0m.6 2.1h0"/>
<path stroke="#008bfb" d="M411.7 652.8h0m10.8 0h0m2.9 1h0m6.9 0h0m.2-1h0m4 1h0m5.2-3.1h0"/>
<path stroke="#e50080" d="M439 651.8h0m3 1h0m.4 2.1h0m.2-3.1h0m.1 4.1h0m1.2-4.1h0m.3-1.1h0"/>
<path stroke="#a01fab" d="M438 653.8h0m1.5-4.1h0m.3 4.1h0m.8 2.1h0m4.4-1h0m3.4-1.1h0m.6 0h0m3.2-1h0m25.2 0h0"/>
<path stroke="#a01fab" d="M438.2 655.9h0m.9-3.1h0m.3 3.1h0m2.5-6.2h0m.6 0h0m.1 7.2h0m2.2-3.1h0m1.9-2h0m2.1 1h0"/>
<path stroke="#e50080" d="M438.5 654.9h0m1.3-3.1h0m2.6 2h0m2.9-1h0m1.2 0h0"/>
<path stroke="#008bfb" d="M425.2 651.8h0m.6 1h0m1 0h0m2.2 0h0m.6 0h0m.3 0h0m2.2 0h0m1.9 1h0m.8 0h0m8.4-2h0m.4 2h0"/>
<path stroke="#6c54d6" d="M439.5 651.8h0m.6 5.1h0m.1-6.2h0m2.8 4.2h0"/>
<path stroke="#e50080" d="M439.8 649.7h0m1.1 3.1h0m.7 3.1h0m.2-1h0m.2-3.1h0m2.2 3.1h0"/>
<path stroke="#008bfb" d="M427.3 653.8h0m.7-1h0m1.4 1h0m1.8-1h0m2.6 0h0m2 1h0m3.5-3.1h0m3.2 2.1h0m1.7 0h0"/>
<path stroke="#a01fab" d="M440.5 651.8h0m.2 2h0m.2-3.1h0m3.3 3.1h0m1.3 0h0m1 0h0m1.5 0h0m1.3-1h0m.4 0h0m7.1 0h0m10.9 0h0"/>
<path stroke="#6c54d6" d="M434.7 652.8h0m4.7 1h0m.4 2.1h0"/>
<path stroke="#e50080" d="M438.2 650.7h0m2.1 2.1h0m3.1 0h0m1.9-1h0"/>
<path stroke="#008bfb" d="M419 652.8h0m5.8 0h0m.9 2.1h0m.5-2.1h0m.9 0h0m2.1-1h0m5 0h0m1.9 0h0m.2 1h0m.3 2.1h0m.1-3.1h0m1.2 3.1h0m1.3 0h0m.7 0h0"/>
<path stroke="#6c54d6" d="M442.7 650.7h0m1.7 1.1h0"/>
<path stroke="#a01fab" d="M438.6 650.7h0m.3 2.1h0m1.7 2.1h0m.7-1.1h0m.6 0h0m.9-5.1h0m4.5 4.1h0m.3 0h0m3.9 0h0m.7 1h0"/>
<path stroke="#a01fab" d="M442.4 665.9h0m.6-1.3h0m2.6 2.6h0"/>
<path stroke="#008bfb" d="M431.6 667.2h0"/>
<path stroke="#6c54d6" d="M433.3 667.2h0m7.5 1.3h0m.8 1.3h0m.1-5.2h0m1-1.3h0m1.3 5.2h0m2.1-1.3h0"/>
<path stroke="#e50080" d="M441.1 667.2h0m1.2 0h0m.2 3.9h0m.9-6.5h0m1.2 1.3h0m.9 0h0m1 2.6h0m4.1-1.3h0m1.5 0h0"/>
<path stroke="#ff0051" d="M448 668.5h0m.3-1.3h0m3.1 0h0m.5 0h0m1.9 0h0"/>
<path stroke="#6c54d6" d="M428.1 667.2h0m1.5 0h0m1.8 0h0m5 0h0m.8 0h0m4.7-2.6h0m.7 3.9h0m1 0h0m1.7-1.3h0"/>
<path stroke="#e50080" d="M443.8 665.9h0m.7 2.6h0m.2-1.3h0m.5 2.6h0m1.8-2.6h0"/>
<path stroke="#a01fab" d="M440.4 668.5h0m2.8 2.6h0m.6-3.9h0m.2 3.9h0m.3-1.3h0m.1 1.3h0"/>
<path stroke="#008bfb" d="M422.3 667.2h0m6.1 0h0m.3 1.3h0m10.3 0h0"/>
<path stroke="#ff0051" d="M447.1 668.5h0m2.7-1.3h0"/>
<path stroke="#008bfb" d="M428.7 667.2h0m4.6 1.3h0m1.8-1.3h0m1.7 0h0m3.5 0h0"/>
<path stroke="#6c54d6" d="M442.2 665.9h0m.1 3.9h0m.8-2.6h0m.8-2.6h0m.3 0h0"/>
<path stroke="#e50080" d="M441.6 668.5h0m1.9-2.6h0m.5 1.3h0m.6-3.9h0m4.3 3.9h0"/>
<path stroke="#a01fab" d="M427.7 667.2h0m2.8 0h0m10.9 0h0m1.2-2.6h0m.2 6.5h0m.1-5.2h0m1.5-1.3h0"/>
<path stroke="#ff0051" d="M447.7 667.2h0m2.5 0h0m6.8 0h0"/>
<path stroke="#ff0051" d="M446.6 665.9h0m3.6 2.6h0m1.3 0h0m1.7-1.3h0"/>
<path stroke="#a01fab" d="M440.4 665.9h0m.3 1.3h0m1.2 0h0m3.2 1.3h0"/>
<path stroke="#e50080" d="M442.3 668.5h0m.8 1.3h0m.3-1.3h0m0 1.3h0m1.1 0h0m2.2-2.6h0m4.1 0h0"/>
<path stroke="#6c54d6" d="M430.4 668.5h0m6.9 0h0m1.6-1.3h0m1.5 2.6h0m2.5-1.3h0m.2-5.2h0"/>
<path stroke="#008bfb" d="M416.8 667.2h0m12.3-1.3h0m3.3 1.3h0m.4 0h0m1.7 0h0"/>
<path stroke="#008bfb" d="M435.3 681.8h0m2.6-.4h0m.8 .2h0m4.4 0h0m.1 .9h0m0-1.3h0m.1-3.5h0m0 4.1h0m.1-5h0m0 .5h0m0 3.4h0m0 5.4h0m.1-3.8h0m0 3.2h0m0-3h0m0-4.1h0m.1 2.5h0m.1 4.5h0m0-1.3h0m.3-3.2h0"/>
<path stroke="#ff0051" d="M446 681.6h0m1.4 0h0m5.4 0h0m1.7 .2h0m.3-.2h0m3.7 0h0"/>
<path stroke="#008bfb" d="M435.2 681.6h0m5.3 0h0m.5 0h0m1.9-.2h0m.5-3.2h0m.1-.4h0m0 2.2h0m0 1.2h0m.1 2.4h0m0-2h0m0-.5h0m0 1.8h0m0-4.9h0m.1-.5h0m0 3.9h0m0-1.6h0"/>
<path stroke="#ff0051" d="M445.2 681.6h0m.7 .2h0m1-.2h0m.2 .2h0m1.3 0h0m1.5-.2h0m.2 0h0m5.5 0h0m.7 0h0m27.7 0h0"/>
<path stroke="#ff0051" d="M450.2 681.4h0m.1 .4h0m.3-.2h0m1.9 .2h0m2.7-.2h0m8.8 0h0"/>
<path stroke="#008bfb" d="M436.2 681.6h0m.2 0h0m.6 .2h0m.1-.2h0m.9 0h0m2.1 0h0m3.1-.5h0m.1-.9h0m.1 4.8h0m0-1.1h0m.1-.7h0m.1-3.6h0m0 6.6h0m.1-7.5h0m0-.1h0m0 3h0m.1-1.1h0m0 2h0m.2-.2h0m.2-.3h0"/>
<path stroke="#008bfb" d="M436.9 681.8h0m1.3 0h0m.8-.2h0m3.9-.7h0m0 1.2h0m.1-.3h0m.2-2.9h0m.1 4.8h0m0-4.4h0m.1 3.7h0m0 1.3h0m0-7.2h0m.1 9.5h0m0-.9h0m.2-1.1h0m.1-2.8h0m.2-.6h0"/>
<path stroke="#ff0051" d="M446.4 681.6h0m2 0h0m.6 0h0m3.1 0h0m.1 .2h0m6.1-.2h0m2.2 0h0m15.5 0h0m1.7 0h0"/>
<path stroke="#6c54d6" d="M442.4 698.4h0m.1-4.8h0m.4-1.4h0m.2 7.1h0m.1-1.4h0m0-3.8h0"/>
<path stroke="#008bfb" d="M442.4 694.6h0m.1 1.9h0m.2 1.9h0m4.9-2.4h0m1.2 0h0m2.5 0h0"/>
<path stroke="#a01fab" d="M442.9 696.5h0m.3 .4h0m5.3-.4h0"/>
<path stroke="#ff0051" d="M432.7 696.5h0m.1-.5h0m1.5 .5h0m.3-.5h0m1.5 0h0m.2 0h0"/>
<path stroke="#ff0051" d="M413.2 696h0m20.4 .5h0m1.5-.5h0m1.9-.5h0m1.4 1h0m1.6 0h0"/>
<path stroke="#a01fab" d="M442 696.9h0m.5 .5h0m.2-.5h0m.2-1.8h0m.2-.5h0m1.2 1.9h0"/>
<path stroke="#6c54d6" d="M442.9 696h0m.4 .5h0"/>
<path stroke="#008bfb" d="M442.1 696.5h0m.4 2.3h0m.3 0h0m.2 1h0m.4-2.4h0m.1-2.8h0m1.7 1.4h0m3.1 0h0"/>
<path stroke="#008bfb" d="M442.4 696h0m.5-4.2h0m.7 5.1h0m.1-.9h0"/>
<path stroke="#6c54d6" d="M442.2 695.1h0m.6 2.3h0m.1-3.8h0m.6 4.8h0"/>
<path stroke="#ff0051" d="M431.1 696h0m1.4-.5h0m3 .5h0m1.2 0h0m2.4 0h0m.4 0h0m.3-.5h0m.2 .5h0"/>
<path stroke="#a01fab" d="M442.8 692.7h0m.3 8h0m.1-5.6h0m4.1 1.4h0m3.1-.5h0"/>
<path stroke="#008bfb" d="M442.3 695.5h0m.2-2.3h0m1 2.3h0m.3 1h0"/>
<path stroke="#6c54d6" d="M441.9 696h0m.5-1.9h0m.2 1.4h0m.2 2.4h0"/>
<path stroke="#ff0051" d="M432.2 696h0m1.9 0h0m2.9 .5h0m.3-.5h0m.9 0h0m2.6 .5h0m.4-.5h0"/>
<path stroke="#a01fab" d="M442.8 693.2h0m.2 7h0m0-4.7h0m.2 .5h0m.9 0h0m.5 0h0m.4 .5h0"/>
<path stroke="#a01fab" d="M433.2 710.4h0m7.5 0h0m.9-.6h0m0 1.2h0m1 .6h0m0-3.5h0m.1 1.1h0m.1 2.9h0m.4 1.2h0"/>
<path stroke="#6c54d6" d="M442.1 709.2h0"/>
<path stroke="#ff0051" d="M447.6 710.4h0"/>
<path stroke="#e50080" d="M446.6 711h0m.8-.6h0m.6 0h0m3.7 0h0"/>
<path stroke="#008bfb" d="M442.7 706.9h0m.8 2.9h0"/>
<path stroke="#a01fab" d="M442.2 711.6h0m.3 .5h0m.3 .6h0m.2-1.1h0m.4 .5h0"/>
<path stroke="#6c54d6" d="M438.7 711h0m3.6-.6h0m.7 2.3h0m.3-1.7h0"/>
<path stroke="#e50080" d="M444.3 711h0m7-.6h0m.6 .6h0m0-.6h0"/>
<path stroke="#008bfb" d="M443.1 709.8h0m.1-.6h0"/>
<path stroke="#ff0051" d="M444.6 710.4h0m4.6 0h0"/>
<path stroke="#6c54d6" d="M438.5 710.4h0m4.2 .6h0m.1 2.9h0m.1-7.5h0"/>
<path stroke="#008bfb" d="M441.9 710.4h0m.6-.6h0m0 1.2h0m0-1.8h0m.2 4.1h0m.1 1.1h0m.6-5.7h0"/>
<path stroke="#a01fab" d="M438.1 710.4h0m4.5-1.7h0m.3 1.1h0"/>
<path stroke="#ff0051" d="M446.7 710.4h0m1.8 0h0m2.8 .6h0"/>
<path stroke="#ff0051" d="M449.2 711h0"/>
<path stroke="#008bfb" d="M442.7 715h0m.5-4h0m17.3-.6h0"/>
<path stroke="#a01fab" d="M439 710.4h0m3.1 .6h0m.4 1.7h0m.2-5.2h0m.3 4.6h0m.1-1.7h0m.3 0h0"/>
<path stroke="#6c54d6" d="M440.1 710.4h0m2.5 0h0m.4-2.3h0"/>
<path stroke="#e50080" d="M447.1 710.4h0m5.2 0h0m.4 0h0"/>
<text x="324.60" y="583.65" font-size="7.50" text-anchor="end" font-weight="normal" fill="#262626" textLength="18.26" lengthAdjust="spacingAndGlyphs">UPSIT</text>
<text x="324.60" y="598.05" font-size="7.50" text-anchor="end" font-weight="normal" fill="#262626" textLength="12.27" lengthAdjust="spacingAndGlyphs">PRS</text>
<text x="324.60" y="612.45" font-size="7.50" text-anchor="end" font-weight="normal" fill="#262626" textLength="18.14" lengthAdjust="spacingAndGlyphs">MoCA</text>
<text x="324.60" y="626.85" font-size="7.50" text-anchor="end" font-weight="normal" fill="#262626" textLength="22.69" lengthAdjust="spacingAndGlyphs">RBDSQ</text>
<text x="324.60" y="641.25" font-size="7.50" text-anchor="end" font-weight="normal" fill="#262626" textLength="12.22" lengthAdjust="spacingAndGlyphs">SBP</text>
<text x="324.60" y="655.65" font-size="7.50" text-anchor="end" font-weight="normal" fill="#262626" textLength="21.23" lengthAdjust="spacingAndGlyphs">SCOPA</text>
<text x="324.60" y="670.05" font-size="7.50" text-anchor="end" font-weight="normal" fill="#262626" textLength="21.70" lengthAdjust="spacingAndGlyphs">HRSUP</text>
<text x="324.60" y="684.45" font-size="7.50" text-anchor="end" font-weight="normal" fill="#262626" textLength="44.29" lengthAdjust="spacingAndGlyphs">Family history</text>
<text x="324.60" y="698.85" font-size="7.50" text-anchor="end" font-weight="normal" fill="#262626" textLength="18.28" lengthAdjust="spacingAndGlyphs">SDMT</text>
<text x="324.60" y="713.25" font-size="7.50" text-anchor="end" font-weight="normal" fill="#262626" textLength="22.12" lengthAdjust="spacingAndGlyphs">Weight</text>
<text x="280.70" y="572.00" font-size="10.00" text-anchor="start" font-weight="bold" fill="#000">H</text>
<line x1="337.20" y1="724.40" x2="513.60" y2="724.40" stroke="#444" stroke-width="0.9"/>
<line x1="356.04" y1="724.40" x2="356.04" y2="726.20" stroke="#444" stroke-width="0.6"/>
<text x="356.04" y="732.58" font-size="6.60" text-anchor="middle" font-weight="normal" fill="#262626" textLength="12.41" lengthAdjust="spacingAndGlyphs">−0.6</text>
<line x1="384.96" y1="724.40" x2="384.96" y2="726.20" stroke="#444" stroke-width="0.6"/>
<text x="384.96" y="732.58" font-size="6.60" text-anchor="middle" font-weight="normal" fill="#262626" textLength="12.41" lengthAdjust="spacingAndGlyphs">−0.4</text>
<line x1="413.88" y1="724.40" x2="413.88" y2="726.20" stroke="#444" stroke-width="0.6"/>
<text x="413.88" y="732.58" font-size="6.60" text-anchor="middle" font-weight="normal" fill="#262626" textLength="12.41" lengthAdjust="spacingAndGlyphs">−0.2</text>
<line x1="442.80" y1="724.40" x2="442.80" y2="726.20" stroke="#444" stroke-width="0.6"/>
<text x="442.80" y="732.58" font-size="6.60" text-anchor="middle" font-weight="normal" fill="#262626" textLength="8.13" lengthAdjust="spacingAndGlyphs">0.0</text>
<line x1="471.72" y1="724.40" x2="471.72" y2="726.20" stroke="#444" stroke-width="0.6"/>
<text x="471.72" y="732.58" font-size="6.60" text-anchor="middle" font-weight="normal" fill="#262626" textLength="8.13" lengthAdjust="spacingAndGlyphs">0.2</text>
<line x1="500.64" y1="724.40" x2="500.64" y2="726.20" stroke="#444" stroke-width="0.6"/>
<text x="500.64" y="732.58" font-size="6.60" text-anchor="middle" font-weight="normal" fill="#262626" textLength="8.13" lengthAdjust="spacingAndGlyphs">0.4</text>
<text x="365.40" y="741.43" font-size="7.30" text-anchor="start" font-weight="normal" fill="#222" textLength="120.00" lengthAdjust="spacingAndGlyphs">SHAP value (impact on model output)</text>
<rect x="524.30" y="565.90" width="2.2" height="157.90" fill="url(#cb)"/>
<text x="528.20" y="568.58" font-size="6.60" text-anchor="start" font-weight="normal" fill="#1a1a1a" textLength="12.18" lengthAdjust="spacingAndGlyphs">High</text>
<text x="528.20" y="727.48" font-size="6.60" text-anchor="start" font-weight="normal" fill="#1a1a1a" textLength="10.44" lengthAdjust="spacingAndGlyphs">Low</text>
<text x="0" y="0" font-size="7.0" text-anchor="middle" fill="#222" transform="translate(546.40 645.45) rotate(-90)" textLength="43.00" lengthAdjust="spacingAndGlyphs">Feature value</text>
</svg></body></html>
